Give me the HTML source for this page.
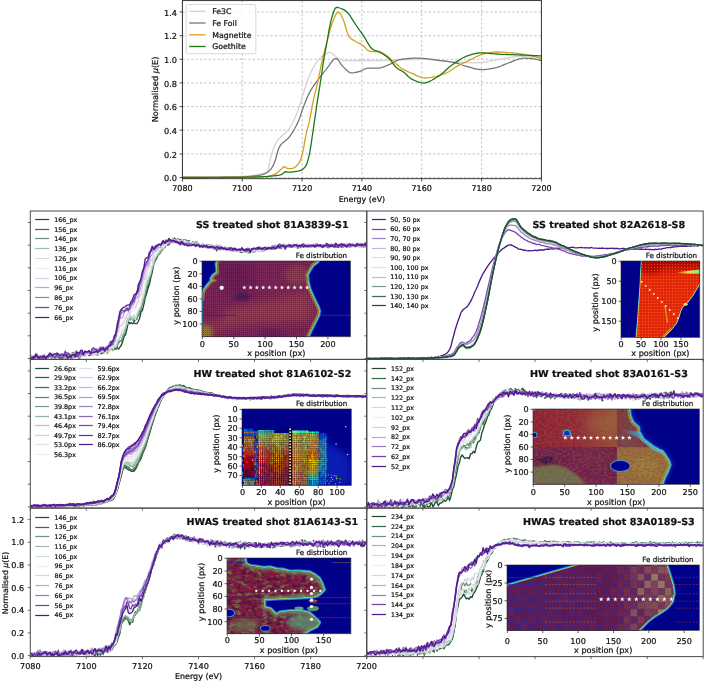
<!DOCTYPE html>
<html><head><meta charset="utf-8"><title>XANES</title>
<style>html,body{margin:0;padding:0;background:#fff;}svg{display:block;}</style></head>
<body><svg width="704" height="681" viewBox="0 0 704 681" font-family="'DejaVu Sans','Liberation Sans',sans-serif" fill="#111" text-rendering="geometricPrecision">
<style>text{stroke:#111;stroke-width:0.22px;}</style>
<rect width="704" height="681" fill="#fff"/>
<g stroke="#b0b0b0" stroke-width="0.8" stroke-dasharray="2.2,2.2" fill="none">
<line x1="182.4" y1="0.6" x2="182.4" y2="178.7"/>
<line x1="242.2" y1="0.6" x2="242.2" y2="178.7"/>
<line x1="302.1" y1="0.6" x2="302.1" y2="178.7"/>
<line x1="361.9" y1="0.6" x2="361.9" y2="178.7"/>
<line x1="421.7" y1="0.6" x2="421.7" y2="178.7"/>
<line x1="481.6" y1="0.6" x2="481.6" y2="178.7"/>
<line x1="541.4" y1="0.6" x2="541.4" y2="178.7"/>
<line x1="182.4" y1="177.5" x2="541.4" y2="177.5"/>
<line x1="182.4" y1="153.9" x2="541.4" y2="153.9"/>
<line x1="182.4" y1="130.2" x2="541.4" y2="130.2"/>
<line x1="182.4" y1="106.6" x2="541.4" y2="106.6"/>
<line x1="182.4" y1="82.9" x2="541.4" y2="82.9"/>
<line x1="182.4" y1="59.3" x2="541.4" y2="59.3"/>
<line x1="182.4" y1="35.7" x2="541.4" y2="35.7"/>
<line x1="182.4" y1="12.0" x2="541.4" y2="12.0"/>
</g>
<defs><clipPath id="ctop"><rect x="182.4" y="0.6" width="359.0" height="178.1"/></clipPath></defs>
<g fill="none" stroke-width="1.3" stroke-linejoin="round" clip-path="url(#ctop)">
<path d="M182.4 177.5l1.5 0l1.5 0l1.5 0l1.5 0l1.5 0l1.5 0l1.5 0l1.5-.1l1.5 0l1.5 0l1.5 0l1.5 0l1.4 0l1.5-.1l1.5 0l1.5 0l1.5 0l1.5 0l1.5-.1l1.5 0l1.5 0l1.5 0l1.5-.1l1.5 0l1.5 0l1.5-.1l1.5 0l1.5 0l1.5-.1l1.5 0l1.5 0l1.5-.1l1.5 0l1.5-.1l1.5 0l1.4-.1l1.5 0l1.5-.1l1.5-.1l1.5 0l1.5-.1l1.5-.1l1.5-.1l1.5-.1l1.5-.1l1.5-.2l1.5-.1l1.5-.3l1.5-.3l1.5-.3l1.5-.4l1.5-.3l1.5-.4l1.5-.3l1.5-.5l1.5-.7l1.5-1.5l1.5-6l1.5-7.3l1.5-4.8l1.4-4.1l1.5-3.7l1.5-2.9l1.5-2.2l1.5-1.7l1.5-1.4l1.5-1.2l1.5-1.2l1.5-1.3l1.5-1.6l1.5-1.9l1.5-2.3l1.5-2.5l1.5-2.7l1.5-3l1.5-3.3l1.5-4l1.5-4.5l1.5-4.7l1.5-4.7l1.5-4.7l1.5-5l1.5-4.7l1.4-4l1.5-3.6l1.5-3.4l1.5-3.1l1.5-2.8l1.5-2.4l1.5-2.1l1.5-1.9l1.5-1.7l1.5-1.5l1.5-1.3l1.5-.9l1.5-.9l1.5-.7l1.5-.5l1.5 0l1.5 .8l1.5 1.3l1.5 1.4l1.5 1.3l1.5 .8l1.5 .8l1.5 .7l1.5 .6l1.5 .4l1.4 .1l1.5 0l1.5 0l1.5 0l1.5 0l1.5 0l1.5 0l1.5 0l1.5 0l1.5 0l1.5 0l1.5 0l1.5 0l1.5-.1l1.5 0l1.5 0l1.5 0l1.5 0l1.5 0l1.5 0l1.5 0l1.5 0l1.5 0l1.4 0l1.5-.1l1.5 0l1.5 0l1.5-.1l1.5 0l1.5-.1l1.5 0l1.5-.1l1.5 0l1.5-.1l1.5 0l1.5-.1l1.5 0l1.5-.1l1.5-.1l1.5 0l1.5-.1l1.5 0l1.5-.1l1.5 0l1.5 0l1.5-.1l1.5 0l1.5 0l1.4-.1l1.5 0l1.5 0l1.5 0l1.5 0l1.5 0l1.5 .1l1.5 .1l1.5 .1l1.5 .1l1.5 .1l1.5 .2l1.5 .1l1.5 .2l1.5 .1l1.5 .2l1.5 .1l1.5 .2l1.5 .1l1.5 .2l1.5 .1l1.5 .2l1.5 .1l1.4 .1l1.5 .1l1.5 .1l1.5 .1l1.5 .1l1.5 .1l1.5 0l1.5 .1l1.5 .1l1.5 .1l1.5 .1l1.5 .1l1.5 0l1.5 .1l1.5 0l1.5 0l1.5 0l1.5 0l1.5-.1l1.5-.1l1.5-.1l1.5-.2l1.5-.3l1.5-.2l1.5-.3l1.4-.3l1.5-.3l1.5-.3l1.5-.3l1.5-.2l1.5-.3l1.5-.3l1.5-.2l1.5-.2l1.5-.3l1.5-.2l1.5-.3l1.5-.3l1.5-.3l1.5-.3l1.5-.2l1.5-.2l1.5-.2l1.5-.2l1.5-.1l1.5-.1l1.5-.1l1.5 .1l1.4 0l1.5 0l1.5 .1l1.5 0l1.5 .1l1.5 .2l1.5 .1l1.5 .1l1.5 .2l1.5 .2l1.5 .3l1.5 .2l1.5 .3" stroke="#d3d3d3"/>
<path d="M182.4 177.5l1.5 0l1.5 0l1.5 0l1.5 0l1.5 0l1.5 0l1.5 0l1.5 0l1.5 0l1.5 0l1.5 0l1.5 0l1.4-.1l1.5 0l1.5 0l1.5 0l1.5 0l1.5 0l1.5 0l1.5 0l1.5-.1l1.5 0l1.5 0l1.5 0l1.5 0l1.5 0l1.5-.1l1.5 0l1.5 0l1.5 0l1.5 0l1.5-.1l1.5 0l1.5 0l1.5 0l1.4-.1l1.5 0l1.5 0l1.5-.1l1.5 0l1.5 0l1.5-.1l1.5-.1l1.5-.1l1.5-.1l1.5-.1l1.5-.2l1.5-.2l1.5-.2l1.5-.2l1.5-.2l1.5-.3l1.5-.3l1.5-.4l1.5-.6l1.5-.8l1.5-.8l1.5-1.2l1.5-1.7l1.5-2.2l1.4-2.5l1.5-3.5l1.5-5.5l1.5-5.6l1.5-3.5l1.5-2l1.5-1.6l1.5-1.2l1.5-1.2l1.5-1.2l1.5-1.5l1.5-1.9l1.5-2.1l1.5-2.4l1.5-2.6l1.5-2.8l1.5-3.1l1.5-3.5l1.5-4.2l1.5-4.5l1.5-4.2l1.5-3.7l1.5-3.7l1.4-3.4l1.5-3.1l1.5-2.7l1.5-2.4l1.5-2.2l1.5-2.1l1.5-2l1.5-2l1.5-2.1l1.5-1.9l1.5-1.9l1.5-1.9l1.5-1.8l1.5-1.9l1.5-2.1l1.5-2.2l1.5-2.1l1.5-1.7l1.5-.9l1.5-.1l1.5 1.2l1.5 2l1.5 2.3l1.5 2l1.5 1.5l1.4 1.5l1.5 1.4l1.5 1.2l1.5 .9l1.5 .3l1.5-.1l1.5-.2l1.5-.3l1.5-.3l1.5-.4l1.5-.4l1.5-.7l1.5-.8l1.5-.7l1.5-.6l1.5-.2l1.5 0l1.5 0l1.5 0l1.5 0l1.5 0l1.5 0l1.5 0l1.4-.2l1.5-.3l1.5-.5l1.5-.5l1.5-.7l1.5-.6l1.5-.7l1.5-.6l1.5-.8l1.5-.9l1.5-.8l1.5-.8l1.5-.7l1.5-.4l1.5-.2l1.5-.3l1.5-.2l1.5-.2l1.5-.2l1.5-.1l1.5-.1l1.5-.1l1.5-.1l1.5-.1l1.5 0l1.4 0l1.5 .1l1.5 0l1.5 .1l1.5 .1l1.5 .2l1.5 .1l1.5 .2l1.5 .2l1.5 .1l1.5 .2l1.5 .2l1.5 .2l1.5 .2l1.5 .3l1.5 .2l1.5 .1l1.5 .2l1.5 .2l1.5 .2l1.5 .2l1.5 .2l1.5 .2l1.4 .3l1.5 .2l1.5 .3l1.5 .4l1.5 .4l1.5 .5l1.5 .5l1.5 .6l1.5 .5l1.5 .5l1.5 .4l1.5 .4l1.5 .4l1.5 .4l1.5 .5l1.5 .4l1.5 .3l1.5 .3l1.5 .3l1.5 .1l1.5 .1l1.5 0l1.5-.1l1.5-.2l1.5-.1l1.4-.2l1.5-.3l1.5-.2l1.5-.3l1.5-.3l1.5-.3l1.5-.5l1.5-.5l1.5-.6l1.5-.6l1.5-.7l1.5-.6l1.5-.6l1.5-.5l1.5-.6l1.5-.6l1.5-.6l1.5-.6l1.5-.6l1.5-.6l1.5-.5l1.5-.3l1.5-.3l1.4-.1l1.5 0l1.5 .1l1.5 0l1.5 .1l1.5 .1l1.5 .1l1.5 .2l1.5 .3l1.5 .3l1.5 .4l1.5 .5l1.5 .5" stroke="#777777"/>
<path d="M182.4 177.5l1.5 0l1.5 0l1.5 0l1.5 0l1.5 0l1.5 0l1.5 0l1.5 0l1.5 0l1.5 0l1.5 0l1.5 0l1.4 0l1.5 0l1.5-.1l1.5 0l1.5 0l1.5 0l1.5 0l1.5 0l1.5 0l1.5 0l1.5 0l1.5 0l1.5-.1l1.5 0l1.5 0l1.5 0l1.5 0l1.5 0l1.5 0l1.5 0l1.5-.1l1.5 0l1.5 0l1.4 0l1.5 0l1.5 0l1.5 0l1.5-.1l1.5 0l1.5 0l1.5 0l1.5 0l1.5 0l1.5-.1l1.5 0l1.5 0l1.5-.1l1.5 0l1.5 0l1.5-.1l1.5 0l1.5-.1l1.5-.1l1.5 0l1.5-.2l1.5-.3l1.5-.4l1.5-.5l1.4-.6l1.5-.6l1.5-.9l1.5-1.2l1.5-1.4l1.5-1.3l1.5-1.5l1.5-1.1l1.5 .5l1.5 1.3l1.5 .2l1.5 0l1.5 0l1.5-.3l1.5-.9l1.5-1.1l1.5-1.4l1.5-2l1.5-3l1.5-5.1l1.5-6.6l1.5-8.9l1.5-7.2l1.4-5.2l1.5-6l1.5-7.8l1.5-8.4l1.5-7.1l1.5-6.3l1.5-6.2l1.5-6.8l1.5-7.5l1.5-7.5l1.5-6.5l1.5-5.9l1.5-5.6l1.5-5.6l1.5-5.9l1.5-5.5l1.5-4.5l1.5-3.8l1.5-3.7l1.5-2.8l1.5-1.4l1.5 .6l1.5 2.3l1.5 3l1.5 3.4l1.4 4.9l1.5 5l1.5 4.1l1.5 2.2l1.5 1.3l1.5 1l1.5 .9l1.5 .9l1.5 .8l1.5 .7l1.5 .7l1.5 .8l1.5 1.1l1.5 1.5l1.5 1.6l1.5 1.5l1.5 .9l1.5 .2l1.5 0l1.5 0l1.5 0l1.5 0l1.5 0l1.4 .2l1.5 .6l1.5 .8l1.5 1l1.5 1l1.5 1l1.5 1.2l1.5 1.3l1.5 1.3l1.5 1.3l1.5 1.3l1.5 1.4l1.5 1.3l1.5 1.3l1.5 1.2l1.5 1.1l1.5 .8l1.5 .8l1.5 .7l1.5 .7l1.5 .7l1.5 .6l1.5 .6l1.5 .6l1.5 .8l1.4 .7l1.5 .7l1.5 .7l1.5 .4l1.5 .3l1.5 .1l1.5-.1l1.5-.1l1.5-.2l1.5-.2l1.5-.2l1.5-.3l1.5-.2l1.5-.3l1.5-.4l1.5-.5l1.5-.5l1.5-.6l1.5-.6l1.5-.6l1.5-.7l1.5-.8l1.5-.9l1.4-1l1.5-1l1.5-1l1.5-.9l1.5-.8l1.5-.8l1.5-.8l1.5-.8l1.5-.7l1.5-.7l1.5-.8l1.5-.7l1.5-.7l1.5-.8l1.5-.8l1.5-.7l1.5-.8l1.5-.7l1.5-.7l1.5-.6l1.5-.6l1.5-.4l1.5-.3l1.5-.3l1.5-.3l1.4-.3l1.5-.3l1.5-.2l1.5-.2l1.5-.1l1.5 0l1.5 0l1.5 0l1.5 .1l1.5 0l1.5 .1l1.5 .1l1.5 .2l1.5 .1l1.5 .1l1.5 .2l1.5 .1l1.5 .2l1.5 .1l1.5 .2l1.5 .2l1.5 .2l1.5 .2l1.4 .2l1.5 .3l1.5 .2l1.5 .3l1.5 .3l1.5 .3l1.5 .3l1.5 .3l1.5 .4l1.5 .5l1.5 .4l1.5 .5l1.5 .5" stroke="#d4a020"/>
<path d="M182.4 177.5l1.5 0l1.5 0l1.5 0l1.5 0l1.5 0l1.5 0l1.5 0l1.5 0l1.5 0l1.5 0l1.5 0l1.5 0l1.4 0l1.5 0l1.5 0l1.5 0l1.5 0l1.5 0l1.5-.1l1.5 0l1.5 0l1.5 0l1.5 0l1.5 0l1.5 0l1.5 0l1.5 0l1.5 0l1.5 0l1.5 0l1.5 0l1.5-.1l1.5 0l1.5 0l1.5 0l1.4 0l1.5 0l1.5 0l1.5 0l1.5 0l1.5-.1l1.5 0l1.5 0l1.5 0l1.5-.1l1.5 0l1.5 0l1.5-.1l1.5 0l1.5-.1l1.5 0l1.5-.1l1.5 0l1.5-.1l1.5-.1l1.5 0l1.5-.1l1.5-.1l1.5-.2l1.5-.1l1.4-.2l1.5-.2l1.5-.2l1.5-.2l1.5-.2l1.5-.4l1.5-.8l1.5-1.5l1.5-.8l1.5 .2l1.5 .3l1.5 .1l1.5-.1l1.5-.3l1.5-.2l1.5-.2l1.5-.2l1.5-.3l1.5-.5l1.5-.7l1.5-1.2l1.5-1.6l1.5-2.3l1.4-4.6l1.5-6.2l1.5-9l1.5-10.1l1.5-10.3l1.5-10.4l1.5-10.3l1.5-9.5l1.5-9.2l1.5-10l1.5-10.5l1.5-9.1l1.5-8.1l1.5-8.3l1.5-8.8l1.5-7.6l1.5-5.5l1.5-5.1l1.5-3.6l1.5-1.1l1.5 .2l1.5 .5l1.5 .5l1.5 .6l1.5 .8l1.4 1l1.5 1.1l1.5 1.5l1.5 2l1.5 2.3l1.5 2.5l1.5 2.4l1.5 2.3l1.5 2.2l1.5 2.1l1.5 2.1l1.5 2.1l1.5 2.1l1.5 2.3l1.5 2.6l1.5 2.7l1.5 2.5l1.5 2.1l1.5 1.3l1.5 .9l1.5 .6l1.5 .6l1.5 .5l1.4 .6l1.5 .8l1.5 .9l1.5 1l1.5 1.1l1.5 1.1l1.5 1.3l1.5 1.4l1.5 1.9l1.5 2.2l1.5 2l1.5 1.6l1.5 1.1l1.5 .9l1.5 .8l1.5 .8l1.5 1.1l1.5 1.3l1.5 1.4l1.5 1.5l1.5 1.3l1.5 1.1l1.5 .8l1.5 .7l1.5 .6l1.4 .7l1.5 .5l1.5 .4l1.5 .2l1.5 .1l1.5-.1l1.5-.3l1.5-.4l1.5-.6l1.5-.7l1.5-.8l1.5-.9l1.5-.9l1.5-.9l1.5-.9l1.5-1l1.5-1.1l1.5-1.2l1.5-1.4l1.5-1.4l1.5-1.4l1.5-1.3l1.5-1.3l1.4-1.1l1.5-1l1.5-1.1l1.5-1l1.5-1l1.5-1l1.5-.9l1.5-.9l1.5-.8l1.5-.7l1.5-.6l1.5-.5l1.5-.5l1.5-.5l1.5-.5l1.5-.4l1.5-.3l1.5-.3l1.5-.2l1.5-.1l1.5 0l1.5 .1l1.5 0l1.5 .1l1.5 .1l1.4 .1l1.5 .2l1.5 .1l1.5 .1l1.5 .2l1.5 .1l1.5 .1l1.5 .1l1.5 .1l1.5 0l1.5 .1l1.5 0l1.5 .1l1.5 .1l1.5 0l1.5 .1l1.5 0l1.5 .1l1.5 0l1.5 .1l1.5 0l1.5 .1l1.5 0l1.4 .1l1.5 .1l1.5 0l1.5 .1l1.5 .1l1.5 0l1.5 .1l1.5 .1l1.5 .1l1.5 0l1.5 .1l1.5 .1l1.5 .1" stroke="#1a7a1a"/>
</g>
<rect x="182.4" y="0.6" width="359.0" height="178.1" fill="none" stroke="#222" stroke-width="0.9"/>
<g stroke="#222" stroke-width="0.8">
<line x1="182.4" y1="178.7" x2="182.4" y2="181.5"/>
<line x1="242.2" y1="178.7" x2="242.2" y2="181.5"/>
<line x1="302.1" y1="178.7" x2="302.1" y2="181.5"/>
<line x1="361.9" y1="178.7" x2="361.9" y2="181.5"/>
<line x1="421.7" y1="178.7" x2="421.7" y2="181.5"/>
<line x1="481.6" y1="178.7" x2="481.6" y2="181.5"/>
<line x1="541.4" y1="178.7" x2="541.4" y2="181.5"/>
<line x1="179.6" y1="177.5" x2="182.4" y2="177.5"/>
<line x1="179.6" y1="153.9" x2="182.4" y2="153.9"/>
<line x1="179.6" y1="130.2" x2="182.4" y2="130.2"/>
<line x1="179.6" y1="106.6" x2="182.4" y2="106.6"/>
<line x1="179.6" y1="82.9" x2="182.4" y2="82.9"/>
<line x1="179.6" y1="59.3" x2="182.4" y2="59.3"/>
<line x1="179.6" y1="35.7" x2="182.4" y2="35.7"/>
<line x1="179.6" y1="12.0" x2="182.4" y2="12.0"/>
</g>
<g font-family="'DejaVu Sans','Liberation Sans',sans-serif" font-size="8.0" fill="#111">
<text x="182.4" y="190.6" text-anchor="middle">7080</text>
<text x="242.2" y="190.6" text-anchor="middle">7100</text>
<text x="302.1" y="190.6" text-anchor="middle">7120</text>
<text x="361.9" y="190.6" text-anchor="middle">7140</text>
<text x="421.7" y="190.6" text-anchor="middle">7160</text>
<text x="481.6" y="190.6" text-anchor="middle">7180</text>
<text x="541.4" y="190.6" text-anchor="middle">7200</text>
<text x="177.0" y="181.2" text-anchor="end" font-size="8.2">0.0</text>
<text x="177.0" y="157.6" text-anchor="end" font-size="8.2">0.2</text>
<text x="177.0" y="133.9" text-anchor="end" font-size="8.2">0.4</text>
<text x="177.0" y="110.3" text-anchor="end" font-size="8.2">0.6</text>
<text x="177.0" y="86.6" text-anchor="end" font-size="8.2">0.8</text>
<text x="177.0" y="63.0" text-anchor="end" font-size="8.2">1.0</text>
<text x="177.0" y="39.4" text-anchor="end" font-size="8.2">1.2</text>
<text x="177.0" y="15.7" text-anchor="end" font-size="8.2">1.4</text>
</g>
<text x="361.9" y="201.8" text-anchor="middle" font-family="'DejaVu Sans','Liberation Sans',sans-serif" font-size="7.9" fill="#111">Energy (eV)</text>
<text transform="translate(158.0 89.4) rotate(-90)" text-anchor="middle" font-family="'DejaVu Sans','Liberation Sans',sans-serif" font-size="8.2" fill="#111">Normalised <tspan font-style="italic">μ</tspan>(E)</text>
<rect x="186.2" y="4.5" width="69.6" height="49.2" rx="1.5" fill="#fff" fill-opacity="0.8" stroke="#d0d0d0" stroke-width="0.8"/>
<line x1="189.2" y1="11.3" x2="205.6" y2="11.3" stroke="#d3d3d3" stroke-width="1.3"/>
<text x="212.2" y="14.1" font-family="'DejaVu Sans','Liberation Sans',sans-serif" font-size="7.8" fill="#111">Fe3C</text>
<line x1="189.2" y1="23.0" x2="205.6" y2="23.0" stroke="#777777" stroke-width="1.3"/>
<text x="212.2" y="25.8" font-family="'DejaVu Sans','Liberation Sans',sans-serif" font-size="7.8" fill="#111">Fe Foil</text>
<line x1="189.2" y1="34.8" x2="205.6" y2="34.8" stroke="#d4a020" stroke-width="1.3"/>
<text x="212.2" y="37.6" font-family="'DejaVu Sans','Liberation Sans',sans-serif" font-size="7.8" fill="#111">Magnetite</text>
<line x1="189.2" y1="46.5" x2="205.6" y2="46.5" stroke="#1a7a1a" stroke-width="1.3"/>
<text x="212.2" y="49.3" font-family="'DejaVu Sans','Liberation Sans',sans-serif" font-size="7.8" fill="#111">Goethite</text>
<defs>
<clipPath id="cp0"><rect x="30.3" y="211.0" width="336.3" height="148.4"/></clipPath>
<clipPath id="cp1"><rect x="366.9" y="211.0" width="336.3" height="148.4"/></clipPath>
<clipPath id="cp2"><rect x="30.3" y="359.4" width="336.3" height="148.7"/></clipPath>
<clipPath id="cp3"><rect x="366.9" y="359.4" width="336.3" height="148.7"/></clipPath>
<clipPath id="cp4"><rect x="30.3" y="508.1" width="336.3" height="148.5"/></clipPath>
<clipPath id="cp5"><rect x="366.9" y="508.1" width="336.3" height="148.5"/></clipPath>
</defs>
<g fill="none" stroke-width="1.35" stroke-linejoin="round" clip-path="url(#cp0)">
<path d="M30.3 357.9l1.4-.5l1.4 .9l1.4 1l1.4-.8l1.4 .9l1.4-1.8l1.4-2l1.4 2.8l1.4 .2l1.4-1.9l1.4 .2l1.4 .3l1.4 1.6l1.4-1.5l1.4-1.2l1.4 3.1l1.4-1.4l1.4 2.2l1.4-1.1l1.4 .8l1.4-2.6l1.4 1.5l1.4-2.5l1.4 .1l1.4 .4l1.4 3.6l1.4-3.3l1.4-.9l1.4-.4l1.4 2.5l1.4-1.8l1.4 .6l1.4-.4l1.4-3.1l1.4 2.8l1.4-1.4l1.4-1.6l1.4 2.2l1.4-.9l1.5-.5l1.4-.1l1.4 1.8l1.4-2.2l1.4-2.3l1.4 4.4l1.4-4l1.4 1l1.4 .9l1.4-4.4l1.4 1.7l1.4 2.9l1.4-2.3l1.4-1l1.4 .9l1.4-1.6l1.4 .9l1.4-1.5l1.4-1.5l1.4 2.9l1.4-1.8l1.4 .6l1.4-1.5l1.4 1.3l1.4-2.1l1.4-2l1.4-3.9l1.4-5.1l1.4-1.2l1.4-6.2l1.4-7.4l1.4 2.6l1.4-1.2l1.4 1.2l1.4-.9l1.4 .7l1.4 .1l1.4-2.2l1.4-3l1.4-6.3l1.4-1.9l1.4-5.8l1.4-6.6l1.4-4.4l1.4-5.1l1.4-3.8l1.4-7l1.4-5.1l1.4-8.1l1.4-3.3l1.4-2.4l1.4-3.2l1.4-1.2l1.4-3.3l1.4-.9l1.4-2.5l1.4-.1l1.4-3.1l1.4 .8l1.4-.6l1.4-2.5l1.4-.2l1.4-1.6l1.4-2.3l1.4 2.9l1.4-.2l1.4-.8l1.4-.2l1.4 .7l1.4 .2l1.4-.8l1.4 .3l1.4 1.6l1.4-.7l1.4 .2l1.4 1.5l1.4-.8l1.4 1.5l1.4-1.2l1.4 1.2l1.5 .6l1.4 1l1.4-.1l1.4 2l1.4-.5l1.4-1.2l1.4 2.6l1.4-2.6l1.4 2.7l1.4-2.2l1.4 1.7l1.4-1.3l1.4 .8l1.4 1.8l1.4-2.5l1.4 0l1.4 1.6l1.4 .4l1.4 .1l1.4 1l1.4-1.8l1.4 1.8l1.4-.2l1.4 .9l1.4 .1l1.4 .9l1.4-2.1l1.4 1.6l1.4-.8l1.4 1.1l1.4 .9l1.4-.2l1.4 .3l1.4-.4l1.4 .4l1.4-.1l1.4 .9l1.4-.6l1.4-2.5l1.4 2.1l1.4 .1l1.4-1.5l1.4-1.2l1.4 2.5l1.4-1.4l1.4 .1l1.4 .9l1.4-2.6l1.4 .5l1.4-.3l1.4 .6l1.4-1.3l1.4 .7l1.4-.6l1.4 .8l1.4-.1l1.4-2.7l1.4 1.6l1.4-.9l1.4 .1l1.4 .2l1.4-.1l1.4-1.2l1.4 .8l1.4-.2l1.4-.2l1.4-1.1l1.4 .4l1.4 .3l1.4 .9l1.4 .7l1.4-2.2l1.4-.1l1.4 1.1l1.4-.7l1.4-.3l1.4 0l1.4-.1l1.4 1.3l1.4-1.9l1.5 2.6l1.4-2l1.4 .3l1.4-.4l1.4-.9l1.4 .3l1.4 2.5l1.4 .5l1.4-2.4l1.4 1.7l1.4-1l1.4-.8l1.4 2.4l1.4 .4l1.4-2.3l1.4 .2l1.4 .3l1.4-.3l1.4 .8l1.4 .6l1.4-1.3l1.4 .7l1.4 .7l1.4-2.1l1.4 .5l1.4-.4l1.4 1.3l1.4-.4l1.4 .3l1.4-.1l1.4-1l1.4 .9l1.4-1.1l1.4 0l1.4-1.7l1.4 3.3l1.4-2.2l1.4 .9l1.4-.1l1.4 1.4l1.4-1" stroke="#1e4d32"/>
<path d="M30.3 358.0l1.4-.3l1.4 .6l1.4-2.4l1.4 1.9l1.4 3.4l1.4-2.5l1.4 2l1.4 2l1.4-4.4l1.4-3l1.4 2l1.4 1.9l1.4-.5l1.4-3.3l1.4 1.4l1.4 .1l1.4 .1l1.4-.2l1.4-1.3l1.4 .3l1.4 .5l1.4 1.9l1.4-2.6l1.4 1.8l1.4-2.9l1.4 3.6l1.4-1.9l1.4-.3l1.4 1.9l1.4-5l1.4 .3l1.4 2.9l1.4-2.1l1.4 .5l1.4 4.6l1.4-4.7l1.4 .3l1.4-.4l1.4 1.7l1.5-1.5l1.4-.3l1.4-2.4l1.4 1.2l1.4 .3l1.4-2.6l1.4 3.1l1.4-.5l1.4 2l1.4-5.6l1.4 .7l1.4-.2l1.4 .1l1.4 .7l1.4-.5l1.4 .4l1.4-.4l1.4-.8l1.4-2.9l1.4 .9l1.4 .2l1.4-.1l1.4-1.2l1.4-5.2l1.4 .1l1.4-1.2l1.4-1.8l1.4-3.5l1.4-6.8l1.4-6.7l1.4-3l1.4-2l1.4 .8l1.4 1l1.4 3.8l1.4-2.4l1.4-.3l1.4-4.9l1.4 .1l1.4-5.4l1.4-6.2l1.4-2.4l1.4-4.7l1.4-6.1l1.4-4.6l1.4-3.3l1.4-7.2l1.4-7.9l1.4-1.6l1.4-4.4l1.4-2.1l1.4-3.7l1.4-.6l1.4-2l1.4-4.1l1.4 .3l1.4-3.6l1.4-1.9l1.4 .1l1.4-1.1l1.4-2.2l1.4 1.4l1.4-.1l1.4 .4l1.4-1.3l1.4-1.3l1.4 .5l1.4 1.9l1.4 0l1.4-.2l1.4-.6l1.4 .6l1.4-.3l1.4 .1l1.4 .9l1.4 .2l1.4 .2l1.4 .7l1.4-.1l1.4-.8l1.5 1.6l1.4 .9l1.4 2l1.4-1.7l1.4 2.4l1.4-.2l1.4-2l1.4 .4l1.4 1l1.4 1.7l1.4-1.1l1.4 .5l1.4-1l1.4-1.4l1.4 2.1l1.4 1.2l1.4 .5l1.4-.8l1.4 .3l1.4 1.1l1.4-1l1.4 1.4l1.4-1.9l1.4 .3l1.4 .2l1.4 1.8l1.4-.7l1.4 .8l1.4 .5l1.4 .2l1.4 1.1l1.4 .3l1.4-2.1l1.4 1l1.4-.3l1.4-.8l1.4 2.5l1.4-1l1.4-1l1.4-.4l1.4 .6l1.4-1.5l1.4 .5l1.4 1.2l1.4-.5l1.4-1.9l1.4 .1l1.4 2l1.4-3.3l1.4 .5l1.4-.9l1.4 1.5l1.4-.3l1.4 .6l1.4-3.6l1.4 2.3l1.4-1.8l1.4 1.9l1.4-1l1.4 1.6l1.4-1.4l1.4-1.4l1.4 2l1.4-2.3l1.4 .6l1.4 1.3l1.4-.5l1.4-.1l1.4-.4l1.4 .4l1.4 .3l1.4-.6l1.4 .7l1.4 .2l1.4-1.2l1.4-.9l1.4 2.3l1.4-1.5l1.4 .6l1.4 .3l1.5-1.7l1.4 1.3l1.4-2l1.4 2.2l1.4-1.1l1.4 .5l1.4 .5l1.4-1.3l1.4 .7l1.4-.7l1.4 .6l1.4 1l1.4-1l1.4-.2l1.4-.9l1.4 1.8l1.4-.8l1.4 1.5l1.4-2.2l1.4 1.6l1.4 .7l1.4-1.7l1.4-1.1l1.4 2.4l1.4-.4l1.4-.3l1.4 .3l1.4-1.5l1.4 1.2l1.4-.1l1.4-1.3l1.4 1.3l1.4-1.2l1.4 1.3l1.4 .2l1.4 .6l1.4-3.5l1.4 2l1.4-.5l1.4 .2l1.4-.2" stroke="#3a6a4c"/>
<path d="M30.3 354.7l1.4 4.7l1.4 .8l1.4-.9l1.4 .5l1.4-3.4l1.4-.1l1.4 2.7l1.4 .7l1.4-1.7l1.4-2.9l1.4 6.7l1.4-5.4l1.4 2.5l1.4-3.5l1.4 3.3l1.4-1.3l1.4 1.9l1.4-1l1.4-3.8l1.4 .8l1.4 1.9l1.4 .6l1.4 1.6l1.4-2.5l1.4-.7l1.4 0l1.4-.2l1.4 1.5l1.4-1.8l1.4-.2l1.4-2.2l1.4-1.1l1.4 3.1l1.4 .8l1.4-1.3l1.4 .7l1.4 .1l1.4-1.3l1.4 1.4l1.5-2.8l1.4 1l1.4-.8l1.4 .5l1.4 .7l1.4 .1l1.4-1.4l1.4 .3l1.4-1.5l1.4 .1l1.4 1.9l1.4-2.5l1.4 1.9l1.4-1.4l1.4-.8l1.4 2.5l1.4-3.8l1.4-.6l1.4-.1l1.4-.3l1.4-.9l1.4-.1l1.4-2.8l1.4-1.5l1.4-2.7l1.4 .3l1.4-4.5l1.4-4.1l1.4-4l1.4-4.2l1.4-6l1.4 1.9l1.4-2.8l1.4 1.5l1.4 .6l1.4-.7l1.4 0l1.4-3.1l1.4-4.4l1.4-3.4l1.4-4.6l1.4-2.7l1.4-8.5l1.4-5.9l1.4-4.6l1.4-3.6l1.4-1.9l1.4-9.1l1.4-3.2l1.4-1.8l1.4-5.6l1.4-.5l1.4-2.1l1.4-2.4l1.4-3.6l1.4-.1l1.4-2.3l1.4-2.8l1.4-.9l1.4 .9l1.4-.6l1.4 .3l1.4-1l1.4-1.3l1.4 .1l1.4 .3l1.4-.7l1.4 1.8l1.4-.6l1.4-.6l1.4 .2l1.4-.3l1.4 .8l1.4 .9l1.4-.4l1.4 1.7l1.4 1.1l1.4-1.7l1.4 1l1.4 .1l1.5 2.4l1.4-1l1.4 .5l1.4 .5l1.4 1.6l1.4-1.6l1.4-1l1.4 .7l1.4 1.2l1.4-.4l1.4-.5l1.4 3.5l1.4-2.3l1.4-.5l1.4 .1l1.4-.8l1.4 .7l1.4 1l1.4 .2l1.4-.2l1.4 1.4l1.4-.2l1.4-.7l1.4-.8l1.4 2.3l1.4 .1l1.4 0l1.4-.8l1.4 1.5l1.4-1.2l1.4 2.5l1.4-.6l1.4 .1l1.4-.9l1.4-.2l1.4 2.4l1.4-.6l1.4-1.3l1.4 .8l1.4 .7l1.4-2.6l1.4 .3l1.4-.2l1.4 .7l1.4-1.7l1.4 1l1.4-1.5l1.4 1.7l1.4-.2l1.4-1.2l1.4 .7l1.4-1.5l1.4 .2l1.4 .9l1.4-1.1l1.4 .2l1.4-1.4l1.4 1.2l1.4-.3l1.4-1.8l1.4-1.1l1.4 .1l1.4 1.7l1.4-.2l1.4-1.3l1.4 1.5l1.4 .8l1.4-1.1l1.4-.3l1.4 1.2l1.4 .7l1.4-.2l1.4-2l1.4 1.3l1.4-.6l1.4-.3l1.4-.4l1.4 .8l1.4-.8l1.4 1.3l1.5-.5l1.4 .6l1.4-2l1.4 1.1l1.4 .6l1.4-.3l1.4-.2l1.4-.9l1.4 2.2l1.4-.6l1.4-.6l1.4-2.8l1.4 1.5l1.4 1l1.4-.8l1.4-1.3l1.4 2.1l1.4 .2l1.4-1.6l1.4 .7l1.4-.2l1.4 1.1l1.4-2.3l1.4 .2l1.4 1l1.4-.1l1.4 2.6l1.4-2.6l1.4 .8l1.4-.6l1.4-.3l1.4 1l1.4 1.2l1.4-1.9l1.4 1l1.4-.4l1.4 .2l1.4-.2l1.4 1.8l1.4-3.4l1.4 .9" stroke="#6a977a"/>
<path d="M30.3 354.5l1.4 3.1l1.4 2.9l1.4-1.5l1.4 .5l1.4-1.2l1.4-.9l1.4 3.2l1.4-3.8l1.4 2.9l1.4-2.9l1.4 .6l1.4 .2l1.4-.4l1.4 .7l1.4 0l1.4 1.6l1.4-2.7l1.4-3l1.4-.3l1.4 1l1.4 .8l1.4 2.1l1.4-3.4l1.4 2.3l1.4-.1l1.4 .2l1.4-.7l1.4 .7l1.4-.7l1.4 1.4l1.4-1.3l1.4-4.3l1.4 3.6l1.4 .1l1.4-1.4l1.4-.4l1.4 2.7l1.4-1.6l1.4-2l1.5 .8l1.4 .1l1.4-2.5l1.4 3.4l1.4-1.5l1.4 .8l1.4-3.5l1.4 5.3l1.4-2.3l1.4-.5l1.4-2.2l1.4-.2l1.4-1.5l1.4 4.4l1.4-4l1.4 1.3l1.4 .1l1.4-2.4l1.4 1.7l1.4 .9l1.4-3.7l1.4 .4l1.4-3.5l1.4-4.1l1.4-1.8l1.4-3.9l1.4 .7l1.4-1.8l1.4-5.4l1.4-4.1l1.4-3.6l1.4-4.2l1.4 2.1l1.4 2.8l1.4-3.8l1.4 .6l1.4-2.6l1.4-2.1l1.4-4l1.4-2.9l1.4-6.9l1.4-4l1.4-5.2l1.4-4.8l1.4-1.8l1.4-6.6l1.4-4.4l1.4-5.6l1.4-2.2l1.4-7.5l1.4-1.1l1.4-.9l1.4-1.4l1.4-3.1l1.4-1.8l1.4-1l1.4-2.3l1.4-.6l1.4-2.2l1.4 .5l1.4-1.3l1.4-1.5l1.4-1.9l1.4 3.2l1.4-.5l1.4 .5l1.4-1.4l1.4 1.9l1.4-.5l1.4-.3l1.4 1.1l1.4 .1l1.4-.3l1.4 1.7l1.4-.3l1.4-.6l1.4-.1l1.4 .7l1.4 2l1.4-.9l1.5-.8l1.4 .6l1.4 .8l1.4 1.1l1.4-1.3l1.4 1.4l1.4 .8l1.4-.2l1.4-1.9l1.4 1.3l1.4-.7l1.4 1.8l1.4-1.2l1.4 1.7l1.4-.3l1.4-2.3l1.4 1.8l1.4 1.4l1.4-.2l1.4-.2l1.4-.6l1.4 1.8l1.4 1.4l1.4-1.1l1.4-.1l1.4 .2l1.4-.9l1.4 1.1l1.4-.2l1.4 2l1.4-1.7l1.4-1.1l1.4 1.4l1.4 .5l1.4 .1l1.4-1.5l1.4 2.5l1.4-.9l1.4-.7l1.4-.4l1.4 1l1.4-.9l1.4 .3l1.4-.6l1.4 .1l1.4 .7l1.4-1.3l1.4-1l1.4 1.5l1.4-.9l1.4-1l1.4 1.5l1.4-1.4l1.4 1l1.4-2.3l1.4-1.3l1.4 .1l1.4 1.9l1.4-1.1l1.4 .4l1.4-.1l1.4-1.5l1.4 2.6l1.4-2.3l1.4 1l1.4-1.5l1.4 1.2l1.4 .8l1.4-1l1.4-.4l1.4 .6l1.4-.4l1.4 .9l1.4 1.5l1.4-2.9l1.4 .2l1.4 .5l1.4 0l1.4-.9l1.4 1.4l1.5 .2l1.4-.5l1.4-1.3l1.4 2.5l1.4-2.5l1.4 1.7l1.4 .4l1.4-2.2l1.4 1.3l1.4 1.1l1.4-.9l1.4-1.3l1.4-.2l1.4 1.5l1.4-.8l1.4-.3l1.4 1.2l1.4-.9l1.4 .3l1.4 .5l1.4-.1l1.4-.5l1.4 0l1.4 .5l1.4-.1l1.4-1.5l1.4 .8l1.4-.6l1.4-.3l1.4 .5l1.4-1.6l1.4 2.9l1.4-1.5l1.4 1l1.4-2.1l1.4 .1l1.4 3.5l1.4-.9l1.4-1.6l1.4-.2l1.4 .1" stroke="#9cbfa8"/>
<path d="M30.3 356.9l1.4-.4l1.4 1.2l1.4-1.8l1.4 5.2l1.4-4.7l1.4 2.6l1.4-3.2l1.4 1.9l1.4 1l1.4-2.1l1.4 2l1.4-.1l1.4 1l1.4-2.5l1.4-.9l1.4-1l1.4 1.8l1.4-1.9l1.4 1.5l1.4 .1l1.4-1.1l1.4-.9l1.4 2.1l1.4-.2l1.4-.3l1.4-.5l1.4 1.4l1.4-3.1l1.4 2.1l1.4-1.5l1.4 1.9l1.4-2.1l1.4-.2l1.4 1.2l1.4-4.1l1.4 2.5l1.4-2.4l1.4 1.1l1.4 2.4l1.5-.6l1.4-1.5l1.4 .4l1.4-.2l1.4 .3l1.4 2.2l1.4-2.8l1.4 2.9l1.4-4.4l1.4 1.5l1.4-.3l1.4-1.1l1.4-1.1l1.4 2.4l1.4 .2l1.4-1.5l1.4 1.1l1.4-2.3l1.4-4.8l1.4 3.2l1.4-3.9l1.4 1.7l1.4-5.3l1.4-1.9l1.4-2.4l1.4-2.9l1.4-3.9l1.4-.9l1.4-3.4l1.4-2l1.4-6.1l1.4-.1l1.4-1.7l1.4 1.8l1.4-2.9l1.4 4.9l1.4-4.8l1.4-4.8l1.4-1.5l1.4-3.5l1.4-6l1.4-3.7l1.4-7.5l1.4-8.5l1.4-2.6l1.4-.9l1.4-4.7l1.4-5.3l1.4-6.6l1.4-1.1l1.4-2.6l1.4-3.6l1.4-1.7l1.4-.4l1.4-.8l1.4-1.1l1.4-2.2l1.4 .2l1.4-3.8l1.4 .7l1.4-1.7l1.4-1.8l1.4 .4l1.4 2l1.4-1.8l1.4-.1l1.4 1.9l1.4 .4l1.4-.7l1.4 1.6l1.4-2.8l1.4 3.8l1.4-1l1.4-.6l1.4 .2l1.4 0l1.4 .3l1.4 .9l1.4-.9l1.4 3.5l1.5-1.7l1.4 1l1.4-.5l1.4 .1l1.4 1.3l1.4-.1l1.4-1.1l1.4 .6l1.4 1.1l1.4-2.4l1.4 0l1.4 3.7l1.4-1.5l1.4-1.9l1.4 1.8l1.4 .8l1.4 .6l1.4 .5l1.4-.1l1.4 .5l1.4-1.1l1.4 1.3l1.4 .3l1.4 .9l1.4-.8l1.4 1l1.4-.4l1.4-1l1.4 .8l1.4 .1l1.4 .3l1.4 .4l1.4 .2l1.4 .3l1.4-1.1l1.4 1.8l1.4-2.4l1.4 1.1l1.4 .7l1.4-.4l1.4 0l1.4-1l1.4 .6l1.4-1.9l1.4 1.6l1.4 1.2l1.4-1.7l1.4 1.1l1.4-2.1l1.4-1.2l1.4 .2l1.4 1.7l1.4-.7l1.4-2.6l1.4 1.2l1.4 .1l1.4-1.2l1.4-1.6l1.4 .9l1.4 1l1.4-.4l1.4-.4l1.4 1.1l1.4 .3l1.4-1.1l1.4 .9l1.4-.8l1.4-.2l1.4-2.2l1.4 3l1.4-.7l1.4 0l1.4-.5l1.4-.6l1.4 1.4l1.4 .3l1.4 .8l1.4-.7l1.4-1.4l1.4 .4l1.5 1l1.4-.6l1.4-.4l1.4-.4l1.4 1l1.4-.4l1.4 1.5l1.4-.6l1.4-2.7l1.4 3.6l1.4-1.7l1.4-.6l1.4 .6l1.4 .4l1.4-.8l1.4 0l1.4 0l1.4 1.7l1.4-1.7l1.4 .7l1.4-.3l1.4-.8l1.4-.4l1.4-.2l1.4 1.3l1.4-1.4l1.4-.3l1.4 0l1.4-.2l1.4 1.4l1.4 0l1.4-.9l1.4 2l1.4-1.5l1.4 .7l1.4-.2l1.4 1.3l1.4-.8l1.4-.9l1.4-.9l1.4-.1" stroke="#cde0d3"/>
<path d="M30.3 357.7l1.4 1l1.4-2l1.4 1l1.4-1.3l1.4-1.9l1.4 2.8l1.4 2.3l1.4-1.1l1.4 .9l1.4-.5l1.4-4l1.4 1.6l1.4 2.7l1.4-3.5l1.4-1l1.4 2.5l1.4 .4l1.4-.6l1.4-1.1l1.4-.6l1.4-1l1.4-.1l1.4-.1l1.4-.4l1.4 1l1.4 3.4l1.4-2.4l1.4-.8l1.4 1l1.4-2.2l1.4 1.8l1.4 .8l1.4-3.9l1.4 1l1.4 .6l1.4-1.3l1.4-.4l1.4 1l1.4 4.2l1.5-3l1.4-.6l1.4 .6l1.4-2.1l1.4-1.8l1.4 2.5l1.4 .7l1.4-5.3l1.4 3.7l1.4 .9l1.4-2.6l1.4-.6l1.4 1.4l1.4-2.7l1.4 1.6l1.4 .3l1.4-2.3l1.4-1.7l1.4 1.2l1.4-2.9l1.4-1l1.4-6.8l1.4 1.8l1.4-7.4l1.4-.4l1.4-2.1l1.4-3.6l1.4-3.3l1.4-3.6l1.4-1.7l1.4-1.5l1.4-1.6l1.4-2.2l1.4-.4l1.4-1.8l1.4 .2l1.4-3.3l1.4-3.6l1.4-1.4l1.4-1.7l1.4-5.5l1.4-4.7l1.4-9.7l1.4-.6l1.4-7.6l1.4-2.9l1.4-5.6l1.4-2.8l1.4-1.9l1.4-3l1.4-2.4l1.4-1.9l1.4-.9l1.4-1.8l1.4-2.9l1.4 1.8l1.4-3.1l1.4 .1l1.4-1.9l1.4-1.1l1.4 .4l1.4-1.2l1.4 2.1l1.4-2.6l1.4 1.8l1.4-1l1.4 .6l1.4 2.9l1.4-1.6l1.4-.8l1.4-1.1l1.4 1.4l1.4 .2l1.4 1.8l1.4-2.4l1.4 0l1.4 2l1.4 .6l1.4 1.7l1.4-2.1l1.5-1.4l1.4 2.2l1.4-.3l1.4 .9l1.4 1.6l1.4-2l1.4 2.6l1.4-.8l1.4-.3l1.4-.4l1.4 .6l1.4 .2l1.4 1.3l1.4 .7l1.4-1.1l1.4 .9l1.4 .8l1.4 .1l1.4-.5l1.4 1.5l1.4-.3l1.4 .4l1.4-1.5l1.4 0l1.4-1.3l1.4 3.6l1.4-.6l1.4-1.3l1.4 1.2l1.4 .3l1.4-1.9l1.4 2.1l1.4 .8l1.4 .2l1.4-1.6l1.4 0l1.4 1.5l1.4-.4l1.4-1.6l1.4-.2l1.4 1l1.4-1.3l1.4-.2l1.4 2.1l1.4-1.6l1.4-.9l1.4 .8l1.4 1.3l1.4-2l1.4-1.1l1.4-1l1.4 3.4l1.4-4.7l1.4 3.4l1.4-2.2l1.4-.5l1.4 .1l1.4 .5l1.4 1.1l1.4-1.9l1.4 1.2l1.4 1.5l1.4-5.2l1.4 2l1.4-1.1l1.4 2.5l1.4-2.2l1.4-.2l1.4 0l1.4 1.5l1.4 1.1l1.4-1l1.4 1.9l1.4-.5l1.4-1.7l1.4 1l1.4-.8l1.4 0l1.4-2l1.4 .6l1.5 1.3l1.4-1.2l1.4 1.9l1.4-.5l1.4-1.2l1.4 2.1l1.4-.9l1.4 .9l1.4-1.3l1.4-1.5l1.4 2.3l1.4-1l1.4 1.1l1.4 .2l1.4 .1l1.4-2.6l1.4-.9l1.4 1.8l1.4 1.1l1.4-1.4l1.4 1l1.4-1.1l1.4 .5l1.4 0l1.4-.4l1.4 1.1l1.4-.2l1.4 1.3l1.4-1.3l1.4 1l1.4-1.3l1.4 .8l1.4-1.1l1.4-.3l1.4 1.7l1.4-.5l1.4 .1l1.4-1.7l1.4-.9l1.4 .8l1.4 1.1" stroke="#f0f0f0"/>
<path d="M30.3 359.7l1.4-4.8l1.4 3.4l1.4 3.3l1.4-8.7l1.4 1.7l1.4 4.1l1.4-1.9l1.4 .5l1.4-.5l1.4 2.4l1.4-1.3l1.4-1.9l1.4 .3l1.4-1.6l1.4 1.7l1.4-3.7l1.4 4.8l1.4-1.6l1.4 3.3l1.4-1.1l1.4-4.2l1.4 3.5l1.4-2.4l1.4 .8l1.4 1.5l1.4-1.3l1.4 .2l1.4-.2l1.4-2.1l1.4 0l1.4 1.8l1.4 .4l1.4-2.1l1.4 .4l1.4-1.9l1.4-2.8l1.4 2.7l1.4 1.2l1.4 0l1.5 .9l1.4-.1l1.4-.1l1.4-1.2l1.4-.2l1.4-2.1l1.4 1.5l1.4-.6l1.4 1.4l1.4-4.9l1.4 1.5l1.4-2.4l1.4 1.2l1.4-1.5l1.4 2.3l1.4-2l1.4-3.8l1.4 5.4l1.4-5l1.4-2.5l1.4 0l1.4-3.2l1.4-5.6l1.4-1.9l1.4-4.9l1.4-.2l1.4-2.4l1.4-2.4l1.4-2.9l1.4-2.7l1.4-2.7l1.4 1.7l1.4-6.6l1.4 .2l1.4-.4l1.4-.2l1.4-3l1.4-4.3l1.4-3.8l1.4-1.4l1.4-9.2l1.4-8.5l1.4 2.9l1.4-9l1.4-3l1.4-2.7l1.4-5.8l1.4 .8l1.4-5.3l1.4-3.7l1.4-.2l1.4-1.3l1.4-1.9l1.4-.6l1.4-3.1l1.4 1.3l1.4-2.8l1.4 1.2l1.4-2.6l1.4 .3l1.4 2.2l1.4-2.7l1.4 .9l1.4-.5l1.4-1.7l1.4 2.8l1.4 .2l1.4-2.2l1.4 1.5l1.4-1.2l1.4 1.4l1.4 1.4l1.4-.6l1.4-1l1.4 .5l1.4 1.2l1.4 .3l1.4 .4l1.4 .8l1.4-2.2l1.5 2.2l1.4 1.3l1.4-.5l1.4-1l1.4 .3l1.4 .9l1.4 .7l1.4-.5l1.4 1.8l1.4-.2l1.4-1.9l1.4 1.4l1.4-.7l1.4-.6l1.4 .7l1.4 .8l1.4-1.8l1.4 1.6l1.4 1.2l1.4-.9l1.4 .5l1.4 1.5l1.4-.8l1.4 .5l1.4 1.9l1.4-1.5l1.4 .3l1.4 .3l1.4 1.3l1.4-1.1l1.4-.2l1.4-.1l1.4 1.2l1.4-1.7l1.4 1.8l1.4-1l1.4-1.6l1.4 1.9l1.4-.3l1.4-1.7l1.4 1.3l1.4-.2l1.4-.7l1.4-1l1.4 3l1.4-1.5l1.4 0l1.4-.1l1.4-.4l1.4-.2l1.4-1.3l1.4 1l1.4-1.1l1.4-.5l1.4 .9l1.4-1l1.4-1.7l1.4 1.1l1.4 .8l1.4-.8l1.4 .7l1.4-1.3l1.4-.7l1.4 1.6l1.4-.7l1.4-1.3l1.4 1.6l1.4-.7l1.4 1.2l1.4-.3l1.4-.3l1.4-2.6l1.4 2.5l1.4 .1l1.4 0l1.4-.4l1.4-.8l1.4 .5l1.4-1.8l1.4 1.7l1.5-1.2l1.4 1.2l1.4-.4l1.4 2l1.4-1.3l1.4 0l1.4 .1l1.4 1.8l1.4-2.9l1.4 1.2l1.4 .1l1.4-.2l1.4-.1l1.4-.6l1.4 1.6l1.4-.3l1.4-1.2l1.4 .1l1.4 .5l1.4 .1l1.4 .3l1.4-.8l1.4-1.2l1.4 2.1l1.4-2.4l1.4 .6l1.4 1.2l1.4-1.2l1.4 2.1l1.4 .3l1.4-.5l1.4-.8l1.4-.1l1.4 .1l1.4-.6l1.4 2.1l1.4-2.5l1.4 1.8l1.4-.8l1.4-.2l1.4 .7" stroke="#dccdea"/>
<path d="M30.3 358.7l1.4-1.6l1.4-1l1.4 0l1.4 2.5l1.4-.4l1.4 .2l1.4-2.3l1.4 3.9l1.4-5.2l1.4 2.7l1.4 .4l1.4-1.9l1.4-1.1l1.4 1l1.4-1.2l1.4 1.4l1.4-1.9l1.4-.1l1.4 2.1l1.4-2.5l1.4 1.9l1.4 0l1.4 1.5l1.4-1.1l1.4-1.8l1.4 3.2l1.4-3.3l1.4 .4l1.4 0l1.4 3.7l1.4-3.5l1.4-1.3l1.4 2.1l1.4-1.6l1.4 3.8l1.4-5l1.4 1.9l1.4-2.6l1.4 4.1l1.5-4.3l1.4 1.3l1.4-1.9l1.4 2.5l1.4-.8l1.4-4.8l1.4 4.6l1.4-.5l1.4-1l1.4 .9l1.4-3.9l1.4-1.2l1.4 3.5l1.4 1.1l1.4-5l1.4-.5l1.4-.3l1.4-1.5l1.4 1.8l1.4-3.2l1.4-.6l1.4-3.2l1.4-9.7l1.4-3.6l1.4-8.4l1.4 .8l1.4-1.1l1.4-4.1l1.4-3.2l1.4 .5l1.4 1.1l1.4-3.9l1.4-3.3l1.4 1.2l1.4-1.3l1.4-5l1.4-1.3l1.4-1.3l1.4-5.4l1.4-4.4l1.4-6.8l1.4-4.4l1.4-6.1l1.4-3.4l1.4 0l1.4-6.2l1.4-3.6l1.4-2.1l1.4-3.4l1.4 .2l1.4-1.2l1.4-3.1l1.4 .8l1.4 .1l1.4-4l1.4 .8l1.4-1.2l1.4 .3l1.4-.7l1.4-.5l1.4-.9l1.4-.7l1.4 2.6l1.4-2.8l1.4 2.2l1.4 .2l1.4-1.4l1.4 1l1.4 1.7l1.4-3l1.4 2.8l1.4-.9l1.4 .3l1.4-.9l1.4 2l1.4-1.1l1.4 1.9l1.4-1.5l1.4 2l1.4-.1l1.5-2l1.4 1.7l1.4 .4l1.4-1.9l1.4 1.9l1.4 1.3l1.4-1.4l1.4 2l1.4-2.1l1.4 .1l1.4 1.9l1.4 .2l1.4-.6l1.4 .3l1.4 1.1l1.4-1.2l1.4 2.6l1.4-1.3l1.4 .2l1.4 0l1.4-.3l1.4 1.6l1.4-1.5l1.4 .9l1.4 .6l1.4 .9l1.4 0l1.4-1.4l1.4 1.4l1.4-.9l1.4-.8l1.4 0l1.4-.4l1.4 1.7l1.4 .8l1.4-2.1l1.4 .6l1.4-.9l1.4 1l1.4-1.3l1.4 .2l1.4 0l1.4 0l1.4 0l1.4 0l1.4-.2l1.4-.9l1.4 1.3l1.4-2.3l1.4 1.6l1.4-1.2l1.4 .9l1.4 0l1.4-2.4l1.4 2l1.4 .8l1.4-.8l1.4-.6l1.4-2.5l1.4 1.7l1.4-.9l1.4 1.7l1.4-1.4l1.4-.3l1.4-1.2l1.4 2.4l1.4-1.2l1.4 .2l1.4 1.3l1.4-1l1.4 .2l1.4 2l1.4-2.8l1.4 0l1.4 1l1.4 .8l1.4-2.7l1.4 1.2l1.4-.7l1.4-.4l1.5 1.8l1.4-1.3l1.4 1l1.4-.1l1.4 0l1.4-.1l1.4-1.1l1.4 .9l1.4 .3l1.4 .1l1.4-.6l1.4 1.2l1.4-.4l1.4-.4l1.4 .4l1.4-.4l1.4 .4l1.4-2.5l1.4 .7l1.4 .8l1.4 .4l1.4-2.1l1.4 1.8l1.4 .3l1.4-.4l1.4 0l1.4-1.1l1.4 1.4l1.4-2.1l1.4 2.9l1.4-1.6l1.4 1.6l1.4-2.7l1.4 2.1l1.4-.3l1.4-1l1.4-.3l1.4 2.2l1.4-.8l1.4 1l1.4-1.5" stroke="#bda5d8"/>
<path d="M30.3 357.5l1.4 .5l1.4-.5l1.4 .5l1.4-2l1.4-1.6l1.4 5.4l1.4-2.9l1.4 .4l1.4-1.5l1.4 2.2l1.4-1.3l1.4 1.3l1.4-2.8l1.4 .9l1.4 .3l1.4-.9l1.4 .9l1.4 2l1.4-3.5l1.4 .4l1.4 .6l1.4-1.9l1.4-.4l1.4 3.5l1.4-.6l1.4-3.8l1.4 0l1.4 3.3l1.4 .6l1.4-1l1.4-.4l1.4 1.5l1.4-2.7l1.4 1.9l1.4-.3l1.4-3.5l1.4 2.3l1.4-1.2l1.4-1.3l1.5-.5l1.4 1.6l1.4-.9l1.4 1.1l1.4-4.3l1.4 1.5l1.4 2.4l1.4-2l1.4-1.5l1.4 0l1.4-2.5l1.4 .3l1.4 2.7l1.4-1.2l1.4 1.3l1.4-3.1l1.4-.6l1.4-5.1l1.4 2.5l1.4 1.2l1.4-5.2l1.4-5l1.4-4.7l1.4-7.8l1.4-5l1.4-3.9l1.4-1.2l1.4 0l1.4-3.4l1.4 1.4l1.4-.9l1.4 .2l1.4-3.1l1.4-4.9l1.4 1.3l1.4-5.2l1.4-4.3l1.4-1.9l1.4-5.7l1.4-3.3l1.4-9.1l1.4-4.3l1.4-3.1l1.4-.8l1.4-4.5l1.4-5.9l1.4-3.6l1.4 .1l1.4-3.4l1.4 1l1.4-1.6l1.4-1.2l1.4-1.3l1.4 1.1l1.4-3.1l1.4-1l1.4 1.7l1.4-.4l1.4-2.1l1.4 .8l1.4 1.6l1.4-3l1.4 .8l1.4 .9l1.4-2.1l1.4 2.2l1.4 1.3l1.4-.5l1.4 1.4l1.4 0l1.4-.9l1.4 1.1l1.4 .2l1.4-1.8l1.4 1l1.4 .3l1.4 .4l1.4 .3l1.4-.7l1.4 1.6l1.5-1.7l1.4 2.9l1.4-.6l1.4 1.2l1.4-.9l1.4-.7l1.4-.7l1.4 2.1l1.4-.5l1.4 .5l1.4 .5l1.4 .6l1.4-1.1l1.4 1.9l1.4-1.6l1.4 .3l1.4 .9l1.4 .5l1.4 .5l1.4-2.9l1.4 3.3l1.4-2.6l1.4 1.1l1.4 1.1l1.4 .9l1.4-2l1.4-.5l1.4 2.7l1.4-.5l1.4-1.2l1.4 .7l1.4-1.5l1.4 2.4l1.4-1.1l1.4 1.7l1.4-3.3l1.4 2.7l1.4 1.3l1.4-2.1l1.4-.1l1.4-2.1l1.4 2l1.4-.4l1.4-.8l1.4-1.1l1.4 1.5l1.4-1.3l1.4 .4l1.4 .6l1.4-.5l1.4-.1l1.4 .8l1.4-2.2l1.4 2.3l1.4-2.6l1.4 0l1.4 .8l1.4 .4l1.4-.7l1.4-.8l1.4-.5l1.4 .3l1.4-.7l1.4 1.4l1.4-.8l1.4 1.7l1.4-2.3l1.4 .6l1.4 .5l1.4-1.5l1.4 .5l1.4 3.3l1.4-2.7l1.4 1.4l1.4-2.4l1.4-1.4l1.4 2.9l1.4-.6l1.4 .3l1.4-.5l1.5-.3l1.4-.6l1.4 2.1l1.4-2.4l1.4 2.4l1.4-1.2l1.4-.8l1.4 .4l1.4 1.5l1.4-.2l1.4-.2l1.4-.4l1.4-1.2l1.4 2.3l1.4-1.6l1.4-.2l1.4 0l1.4 .1l1.4-1l1.4 1l1.4-.4l1.4 .3l1.4-1.2l1.4 3.5l1.4-3.1l1.4 1.5l1.4 0l1.4 .6l1.4 .8l1.4-1.4l1.4 .3l1.4-1.2l1.4 1.9l1.4-2.8l1.4 1.1l1.4 .4l1.4 .4l1.4 .1l1.4 .3l1.4-.6l1.4-.5" stroke="#9a7ac6"/>
<path d="M30.3 359.1l1.4-1.8l1.4 .9l1.4-1.7l1.4-2.7l1.4 1.9l1.4 1.5l1.4 2l1.4-.4l1.4 .4l1.4-3.9l1.4 2.3l1.4-1.4l1.4 1.1l1.4-1.2l1.4-2.2l1.4 3.2l1.4-.6l1.4 .7l1.4-2.8l1.4 3l1.4 0l1.4 .3l1.4 0l1.4-3.1l1.4-3.5l1.4 5.6l1.4-3.3l1.4 1l1.4 2l1.4-1.5l1.4-.2l1.4 .6l1.4-4.4l1.4 5.9l1.4-3.8l1.4-.1l1.4 1.3l1.4-1.4l1.4-1.4l1.5 1l1.4-.7l1.4-.7l1.4 4.1l1.4-5.9l1.4-1.5l1.4 1.7l1.4-.4l1.4 3.5l1.4-2.4l1.4 .8l1.4-.8l1.4-2.9l1.4 2.4l1.4-1.7l1.4 2.2l1.4-3.6l1.4-1.5l1.4-.4l1.4-2.4l1.4-7.1l1.4 1.1l1.4-7.4l1.4-7.8l1.4-7.3l1.4-4.2l1.4 1l1.4 .9l1.4-.8l1.4-2.7l1.4 2.7l1.4-4.9l1.4-2.3l1.4-.6l1.4-3.6l1.4-3.1l1.4-4.6l1.4 .2l1.4-8.5l1.4-3.2l1.4-4.9l1.4-6.1l1.4-4l1.4-2.8l1.4-2.4l1.4-3.6l1.4-6.1l1.4-2.8l1.4 .4l1.4-1.5l1.4 .5l1.4-1.4l1.4-1.2l1.4 .6l1.4-.7l1.4-1.7l1.4-.2l1.4 .2l1.4-1.8l1.4 .5l1.4-1.2l1.4 1.1l1.4 .5l1.4-.1l1.4 .7l1.4 .8l1.4 .2l1.4-.8l1.4 .4l1.4-.3l1.4 3.1l1.4-1l1.4 .2l1.4-.3l1.4 .8l1.4 .3l1.4-1l1.4 .7l1.4 1.5l1.4-2.2l1.5 .5l1.4 1.6l1.4-1.2l1.4 1.6l1.4-1.7l1.4 1.4l1.4 .6l1.4-.3l1.4 .5l1.4-.7l1.4 .1l1.4 .3l1.4 .7l1.4 3.2l1.4-3.4l1.4 2.1l1.4-1.9l1.4-.6l1.4 1l1.4 .8l1.4 0l1.4 .1l1.4 .6l1.4 .2l1.4 .5l1.4-1.9l1.4 1.3l1.4-.8l1.4 1.2l1.4-.2l1.4 .2l1.4-.5l1.4-.4l1.4 .5l1.4 .9l1.4 0l1.4-2.4l1.4 1.8l1.4-.1l1.4-1.8l1.4 .2l1.4 .4l1.4 .8l1.4-2.8l1.4 1.7l1.4-.3l1.4 .6l1.4 1l1.4-.2l1.4-1.8l1.4-.1l1.4 .4l1.4 .7l1.4 .1l1.4-1.2l1.4 .8l1.4-2.4l1.4-.5l1.4-1.7l1.4 1.6l1.4 1.3l1.4 .1l1.4 2.4l1.4-2.8l1.4-.5l1.4-1.1l1.4 .4l1.4 0l1.4 .3l1.4-.4l1.4-.8l1.4 2.4l1.4-.6l1.4 .9l1.4-2.8l1.4 .3l1.4 .5l1.4 1.8l1.4-1.3l1.4 .4l1.5-.3l1.4 .3l1.4-.7l1.4 .9l1.4-1.2l1.4 .5l1.4 .5l1.4-.1l1.4 .3l1.4-1.2l1.4 1l1.4-.6l1.4 .7l1.4 1l1.4-2.3l1.4 1.9l1.4-1.7l1.4 .3l1.4 1.9l1.4-.7l1.4-.4l1.4 .3l1.4 .3l1.4-1.8l1.4 .9l1.4-.6l1.4 .7l1.4-.7l1.4 1l1.4-.7l1.4-.6l1.4 .5l1.4 .4l1.4 .6l1.4-1.2l1.4-.2l1.4 .5l1.4 .5l1.4-1.3l1.4-1.9l1.4 2.7" stroke="#7442ae"/>
<path d="M30.3 356.2l1.4 4.7l1.4-4.3l1.4 1.3l1.4-3.4l1.4 2.6l1.4 .8l1.4-1l1.4-.6l1.4 1.1l1.4-.9l1.4 2l1.4-1.9l1.4-1.6l1.4-2l1.4 1.9l1.4 .7l1.4-1.6l1.4 .2l1.4-1.1l1.4 .8l1.4 1.9l1.4-.7l1.4 0l1.4-.3l1.4 0l1.4 1.5l1.4 1.9l1.4-2.4l1.4 2l1.4-3.5l1.4 0l1.4 2.5l1.4-4l1.4-.4l1.4 1l1.4-2.7l1.4-.5l1.4 4.7l1.4-3.8l1.5 .7l1.4-.2l1.4-1.1l1.4 2.4l1.4-.5l1.4 .1l1.4-.4l1.4-1.4l1.4 1.8l1.4-1l1.4-3l1.4 .6l1.4-1.1l1.4 3.1l1.4-2.3l1.4-1.1l1.4-1.8l1.4-.1l1.4-4.2l1.4-1l1.4-3.3l1.4-4.2l1.4-8.6l1.4-6.1l1.4-7l1.4-2l1.4-1.5l1.4-.7l1.4-1l1.4-1l1.4-.2l1.4-.3l1.4-3.4l1.4-1.8l1.4-4.6l1.4-.9l1.4 0l1.4-9.2l1.4-2.9l1.4-3.5l1.4-6.9l1.4-3.4l1.4-9l1.4-1.3l1.4 .1l1.4-5.7l1.4-.6l1.4-5.4l1.4 3.2l1.4-.7l1.4-3.2l1.4-.5l1.4-.7l1.4 1l1.4-3.1l1.4-1.7l1.4 2.9l1.4-3.4l1.4 1.3l1.4-2.9l1.4 1.9l1.4 .8l1.4-1l1.4 .9l1.4 1.5l1.4-.9l1.4 1.6l1.4 1.6l1.4-3.3l1.4 2.5l1.4 .5l1.4-.6l1.4 2l1.4 0l1.4-.6l1.4 .3l1.4-.4l1.4-.8l1.4 1.7l1.4-.8l1.5 0l1.4 1.7l1.4-1.1l1.4 1.2l1.4-1.8l1.4 .7l1.4 .5l1.4 1.4l1.4-1.3l1.4 1l1.4-1.3l1.4 1l1.4 .8l1.4-1.5l1.4 .4l1.4 1.4l1.4-1.4l1.4 1.5l1.4 .2l1.4-.2l1.4 1l1.4-.1l1.4-.1l1.4-1.4l1.4 .2l1.4 1.8l1.4-1.7l1.4 1.7l1.4-.3l1.4-.4l1.4 .6l1.4-2.1l1.4 2.1l1.4 1.3l1.4-2.4l1.4 1.6l1.4-.2l1.4 2.5l1.4-3.9l1.4 0l1.4-.1l1.4-.3l1.4-.8l1.4 1.5l1.4-1l1.4 1.4l1.4-.5l1.4-1.5l1.4 .5l1.4 1.5l1.4-1.7l1.4 .3l1.4 .5l1.4-1.4l1.4 .6l1.4 .9l1.4-.6l1.4-3l1.4 3l1.4-1.9l1.4-.5l1.4-.2l1.4 1.7l1.4-.9l1.4-.5l1.4-.6l1.4 1.3l1.4 .5l1.4-2l1.4-.1l1.4 .7l1.4 .9l1.4-1l1.4 .3l1.4-.7l1.4 2l1.4-1.3l1.4 .2l1.4 .9l1.4-1.2l1.5 .1l1.4 .5l1.4-.8l1.4 1.7l1.4-1.3l1.4-.4l1.4 .1l1.4-.8l1.4 2.2l1.4 .3l1.4-1.7l1.4-.2l1.4-1.6l1.4 1.4l1.4 1.4l1.4-1.6l1.4 1.6l1.4 .6l1.4-3.9l1.4 2.1l1.4-.4l1.4 .2l1.4-1.2l1.4 1.4l1.4-.9l1.4 2.1l1.4 .3l1.4-2.7l1.4 0l1.4 .9l1.4 .2l1.4 0l1.4 .8l1.4-2.1l1.4 .8l1.4 .1l1.4 .1l1.4-.6l1.4 .4l1.4-.2l1.4 1.8" stroke="#4e1a8c"/>
</g>
<line x1="35.2" y1="219.5" x2="49.2" y2="219.5" stroke="#1e4d32" stroke-width="1.25"/>
<text x="54.3" y="221.7" font-size="6.3">166_px</text>
<line x1="35.2" y1="229.5" x2="49.2" y2="229.5" stroke="#3a6a4c" stroke-width="1.25"/>
<text x="54.3" y="231.5" font-size="6.3">156_px</text>
<line x1="35.2" y1="238.5" x2="49.2" y2="238.5" stroke="#6a977a" stroke-width="1.25"/>
<text x="54.3" y="241.3" font-size="6.3">146_px</text>
<line x1="35.2" y1="248.5" x2="49.2" y2="248.5" stroke="#9cbfa8" stroke-width="1.25"/>
<text x="54.3" y="251.0" font-size="6.3">136_px</text>
<line x1="35.2" y1="258.5" x2="49.2" y2="258.5" stroke="#cde0d3" stroke-width="1.25"/>
<text x="54.3" y="260.8" font-size="6.3">126_px</text>
<line x1="35.2" y1="268.5" x2="49.2" y2="268.5" stroke="#f0f0f0" stroke-width="1.25"/>
<text x="54.3" y="270.6" font-size="6.3">116_px</text>
<line x1="35.2" y1="278.5" x2="49.2" y2="278.5" stroke="#dccdea" stroke-width="1.25"/>
<text x="54.3" y="280.4" font-size="6.3">106_px</text>
<line x1="35.2" y1="287.5" x2="49.2" y2="287.5" stroke="#bda5d8" stroke-width="1.25"/>
<text x="54.3" y="290.2" font-size="6.3">96_px</text>
<line x1="35.2" y1="297.5" x2="49.2" y2="297.5" stroke="#9a7ac6" stroke-width="1.25"/>
<text x="54.3" y="299.9" font-size="6.3">86_px</text>
<line x1="35.2" y1="307.5" x2="49.2" y2="307.5" stroke="#7442ae" stroke-width="1.25"/>
<text x="54.3" y="309.7" font-size="6.3">76_px</text>
<line x1="35.2" y1="317.5" x2="49.2" y2="317.5" stroke="#4e1a8c" stroke-width="1.25"/>
<text x="54.3" y="319.5" font-size="6.3">66_px</text>
<g fill="none" stroke-width="1.35" stroke-linejoin="round" clip-path="url(#cp1)">
<path d="M366.9 358.4l1.4-.4l1.4 .6l1.4-.1l1.4-.2l1.4 0l1.4 0l1.4 .5l1.4-.4l1.4 .3l1.4 0l1.4-.4l1.4 .2l1.4-.2l1.4-.6l1.4 .5l1.4 0l1.4 .4l1.4-.1l1.4 .1l1.4-.1l1.4 .1l1.4-.1l1.4-.1l1.4 .1l1.4 .1l1.4 0l1.4-.5l1.4 .1l1.4-.2l1.4-.1l1.4 .3l1.4-.2l1.4 .4l1.4-.8l1.4 .2l1.4 .3l1.4 .2l1.4-.4l1.4 .5l1.5-.3l1.4-.4l1.4 .1l1.4 .1l1.4-.4l1.4 .4l1.4-.4l1.4 .1l1.4 0l1.4-.5l1.4 .2l1.4-.9l1.4 .3l1.4-1l1.4 .2l1.4-1.1l1.4-.5l1.4-1.1l1.4-1.6l1.4-2.1l1.4-3.5l1.4-5.8l1.4-5.2l1.4-5.3l1.4-4.4l1.4-4.4l1.4-3.7l1.4-4.2l1.4-2.3l1.4-1.4l1.4-1l1.4-1l1.4-1.4l1.4-2.3l1.4-2.2l1.4-2.8l1.4-3.2l1.4-3.6l1.4-2.6l1.4-3.2l1.4-3.8l1.4-3.1l1.4-3.1l1.4-2.7l1.4-2.2l1.4-2.3l1.4-2.2l1.4-2l1.4-2l1.4-1.7l1.4-1.7l1.4-1.8l1.4-1.5l1.4-1.5l1.4-1.9l1.4-1.3l1.4-1.3l1.4-1.1l1.4-.9l1.4-1l1.4-1l1.4-.7l1.4-.2l1.4-.2l1.4 .7l1.4 .9l1.4 .7l1.4 .6l1.4 1.3l1.4 .1l1.4 .3l1.4 .3l1.4 .7l1.4-.2l1.4 .4l1.4 .2l1.4 0l1.4-.2l1.4 0l1.4 0l1.4-.4l1.5 .3l1.4 0l1.4-.5l1.4 0l1.4-.2l1.4 .2l1.4-.5l1.4-.1l1.4-.4l1.4 .4l1.4-.5l1.4 0l1.4 .1l1.4-.3l1.4-.5l1.4 .2l1.4-.1l1.4-.4l1.4-.2l1.4-.1l1.4 .3l1.4-.3l1.4-.2l1.4 .2l1.4 0l1.4-.3l1.4-.1l1.4 .5l1.4 .2l1.4-.1l1.4-.1l1.4-.1l1.4-.1l1.4 .2l1.4 .1l1.4-.1l1.4 .2l1.4-.1l1.4 .2l1.4-.6l1.4 .4l1.4 .3l1.4 .1l1.4-.1l1.4 .3l1.4-.2l1.4 .1l1.4-.3l1.4 .3l1.4 .1l1.4 .1l1.4 0l1.4-.2l1.4 .1l1.4-.2l1.4 .3l1.4-.2l1.4 .2l1.4 0l1.4 .4l1.4-.1l1.4-.3l1.4-.1l1.4 .3l1.4-.1l1.4 .3l1.4 .1l1.4 .1l1.4-.3l1.4 .2l1.4 .1l1.4 .1l1.4-.1l1.4 .1l1.4 .2l1.4-.4l1.4 .3l1.4 .1l1.4-.3l1.5 .2l1.4 .2l1.4-.1l1.4 .3l1.4-.1l1.4 .2l1.4-.7l1.4 .5l1.4-.6l1.4 .1l1.4-.1l1.4-.3l1.4-.3l1.4-.3l1.4-.4l1.4 0l1.4-.3l1.4 .1l1.4-.5l1.4 0l1.4-.1l1.4-.2l1.4-.2l1.4-.1l1.4-.2l1.4 .1l1.4 0l1.4-.3l1.4 .3l1.4-.2l1.4-.5l1.4 .7l1.4-.4l1.4-.3l1.4 .4l1.4-.8l1.4 .9l1.4-.8l1.4 0l1.4 .1l1.4 .2" stroke="#4e1a8c"/>
<path d="M366.9 358.7l1.4-.4l1.4 .5l1.4-.2l1.4-.3l1.4 .4l1.4-.1l1.4-.2l1.4 .4l1.4-.6l1.4 .2l1.4 .4l1.4-.3l1.4 .1l1.4 0l1.4-.2l1.4 .2l1.4-.4l1.4 .4l1.4-.4l1.4 .2l1.4-.2l1.4 .3l1.4 0l1.4 .1l1.4-.4l1.4-.1l1.4-.3l1.4 .2l1.4 .2l1.4 .1l1.4-.2l1.4 .1l1.4-.3l1.4 .1l1.4 .3l1.4 0l1.4-.5l1.4 .2l1.4 .1l1.5-.3l1.4 .3l1.4-.1l1.4 0l1.4 .3l1.4-.7l1.4 .4l1.4-.2l1.4 0l1.4-.5l1.4 .1l1.4-.1l1.4 .2l1.4-.5l1.4 .1l1.4-.6l1.4-.3l1.4-.2l1.4-.9l1.4-.1l1.4-.6l1.4-.5l1.4-1.1l1.4-2.4l1.4-2.4l1.4-1.8l1.4-2.2l1.4-1.4l1.4-.6l1.4 .7l1.4 .8l1.4-.3l1.4-1.4l1.4-.5l1.4-.9l1.4-2.2l1.4-1.9l1.4-2l1.4-2.8l1.4-3.8l1.4-4.7l1.4-4.6l1.4-4.8l1.4-5.5l1.4-6l1.4-5.7l1.4-6.7l1.4-5.9l1.4-5.8l1.4-6.2l1.4-5.9l1.4-5.3l1.4-4.7l1.4-5l1.4-4.9l1.4-3.5l1.4-3.1l1.4-2.9l1.4-2.6l1.4-2.1l1.4-1.3l1.4-.9l1.4 .5l1.4 .5l1.4 .5l1.4 .6l1.4 .6l1.4 1.1l1.4 1.3l1.4 1.1l1.4 1.3l1.4 .7l1.4 1.3l1.4 .8l1.4 .4l1.4 1.1l1.4 .5l1.4 .5l1.4 .6l1.4 .5l1.4 0l1.5 1.1l1.4-.2l1.4 0l1.4 .8l1.4 .3l1.4 .2l1.4 .1l1.4 .8l1.4 .1l1.4 .4l1.4 .1l1.4 .4l1.4 .2l1.4 .5l1.4 .2l1.4 .5l1.4 .4l1.4 .3l1.4 .5l1.4 .7l1.4 .1l1.4 .9l1.4 .8l1.4 .1l1.4 .8l1.4 .1l1.4 .4l1.4 .3l1.4 .2l1.4 .4l1.4 .2l1.4-.1l1.4 1l1.4-.2l1.4 .1l1.4 .4l1.4 .2l1.4-.6l1.4 .5l1.4-.4l1.4 .3l1.4 0l1.4-.2l1.4-.2l1.4-.2l1.4-.1l1.4-.2l1.4-.2l1.4-.5l1.4-.2l1.4 .1l1.4-.4l1.4-.4l1.4-.1l1.4-.4l1.4-.1l1.4-.4l1.4-.5l1.4-.4l1.4-.1l1.4-.8l1.4 0l1.4-.9l1.4 0l1.4-.2l1.4-.2l1.4 .1l1.4-.8l1.4-.3l1.4-.6l1.4 .4l1.4-.8l1.4 .2l1.4-.4l1.4 .4l1.4-.6l1.4-.1l1.4-.4l1.4 0l1.5 .1l1.4-.5l1.4-.1l1.4-.1l1.4-.2l1.4-.1l1.4 .1l1.4 .1l1.4 0l1.4-.6l1.4 0l1.4 0l1.4 0l1.4-.1l1.4-.1l1.4 0l1.4 0l1.4-.6l1.4 .4l1.4 .1l1.4 .1l1.4-.1l1.4-.3l1.4 0l1.4 .2l1.4 0l1.4 0l1.4 .2l1.4-.4l1.4 .1l1.4-.3l1.4 .6l1.4-.1l1.4-.2l1.4 .2l1.4 .3l1.4-.1l1.4-.1l1.4 0l1.4 .1l1.4-.2" stroke="#7848b1"/>
<path d="M366.9 358.3l1.4 .1l1.4 .1l1.4 .1l1.4-.2l1.4-.1l1.4 .2l1.4-.1l1.4 .2l1.4 .2l1.4-.1l1.4-.4l1.4 .1l1.4-.3l1.4 .3l1.4-.2l1.4-.1l1.4 .1l1.4 .4l1.4-.1l1.4-.1l1.4 .2l1.4-.3l1.4-.2l1.4 .4l1.4-.6l1.4 .5l1.4 0l1.4 0l1.4 .1l1.4-.3l1.4 .1l1.4-.4l1.4 .2l1.4 0l1.4 .1l1.4 .3l1.4-.3l1.4 .1l1.4-.4l1.5 .2l1.4-.4l1.4 .2l1.4-.1l1.4 .1l1.4 0l1.4-.2l1.4-.1l1.4 .3l1.4-.4l1.4-.5l1.4 .5l1.4-.1l1.4 0l1.4 0l1.4-.8l1.4 .1l1.4-.4l1.4-.6l1.4-.6l1.4 .3l1.4-.9l1.4-.9l1.4-1.9l1.4-2.5l1.4-2.3l1.4-2.2l1.4-1.2l1.4-.7l1.4 .1l1.4 1l1.4 .5l1.4-.4l1.4-.9l1.4-.6l1.4-1l1.4-1.2l1.4-2l1.4-2.4l1.4-3.5l1.4-3.9l1.4-3.6l1.4-5.2l1.4-5.6l1.4-5.9l1.4-6l1.4-6.9l1.4-6.1l1.4-6.7l1.4-6.7l1.4-6.5l1.4-6.1l1.4-5.7l1.4-5.2l1.4-4.8l1.4-4.6l1.4-4l1.4-3.7l1.4-3l1.4-3l1.4-2.2l1.4-1.2l1.4-.8l1.4 .1l1.4 .2l1.4 .1l1.4 .1l1.4 1.1l1.4 2l1.4 1.5l1.4 2l1.4 .8l1.4 1.3l1.4 1.2l1.4 .7l1.4 1.1l1.4 .8l1.4 .9l1.4 .3l1.4 .7l1.4 .5l1.5 .6l1.4 .1l1.4 .7l1.4 .5l1.4-.1l1.4 .3l1.4 .5l1.4 .6l1.4 .1l1.4 0l1.4 .4l1.4 0l1.4 .9l1.4 0l1.4 .7l1.4 .1l1.4 .8l1.4 .4l1.4 .8l1.4 .8l1.4 .5l1.4 .6l1.4 .7l1.4 .2l1.4 .5l1.4 .7l1.4 .7l1.4 .3l1.4 .6l1.4 0l1.4 .6l1.4 .3l1.4 .5l1.4 .7l1.4 .1l1.4 .3l1.4 .1l1.4 .3l1.4 .4l1.4 .1l1.4-.2l1.4 .6l1.4 0l1.4-.2l1.4 0l1.4-.2l1.4-.4l1.4-.5l1.4 .4l1.4-.7l1.4-.3l1.4-.3l1.4-.4l1.4-.3l1.4-.7l1.4-.1l1.4-.4l1.4-.4l1.4-.4l1.4-.3l1.4-.7l1.4-.2l1.4-.5l1.4-.5l1.4-.2l1.4-.5l1.4-.4l1.4-.6l1.4-.1l1.4-.3l1.4-.5l1.4-.4l1.4 .2l1.4-1l1.4 .1l1.4-.3l1.4-.4l1.4-.1l1.4-.1l1.5-.7l1.4 .5l1.4-.3l1.4-.3l1.4 .3l1.4-.2l1.4-.1l1.4-.5l1.4 .6l1.4-.2l1.4-.2l1.4 .1l1.4 .2l1.4-.4l1.4 .1l1.4-.1l1.4-.2l1.4 0l1.4 .1l1.4 0l1.4 .3l1.4-.2l1.4-.1l1.4 .2l1.4-.1l1.4 .2l1.4-.4l1.4 0l1.4 .5l1.4-.1l1.4 .2l1.4-.2l1.4 .2l1.4 .1l1.4 .2l1.4 0l1.4 .3l1.4-.2l1.4 .3l1.4-.1l1.4 .2" stroke="#a284ca"/>
<path d="M366.9 358.5l1.4-.2l1.4 .4l1.4-.3l1.4 .1l1.4 0l1.4 0l1.4-.2l1.4 .6l1.4-.5l1.4 .4l1.4-.6l1.4 .7l1.4-.2l1.4 .1l1.4-.7l1.4 .6l1.4-.3l1.4 .1l1.4 .3l1.4-.3l1.4-.3l1.4 .2l1.4-.2l1.4 .2l1.4 0l1.4 0l1.4-.1l1.4-.4l1.4 .3l1.4 0l1.4 .2l1.4 0l1.4-.5l1.4 .6l1.4-.1l1.4-.2l1.4 .1l1.4-.6l1.4 1l1.5-.6l1.4-.1l1.4 .3l1.4-.1l1.4-.3l1.4-.3l1.4 .5l1.4 .1l1.4-.6l1.4-.2l1.4 .3l1.4 .4l1.4-.9l1.4 .3l1.4-.5l1.4 .1l1.4-.1l1.4-.2l1.4-.6l1.4-.3l1.4 .4l1.4-.6l1.4-1.3l1.4-1.2l1.4-2.1l1.4-2.7l1.4-1.7l1.4-1.1l1.4-.5l1.4 .1l1.4 1.5l1.4 .7l1.4 0l1.4-.6l1.4-.7l1.4-1.3l1.4-.9l1.4-1.7l1.4-2.7l1.4-3.2l1.4-3.9l1.4-3.9l1.4-5.1l1.4-5.5l1.4-5.8l1.4-6.2l1.4-6.8l1.4-7l1.4-7.1l1.4-6.8l1.4-6.6l1.4-6.6l1.4-6.2l1.4-5.8l1.4-4.9l1.4-5.2l1.4-4.3l1.4-4.3l1.4-3.7l1.4-2.9l1.4-2.3l1.4-1.7l1.4-1.4l1.4-.3l1.4-.6l1.4 0l1.4 0l1.4 1.4l1.4 2.1l1.4 2l1.4 2.1l1.4 1.2l1.4 1.3l1.4 1.4l1.4 .8l1.4 1l1.4 .9l1.4 .5l1.4 .7l1.4 1l1.4 .7l1.5 .9l1.4 .1l1.4 .5l1.4 .7l1.4-.1l1.4 .2l1.4 .5l1.4 .2l1.4 .3l1.4 0l1.4 .7l1.4 0l1.4 0l1.4 .7l1.4 .4l1.4 .8l1.4 .8l1.4 .4l1.4 .6l1.4 .9l1.4 .4l1.4 .5l1.4 .6l1.4 1.2l1.4 .5l1.4 .7l1.4 .1l1.4 .6l1.4 .5l1.4 .8l1.4 .6l1.4 .2l1.4 .4l1.4 .6l1.4 .2l1.4 .4l1.4 .4l1.4 .7l1.4 .5l1.4 0l1.4 .1l1.4 .3l1.4 .1l1.4 .1l1.4-.4l1.4 0l1.4-.2l1.4 0l1.4-.4l1.4-.5l1.4-.2l1.4-.3l1.4-.6l1.4-.7l1.4-.2l1.4-.7l1.4-.1l1.4-.4l1.4-.2l1.4-.6l1.4-.9l1.4-.2l1.4-.6l1.4-.5l1.4-.4l1.4-.5l1.4-.5l1.4-.5l1.4-.3l1.4-.4l1.4-.3l1.4-.2l1.4-.4l1.4-.2l1.4-.7l1.4 .2l1.4-.6l1.4-.8l1.4 .3l1.5-.1l1.4-.3l1.4-.4l1.4 .2l1.4-.2l1.4 .1l1.4 .1l1.4-.7l1.4 .6l1.4 0l1.4 0l1.4-.2l1.4 0l1.4-.1l1.4 .1l1.4 .3l1.4-.4l1.4 .2l1.4 0l1.4 .2l1.4-.2l1.4 .1l1.4-.1l1.4 .2l1.4-.2l1.4 0l1.4 .3l1.4 0l1.4 .1l1.4-.2l1.4 .7l1.4-.3l1.4 .4l1.4-.1l1.4-.2l1.4 .4l1.4 0l1.4 .3l1.4-.3l1.4 .3l1.4 .1" stroke="#c7b2de"/>
<path d="M366.9 358.7l1.4-.4l1.4 .2l1.4 .1l1.4-.2l1.4 .4l1.4-.5l1.4 .2l1.4-.1l1.4 .2l1.4-.2l1.4 .2l1.4-.3l1.4-.1l1.4 0l1.4 .1l1.4 0l1.4 .7l1.4-.8l1.4 .3l1.4-.1l1.4 .1l1.4 .2l1.4-.2l1.4-.3l1.4-.2l1.4 .5l1.4 0l1.4-.5l1.4 .5l1.4-.7l1.4 .5l1.4 .2l1.4-.5l1.4-.1l1.4 .7l1.4-.7l1.4 .4l1.4-.5l1.4 .5l1.5 .2l1.4-.5l1.4-.1l1.4-.3l1.4 0l1.4 .2l1.4 .2l1.4 0l1.4-.1l1.4 .1l1.4-.2l1.4 .4l1.4-.7l1.4 0l1.4-.7l1.4 .2l1.4 .1l1.4-.4l1.4 .2l1.4-.5l1.4 0l1.4-1.1l1.4-.4l1.4-1.3l1.4-2.6l1.4-2.6l1.4-1.6l1.4-1.1l1.4-.4l1.4 .1l1.4 1.3l1.4 .8l1.4 .3l1.4-.4l1.4-1.1l1.4-.3l1.4-1.5l1.4-1.5l1.4-2.7l1.4-3.3l1.4-3.4l1.4-3.9l1.4-4.5l1.4-5.6l1.4-6.4l1.4-6.5l1.4-6.6l1.4-7.3l1.4-6.9l1.4-7.3l1.4-6.8l1.4-6.2l1.4-6.2l1.4-5.7l1.4-5.8l1.4-4.6l1.4-4.9l1.4-4l1.4-4.3l1.4-2.9l1.4-2.7l1.4-1.6l1.4-1.6l1.4-.9l1.4 0l1.4-.3l1.4 .2l1.4 1.6l1.4 1.6l1.4 2.3l1.4 2.4l1.4 1.1l1.4 1.5l1.4 1.2l1.4 .9l1.4 1.1l1.4 .3l1.4 1.5l1.4 .4l1.4 .7l1.4 1.2l1.5 .5l1.4 .2l1.4 .6l1.4 .2l1.4 .2l1.4 .6l1.4 .3l1.4 .6l1.4-.3l1.4 .5l1.4 0l1.4 .3l1.4 .6l1.4-.1l1.4 .6l1.4 .7l1.4 1.1l1.4 .5l1.4 .6l1.4 .7l1.4 .8l1.4 .3l1.4 .7l1.4 .7l1.4 .8l1.4 .3l1.4 .8l1.4 1.1l1.4 .2l1.4 .4l1.4 .3l1.4 .7l1.4 .5l1.4 .5l1.4 .2l1.4 .7l1.4 .4l1.4 .5l1.4 .1l1.4 .6l1.4 .4l1.4-.2l1.4 .4l1.4-.2l1.4 0l1.4-.3l1.4-.2l1.4 .1l1.4-.4l1.4-.2l1.4-.9l1.4-.2l1.4-.6l1.4-.1l1.4-.1l1.4-1.1l1.4-.2l1.4-.5l1.4-.4l1.4-.5l1.4-.5l1.4-.1l1.4-1l1.4-.3l1.4-.5l1.4-.9l1.4-.3l1.4-.3l1.4-.1l1.4-.7l1.4-.4l1.4-.3l1.4-.2l1.4-.4l1.4-.3l1.4-.6l1.4-.4l1.4-.3l1.4 .1l1.5-.4l1.4-.3l1.4 .1l1.4-.1l1.4-.4l1.4 .3l1.4-.1l1.4 .2l1.4-.1l1.4 .3l1.4-.3l1.4-.2l1.4-.2l1.4 .2l1.4 0l1.4 .1l1.4 .2l1.4-.1l1.4-.2l1.4 .3l1.4-.3l1.4 .3l1.4 .2l1.4-.1l1.4 .1l1.4 0l1.4-.3l1.4 .3l1.4 0l1.4-.1l1.4 .1l1.4 .4l1.4-.2l1.4 .3l1.4 .2l1.4 .1l1.4 .5l1.4 0l1.4 0l1.4 0l1.4 .4" stroke="#e5dded"/>
<path d="M366.9 358.3l1.4-.1l1.4 .1l1.4-.1l1.4 .4l1.4 0l1.4-.2l1.4 .2l1.4 0l1.4-.5l1.4 .4l1.4 .2l1.4-.3l1.4-.4l1.4 .4l1.4-.2l1.4 .3l1.4 0l1.4 .1l1.4-.1l1.4-.5l1.4 .7l1.4-.7l1.4 .6l1.4-.2l1.4-.2l1.4 0l1.4 .1l1.4 .4l1.4-.5l1.4 .3l1.4-.8l1.4 .6l1.4-.1l1.4 .3l1.4-.2l1.4 .2l1.4-.5l1.4 .3l1.4-.3l1.5 .3l1.4 0l1.4-.5l1.4 .5l1.4 .2l1.4-.6l1.4 .3l1.4-.2l1.4-.3l1.4 .3l1.4-.5l1.4 .3l1.4-.5l1.4-.1l1.4 .3l1.4-.2l1.4 0l1.4-.4l1.4-.5l1.4 .3l1.4-.8l1.4 .1l1.4-.7l1.4-1.4l1.4-3.3l1.4-1.9l1.4-1.9l1.4-.9l1.4-1.2l1.4 .8l1.4 1.1l1.4 .6l1.4 .5l1.4-.4l1.4-.7l1.4-.3l1.4-1l1.4-1.8l1.4-2.3l1.4-3.1l1.4-3.3l1.4-3.9l1.4-4.7l1.4-6l1.4-5.9l1.4-6.1l1.4-6l1.4-8l1.4-7.5l1.4-7.1l1.4-6.6l1.4-6.6l1.4-6.8l1.4-5.6l1.4-5.7l1.4-5.1l1.4-5l1.4-4.3l1.4-4l1.4-3.3l1.4-2.9l1.4-2.1l1.4-1.4l1.4-.4l1.4-.6l1.4-.5l1.4 .3l1.4 1l1.4 2.3l1.4 2.4l1.4 2.1l1.4 1.6l1.4 1.5l1.4 1.1l1.4 .6l1.4 1.7l1.4 .7l1.4 .6l1.4 1l1.4 .9l1.4 .8l1.5 .3l1.4 .4l1.4 .4l1.4 .7l1.4 .1l1.4 .7l1.4 0l1.4 .4l1.4 .1l1.4 .1l1.4 .2l1.4 .7l1.4-.1l1.4 .8l1.4 .6l1.4 .5l1.4 1l1.4 .4l1.4 .6l1.4 .7l1.4 .6l1.4 .8l1.4 .6l1.4 1l1.4 .4l1.4 .8l1.4 .6l1.4 .5l1.4 .6l1.4 .8l1.4 .6l1.4 .2l1.4 .3l1.4 .5l1.4 .4l1.4 .5l1.4 .6l1.4 .5l1.4 .6l1.4 .4l1.4 .2l1.4 .1l1.4 .2l1.4 0l1.4 0l1.4-.2l1.4-.1l1.4-.3l1.4-.3l1.4-.2l1.4-.3l1.4-.7l1.4-.5l1.4-.3l1.4-.4l1.4-1l1.4 .1l1.4-.6l1.4-.5l1.4-.2l1.4-.7l1.4-.8l1.4-.4l1.4-.5l1.4-.6l1.4-.4l1.4-.7l1.4-.2l1.4-.3l1.4-.5l1.4-.6l1.4-.2l1.4-.5l1.4 .1l1.4-1l1.4-.5l1.4-.2l1.4 0l1.4-.1l1.5-.4l1.4 0l1.4-.4l1.4 .2l1.4-.3l1.4-.1l1.4 .6l1.4-.4l1.4 .2l1.4 .1l1.4-.1l1.4-.1l1.4-.2l1.4 .4l1.4-.4l1.4-.2l1.4 .2l1.4 .1l1.4 .1l1.4 .2l1.4-.3l1.4 0l1.4 0l1.4-.3l1.4 .3l1.4 .2l1.4-.2l1.4 .6l1.4 .1l1.4 0l1.4 .1l1.4-.1l1.4 .3l1.4-.2l1.4 .2l1.4 .3l1.4 .3l1.4 0l1.4 .1l1.4 .5l1.4-.1" stroke="#dde7e0"/>
<path d="M366.9 358.3l1.4 .2l1.4-.4l1.4 .1l1.4 .5l1.4-.2l1.4 .2l1.4-.3l1.4 .3l1.4-.4l1.4 .1l1.4-.1l1.4 .2l1.4 .3l1.4-.7l1.4 .4l1.4-.4l1.4 .2l1.4 0l1.4-.3l1.4 .3l1.4-.2l1.4 .6l1.4-.5l1.4 .2l1.4 0l1.4-.1l1.4 0l1.4-.3l1.4 .7l1.4-.4l1.4 .2l1.4-.5l1.4 .4l1.4-.3l1.4 .2l1.4-.2l1.4-.1l1.4 .3l1.4-.1l1.5 .3l1.4-.4l1.4-.2l1.4 .3l1.4-.4l1.4 .7l1.4-.1l1.4-.2l1.4-.2l1.4-.2l1.4-.1l1.4 0l1.4-.3l1.4 .2l1.4 .1l1.4-.2l1.4-.9l1.4 .8l1.4-.7l1.4-.7l1.4-.1l1.4 0l1.4-.8l1.4-1.8l1.4-2.4l1.4-1.9l1.4-2.2l1.4-.9l1.4-.9l1.4 .1l1.4 1.9l1.4 1.4l1.4-.6l1.4-.7l1.4-.3l1.4-.7l1.4-1.4l1.4-.9l1.4-2.9l1.4-2.9l1.4-3.6l1.4-3.9l1.4-5.2l1.4-5.1l1.4-6.2l1.4-6l1.4-7l1.4-7l1.4-7.7l1.4-7l1.4-6.9l1.4-6.7l1.4-6.1l1.4-6.1l1.4-5.5l1.4-4.8l1.4-4.5l1.4-4.9l1.4-3.8l1.4-3.4l1.4-1.9l1.4-2.2l1.4-1.4l1.4-.8l1.4-.8l1.4-.1l1.4 .2l1.4 1.2l1.4 2l1.4 2.6l1.4 2l1.4 1.5l1.4 1.7l1.4 .9l1.4 .7l1.4 1.3l1.4 .9l1.4 .9l1.4 .8l1.4 .4l1.4 .9l1.5 .8l1.4 .9l1.4 0l1.4 .6l1.4 .3l1.4-.2l1.4 .3l1.4 .7l1.4-.2l1.4 .3l1.4 .5l1.4 0l1.4 .8l1.4 .3l1.4 .6l1.4 .6l1.4 .3l1.4 1.1l1.4 .6l1.4 .6l1.4 .5l1.4 .7l1.4 .5l1.4 1l1.4 .7l1.4 .5l1.4 .5l1.4 .8l1.4 .4l1.4 .3l1.4 .9l1.4 .4l1.4 .2l1.4 .8l1.4 .5l1.4 .5l1.4 .2l1.4 .4l1.4 .6l1.4 .3l1.4 0l1.4 .3l1.4 .6l1.4-.2l1.4-.1l1.4-.2l1.4-.1l1.4-.1l1.4-.4l1.4-.1l1.4-.7l1.4-.3l1.4-.6l1.4-.2l1.4-.6l1.4-.3l1.4-.5l1.4-.7l1.4-.2l1.4-.7l1.4-.2l1.4-.7l1.4-.2l1.4-.8l1.4-.5l1.4-.7l1.4-.5l1.4-.3l1.4-.6l1.4-.3l1.4-.4l1.4-.4l1.4-.3l1.4-.3l1.4-.5l1.4-.2l1.4-.4l1.4-.5l1.4-.2l1.5 0l1.4 0l1.4-.3l1.4-.1l1.4-.2l1.4 .3l1.4-.1l1.4-.1l1.4 .2l1.4-.1l1.4-.3l1.4 0l1.4 .2l1.4 0l1.4 .2l1.4-.2l1.4 .1l1.4-.1l1.4 .2l1.4-.1l1.4 0l1.4-.1l1.4-.2l1.4 .3l1.4 .4l1.4-.1l1.4 .2l1.4-.1l1.4-.1l1.4 .1l1.4 .3l1.4 0l1.4 .3l1.4 .2l1.4 .2l1.4 0l1.4-.3l1.4 .7l1.4-.3l1.4 .1l1.4 .5" stroke="#accab6"/>
<path d="M366.9 358.6l1.4-.1l1.4-.1l1.4 .1l1.4-.2l1.4-.1l1.4 .2l1.4 0l1.4 .1l1.4-.1l1.4 .3l1.4-.3l1.4 0l1.4 .3l1.4-.7l1.4 .7l1.4-.1l1.4-.2l1.4 .5l1.4-.3l1.4 .2l1.4-.2l1.4-.2l1.4-.1l1.4-.2l1.4 .1l1.4-.1l1.4 .1l1.4 .2l1.4-.3l1.4 .3l1.4 0l1.4-.5l1.4 .2l1.4 .1l1.4-.1l1.4-.1l1.4 .5l1.4-.3l1.4 .2l1.5-.3l1.4 .2l1.4-.5l1.4 .2l1.4 .2l1.4-.2l1.4 .2l1.4-.3l1.4-.2l1.4 0l1.4 .4l1.4-.4l1.4-.3l1.4 0l1.4-.3l1.4 .4l1.4-.6l1.4 .1l1.4-.4l1.4-.3l1.4-.4l1.4 0l1.4-.8l1.4-1.2l1.4-2.2l1.4-2.7l1.4-1.5l1.4-.6l1.4-.7l1.4 .1l1.4 1.2l1.4 1.1l1.4-.1l1.4 .1l1.4-1.1l1.4-1.1l1.4-1.1l1.4-1.9l1.4-2.6l1.4-3.8l1.4-3.6l1.4-3.8l1.4-4.7l1.4-6.4l1.4-5.5l1.4-6.8l1.4-6.7l1.4-6.4l1.4-7.7l1.4-7l1.4-6.8l1.4-6.3l1.4-6.5l1.4-5.6l1.4-5.3l1.4-5l1.4-4.3l1.4-4.3l1.4-4.2l1.4-2.6l1.4-2.5l1.4-2l1.4-1.1l1.4-.3l1.4-.9l1.4 .2l1.4 .1l1.4 1.2l1.4 2.2l1.4 2.3l1.4 1.7l1.4 1.1l1.4 1.5l1.4 1.2l1.4 1.4l1.4 .7l1.4 1l1.4 .5l1.4 1l1.4 .6l1.4 .7l1.5 .7l1.4 .7l1.4 0l1.4 .7l1.4 .3l1.4 .2l1.4 .3l1.4 .1l1.4 .1l1.4 .4l1.4 .2l1.4 .4l1.4 .2l1.4 .9l1.4 .1l1.4 .8l1.4 .8l1.4 .4l1.4 .7l1.4 .4l1.4 .6l1.4 1.3l1.4 .2l1.4 .3l1.4 .9l1.4 .5l1.4 .8l1.4 .8l1.4 .5l1.4 .2l1.4 .5l1.4 .7l1.4 .4l1.4 .3l1.4 .8l1.4 .2l1.4 .1l1.4 .3l1.4 .7l1.4 0l1.4 .7l1.4 .2l1.4 .4l1.4-.6l1.4 .2l1.4-.6l1.4 .2l1.4-.3l1.4 .1l1.4-.9l1.4-.1l1.4-.4l1.4-.1l1.4-1l1.4-.4l1.4-.2l1.4-.5l1.4-.5l1.4-.5l1.4-.3l1.4-.8l1.4-.1l1.4-.5l1.4-.6l1.4-.1l1.4-.8l1.4-.8l1.4-.3l1.4-.2l1.4-.5l1.4 0l1.4-.7l1.4-.5l1.4-.3l1.4-.1l1.4-.7l1.4-.4l1.4 .1l1.4-.4l1.5 .2l1.4-.1l1.4-.6l1.4 0l1.4 0l1.4 .1l1.4-.1l1.4-.2l1.4-.2l1.4 .4l1.4 .2l1.4-.5l1.4 .1l1.4 0l1.4 0l1.4-.4l1.4 .4l1.4 0l1.4 .4l1.4-.3l1.4 .1l1.4-.2l1.4 0l1.4 .2l1.4-.4l1.4 .6l1.4-.1l1.4 0l1.4 .3l1.4-.2l1.4 .1l1.4 .3l1.4-.3l1.4 .4l1.4 .1l1.4 .4l1.4 .2l1.4 0l1.4 .1l1.4 .2l1.4-.1" stroke="#75a084"/>
<path d="M366.9 358.8l1.4 .1l1.4-.7l1.4 .4l1.4 0l1.4 .2l1.4-.5l1.4 .3l1.4-.2l1.4 .6l1.4-.8l1.4 .2l1.4 0l1.4-.2l1.4 .3l1.4 0l1.4-.2l1.4 .1l1.4 .1l1.4-.1l1.4 .1l1.4-.2l1.4-.1l1.4 .2l1.4-.4l1.4 .7l1.4-.3l1.4-.4l1.4 .4l1.4 .3l1.4-.7l1.4 .2l1.4 .4l1.4-.5l1.4 .4l1.4 .1l1.4-.3l1.4 0l1.4 .2l1.4-.2l1.5 .1l1.4-.3l1.4 0l1.4-.2l1.4 .3l1.4 .1l1.4 0l1.4-.3l1.4-.5l1.4 .1l1.4 .3l1.4-.4l1.4 .4l1.4-.6l1.4 .2l1.4-.4l1.4-.1l1.4 0l1.4-.4l1.4 .1l1.4-.6l1.4-.6l1.4-1.3l1.4-.9l1.4-2.2l1.4-2.2l1.4-2.3l1.4-.5l1.4-1l1.4-.2l1.4 2l1.4 .5l1.4 0l1.4 0l1.4-.5l1.4-.5l1.4-.8l1.4-2l1.4-2.5l1.4-3l1.4-3.4l1.4-3.6l1.4-5l1.4-5.2l1.4-6.4l1.4-6.6l1.4-6.6l1.4-6.8l1.4-7.6l1.4-7.7l1.4-6.9l1.4-5.9l1.4-6.5l1.4-6.2l1.4-5.7l1.4-4.6l1.4-5.1l1.4-4.4l1.4-4.5l1.4-2.9l1.4-2.5l1.4-2.2l1.4-1.8l1.4-.6l1.4-.1l1.4-.5l1.4 .3l1.4 1.2l1.4 2.3l1.4 2.4l1.4 2.1l1.4 1.5l1.4 1.1l1.4 1.1l1.4 1.3l1.4 1.2l1.4 .5l1.4 1.4l1.4 .8l1.4 .2l1.4 .7l1.5 .6l1.4 .8l1.4 .6l1.4 .3l1.4 .1l1.4 .5l1.4 .3l1.4 .3l1.4 .2l1.4-.1l1.4 .3l1.4 .6l1.4 .4l1.4 .3l1.4 .3l1.4 1l1.4 .6l1.4 1l1.4 .5l1.4 .3l1.4 .6l1.4 1.1l1.4 .6l1.4 .4l1.4 .9l1.4 .6l1.4 .5l1.4 .7l1.4 .4l1.4 .6l1.4 .8l1.4 .4l1.4 .5l1.4 .7l1.4 .4l1.4 .1l1.4 1l1.4-.1l1.4 .6l1.4 .4l1.4 .2l1.4 .3l1.4 0l1.4 .3l1.4 0l1.4-.2l1.4-.5l1.4-.1l1.4 0l1.4-.5l1.4-.3l1.4-.5l1.4-.5l1.4-.9l1.4 .3l1.4-1l1.4-.3l1.4-.3l1.4-.5l1.4-.4l1.4-.6l1.4-.7l1.4-.1l1.4-1.1l1.4-.2l1.4-.9l1.4-.3l1.4-.6l1.4-.2l1.4-.5l1.4-.2l1.4-.2l1.4-.7l1.4-.4l1.4-.6l1.4 .4l1.4-.7l1.4-.5l1.4 .2l1.5-.4l1.4-.6l1.4 0l1.4 .3l1.4-.4l1.4 0l1.4 .1l1.4 .1l1.4 0l1.4 .2l1.4 0l1.4-.3l1.4 .1l1.4-.3l1.4 .4l1.4 .4l1.4-.4l1.4-.1l1.4 0l1.4 0l1.4 .2l1.4-.4l1.4 .4l1.4-.2l1.4 .2l1.4 .3l1.4-.4l1.4 .8l1.4-.2l1.4-.2l1.4 .3l1.4-.1l1.4 .3l1.4 .2l1.4-.3l1.4 .5l1.4 .2l1.4 .3l1.4 .1l1.4-.1l1.4 .2" stroke="#3f6f51"/>
<path d="M366.9 358.5l1.4 .2l1.4-.4l1.4 .6l1.4-.3l1.4 0l1.4 .1l1.4-.2l1.4 .1l1.4 .1l1.4-.6l1.4 .2l1.4-.1l1.4 .3l1.4-.3l1.4 .1l1.4-.1l1.4-.3l1.4 .6l1.4-.1l1.4 0l1.4 .8l1.4-.5l1.4-.3l1.4-.2l1.4 .3l1.4-.4l1.4 0l1.4 .3l1.4-.4l1.4-.1l1.4 .3l1.4 .3l1.4-.6l1.4 .4l1.4 0l1.4-.1l1.4 .1l1.4-.4l1.4 .1l1.5-.1l1.4 .1l1.4 .3l1.4-.2l1.4-.2l1.4 .2l1.4-.8l1.4 .7l1.4 0l1.4-.5l1.4 .1l1.4 .1l1.4-.1l1.4-.2l1.4-.2l1.4-.1l1.4 .1l1.4-.4l1.4-.3l1.4-.3l1.4 .6l1.4-.9l1.4-.6l1.4-1.8l1.4-2.4l1.4-2.6l1.4-1.8l1.4-.9l1.4-.9l1.4-.3l1.4 2.2l1.4 .9l1.4-.4l1.4-.1l1.4 0l1.4-1.2l1.4-.6l1.4-1.7l1.4-2.7l1.4-2.9l1.4-3.3l1.4-4l1.4-4.7l1.4-5.6l1.4-6.1l1.4-6.3l1.4-6.4l1.4-7.2l1.4-7.7l1.4-7.2l1.4-6.7l1.4-7l1.4-6.1l1.4-6l1.4-5.6l1.4-5l1.4-4.8l1.4-4.5l1.4-3.9l1.4-3.6l1.4-2.3l1.4-2.5l1.4-1l1.4-.9l1.4-.8l1.4-.1l1.4 .2l1.4 1.1l1.4 2.4l1.4 2.3l1.4 2.5l1.4 1.2l1.4 1.4l1.4 1l1.4 1l1.4 1.3l1.4 .4l1.4 1.3l1.4 1.1l1.4 .8l1.4 0l1.5 .9l1.4 .6l1.4 .5l1.4 .5l1.4-.2l1.4 .6l1.4-.1l1.4 .6l1.4 .6l1.4-.3l1.4 .5l1.4 .3l1.4 0l1.4 .7l1.4 .3l1.4 .9l1.4 .9l1.4 .4l1.4 .9l1.4 .3l1.4 .7l1.4 .8l1.4 .6l1.4 .7l1.4 .8l1.4 .5l1.4 .8l1.4 .5l1.4 .9l1.4 .3l1.4 .5l1.4 .7l1.4 .4l1.4 .5l1.4 .3l1.4 .7l1.4 .3l1.4 .2l1.4 .7l1.4 .7l1.4 0l1.4 .1l1.4 .3l1.4-.2l1.4 .1l1.4-.1l1.4-.1l1.4-.2l1.4-.3l1.4-.4l1.4-.5l1.4-.4l1.4-.3l1.4-.6l1.4-.5l1.4-.1l1.4-.6l1.4-.5l1.4-.5l1.4-.4l1.4-.5l1.4-.5l1.4-.8l1.4-.5l1.4-.2l1.4-.8l1.4-.3l1.4-.9l1.4 0l1.4-.4l1.4-.5l1.4-.4l1.4-.4l1.4-.6l1.4-.2l1.4-.4l1.4-.4l1.4 .1l1.4-.8l1.5 0l1.4-.2l1.4 .2l1.4-.4l1.4 .1l1.4 .2l1.4-.6l1.4 .4l1.4 .1l1.4-.1l1.4-.1l1.4-.1l1.4 .1l1.4-.1l1.4 0l1.4 .5l1.4-.2l1.4 .1l1.4-.2l1.4-.2l1.4 .1l1.4 .4l1.4-.2l1.4-.2l1.4 .4l1.4 0l1.4 0l1.4 .4l1.4-.3l1.4 .1l1.4 .1l1.4 .4l1.4 .1l1.4 .1l1.4 0l1.4 .2l1.4 .1l1.4-.1l1.4 .2l1.4 .6l1.4 .1" stroke="#1e4d32"/>
</g>
<line x1="372.0" y1="219.5" x2="385.9" y2="219.5" stroke="#4e1a8c" stroke-width="1.25"/>
<text x="390.2" y="221.8" font-size="6.4">50, 50 px</text>
<line x1="372.0" y1="229.5" x2="385.9" y2="229.5" stroke="#7848b1" stroke-width="1.25"/>
<text x="390.2" y="231.4" font-size="6.4">60, 60 px</text>
<line x1="372.0" y1="238.5" x2="385.9" y2="238.5" stroke="#a284ca" stroke-width="1.25"/>
<text x="390.2" y="241.0" font-size="6.4">70, 70 px</text>
<line x1="372.0" y1="248.5" x2="385.9" y2="248.5" stroke="#c7b2de" stroke-width="1.25"/>
<text x="390.2" y="250.6" font-size="6.4">80, 80 px</text>
<line x1="372.0" y1="257.5" x2="385.9" y2="257.5" stroke="#e5dded" stroke-width="1.25"/>
<text x="390.2" y="260.2" font-size="6.4">90, 90 px</text>
<line x1="372.0" y1="267.5" x2="385.9" y2="267.5" stroke="#dde7e0" stroke-width="1.25"/>
<text x="390.2" y="269.8" font-size="6.4">100, 100 px</text>
<line x1="372.0" y1="277.5" x2="385.9" y2="277.5" stroke="#accab6" stroke-width="1.25"/>
<text x="390.2" y="279.4" font-size="6.4">110, 110 px</text>
<line x1="372.0" y1="286.5" x2="385.9" y2="286.5" stroke="#75a084" stroke-width="1.25"/>
<text x="390.2" y="289.0" font-size="6.4">120, 120 px</text>
<line x1="372.0" y1="296.5" x2="385.9" y2="296.5" stroke="#3f6f51" stroke-width="1.25"/>
<text x="390.2" y="298.6" font-size="6.4">130, 130 px</text>
<line x1="372.0" y1="305.5" x2="385.9" y2="305.5" stroke="#1e4d32" stroke-width="1.25"/>
<text x="390.2" y="308.2" font-size="6.4">140, 140 px</text>
<g fill="none" stroke-width="1.35" stroke-linejoin="round" clip-path="url(#cp2)">
<path d="M30.3 505.9l1.4 1.2l1.4-1l1.4-.1l1.4 1.2l1.4-.2l1.4-.2l1.4 .5l1.4 0l1.4-.3l1.4-.8l1.4 .7l1.4-.1l1.4 .1l1.4 .4l1.4-1.6l1.4 2.1l1.4-1l1.4-.7l1.4 1l1.4-1.1l1.4-.5l1.4 1.2l1.4-.7l1.4 .7l1.4-1l1.4 .2l1.4-.1l1.4-.7l1.4 .4l1.4-.5l1.4 .3l1.4 1l1.4-.9l1.4-.2l1.4 1l1.4-1.6l1.4 .6l1.4-.3l1.4 .7l1.5-.7l1.4-.2l1.4 .2l1.4-.4l1.4 1.1l1.4-2.1l1.4 1.1l1.4 .4l1.4-.9l1.4-.4l1.4-1l1.4 .5l1.4-1.1l1.4 .4l1.4-2.2l1.4 .5l1.4-1.2l1.4 1.1l1.4-1.6l1.4 .1l1.4-2.4l1.4-3.4l1.4-3.2l1.4-5.2l1.4-4.6l1.4-5.1l1.4-5.8l1.4-2.4l1.4 .5l1.4-.1l1.4 .6l1.4 2.2l1.4 .9l1.4 .3l1.4-.6l1.4-1.7l1.4-3.3l1.4-2.5l1.4-2.5l1.4-2.5l1.4-4.6l1.4-3.4l1.4-2.6l1.4-4.6l1.4-5.4l1.4-3.7l1.4-5.3l1.4-4.4l1.4-4.2l1.4-4.8l1.4-3.4l1.4-4.1l1.4-2.8l1.4-5l1.4-2.5l1.4-2.2l1.4-1.6l1.4-2.3l1.4-1.8l1.4-1.3l1.4-1l1.4 0l1.4-1.2l1.4-.1l1.4-.1l1.4-.2l1.4-.6l1.4-.1l1.4 1.4l1.4-1.1l1.4 .6l1.4 1.3l1.4 .5l1.4 .2l1.4 0l1.4 .9l1.4 .7l1.4-.3l1.4 1.5l1.4-.7l1.5-.1l1.4 .8l1.4 .1l1.4 .5l1.4 .3l1.4 .6l1.4 .7l1.4 .1l1.4 .2l1.4-.3l1.4 .2l1.4 .9l1.4 .8l1.4 .4l1.4 .1l1.4-.4l1.4 .8l1.4 .5l1.4 .7l1.4-.5l1.4 .6l1.4 .4l1.4 .2l1.4-.5l1.4 1l1.4-.6l1.4 .3l1.4 .7l1.4-.4l1.4 .5l1.4 .3l1.4-.2l1.4 .2l1.4-.6l1.4 .2l1.4-.3l1.4-.2l1.4 1.8l1.4-1.6l1.4 .9l1.4-1l1.4 .4l1.4-.5l1.4-.6l1.4 1.3l1.4-1l1.4 .1l1.4 .7l1.4-1.2l1.4 .2l1.4 .2l1.4 0l1.4-1.9l1.4 1.5l1.4 .5l1.4-.6l1.4-.4l1.4-.2l1.4-.4l1.4 .3l1.4-.9l1.4 .3l1.4 .2l1.4-.5l1.4-.3l1.4-.7l1.4 0l1.4 .3l1.4-.2l1.4-.2l1.4-.8l1.4 1.2l1.4-.5l1.4-.1l1.4 .8l1.4-.4l1.4 0l1.4 .4l1.4-.4l1.4-.1l1.5 0l1.4 .7l1.4-.1l1.4-.9l1.4 1.6l1.4-.5l1.4-.3l1.4 .4l1.4-.1l1.4 .2l1.4-.2l1.4-.2l1.4 .7l1.4-.2l1.4 .2l1.4 .2l1.4-.2l1.4 .5l1.4-.8l1.4-.4l1.4 0l1.4 .3l1.4 1l1.4-1.1l1.4 1l1.4-.2l1.4-.9l1.4 1.4l1.4-.9l1.4 .3l1.4 .2l1.4 .3l1.4-.5l1.4 .4l1.4-.7l1.4-.1l1.4 1.2l1.4-.4l1.4-.1l1.4 .4l1.4 0" stroke="#1e4d32"/>
<path d="M30.3 507.0l1.4 .8l1.4-.7l1.4-.6l1.4 1l1.4-.2l1.4-1.4l1.4 .1l1.4 1.6l1.4-.1l1.4-1l1.4 .8l1.4-.6l1.4 .1l1.4-.6l1.4 1.7l1.4-.2l1.4-.6l1.4-1.3l1.4 .6l1.4 .8l1.4-1.3l1.4-.2l1.4 .5l1.4 0l1.4-.5l1.4-.5l1.4 .6l1.4-.3l1.4 .3l1.4 .1l1.4 .3l1.4-.8l1.4 .3l1.4-.1l1.4-.8l1.4 .2l1.4-.3l1.4 1.3l1.4-1.3l1.5 .5l1.4 0l1.4-.1l1.4-1.3l1.4 .1l1.4 .7l1.4 0l1.4-.9l1.4 0l1.4-1.5l1.4 1.5l1.4-.1l1.4-1.2l1.4-.6l1.4-.4l1.4-.8l1.4-1.2l1.4 .9l1.4-.6l1.4-.2l1.4-2.6l1.4-3.6l1.4-3.8l1.4-5.7l1.4-4l1.4-6.1l1.4-4.5l1.4-1.6l1.4 .1l1.4 1.3l1.4 1l1.4-.1l1.4 .9l1.4-.1l1.4 .3l1.4-1.9l1.4-2.1l1.4-3.8l1.4-2.4l1.4-2.6l1.4-4.2l1.4-3.6l1.4-2.5l1.4-6l1.4-4.4l1.4-4.5l1.4-4.5l1.4-5.8l1.4-4.4l1.4-4.3l1.4-2.7l1.4-3.7l1.4-4.1l1.4-2.1l1.4-3l1.4-1.7l1.4-3.7l1.4-1.4l1.4-1.4l1.4-1.3l1.4-.8l1.4-.7l1.4-1.1l1.4 .1l1.4-1.3l1.4 .7l1.4 .2l1.4-.8l1.4 1l1.4 0l1.4 .9l1.4 1.3l1.4-.8l1.4 1.3l1.4-.8l1.4 1.6l1.4 .5l1.4-.7l1.4 .3l1.4 .5l1.5 1l1.4-.6l1.4 1.4l1.4-.1l1.4 .5l1.4 .1l1.4-.2l1.4 1l1.4-.3l1.4 .3l1.4 1.4l1.4 .1l1.4-.1l1.4 .5l1.4-.1l1.4 1.3l1.4-.8l1.4 .3l1.4 .7l1.4 .9l1.4-.4l1.4 .5l1.4-.2l1.4 .5l1.4-.2l1.4 .7l1.4-.7l1.4 1.8l1.4-.5l1.4-.7l1.4 .9l1.4-1l1.4 .9l1.4-.7l1.4 .5l1.4-.3l1.4-.3l1.4 .1l1.4 0l1.4-1.2l1.4 1l1.4 .3l1.4-.9l1.4 0l1.4-.3l1.4-.3l1.4 1.2l1.4-1l1.4-.1l1.4 .4l1.4-.2l1.4 1.4l1.4-1.2l1.4-1.2l1.4 1.5l1.4-.8l1.4-.5l1.4-.3l1.4-.7l1.4 1.3l1.4-1l1.4-.5l1.4 .8l1.4-.8l1.4-1l1.4 .1l1.4 .2l1.4 1.4l1.4-1.2l1.4-.3l1.4 .3l1.4-.1l1.4-1.4l1.4 1.5l1.4 .4l1.4-.5l1.4 .3l1.4 0l1.4 0l1.4-.3l1.5 .3l1.4 .7l1.4-.4l1.4-.2l1.4 .5l1.4-.6l1.4 .2l1.4 .9l1.4-.6l1.4-.7l1.4 .2l1.4 .8l1.4-.4l1.4 .7l1.4 .4l1.4-.9l1.4 .2l1.4-.1l1.4 .3l1.4-.2l1.4 .4l1.4-.4l1.4-.1l1.4 .4l1.4-.4l1.4 1.2l1.4-.4l1.4-1l1.4-.1l1.4 .7l1.4 .2l1.4 .5l1.4-.7l1.4-.2l1.4 1l1.4-.9l1.4 .1l1.4 0l1.4 .7l1.4-.7l1.4 .9" stroke="#2e5d40"/>
<path d="M30.3 506.7l1.4 .7l1.4-1.4l1.4 .1l1.4 1l1.4-1.6l1.4 1.8l1.4-.8l1.4-.5l1.4 1.9l1.4-1.9l1.4 .6l1.4-.1l1.4 .6l1.4-.8l1.4 .7l1.4-.1l1.4-.3l1.4 .4l1.4-1.7l1.4 1.6l1.4-.3l1.4-.3l1.4-.3l1.4-.5l1.4 0l1.4 .5l1.4 0l1.4-.3l1.4-.5l1.4 0l1.4 .7l1.4 .8l1.4-2.5l1.4 .6l1.4 .3l1.4-.1l1.4 .4l1.4 .2l1.4-.5l1.5-.2l1.4 .1l1.4 .4l1.4-.8l1.4-.7l1.4 .4l1.4-.5l1.4 1l1.4-1.3l1.4-.3l1.4 .3l1.4 0l1.4-1.6l1.4 .3l1.4-1.1l1.4 .1l1.4-1.1l1.4 0l1.4 0l1.4-1.8l1.4-1.4l1.4-3.8l1.4-3.9l1.4-5l1.4-5.5l1.4-5.7l1.4-4.9l1.4-2.6l1.4 .5l1.4 .5l1.4 .7l1.4 1.2l1.4 1.3l1.4 .4l1.4-2.2l1.4-.6l1.4-2.3l1.4-2.5l1.4-2.9l1.4-3.3l1.4-2.6l1.4-3.1l1.4-5.2l1.4-3.3l1.4-5.7l1.4-4.6l1.4-5.1l1.4-4.7l1.4-3.7l1.4-3.8l1.4-3.6l1.4-3.7l1.4-3.6l1.4-2.1l1.4-3.6l1.4-2.1l1.4-2.2l1.4-1.4l1.4-1.8l1.4-.9l1.4-1.1l1.4-.1l1.4-1.5l1.4-1.2l1.4 .3l1.4-.2l1.4 .7l1.4-.9l1.4 1.2l1.4-.3l1.4 .7l1.4 1l1.4-.5l1.4 .9l1.4 .3l1.4 .2l1.4 .6l1.4 .5l1.4-.1l1.4 .8l1.5 .1l1.4 .7l1.4 .7l1.4-.1l1.4 .3l1.4 .1l1.4-.2l1.4 1.6l1.4-.6l1.4 1.4l1.4-.3l1.4 .1l1.4 1.1l1.4 .2l1.4-.6l1.4 .4l1.4 .4l1.4 .6l1.4-1l1.4 1.3l1.4 .6l1.4-.9l1.4 .7l1.4 .7l1.4-.5l1.4 .6l1.4-.1l1.4 .3l1.4 .7l1.4-.9l1.4 .3l1.4 .6l1.4-.2l1.4-.8l1.4 .6l1.4-.2l1.4-.4l1.4 .2l1.4 .7l1.4-1l1.4-.2l1.4 0l1.4-.4l1.4 .5l1.4-.3l1.4-.4l1.4 .8l1.4-1l1.4-.1l1.4 .4l1.4-.6l1.4 .4l1.4 .6l1.4-1l1.4 .2l1.4-.2l1.4-.1l1.4-.7l1.4 .2l1.4 .4l1.4-.8l1.4-.3l1.4 .5l1.4-.3l1.4-.2l1.4 0l1.4-.6l1.4-.4l1.4-.4l1.4 .2l1.4 .1l1.4 0l1.4-.1l1.4 .8l1.4-.5l1.4 .3l1.4 .2l1.4 .2l1.4 .1l1.4 0l1.5 .5l1.4-.7l1.4 .3l1.4 0l1.4 0l1.4-.1l1.4 .6l1.4-.1l1.4 .7l1.4 .3l1.4-.1l1.4-1.5l1.4 1.5l1.4-1l1.4-.4l1.4 .9l1.4-.9l1.4-.1l1.4 .4l1.4-.6l1.4 .8l1.4 .7l1.4-.6l1.4 .5l1.4 .4l1.4 0l1.4-1.6l1.4 1.3l1.4-.2l1.4 .3l1.4-.4l1.4 .2l1.4 .1l1.4 .4l1.4 .1l1.4-.3l1.4-.5l1.4-.8l1.4 .5l1.4-.3l1.4 .6" stroke="#3f6f51"/>
<path d="M30.3 507.5l1.4-.8l1.4 1.2l1.4-1l1.4-1.2l1.4 .8l1.4-.5l1.4 .8l1.4 .6l1.4-.6l1.4 0l1.4-1l1.4-.5l1.4 1.5l1.4-.2l1.4-.2l1.4 .1l1.4 .5l1.4-.8l1.4-.2l1.4-.1l1.4 .8l1.4-.6l1.4 .8l1.4-1.5l1.4 1l1.4-.5l1.4 .1l1.4 0l1.4 .2l1.4 .4l1.4-2.1l1.4 .8l1.4-.1l1.4-1.1l1.4 1.2l1.4-.5l1.4 .2l1.4-.7l1.4 .2l1.5 0l1.4 .2l1.4-.4l1.4-.6l1.4 1.6l1.4-1.3l1.4 0l1.4-.3l1.4 .7l1.4-1.8l1.4 .6l1.4-.7l1.4-.2l1.4 .3l1.4-1.1l1.4 .4l1.4-1l1.4-.9l1.4-.9l1.4-1l1.4-1.4l1.4-4.6l1.4-3.5l1.4-3.9l1.4-5.2l1.4-5.5l1.4-5.2l1.4-2.1l1.4 .3l1.4-.8l1.4 1.7l1.4 1.1l1.4 .9l1.4 .3l1.4-1.8l1.4-1.5l1.4-3l1.4-.2l1.4-4.8l1.4-3.7l1.4-4l1.4-2.6l1.4-2.9l1.4-5.7l1.4-4l1.4-4l1.4-5.1l1.4-5.3l1.4-4.4l1.4-3.8l1.4-3.1l1.4-5l1.4-1.5l1.4-3.4l1.4-2l1.4-3.4l1.4-1.4l1.4-1.9l1.4-1.2l1.4-1.2l1.4-1.1l1.4 .3l1.4-1.9l1.4-.5l1.4 .3l1.4-.3l1.4-.1l1.4-.4l1.4 .9l1.4 .5l1.4 .7l1.4 .9l1.4 0l1.4 .1l1.4 .5l1.4 .2l1.4 0l1.4 .5l1.4 .4l1.4 .2l1.5 .5l1.4 .4l1.4 .1l1.4 1.3l1.4-1l1.4 1.5l1.4-.7l1.4 .7l1.4-.3l1.4 .8l1.4 .8l1.4-.6l1.4 .7l1.4 .3l1.4 .4l1.4-.1l1.4 .4l1.4 .5l1.4 1.1l1.4-.2l1.4 0l1.4-.5l1.4 .9l1.4 .4l1.4-.4l1.4 .8l1.4 .1l1.4 0l1.4 .8l1.4-1.1l1.4 .3l1.4 .3l1.4 .3l1.4-.6l1.4-.6l1.4 .9l1.4 .2l1.4-.7l1.4 .8l1.4 .3l1.4-.9l1.4 0l1.4-.2l1.4 .1l1.4-.5l1.4 .2l1.4 .1l1.4-.2l1.4-.5l1.4-.3l1.4 0l1.4 0l1.4 1.7l1.4-1.2l1.4-.4l1.4-.4l1.4 .6l1.4-1.5l1.4 .3l1.4 .2l1.4-.5l1.4 0l1.4 0l1.4-.7l1.4 .3l1.4 .3l1.4-.5l1.4-.3l1.4 .3l1.4-1.1l1.4 1.1l1.4-1.3l1.4 .4l1.4 .8l1.4-.4l1.4-.4l1.4 .6l1.4 .6l1.4-.6l1.4-.8l1.5 1.7l1.4-.9l1.4 .4l1.4 .1l1.4 .2l1.4 0l1.4-.5l1.4 .2l1.4 .8l1.4-1.1l1.4 1.3l1.4-.9l1.4 .3l1.4-.5l1.4 .5l1.4-.3l1.4 .5l1.4-.4l1.4 .3l1.4-.8l1.4 1.3l1.4-.8l1.4 .3l1.4 .2l1.4 .3l1.4-.4l1.4 .9l1.4-.1l1.4-.9l1.4 1.1l1.4-1.4l1.4 .8l1.4-.2l1.4 .1l1.4-.2l1.4 .4l1.4 0l1.4-.1l1.4-.5l1.4 0l1.4-.1" stroke="#5a886b"/>
<path d="M30.3 506.7l1.4 .9l1.4-1.4l1.4-.1l1.4 .7l1.4-.7l1.4-.3l1.4 .7l1.4-.6l1.4 .4l1.4 1.1l1.4-.7l1.4-.1l1.4-.6l1.4 .8l1.4-.3l1.4 .3l1.4-.6l1.4-.1l1.4-.6l1.4 .1l1.4 .3l1.4-.1l1.4 0l1.4-.1l1.4-.8l1.4 2.2l1.4-1.4l1.4-.3l1.4-.5l1.4 1.2l1.4-.9l1.4-.3l1.4 .6l1.4 .8l1.4-1l1.4 .4l1.4-1.1l1.4 .7l1.4-1.6l1.5 .8l1.4 .4l1.4-.3l1.4 .2l1.4-1l1.4-.8l1.4 .8l1.4-.9l1.4 .8l1.4-1l1.4-1.4l1.4 1.7l1.4-1.8l1.4-.4l1.4 1.4l1.4-.7l1.4-.8l1.4-1.7l1.4 0l1.4-1.2l1.4-2.2l1.4-3.1l1.4-4.7l1.4-4.9l1.4-6l1.4-4.9l1.4-6.6l1.4-1.5l1.4 0l1.4-.5l1.4 .5l1.4 2.1l1.4-.5l1.4 1.2l1.4-1.2l1.4-2.7l1.4-1.3l1.4-3l1.4-2.1l1.4-4.2l1.4-2.1l1.4-2.8l1.4-3.7l1.4-4.3l1.4-5l1.4-4.4l1.4-4.9l1.4-3.7l1.4-4.2l1.4-4.2l1.4-3.5l1.4-3.5l1.4-3.3l1.4-2.9l1.4-1.9l1.4-1.5l1.4-2.2l1.4-2.1l1.4-.2l1.4-2.2l1.4-1.3l1.4-.2l1.4-.3l1.4-1.8l1.4-.2l1.4 .7l1.4-.7l1.4 .2l1.4 1.4l1.4-1.3l1.4 2l1.4 .1l1.4 .9l1.4-.2l1.4 1l1.4-.2l1.4-.2l1.4 .7l1.4 .5l1.4-.5l1.5 1.5l1.4-.6l1.4 .9l1.4 .1l1.4 .4l1.4 .2l1.4 .4l1.4 .6l1.4 .2l1.4-.2l1.4 .6l1.4 .7l1.4 .1l1.4 .3l1.4 .1l1.4 .2l1.4 .3l1.4 .7l1.4-.1l1.4 1l1.4 .9l1.4-1l1.4 .9l1.4-.1l1.4 .3l1.4-.7l1.4 1l1.4-.6l1.4 .4l1.4 .4l1.4 .1l1.4-.9l1.4 0l1.4-.2l1.4-.5l1.4 .7l1.4 0l1.4 .1l1.4-.2l1.4 .2l1.4 .2l1.4-1.4l1.4 1.7l1.4-1l1.4-.2l1.4 .1l1.4 .4l1.4-.4l1.4 .1l1.4 .2l1.4-.5l1.4 0l1.4 0l1.4-.7l1.4 .7l1.4-.9l1.4 .3l1.4-.6l1.4-.1l1.4-.2l1.4 .3l1.4-.2l1.4-.2l1.4-.6l1.4-.4l1.4-.3l1.4 .6l1.4-.4l1.4 .7l1.4 .3l1.4-.7l1.4-.1l1.4 .5l1.4 .1l1.4-1l1.4 .6l1.4 .5l1.4-1.8l1.4 1.1l1.4 .2l1.5-.3l1.4 .7l1.4-1l1.4 1.5l1.4-.1l1.4-.4l1.4 .3l1.4-.9l1.4 1.4l1.4-.4l1.4-.4l1.4-.1l1.4-.1l1.4 .3l1.4-.8l1.4 1.2l1.4-.3l1.4-.2l1.4 .5l1.4 0l1.4 .1l1.4 .1l1.4 .3l1.4-.3l1.4 .5l1.4-.8l1.4 .9l1.4-1.7l1.4 .2l1.4 .3l1.4 .6l1.4 .2l1.4-.8l1.4 .5l1.4-.2l1.4 .6l1.4-.8l1.4 .9l1.4-.4l1.4 .8l1.4-.5" stroke="#75a084"/>
<path d="M30.3 506.9l1.4 0l1.4-.7l1.4 .4l1.4-.7l1.4 2l1.4-1.7l1.4 0l1.4 1.2l1.4-.2l1.4-1.3l1.4 1.1l1.4-.3l1.4-.7l1.4 .5l1.4-.5l1.4 .7l1.4-.7l1.4-.5l1.4 .4l1.4 1.4l1.4-1.7l1.4 .3l1.4 .5l1.4-1.4l1.4 1.7l1.4-2l1.4 1.3l1.4-1.3l1.4 .9l1.4 .6l1.4-.8l1.4-.2l1.4-.2l1.4-.4l1.4 1l1.4-.8l1.4-.3l1.4 .5l1.4 .3l1.5-.2l1.4-1l1.4-.2l1.4 .8l1.4 .1l1.4-1.7l1.4 1.4l1.4-1.2l1.4 .3l1.4 .3l1.4-1.4l1.4-.2l1.4-1.2l1.4-.9l1.4 1l1.4-1.2l1.4-.5l1.4 .2l1.4-.6l1.4-2.5l1.4-.6l1.4-3.8l1.4-4.6l1.4-5.4l1.4-5.2l1.4-7l1.4-5.6l1.4-1.9l1.4 .1l1.4-.7l1.4 1.2l1.4 0l1.4-.4l1.4-.4l1.4 .2l1.4-.8l1.4-3.2l1.4-.5l1.4-3.2l1.4-4.1l1.4-2.6l1.4-2.1l1.4-3.4l1.4-5.5l1.4-3.8l1.4-4l1.4-4.8l1.4-3.5l1.4-3.4l1.4-5.4l1.4-2.9l1.4-3.1l1.4-2.9l1.4-3.6l1.4-1.9l1.4-2.6l1.4-1.3l1.4-2.2l1.4-.7l1.4-1.1l1.4-.3l1.4-1l1.4-1.4l1.4-1.5l1.4 1.7l1.4-.3l1.4-.5l1.4 .1l1.4 .8l1.4 .1l1.4 1.1l1.4-.1l1.4-.1l1.4 0l1.4 1.2l1.4 .4l1.4-.1l1.4 .1l1.4 .6l1.4 .8l1.5-.2l1.4 .1l1.4 1l1.4 .6l1.4-.5l1.4 .3l1.4 0l1.4 .7l1.4 .6l1.4 .1l1.4 .6l1.4 .2l1.4 .2l1.4 .2l1.4-.4l1.4 1.4l1.4-.3l1.4 .6l1.4-.7l1.4 .9l1.4 .5l1.4-.3l1.4 .6l1.4 .4l1.4-.7l1.4 .5l1.4-.3l1.4 .3l1.4 .3l1.4 .3l1.4 .5l1.4-.8l1.4 .3l1.4-.3l1.4 .3l1.4 .2l1.4 .1l1.4-.8l1.4-.3l1.4 .7l1.4-.4l1.4-.5l1.4 1l1.4-.3l1.4 .3l1.4-1.1l1.4 .3l1.4 .3l1.4 .4l1.4-.7l1.4-.6l1.4 .5l1.4 0l1.4-.6l1.4 .7l1.4-.8l1.4-.4l1.4 .4l1.4-.1l1.4-.7l1.4 0l1.4-.1l1.4-.4l1.4-.2l1.4 .4l1.4-.3l1.4-.6l1.4-.4l1.4-.2l1.4 1l1.4-.9l1.4 .1l1.4 .4l1.4-.2l1.4-.1l1.4-.4l1.4 1.3l1.4-.7l1.4 .4l1.4 .1l1.5-.5l1.4 .2l1.4 .9l1.4-.3l1.4-.1l1.4 .8l1.4-1l1.4 .5l1.4-.1l1.4 0l1.4-.7l1.4 .9l1.4 .2l1.4-.9l1.4 1l1.4 0l1.4 .4l1.4-1l1.4 .3l1.4 0l1.4 .1l1.4 .2l1.4 .3l1.4 0l1.4-.5l1.4 .2l1.4-.7l1.4 1.1l1.4-.1l1.4 .3l1.4-1.1l1.4 1.2l1.4-.9l1.4-.3l1.4 .7l1.4-.3l1.4 1.2l1.4-.7l1.4 .5l1.4-.8l1.4 .1" stroke="#91b69e"/>
<path d="M30.3 506.0l1.4 .3l1.4 .5l1.4 0l1.4 .5l1.4-.7l1.4-1.3l1.4 1.5l1.4-.6l1.4 .5l1.4-.8l1.4 .2l1.4 .3l1.4 .9l1.4-.8l1.4-1l1.4 .8l1.4-.6l1.4 .6l1.4 .7l1.4-1.3l1.4 0l1.4 .5l1.4-.2l1.4-.4l1.4 .4l1.4-.6l1.4 .3l1.4 1.1l1.4-1.3l1.4 .2l1.4 .1l1.4-.7l1.4 .4l1.4-.7l1.4-.4l1.4 .5l1.4 .8l1.4-.5l1.4-1.1l1.5 .6l1.4 .1l1.4-.5l1.4-.5l1.4 0l1.4-.4l1.4 .6l1.4-.5l1.4-.3l1.4-.4l1.4 .8l1.4-1.3l1.4 .2l1.4-1.9l1.4-.5l1.4-.5l1.4 0l1.4 0l1.4-1.6l1.4-.4l1.4-2.1l1.4-2.7l1.4-4.8l1.4-5.7l1.4-6.1l1.4-5.1l1.4-6.2l1.4-2.8l1.4 1.9l1.4-.4l1.4 .9l1.4 .1l1.4 .8l1.4-.3l1.4-1.5l1.4-1.8l1.4-2l1.4-2.3l1.4-2.8l1.4-3.1l1.4-3.5l1.4-3.2l1.4-4l1.4-3.2l1.4-5.6l1.4-4.9l1.4-3.3l1.4-3.1l1.4-5.6l1.4-3l1.4-2.3l1.4-4.5l1.4-3.3l1.4-2.7l1.4-2.7l1.4-1.6l1.4-1.4l1.4-.6l1.4-1.7l1.4-1.7l1.4-1.1l1.4 .2l1.4-.7l1.4-1l1.4 .8l1.4-.1l1.4-.7l1.4 0l1.4 .6l1.4 1.2l1.4-.7l1.4 1.1l1.4-.5l1.4 .7l1.4 .2l1.4 .2l1.4 .8l1.4-.3l1.4 .1l1.4 .7l1.5-.1l1.4 1.1l1.4-.4l1.4 .6l1.4 .8l1.4-.1l1.4 .5l1.4 .2l1.4 0l1.4-.2l1.4 .9l1.4 .1l1.4 1l1.4-.4l1.4-.2l1.4 .5l1.4 .4l1.4 .8l1.4 .4l1.4-.1l1.4 .8l1.4 .2l1.4-.7l1.4 1l1.4-1.1l1.4 1.6l1.4-.7l1.4 .8l1.4-.5l1.4 .6l1.4-.5l1.4 0l1.4 .2l1.4-.5l1.4-.5l1.4 .9l1.4-.7l1.4 .4l1.4 0l1.4-1.1l1.4 1.9l1.4-.7l1.4 .5l1.4-.8l1.4-.1l1.4-1.8l1.4 1.5l1.4-.8l1.4 .2l1.4 .7l1.4-.5l1.4-.6l1.4 .6l1.4-.2l1.4-.2l1.4 .7l1.4-.5l1.4-.7l1.4-.2l1.4 .4l1.4-.4l1.4-.3l1.4-.1l1.4-.6l1.4 .1l1.4-.1l1.4 .6l1.4-.3l1.4-.7l1.4 .8l1.4-.8l1.4 .4l1.4 .1l1.4-.6l1.4 .6l1.4 .1l1.4 0l1.4-.3l1.4-1.2l1.4 2.3l1.5-.9l1.4 .2l1.4-.5l1.4 .7l1.4 1l1.4-1.7l1.4 1.2l1.4-.4l1.4 .6l1.4-.1l1.4-.2l1.4-.6l1.4 0l1.4 .7l1.4-.5l1.4 .4l1.4-.1l1.4 0l1.4-.2l1.4 .6l1.4-.2l1.4-.2l1.4 .1l1.4 .4l1.4-1.1l1.4 1l1.4-.5l1.4 .3l1.4-.5l1.4 1.6l1.4-1.9l1.4 1l1.4 .5l1.4-.6l1.4-1l1.4 .8l1.4 .8l1.4-.3l1.4-.8l1.4 1.2l1.4-.5" stroke="#accab6"/>
<path d="M30.3 505.3l1.4 1.3l1.4-.9l1.4 1.1l1.4 .1l1.4-1l1.4 .2l1.4 1.3l1.4-1.4l1.4 0l1.4 .7l1.4-.5l1.4-.1l1.4 .4l1.4 0l1.4 0l1.4-.3l1.4 .6l1.4-.8l1.4 .8l1.4-.9l1.4 0l1.4 .5l1.4-1.1l1.4-.7l1.4 .3l1.4 1.4l1.4-1.5l1.4 .5l1.4 .1l1.4 .3l1.4-.4l1.4-.9l1.4 .4l1.4 .5l1.4 .1l1.4-.3l1.4-.6l1.4-.9l1.4 1.6l1.5-.8l1.4 .1l1.4 .1l1.4-.8l1.4-.3l1.4 1l1.4-.5l1.4-1.5l1.4 .3l1.4-.4l1.4 .3l1.4-.4l1.4-.9l1.4 .2l1.4-.1l1.4-1.1l1.4-1l1.4 .4l1.4-2.1l1.4-.9l1.4-.9l1.4-4l1.4-4.7l1.4-5.6l1.4-5.6l1.4-5.3l1.4-5l1.4-4l1.4 0l1.4-.1l1.4 .3l1.4-.3l1.4 1.9l1.4-1.3l1.4 .1l1.4-2.6l1.4-2.5l1.4-.8l1.4-3.6l1.4-2.6l1.4-3.2l1.4-3.5l1.4-3.1l1.4-4.1l1.4-5.2l1.4-4.4l1.4-3.2l1.4-3.5l1.4-6l1.4-3l1.4-3.1l1.4-2.5l1.4-3.1l1.4-3.1l1.4-1.7l1.4-2.9l1.4-.9l1.4-1.6l1.4-.6l1.4-1.2l1.4-.8l1.4-1.1l1.4-.2l1.4-.5l1.4-.5l1.4-.1l1.4-.5l1.4 1l1.4 .6l1.4-.1l1.4-.2l1.4 1.3l1.4 .1l1.4 .6l1.4 0l1.4 .4l1.4 .7l1.4 .1l1.4-.3l1.4 .3l1.5 .3l1.4 .3l1.4 .8l1.4 .3l1.4-.3l1.4 1.2l1.4-.2l1.4 1l1.4-.4l1.4 .4l1.4 .5l1.4-.5l1.4 .9l1.4 .1l1.4 .2l1.4 .5l1.4-.7l1.4 1.2l1.4-.1l1.4 1l1.4-.2l1.4 .2l1.4 .2l1.4 .3l1.4-.1l1.4-.5l1.4 .9l1.4 .1l1.4 .1l1.4-1.3l1.4 .4l1.4 .5l1.4-.1l1.4 .6l1.4-.2l1.4-.2l1.4 0l1.4 .4l1.4-.1l1.4-.6l1.4 0l1.4 1l1.4-1l1.4-.6l1.4 .8l1.4-.4l1.4 .7l1.4-1.1l1.4 .8l1.4 0l1.4-.5l1.4-1.3l1.4 1.2l1.4 .2l1.4-.9l1.4 0l1.4-.8l1.4 1.1l1.4 0l1.4-.8l1.4-.5l1.4-.2l1.4-.4l1.4 .9l1.4-.4l1.4-.5l1.4-.5l1.4 .1l1.4 .3l1.4 .2l1.4-.9l1.4 0l1.4-.7l1.4 1.3l1.4-.8l1.4 1.3l1.4-.3l1.4 .2l1.4-.1l1.4 .3l1.5-.1l1.4-.2l1.4 .3l1.4-.5l1.4 .4l1.4 0l1.4-.6l1.4 .6l1.4 .1l1.4 .1l1.4 0l1.4-.2l1.4 .7l1.4-.9l1.4-.1l1.4 .2l1.4 .7l1.4 .5l1.4-.4l1.4-.3l1.4-.3l1.4 .5l1.4 .1l1.4-.8l1.4 1l1.4-.8l1.4 .1l1.4 1l1.4-.7l1.4 .4l1.4 .2l1.4 .4l1.4-.1l1.4-.8l1.4 .3l1.4-.2l1.4 .6l1.4-.4l1.4 0l1.4 .6l1.4 .1" stroke="#c8dcce"/>
<path d="M30.3 506.3l1.4 .6l1.4-.4l1.4-.5l1.4-.6l1.4 1.5l1.4-.9l1.4-.8l1.4 1.1l1.4-.8l1.4 2.2l1.4-2.3l1.4 .8l1.4 1l1.4-1.5l1.4-.2l1.4-.2l1.4 0l1.4 .6l1.4 .4l1.4-.2l1.4-.3l1.4-.3l1.4 .4l1.4-.3l1.4-.5l1.4 .2l1.4-1.1l1.4 0l1.4 1.8l1.4-.4l1.4 .3l1.4-.1l1.4-1l1.4 .7l1.4 0l1.4-.5l1.4-.7l1.4 .5l1.4-.1l1.5-.9l1.4 .2l1.4-.2l1.4-.4l1.4 .9l1.4-.8l1.4 .2l1.4-1.1l1.4-.2l1.4 .8l1.4-1.7l1.4 1.1l1.4-1.7l1.4 .2l1.4 .1l1.4-.3l1.4-1l1.4-.9l1.4-.5l1.4-1.9l1.4-.8l1.4-4.4l1.4-4.9l1.4-4.4l1.4-7.1l1.4-5.9l1.4-4.4l1.4-3.9l1.4-1.1l1.4-.8l1.4 .7l1.4-.8l1.4 .2l1.4 .1l1.4-1l1.4-1.1l1.4-1.4l1.4-2.8l1.4-2.6l1.4-2.3l1.4-2.8l1.4-2.4l1.4-4.8l1.4-3.7l1.4-3.2l1.4-4.9l1.4-4.2l1.4-3.4l1.4-4.4l1.4-3.5l1.4-2.4l1.4-3.5l1.4-3.2l1.4-2.8l1.4-2.4l1.4-.3l1.4-2.3l1.4-1.7l1.4-1.5l1.4-1.2l1.4 .4l1.4-.8l1.4-.2l1.4-1.2l1.4 .7l1.4-1.3l1.4 .2l1.4 .4l1.4 1.5l1.4-.3l1.4-.3l1.4 1.4l1.4-.1l1.4 .4l1.4-.2l1.4 .6l1.4 .3l1.4 .6l1.4 .1l1.4 .3l1.5-.1l1.4 .7l1.4-.3l1.4 1.5l1.4-1.1l1.4 .9l1.4-.3l1.4 .7l1.4-.1l1.4-.1l1.4 1.2l1.4 0l1.4 .4l1.4 .1l1.4 1.1l1.4-.4l1.4 .3l1.4 .5l1.4 0l1.4 .9l1.4-1.1l1.4 .7l1.4-.5l1.4 1.4l1.4 .3l1.4-.5l1.4 1l1.4-.7l1.4 .4l1.4-.1l1.4-.3l1.4 .1l1.4-.8l1.4 .5l1.4 .8l1.4-1l1.4 1l1.4-.7l1.4 .6l1.4-.2l1.4-1.1l1.4 .8l1.4 0l1.4-.1l1.4-.1l1.4-.9l1.4 1.1l1.4 0l1.4-.9l1.4 .9l1.4-.6l1.4-.7l1.4 .4l1.4 .1l1.4-.1l1.4 0l1.4-.3l1.4-.5l1.4-.7l1.4 0l1.4 .5l1.4-.1l1.4-.8l1.4 .9l1.4-.8l1.4-.1l1.4 .2l1.4-.1l1.4-.7l1.4 .8l1.4-.3l1.4-.1l1.4-.3l1.4 .6l1.4-1l1.4 .6l1.4 .1l1.4 0l1.4 .2l1.4 .2l1.5-.9l1.4 .5l1.4 .2l1.4-.4l1.4 .8l1.4-.5l1.4 .3l1.4 .5l1.4-.7l1.4 1l1.4-.9l1.4 .7l1.4-.6l1.4-.4l1.4 .4l1.4 .6l1.4-.3l1.4 .2l1.4 .4l1.4 0l1.4-.5l1.4-.2l1.4 1.1l1.4-.8l1.4-.2l1.4 .2l1.4 .5l1.4-.9l1.4 1l1.4-.8l1.4-.4l1.4 1.7l1.4-1.1l1.4 0l1.4 .1l1.4 .4l1.4-.2l1.4 .5l1.4-.6l1.4-.2l1.4 .5" stroke="#dde7e0"/>
<path d="M30.3 506.6l1.4-.2l1.4-.1l1.4 .1l1.4-.1l1.4 .8l1.4 .7l1.4-1.8l1.4-.5l1.4 1.5l1.4-.4l1.4-.6l1.4-.4l1.4 .2l1.4-.4l1.4 .7l1.4-.3l1.4-.1l1.4 .4l1.4-.9l1.4 .3l1.4-.3l1.4 .7l1.4-.8l1.4 1.1l1.4-.9l1.4 1.6l1.4-.9l1.4-1l1.4 .6l1.4-.4l1.4 .9l1.4-1.8l1.4 .4l1.4 .3l1.4-.4l1.4 0l1.4-.7l1.4 .6l1.4 .8l1.5-.8l1.4-1l1.4 .2l1.4 .4l1.4-.7l1.4 .1l1.4-.5l1.4 1l1.4-.7l1.4-1.1l1.4 .2l1.4-.7l1.4-1.3l1.4 .9l1.4-.7l1.4 0l1.4-.6l1.4-1l1.4-.2l1.4-.8l1.4-3.7l1.4-2.8l1.4-5.5l1.4-4.8l1.4-5.9l1.4-6.9l1.4-4.9l1.4-1.6l1.4-2.1l1.4 1.1l1.4-.6l1.4-1.2l1.4 1.6l1.4-1.2l1.4 .2l1.4-2.3l1.4-1.8l1.4-2.5l1.4-1.9l1.4-2.9l1.4-3.9l1.4-2.3l1.4-4l1.4-4.8l1.4-3.4l1.4-4l1.4-3.7l1.4-4.5l1.4-3.5l1.4-3.9l1.4-3l1.4-3.9l1.4-1.8l1.4-1.9l1.4-3l1.4-1.6l1.4-1.5l1.4-.5l1.4-2.4l1.4-.4l1.4-.8l1.4 .2l1.4-1.4l1.4-.1l1.4-.9l1.4 .7l1.4 .4l1.4-.4l1.4 .7l1.4-.2l1.4 1l1.4 0l1.4 .5l1.4 .3l1.4 .5l1.4 .4l1.4 0l1.4 .5l1.4-.1l1.4 .5l1.5 1.1l1.4-.7l1.4-.4l1.4 .8l1.4 .1l1.4 .3l1.4 .6l1.4 .6l1.4-.7l1.4 .1l1.4 .5l1.4 .3l1.4 .3l1.4 .5l1.4 .1l1.4 .4l1.4 .1l1.4 .8l1.4 .2l1.4-.3l1.4 .6l1.4 1.1l1.4-.9l1.4 1.3l1.4-1.7l1.4 .7l1.4 .1l1.4 .7l1.4 .2l1.4-.4l1.4-.1l1.4 .4l1.4-.5l1.4-.2l1.4 0l1.4 .7l1.4 .4l1.4-.9l1.4 .2l1.4-.5l1.4-.6l1.4 0l1.4 .5l1.4-.4l1.4-.3l1.4 .7l1.4-.2l1.4-.3l1.4 .3l1.4 .2l1.4 0l1.4-.4l1.4 .2l1.4-.8l1.4 .4l1.4-.9l1.4-.1l1.4 .9l1.4-1.2l1.4 .5l1.4-.9l1.4 .1l1.4 .1l1.4-.4l1.4 .3l1.4-.5l1.4-.1l1.4 .1l1.4-.3l1.4 .6l1.4-.7l1.4 .7l1.4-.7l1.4 .1l1.4-.1l1.4 .6l1.4-1.5l1.4 1.4l1.4-.1l1.4 .4l1.5-.8l1.4 .8l1.4-.5l1.4 .9l1.4-.5l1.4 .3l1.4-.5l1.4 .6l1.4 .3l1.4-.6l1.4 .8l1.4-.1l1.4-.7l1.4 1.1l1.4-1.1l1.4 .6l1.4 .2l1.4-.5l1.4-.1l1.4 .5l1.4-.1l1.4-.4l1.4 0l1.4 .4l1.4 .3l1.4 .1l1.4-.1l1.4-.5l1.4 0l1.4 .2l1.4-.5l1.4 .7l1.4 .1l1.4 0l1.4-1l1.4 1.8l1.4-1l1.4-.1l1.4 .2l1.4-1l1.4 .5" stroke="#f0f0f0"/>
<path d="M30.3 506.8l1.4-.8l1.4 .5l1.4-.3l1.4-.1l1.4 .4l1.4-.6l1.4-.6l1.4 .3l1.4 .4l1.4 1.2l1.4-1.7l1.4 0l1.4 .6l1.4 .1l1.4-.6l1.4 .7l1.4-.9l1.4 1l1.4-.2l1.4-.5l1.4 .7l1.4-.8l1.4-.3l1.4 .9l1.4-1.3l1.4 .8l1.4-.7l1.4 .1l1.4 .3l1.4 0l1.4 .6l1.4-.6l1.4-.1l1.4-1.3l1.4 .2l1.4 1.2l1.4-1.3l1.4 .2l1.4 .2l1.5-.6l1.4-.3l1.4 .6l1.4-.3l1.4-.4l1.4 .4l1.4-.8l1.4-.1l1.4 .1l1.4-.2l1.4-1l1.4-.6l1.4-.1l1.4 .2l1.4-1.3l1.4-.1l1.4-.8l1.4-1.1l1.4 .1l1.4-1.7l1.4-1.7l1.4-3.6l1.4-6.5l1.4-5l1.4-4.8l1.4-8.2l1.4-4.6l1.4-3.9l1.4-.5l1.4-.3l1.4-.4l1.4-.2l1.4 .2l1.4-.2l1.4-1l1.4-1.8l1.4-1l1.4-2.6l1.4-2.3l1.4-2.5l1.4-3.5l1.4-2l1.4-3.9l1.4-3.6l1.4-4.7l1.4-3.4l1.4-4l1.4-3.8l1.4-2.6l1.4-4.5l1.4-2.6l1.4-3.1l1.4-2.8l1.4-2.9l1.4-2l1.4-2l1.4-.7l1.4-.9l1.4-1.1l1.4-1.4l1.4-1.1l1.4 0l1.4 0l1.4-.8l1.4-.2l1.4 0l1.4 .4l1.4 .9l1.4-.5l1.4-.4l1.4 .8l1.4 1.4l1.4-.5l1.4 1.2l1.4-1.3l1.4 1l1.4 .9l1.4-.6l1.4 .9l1.4-.3l1.5 .5l1.4 .7l1.4-.5l1.4 1.1l1.4-.9l1.4 .7l1.4 .7l1.4 .6l1.4-1.3l1.4 .3l1.4 1.4l1.4-1l1.4 .9l1.4 .4l1.4 .3l1.4 .3l1.4-.5l1.4 .8l1.4 1.1l1.4-1.4l1.4 .7l1.4 1.1l1.4-.1l1.4 .4l1.4-.3l1.4 0l1.4 .2l1.4 .4l1.4 .2l1.4-.7l1.4 .4l1.4-1l1.4 1.3l1.4-.7l1.4 .3l1.4 .3l1.4-.9l1.4 .4l1.4 .4l1.4-.2l1.4-.7l1.4 1l1.4-1.2l1.4 .2l1.4 .4l1.4-.7l1.4-.3l1.4 .5l1.4 .1l1.4-.8l1.4 .1l1.4 1l1.4-.4l1.4-.2l1.4 0l1.4 .3l1.4-1.2l1.4 .2l1.4-.2l1.4-.7l1.4 .7l1.4-.4l1.4-.3l1.4 .1l1.4-.3l1.4-.5l1.4 .2l1.4-.6l1.4 .8l1.4-.5l1.4 .7l1.4-.5l1.4 .2l1.4-.8l1.4 .3l1.4 .1l1.4-.5l1.4 .2l1.4 .4l1.4 .6l1.5 .4l1.4-.6l1.4 .2l1.4 .2l1.4-.1l1.4 .6l1.4-1.3l1.4 1.2l1.4-.1l1.4-.5l1.4 .9l1.4-1l1.4 0l1.4 .5l1.4 .4l1.4-.2l1.4 .6l1.4-1.4l1.4 .6l1.4 .4l1.4 .1l1.4-.6l1.4-.4l1.4 1.2l1.4-.3l1.4 .5l1.4-1l1.4 .3l1.4-.9l1.4 1l1.4 .2l1.4 .1l1.4-.7l1.4 1.1l1.4-1l1.4 .2l1.4 .4l1.4 .2l1.4-.9l1.4-.3l1.4 1" stroke="#e5dded"/>
<path d="M30.3 505.3l1.4 1.2l1.4-.2l1.4 .5l1.4-.5l1.4-.1l1.4 .2l1.4 .1l1.4 .5l1.4-.2l1.4-.2l1.4-.9l1.4 .6l1.4 .1l1.4-.9l1.4 .1l1.4 .6l1.4-.1l1.4-.7l1.4 .1l1.4 .6l1.4-.6l1.4 0l1.4-.6l1.4 1l1.4-1l1.4 .2l1.4 .7l1.4-1.2l1.4 0l1.4 1.2l1.4-1.9l1.4 1.7l1.4-.2l1.4-.4l1.4-.7l1.4 0l1.4 .2l1.4-.9l1.4 .4l1.5-.6l1.4-1l1.4 1.3l1.4 1.4l1.4-1.4l1.4 .2l1.4-.9l1.4-.2l1.4 .5l1.4-.4l1.4-.8l1.4-.3l1.4 .9l1.4-2.4l1.4 .1l1.4-.5l1.4-.7l1.4-.1l1.4-1.6l1.4-2l1.4-2l1.4-3.5l1.4-4.7l1.4-5.4l1.4-7.7l1.4-6.9l1.4-4.7l1.4-2.1l1.4-2.1l1.4-.1l1.4-2.2l1.4 .4l1.4 .3l1.4-.6l1.4-2.5l1.4-.6l1.4-.2l1.4-2.6l1.4-1.6l1.4-2.2l1.4-3.8l1.4-4.2l1.4-2.8l1.4-2.8l1.4-3.6l1.4-4.2l1.4-4l1.4-2.2l1.4-3.3l1.4-5.2l1.4-2.3l1.4-3.4l1.4-2.1l1.4-2.9l1.4-1.1l1.4-1.9l1.4-1.8l1.4-.9l1.4-.4l1.4-1.5l1.4 .1l1.4-.2l1.4-1.3l1.4-.7l1.4 0l1.4 .8l1.4-.8l1.4 .2l1.4 .8l1.4 1.3l1.4-1.2l1.4 .5l1.4 .5l1.4 1.4l1.4 .2l1.4-.8l1.4 .3l1.4 .4l1.4 .6l1.4-.1l1.5 .7l1.4 .1l1.4 .5l1.4-.3l1.4 .5l1.4-.4l1.4 .4l1.4 .9l1.4-1l1.4 1.5l1.4-.4l1.4-.1l1.4 .2l1.4 1.8l1.4-1.2l1.4 .2l1.4 .1l1.4 1.9l1.4-.4l1.4-.1l1.4 .4l1.4-.6l1.4 1.1l1.4-.7l1.4 .5l1.4 1l1.4-.1l1.4-.1l1.4-.2l1.4-.4l1.4 .5l1.4-.5l1.4 1.1l1.4 .7l1.4-1.3l1.4-.4l1.4 .4l1.4 .2l1.4-.7l1.4-.7l1.4 .9l1.4 .2l1.4 .1l1.4-1.4l1.4 .9l1.4-.4l1.4-.3l1.4 0l1.4 .9l1.4-.9l1.4 0l1.4 0l1.4-.3l1.4 .6l1.4-.3l1.4 0l1.4-.7l1.4 .5l1.4-.7l1.4 .5l1.4-.6l1.4-.1l1.4-.2l1.4-.3l1.4 0l1.4-.1l1.4 .7l1.4-1.5l1.4 .7l1.4-.2l1.4 .2l1.4-.8l1.4 .9l1.4-.6l1.4-.3l1.4-.2l1.4 .2l1.4 .3l1.4 .9l1.4-1.1l1.5 .1l1.4 .3l1.4 0l1.4 .4l1.4 .3l1.4-.6l1.4-.1l1.4 1.1l1.4-.8l1.4 .3l1.4-.3l1.4 .3l1.4-.3l1.4 0l1.4 .1l1.4 1.1l1.4-1l1.4 .4l1.4 .5l1.4-.8l1.4 1l1.4-1l1.4-.3l1.4 1l1.4-.7l1.4 .3l1.4-.1l1.4 .9l1.4-.8l1.4 .2l1.4-.3l1.4 .4l1.4-.5l1.4 .4l1.4-.2l1.4-.3l1.4 .6l1.4-.4l1.4 .4l1.4-.2l1.4 .5" stroke="#d9c9e8"/>
<path d="M30.3 505.4l1.4 .8l1.4-.5l1.4 .2l1.4 .8l1.4-.8l1.4-.6l1.4 1l1.4 .7l1.4-1.1l1.4 .4l1.4-1.4l1.4 1l1.4 0l1.4 .3l1.4-.6l1.4 .5l1.4 .1l1.4-.5l1.4 .4l1.4-1.3l1.4 1.3l1.4-.6l1.4 .3l1.4 .3l1.4-1.7l1.4 2l1.4-2l1.4 1.5l1.4-.9l1.4-1.3l1.4 2.4l1.4-.5l1.4-1.5l1.4 .5l1.4 .3l1.4-.4l1.4 .4l1.4-.7l1.4-.9l1.5 .9l1.4-.4l1.4-.7l1.4-.6l1.4 1.2l1.4-.7l1.4 .3l1.4-.2l1.4-.4l1.4-.1l1.4 .3l1.4-.2l1.4-1.1l1.4-.9l1.4-1.1l1.4 .5l1.4-.8l1.4-1.3l1.4-1.1l1.4-.9l1.4-2.1l1.4-5l1.4-3.9l1.4-5.6l1.4-6l1.4-8.6l1.4-4.8l1.4-4.3l1.4-.2l1.4-1.4l1.4-.6l1.4-.7l1.4 1.3l1.4-2l1.4-.1l1.4-1.3l1.4-1.5l1.4-1.9l1.4-2.2l1.4-1.4l1.4-4.3l1.4-2.7l1.4-2.7l1.4-4.1l1.4-5.1l1.4-2.7l1.4-3.1l1.4-4.6l1.4-2.1l1.4-3.6l1.4-2.7l1.4-2.9l1.4-3.1l1.4-2.2l1.4-1.3l1.4-1.7l1.4-1.3l1.4-.9l1.4-1.1l1.4-.5l1.4-.6l1.4-.8l1.4 0l1.4-.9l1.4 0l1.4 .2l1.4 0l1.4 .1l1.4 .1l1.4 .3l1.4 .5l1.4 .7l1.4-.6l1.4 .6l1.4 .6l1.4-.1l1.4 .5l1.4 .5l1.4 .1l1.4-.9l1.5 1l1.4 .2l1.4 .8l1.4-.2l1.4-.5l1.4 1l1.4-.1l1.4 .1l1.4 .5l1.4-.2l1.4 .8l1.4 .1l1.4 .8l1.4-1.2l1.4 1.3l1.4 .3l1.4-.3l1.4 1l1.4 .1l1.4 .5l1.4-.1l1.4 .4l1.4-.2l1.4 .4l1.4 .4l1.4 0l1.4 0l1.4 .2l1.4-.5l1.4 .1l1.4 .2l1.4 .6l1.4-.8l1.4 .8l1.4-.7l1.4 .1l1.4 .2l1.4 .1l1.4-.1l1.4-1.2l1.4 .9l1.4 0l1.4-.6l1.4 .2l1.4-.3l1.4 .9l1.4-.1l1.4-2l1.4 1.5l1.4 0l1.4-.2l1.4-.5l1.4 .9l1.4-.8l1.4 0l1.4-.4l1.4 .1l1.4 .1l1.4 0l1.4 .5l1.4-1.7l1.4 .9l1.4-.6l1.4-1.1l1.4 .8l1.4-.6l1.4 .3l1.4-.5l1.4 .2l1.4 .2l1.4-.8l1.4 .7l1.4 .5l1.4-.5l1.4-.3l1.4 .7l1.4-.7l1.4 0l1.4-.5l1.4 1.2l1.5-.5l1.4 1.1l1.4-.5l1.4-.2l1.4-.1l1.4 .3l1.4 0l1.4 .3l1.4 0l1.4-.3l1.4-.1l1.4 0l1.4-.2l1.4 0l1.4 1.3l1.4-.5l1.4-.2l1.4 .3l1.4-.7l1.4 .1l1.4 .4l1.4-.1l1.4-.4l1.4 .7l1.4 0l1.4-.5l1.4 .2l1.4-.4l1.4 .5l1.4-.2l1.4 .6l1.4 .2l1.4-.4l1.4 1.2l1.4-1.4l1.4-.2l1.4 .4l1.4 .2l1.4-.6l1.4 .5l1.4-.4" stroke="#c7b2de"/>
<path d="M30.3 505.7l1.4-.1l1.4 .2l1.4 .1l1.4 0l1.4 .1l1.4-.6l1.4 1.5l1.4-.8l1.4-.5l1.4 .8l1.4-.5l1.4 .3l1.4-.6l1.4-.3l1.4-.4l1.4 .5l1.4 .6l1.4-.5l1.4-.3l1.4-.5l1.4 1.9l1.4-1.4l1.4 1.1l1.4-1.4l1.4 .1l1.4-.1l1.4-.3l1.4 .2l1.4 .5l1.4-.6l1.4-.5l1.4 .7l1.4-.2l1.4 .6l1.4-1.4l1.4 .8l1.4 0l1.4-.3l1.4 .1l1.5-.4l1.4-1l1.4 .1l1.4-.5l1.4-.2l1.4 1.1l1.4-1l1.4-.7l1.4-.7l1.4 1.7l1.4-.3l1.4-1.4l1.4 .1l1.4-.1l1.4-1.2l1.4 .1l1.4 .2l1.4-2.1l1.4-1.2l1.4-1.7l1.4-2.3l1.4-3.5l1.4-5l1.4-5.6l1.4-6.3l1.4-8.4l1.4-6l1.4-3l1.4-2.4l1.4 .2l1.4 .3l1.4-1.9l1.4-.6l1.4 .7l1.4-.7l1.4-2.2l1.4-1.8l1.4-.8l1.4-2.6l1.4-2.2l1.4-2.4l1.4-2.7l1.4-4l1.4-3.3l1.4-3.5l1.4-2.5l1.4-5.8l1.4-1.9l1.4-3.8l1.4-2.7l1.4-3.5l1.4-1.9l1.4-3.2l1.4-2.1l1.4-2.3l1.4-.5l1.4-1.3l1.4-1.2l1.4-1.9l1.4 .8l1.4-1.4l1.4 0l1.4-.8l1.4-.5l1.4 0l1.4-.1l1.4 .1l1.4 .5l1.4 .1l1.4 1l1.4-.2l1.4 .6l1.4 .2l1.4-.1l1.4 .5l1.4 .2l1.4-.1l1.4 1.8l1.4-1l1.4 .4l1.5 .2l1.4 .8l1.4-.6l1.4-.1l1.4 .3l1.4 .6l1.4-.1l1.4 .1l1.4-.2l1.4 .5l1.4 .7l1.4 .2l1.4 .2l1.4 .2l1.4 .6l1.4-.3l1.4 .8l1.4 .3l1.4-.3l1.4 .7l1.4 0l1.4 1l1.4-1.1l1.4 .6l1.4 .2l1.4-.2l1.4 .2l1.4 .5l1.4-1.1l1.4 1.1l1.4-.7l1.4-.3l1.4 1l1.4-.3l1.4 .4l1.4-.9l1.4 .6l1.4 .3l1.4-1.1l1.4 .2l1.4 .7l1.4-.9l1.4 .3l1.4-1.1l1.4 .4l1.4 .9l1.4-.1l1.4 .2l1.4-.5l1.4 0l1.4-.4l1.4 .2l1.4 .6l1.4-.4l1.4-1.1l1.4 0l1.4 .4l1.4-.1l1.4-.2l1.4-.2l1.4 .5l1.4-1.3l1.4 .5l1.4-.5l1.4 1.1l1.4-1.4l1.4-.5l1.4 1.4l1.4-1.7l1.4 .4l1.4 .5l1.4 .4l1.4-1.2l1.4 .4l1.4-.1l1.4 .4l1.4 .3l1.4-.7l1.4 .8l1.4-.7l1.5 1.1l1.4-.2l1.4 .2l1.4-1.1l1.4 1.4l1.4-.3l1.4-.7l1.4 .2l1.4-.8l1.4 .2l1.4 .6l1.4 0l1.4 1.1l1.4-.4l1.4-.2l1.4-.1l1.4 .6l1.4-.2l1.4 0l1.4-.8l1.4 .3l1.4 .3l1.4 0l1.4-.2l1.4 .5l1.4-.2l1.4 .6l1.4-1l1.4-.1l1.4 .3l1.4 0l1.4 0l1.4-.7l1.4 .8l1.4 .7l1.4-.1l1.4-.7l1.4-.2l1.4 .1l1.4 0l1.4 .3" stroke="#b59bd4"/>
<path d="M30.3 506.4l1.4 .6l1.4-.8l1.4 .5l1.4-.8l1.4 .2l1.4 .9l1.4-1.5l1.4 0l1.4 1.1l1.4-.8l1.4-.4l1.4 .6l1.4-.7l1.4 .3l1.4-.5l1.4 .4l1.4 .2l1.4-.4l1.4-.2l1.4 .2l1.4 .3l1.4 .2l1.4-.3l1.4 .1l1.4-.5l1.4-.1l1.4 .1l1.4-.1l1.4-.1l1.4-.9l1.4 .2l1.4 .9l1.4-.7l1.4 .4l1.4-.3l1.4 0l1.4 .1l1.4 .3l1.4 .5l1.5-1.6l1.4-.7l1.4 1l1.4-.9l1.4 .3l1.4-.6l1.4 .4l1.4-.6l1.4-.3l1.4 1l1.4-1.8l1.4-.1l1.4 .9l1.4-2.2l1.4 0l1.4-.7l1.4-.7l1.4-.5l1.4-.7l1.4-1.8l1.4-2.1l1.4-5.4l1.4-5l1.4-4.5l1.4-6.9l1.4-8.2l1.4-5.1l1.4-2.4l1.4-1.5l1.4-2.5l1.4-.2l1.4 .9l1.4-.4l1.4-1.2l1.4-1.6l1.4-1.5l1.4-1.1l1.4-1.2l1.4-3.2l1.4-2.8l1.4-2.4l1.4-2.6l1.4-3.9l1.4-3.2l1.4-3.1l1.4-4.2l1.4-2.6l1.4-4.5l1.4-3l1.4-2.4l1.4-3.3l1.4-3l1.4-1l1.4-3.1l1.4-2.5l1.4 .2l1.4-1.7l1.4-.4l1.4-1.5l1.4 .4l1.4-.9l1.4-.9l1.4-.7l1.4-.4l1.4-.2l1.4-.4l1.4 .3l1.4 .1l1.4 1.1l1.4-.1l1.4-1.1l1.4 .8l1.4 1.1l1.4 .4l1.4 .1l1.4 .9l1.4-.8l1.4 1.2l1.4 .1l1.4-.8l1.5 2.1l1.4-.9l1.4 1.1l1.4-.2l1.4-.1l1.4 .3l1.4 0l1.4 .6l1.4-.2l1.4 .7l1.4-.1l1.4 .6l1.4-.6l1.4 1.1l1.4-.7l1.4 .7l1.4 .2l1.4-.4l1.4 .7l1.4 1.1l1.4-.9l1.4 1.7l1.4-1.2l1.4 .4l1.4 .6l1.4-.5l1.4 .2l1.4-.9l1.4 1.1l1.4-1l1.4 .2l1.4 .9l1.4 .1l1.4-1l1.4 .7l1.4-.2l1.4 .2l1.4 .4l1.4-.4l1.4 .2l1.4 .2l1.4-.6l1.4-1l1.4 .1l1.4 .7l1.4-.2l1.4-.2l1.4-.4l1.4 .4l1.4 .3l1.4-.1l1.4-.7l1.4-.8l1.4 1.4l1.4 .5l1.4-1.4l1.4 .2l1.4-.2l1.4-.7l1.4 .4l1.4 .4l1.4 .1l1.4-1l1.4 .4l1.4-.8l1.4 .6l1.4-.6l1.4 .4l1.4-.5l1.4 0l1.4-.5l1.4-.3l1.4 .7l1.4 .3l1.4-1.3l1.4 .8l1.4-.1l1.4 0l1.4-.3l1.4 .2l1.5 .2l1.4 0l1.4 .8l1.4 0l1.4-.2l1.4-.1l1.4 .1l1.4-.1l1.4 .2l1.4 .2l1.4 .6l1.4-1.1l1.4 .1l1.4 .7l1.4-.6l1.4 .1l1.4 .2l1.4 .8l1.4-.2l1.4-.3l1.4-.9l1.4 1.1l1.4-.2l1.4 .3l1.4-.2l1.4-.4l1.4 1.1l1.4 .4l1.4-1.6l1.4 .3l1.4 .4l1.4-.7l1.4 0l1.4 1.4l1.4-.9l1.4-.5l1.4 .8l1.4-.2l1.4-.5l1.4 .5l1.4 .5" stroke="#a284ca"/>
<path d="M30.3 506.7l1.4-1l1.4 1.2l1.4-1.5l1.4 1.5l1.4-1l1.4 .8l1.4-.6l1.4-.8l1.4-.1l1.4-.1l1.4 .7l1.4-.1l1.4-.1l1.4-.3l1.4 .6l1.4-.9l1.4 .4l1.4-.6l1.4 .4l1.4-.2l1.4 .8l1.4-.3l1.4 .5l1.4-.6l1.4-.2l1.4-.6l1.4 1.1l1.4-2.6l1.4 1.9l1.4-.9l1.4 .1l1.4 1.9l1.4-1.3l1.4-1.1l1.4 2.1l1.4-1.9l1.4 .8l1.4-.3l1.4-.6l1.5 1.1l1.4-1.3l1.4 .3l1.4-.1l1.4-1l1.4-1.8l1.4 1.6l1.4-.4l1.4 .1l1.4 .1l1.4-.9l1.4-1l1.4 .3l1.4-.8l1.4 .2l1.4-2.1l1.4 1.7l1.4-2.2l1.4-1.1l1.4-1.4l1.4-1.4l1.4-4l1.4-5.8l1.4-6.1l1.4-6.4l1.4-8.1l1.4-6l1.4-3.5l1.4-1l1.4-1.1l1.4-.8l1.4-2.4l1.4 .4l1.4-.5l1.4-1.5l1.4-2l1.4-.8l1.4-.3l1.4-2.9l1.4-2.2l1.4-2.6l1.4-2.3l1.4-3.6l1.4-3l1.4-4.4l1.4-3.3l1.4-2.4l1.4-3l1.4-3.9l1.4-3.5l1.4-2.6l1.4-2.2l1.4-1l1.4-3.3l1.4-1.6l1.4-1.3l1.4-.7l1.4-1.2l1.4-.7l1.4-2.2l1.4 .4l1.4 .1l1.4-.4l1.4-.3l1.4-.3l1.4 .2l1.4-.1l1.4-.3l1.4 .3l1.4 .6l1.4-.1l1.4 .9l1.4 .9l1.4 .7l1.4-.2l1.4 0l1.4 0l1.4-.1l1.4 .9l1.4 .4l1.5-.6l1.4 0l1.4 1l1.4-.2l1.4-.3l1.4 .6l1.4 .4l1.4 1.1l1.4-1.4l1.4 .5l1.4 .4l1.4 .5l1.4 .6l1.4-.3l1.4 .2l1.4-.3l1.4 1.2l1.4-.9l1.4 .8l1.4-.3l1.4 1.2l1.4-.4l1.4-.3l1.4 .7l1.4 .8l1.4-.4l1.4-.3l1.4 1l1.4 .1l1.4-.8l1.4 .5l1.4-.7l1.4 .8l1.4 .3l1.4-.5l1.4-1l1.4 1l1.4-.4l1.4-.1l1.4 .5l1.4-1l1.4 .4l1.4-.2l1.4 .9l1.4 0l1.4 .4l1.4-1.2l1.4 0l1.4-.5l1.4-.4l1.4 .8l1.4-.1l1.4-.4l1.4-.6l1.4 1l1.4-.8l1.4 .2l1.4-.1l1.4-.7l1.4 .6l1.4-.1l1.4-.9l1.4 .1l1.4 0l1.4-.2l1.4-.4l1.4 .3l1.4-.6l1.4 .1l1.4-.6l1.4 .1l1.4 .2l1.4 .5l1.4-.1l1.4 .3l1.4-1.5l1.4 1.4l1.4-.3l1.4-.3l1.4 1.2l1.5-.2l1.4-.1l1.4 .3l1.4 .2l1.4-.3l1.4-.8l1.4 .3l1.4 .3l1.4 .1l1.4 .8l1.4-1.1l1.4 .2l1.4 .7l1.4-.6l1.4 .2l1.4 .2l1.4 .2l1.4-.1l1.4 .2l1.4-.7l1.4 .1l1.4 .1l1.4 .2l1.4 .1l1.4-1.1l1.4 1.8l1.4-1.3l1.4 .4l1.4 .1l1.4 .3l1.4-.1l1.4 .4l1.4 .1l1.4-.5l1.4 .7l1.4-1.1l1.4-.1l1.4 2l1.4-.8l1.4-.8l1.4 0" stroke="#8d67be"/>
<path d="M30.3 505.7l1.4-.2l1.4-.1l1.4-.5l1.4 1l1.4-.5l1.4 1.4l1.4-.9l1.4 .6l1.4-1.5l1.4-.6l1.4 1l1.4 1l1.4-.7l1.4-.1l1.4-.1l1.4-.6l1.4 0l1.4 2l1.4-2.3l1.4 1l1.4 0l1.4-1.2l1.4 .9l1.4 .6l1.4-.1l1.4-.8l1.4-.6l1.4-.4l1.4 .9l1.4 .1l1.4-1.2l1.4 1.1l1.4-1.2l1.4 .6l1.4-.1l1.4 .2l1.4-.4l1.4 .3l1.4 0l1.5-.5l1.4 .2l1.4-.7l1.4-.1l1.4 0l1.4-.2l1.4-.2l1.4-1.3l1.4 .7l1.4 0l1.4-.5l1.4-.8l1.4 .1l1.4-.5l1.4-.4l1.4-.8l1.4-.7l1.4-1l1.4 .1l1.4-1.8l1.4-1.3l1.4-5.8l1.4-5.3l1.4-5.9l1.4-6.3l1.4-8.5l1.4-4l1.4-2.9l1.4-.8l1.4-1.4l1.4-.8l1.4-1.5l1.4-1.2l1.4 .3l1.4-1.6l1.4-1.4l1.4-1.1l1.4-1.5l1.4-3l1.4-2.3l1.4-3.6l1.4-3.1l1.4-3.3l1.4-3.6l1.4-4l1.4-2.6l1.4-4.3l1.4-1.7l1.4-4.1l1.4-3l1.4-2l1.4-2.1l1.4-3.4l1.4-1.4l1.4-2.3l1.4-1l1.4-.7l1.4-.8l1.4-1.2l1.4-.3l1.4 .2l1.4-.9l1.4-.5l1.4-.1l1.4-.2l1.4 .1l1.4 .1l1.4 .5l1.4 .5l1.4-.8l1.4 1.2l1.4 0l1.4 1.1l1.4-.4l1.4 .7l1.4-1.5l1.4 2.1l1.4 .1l1.4-.6l1.4 .1l1.5 1.6l1.4-.9l1.4-.1l1.4 1.1l1.4-.7l1.4 .7l1.4 .4l1.4-.1l1.4 .2l1.4 .6l1.4-1.5l1.4 1.5l1.4 .3l1.4-.5l1.4 .6l1.4-.4l1.4 .9l1.4 0l1.4 .3l1.4 .2l1.4 .3l1.4 .2l1.4-.7l1.4 1.2l1.4 .1l1.4 0l1.4-.3l1.4 .1l1.4-.2l1.4 1.1l1.4-.7l1.4 .2l1.4 0l1.4-.2l1.4 .9l1.4-1l1.4 0l1.4 .7l1.4-.6l1.4-.8l1.4 .8l1.4-.4l1.4 .3l1.4 .2l1.4 0l1.4-.2l1.4-.8l1.4 .1l1.4 .7l1.4-.9l1.4 .5l1.4 .2l1.4-.6l1.4 .5l1.4 .2l1.4-1.4l1.4 1.2l1.4-1.2l1.4 .8l1.4-.9l1.4 0l1.4-.1l1.4 .6l1.4-1.1l1.4-.1l1.4 .2l1.4-.4l1.4-.6l1.4 .7l1.4-.5l1.4 .6l1.4-.6l1.4-.2l1.4-.8l1.4 .8l1.4 .2l1.4-.4l1.4 1.1l1.4-.9l1.4 .8l1.5 .1l1.4-.8l1.4 .5l1.4-.5l1.4 1.3l1.4-.7l1.4 .4l1.4-.1l1.4 .7l1.4-1.2l1.4 .4l1.4 .5l1.4 .2l1.4-.2l1.4-1l1.4 .7l1.4 .1l1.4-.3l1.4 .2l1.4-.1l1.4-.2l1.4 .2l1.4-.2l1.4 1l1.4-.6l1.4 .2l1.4-.2l1.4 .1l1.4 .3l1.4-.1l1.4-.6l1.4 .7l1.4 .3l1.4-.8l1.4-.1l1.4 .6l1.4-.2l1.4 .4l1.4-.2l1.4-.6l1.4 .1" stroke="#7848b1"/>
<path d="M30.3 506.0l1.4 .7l1.4-1l1.4-.1l1.4-.4l1.4-.5l1.4 .9l1.4-.4l1.4 1.1l1.4-1.3l1.4 .2l1.4-.3l1.4 .3l1.4 .1l1.4-.6l1.4 1.2l1.4-.8l1.4-.3l1.4 1l1.4 .1l1.4-.9l1.4 .1l1.4-.3l1.4-.1l1.4 .8l1.4-.7l1.4-.5l1.4 .8l1.4-.1l1.4 .4l1.4-1.2l1.4-.7l1.4 1.8l1.4-1.3l1.4-.1l1.4 .7l1.4-.2l1.4 .2l1.4-.2l1.4-.7l1.5-.4l1.4 .1l1.4-.5l1.4 .2l1.4 .5l1.4-1.6l1.4-.1l1.4 .8l1.4-1.6l1.4 .4l1.4-.1l1.4-1.3l1.4 2l1.4-.9l1.4-1.8l1.4 0l1.4-.3l1.4-2.3l1.4-.7l1.4-.6l1.4-2.7l1.4-4.9l1.4-5.9l1.4-4l1.4-8.7l1.4-8.1l1.4-4.3l1.4-4.3l1.4-1.4l1.4-2l1.4-2.2l1.4-.3l1.4-1.2l1.4-.8l1.4-.9l1.4-1.4l1.4-.1l1.4-2.1l1.4-2.7l1.4-1.4l1.4-2.7l1.4-3.5l1.4-3.2l1.4-2.1l1.4-3.3l1.4-4l1.4-2.9l1.4-2.5l1.4-3.6l1.4-2.7l1.4-2.2l1.4-3.7l1.4-1.5l1.4-1.8l1.4-1.6l1.4-1.8l1.4-.1l1.4 0l1.4-1.1l1.4-.4l1.4-.2l1.4-.6l1.4-.3l1.4-.2l1.4 .1l1.4-.7l1.4 1.2l1.4-.9l1.4 .6l1.4 .2l1.4 1.6l1.4-1.5l1.4 1.9l1.4 0l1.4-.4l1.4 .8l1.4 .1l1.4 1l1.4-.7l1.4-.1l1.5 0l1.4 .6l1.4-.1l1.4 .1l1.4 .6l1.4 .2l1.4-1l1.4 1.4l1.4-.8l1.4 .7l1.4-.5l1.4 1.2l1.4-.3l1.4 .2l1.4 .5l1.4 0l1.4 .7l1.4-.1l1.4 .3l1.4-.3l1.4 .5l1.4 .8l1.4-.3l1.4 0l1.4 .5l1.4-.9l1.4 .5l1.4-.1l1.4 .7l1.4-.1l1.4-.6l1.4 1l1.4-.8l1.4 .1l1.4 .3l1.4-.3l1.4 .5l1.4-.6l1.4 .6l1.4 0l1.4-1.2l1.4 .9l1.4 .6l1.4-1.4l1.4 .7l1.4 1.2l1.4-1.6l1.4-.5l1.4 .2l1.4-.6l1.4 .8l1.4-.4l1.4 .6l1.4-.6l1.4-.7l1.4 .3l1.4 0l1.4 .8l1.4-.9l1.4 .3l1.4-1.1l1.4 .5l1.4-.6l1.4 .4l1.4-1.4l1.4 1.3l1.4-.7l1.4-1.2l1.4 1l1.4 .4l1.4-.7l1.4-.1l1.4 0l1.4 1.3l1.4-.9l1.4 1l1.4-1.7l1.4 .8l1.4 .3l1.4-.5l1.5 .1l1.4 .8l1.4-1.2l1.4 .9l1.4 .7l1.4-1.4l1.4 0l1.4 .2l1.4 .3l1.4 .7l1.4-.8l1.4-.4l1.4 .5l1.4-.3l1.4 1.1l1.4-.8l1.4 0l1.4 1.1l1.4 .1l1.4-.4l1.4-.3l1.4-.1l1.4 .3l1.4-.1l1.4 .1l1.4-.1l1.4-.2l1.4 .1l1.4 .2l1.4-.1l1.4 .3l1.4-.5l1.4 .6l1.4-1l1.4 .8l1.4-.1l1.4 .5l1.4-.2l1.4-.2l1.4 .1l1.4 .3" stroke="#63309f"/>
<path d="M30.3 505.7l1.4-.1l1.4-.2l1.4-.4l1.4 .9l1.4 .9l1.4-1l1.4 .9l1.4-.3l1.4-1.4l1.4 .3l1.4 .6l1.4 0l1.4-.4l1.4 .9l1.4-1.3l1.4 .5l1.4-1.3l1.4 1.6l1.4-1.2l1.4 .9l1.4-1.1l1.4 1.1l1.4-1l1.4 .6l1.4 .2l1.4-.5l1.4-.4l1.4 0l1.4-.7l1.4 .3l1.4 1.9l1.4-1.3l1.4 .8l1.4-1l1.4-.7l1.4 1l1.4-.2l1.4-.9l1.4 .2l1.5-1.2l1.4 .5l1.4-.3l1.4-.8l1.4 1.1l1.4-.5l1.4 .3l1.4-.9l1.4-.7l1.4-.5l1.4 .5l1.4 0l1.4-.4l1.4 0l1.4-1.4l1.4-1.2l1.4 1.4l1.4-1.1l1.4-3.2l1.4 .1l1.4-3.4l1.4-3.1l1.4-6.6l1.4-5.9l1.4-7.1l1.4-8.8l1.4-4.4l1.4-3.5l1.4-2.8l1.4-1l1.4 0l1.4-.9l1.4-1.4l1.4-1.1l1.4-1.2l1.4-.8l1.4-2.2l1.4-1.4l1.4-2.4l1.4-2.3l1.4-3l1.4-1.7l1.4-4.7l1.4-2.7l1.4-3.4l1.4-3.3l1.4-3.3l1.4-2.8l1.4-2.6l1.4-2.4l1.4-1.7l1.4-3.2l1.4-1.9l1.4-1.9l1.4-2.7l1.4 1l1.4-1.7l1.4-1.2l1.4-.5l1.4-.6l1.4 .7l1.4-.4l1.4-1l1.4 .2l1.4-1.1l1.4 .6l1.4 .1l1.4 .1l1.4 .6l1.4 .1l1.4 .8l1.4 0l1.4 .6l1.4 0l1.4 1l1.4 .3l1.4-.7l1.4 .3l1.4 .7l1.4-.2l1.5 .5l1.4-1.2l1.4 1.8l1.4-1.4l1.4 1.3l1.4-.4l1.4 .4l1.4 .2l1.4-.4l1.4 .2l1.4 .7l1.4 .5l1.4-1.2l1.4 .5l1.4 .8l1.4 .4l1.4-.1l1.4 .3l1.4-.3l1.4 1.1l1.4-.2l1.4 .5l1.4-.8l1.4-.1l1.4 1l1.4-.2l1.4-.3l1.4 .8l1.4 .4l1.4-.9l1.4 .2l1.4 .3l1.4-.7l1.4 .5l1.4 .9l1.4-1l1.4 .2l1.4-.9l1.4 .8l1.4 .1l1.4-.3l1.4 0l1.4 .8l1.4-.8l1.4 .2l1.4-.8l1.4-.5l1.4 1.5l1.4-.1l1.4-.1l1.4-.1l1.4 0l1.4-.5l1.4-.5l1.4 .9l1.4 0l1.4 0l1.4-1.5l1.4-.2l1.4 1.1l1.4-.1l1.4-1l1.4-.6l1.4-.1l1.4 .3l1.4-.4l1.4 .1l1.4 .3l1.4-1.2l1.4 .8l1.4 .5l1.4-.3l1.4 .5l1.4-.7l1.4-.4l1.4 1.1l1.4-1.1l1.4-.4l1.4 .8l1.4 .7l1.5-.1l1.4-.2l1.4 .5l1.4 0l1.4-.4l1.4 0l1.4-.3l1.4 .9l1.4-1.4l1.4 .4l1.4 .1l1.4 .7l1.4-1l1.4 .9l1.4-.9l1.4 .3l1.4 .9l1.4-.1l1.4-1.1l1.4 .4l1.4 .6l1.4-.2l1.4 .1l1.4 .4l1.4-.2l1.4 .2l1.4-.1l1.4-.4l1.4 .7l1.4-.7l1.4 .3l1.4-.3l1.4-.1l1.4-.1l1.4 .3l1.4 0l1.4 .4l1.4-.3l1.4 .6l1.4-.2l1.4-.5" stroke="#4e1a8c"/>
</g>
<line x1="35.1" y1="368.5" x2="49.1" y2="368.5" stroke="#1e4d32" stroke-width="1.25"/>
<text x="53.9" y="370.7" font-size="6.4">26.6px</text>
<line x1="35.1" y1="377.5" x2="49.1" y2="377.5" stroke="#2e5d40" stroke-width="1.25"/>
<text x="53.9" y="380.3" font-size="6.4">29.9px</text>
<line x1="35.1" y1="387.5" x2="49.1" y2="387.5" stroke="#3f6f51" stroke-width="1.25"/>
<text x="53.9" y="389.8" font-size="6.4">33.2px</text>
<line x1="35.1" y1="397.5" x2="49.1" y2="397.5" stroke="#5a886b" stroke-width="1.25"/>
<text x="53.9" y="399.4" font-size="6.4">36.5px</text>
<line x1="35.1" y1="406.5" x2="49.1" y2="406.5" stroke="#75a084" stroke-width="1.25"/>
<text x="53.9" y="408.9" font-size="6.4">39.8px</text>
<line x1="35.1" y1="416.5" x2="49.1" y2="416.5" stroke="#91b69e" stroke-width="1.25"/>
<text x="53.9" y="418.5" font-size="6.4">43.1px</text>
<line x1="35.1" y1="425.5" x2="49.1" y2="425.5" stroke="#accab6" stroke-width="1.25"/>
<text x="53.9" y="428.1" font-size="6.4">46.4px</text>
<line x1="35.1" y1="435.5" x2="49.1" y2="435.5" stroke="#c8dcce" stroke-width="1.25"/>
<text x="53.9" y="437.6" font-size="6.4">49.7px</text>
<line x1="35.1" y1="444.5" x2="49.1" y2="444.5" stroke="#dde7e0" stroke-width="1.25"/>
<text x="53.9" y="447.2" font-size="6.4">53.0px</text>
<line x1="35.1" y1="454.5" x2="49.1" y2="454.5" stroke="#f0f0f0" stroke-width="1.25"/>
<text x="53.9" y="456.7" font-size="6.4">56.3px</text>
<line x1="78.9" y1="368.5" x2="92.8" y2="368.5" stroke="#e5dded" stroke-width="1.25"/>
<text x="97.5" y="370.7" font-size="6.4">59.6px</text>
<line x1="78.9" y1="377.5" x2="92.8" y2="377.5" stroke="#d9c9e8" stroke-width="1.25"/>
<text x="97.5" y="380.3" font-size="6.4">62.9px</text>
<line x1="78.9" y1="387.5" x2="92.8" y2="387.5" stroke="#c7b2de" stroke-width="1.25"/>
<text x="97.5" y="389.8" font-size="6.4">66.2px</text>
<line x1="78.9" y1="397.5" x2="92.8" y2="397.5" stroke="#b59bd4" stroke-width="1.25"/>
<text x="97.5" y="399.4" font-size="6.4">69.5px</text>
<line x1="78.9" y1="406.5" x2="92.8" y2="406.5" stroke="#a284ca" stroke-width="1.25"/>
<text x="97.5" y="408.9" font-size="6.4">72.8px</text>
<line x1="78.9" y1="416.5" x2="92.8" y2="416.5" stroke="#8d67be" stroke-width="1.25"/>
<text x="97.5" y="418.5" font-size="6.4">76.1px</text>
<line x1="78.9" y1="425.5" x2="92.8" y2="425.5" stroke="#7848b1" stroke-width="1.25"/>
<text x="97.5" y="428.1" font-size="6.4">79.4px</text>
<line x1="78.9" y1="435.5" x2="92.8" y2="435.5" stroke="#63309f" stroke-width="1.25"/>
<text x="97.5" y="437.6" font-size="6.4">82.7px</text>
<line x1="78.9" y1="444.5" x2="92.8" y2="444.5" stroke="#4e1a8c" stroke-width="1.25"/>
<text x="97.5" y="447.2" font-size="6.4">86.0px</text>
<g fill="none" stroke-width="1.35" stroke-linejoin="round" clip-path="url(#cp3)">
<path d="M366.9 506.8l1.4-.8l1.4 2.4l1.4-3.9l1.4 3.1l1.4-1.6l1.4 .7l1.4-1.6l1.4 2.1l1.4 .9l1.4 1.4l1.4-2.5l1.4 1.3l1.4-2.7l1.4-1.5l1.4 5.8l1.4-1.6l1.4-2.5l1.4-1.6l1.4 1.5l1.4-.1l1.4-.3l1.4-.2l1.4-1.7l1.4 1.5l1.4 2.9l1.4-1.2l1.4-1.2l1.4 1.6l1.4-.9l1.4 .4l1.4 .2l1.4-2.3l1.4 1.7l1.4 1l1.4-.6l1.4-1.3l1.4-3.3l1.4 2.9l1.4-2.1l1.5 1.5l1.4 4.2l1.4-4.2l1.4 1.9l1.4 .7l1.4-.6l1.4-4.7l1.4 5.2l1.4-1.7l1.4-3.1l1.4 .5l1.4 3.4l1.4-2.9l1.4 .2l1.4-1.1l1.4-2.1l1.4 1.4l1.4-1.2l1.4-3.8l1.4 4.2l1.4-4.6l1.4-6.1l1.4-3l1.4-7l1.4-5.7l1.4-7.7l1.4-3.6l1.4-6.1l1.4-1.7l1.4 2l1.4 1.4l1.4-.6l1.4-.2l1.4 1.1l1.4-5l1.4 0l1.4-2.4l1.4 1.6l1.4-5.8l1.4-4.6l1.4-1.2l1.4-1.1l1.4-7l1.4-4l1.4-4.4l1.4-3.2l1.4-4.8l1.4-1.9l1.4-4.3l1.4-2l1.4-4l1.4-3.8l1.4-.2l1.4-3.2l1.4 .4l1.4-2.1l1.4-1.5l1.4-2.9l1.4 1.8l1.4-3.1l1.4 2.9l1.4-2.1l1.4-1.8l1.4 0l1.4 1.9l1.4 .3l1.4-2.6l1.4 2.9l1.4-2.1l1.4 1.7l1.4-.2l1.4-2.6l1.4 1.4l1.4 1.3l1.4 3.2l1.4-1.8l1.4 .6l1.4 .4l1.4-1.6l1.4 4.2l1.4-2.4l1.5 .5l1.4 1.3l1.4-2.9l1.4 4l1.4-1.5l1.4 .2l1.4 3l1.4-.8l1.4-.5l1.4-2.2l1.4-.1l1.4 .5l1.4 .5l1.4 3.2l1.4-3l1.4 1l1.4-2.1l1.4-.2l1.4-1.1l1.4 2l1.4-.1l1.4 2.5l1.4-1.4l1.4 1.7l1.4-2.7l1.4 2.7l1.4-1.2l1.4 .8l1.4-.4l1.4-1.2l1.4 1.4l1.4-1l1.4 1.6l1.4-3.1l1.4 2.7l1.4-2.2l1.4-1.4l1.4 5.9l1.4-1.9l1.4-1l1.4-1.7l1.4 2.1l1.4-1.1l1.4 1.4l1.4-1.7l1.4 2.3l1.4-2.6l1.4 4.9l1.4-1.5l1.4-4.8l1.4 2.1l1.4 1.4l1.4-4l1.4 1.5l1.4-.2l1.4 2l1.4-1.4l1.4 .2l1.4 2.7l1.4-2.9l1.4 1l1.4-1.9l1.4-.1l1.4 2.5l1.4-.1l1.4-1l1.4-.7l1.4 1.4l1.4-.4l1.4-1l1.4 .2l1.4-.9l1.4 1.1l1.4 1.4l1.4 1.1l1.4-3.3l1.4 1.4l1.4 0l1.4-.1l1.5 1.6l1.4-1.6l1.4 2.9l1.4-2.9l1.4 .6l1.4-3.6l1.4 1.8l1.4 .8l1.4-.6l1.4-.7l1.4 1.8l1.4-.7l1.4 .1l1.4-3.7l1.4 3.1l1.4 2.6l1.4-3.6l1.4-2.4l1.4 4.6l1.4-5.8l1.4 4.6l1.4-1.4l1.4 2l1.4-.5l1.4 1.3l1.4-.3l1.4 1.4l1.4-4.3l1.4 2.9l1.4-2l1.4 .1l1.4 1.2l1.4-.9l1.4 .1l1.4 .5l1.4-.7l1.4 0l1.4 1.3l1.4 .4l1.4-.6l1.4-1.3" stroke="#1e4d32"/>
<path d="M366.9 503.4l1.4 1.9l1.4-1.1l1.4 1.3l1.4-1.6l1.4 1.6l1.4-.5l1.4 1.1l1.4-.5l1.4-3.1l1.4 5l1.4-2l1.4 .9l1.4-2.6l1.4-1.5l1.4 3.5l1.4 3.9l1.4-5.6l1.4 0l1.4 3.7l1.4-2.5l1.4-.3l1.4 3.6l1.4-5l1.4 .3l1.4 .3l1.4 2l1.4-.6l1.4-.2l1.4-2l1.4 2.4l1.4-4.1l1.4 1.6l1.4 4.2l1.4-6.5l1.4 2.4l1.4 1l1.4-1.2l1.4 3.1l1.4-3.5l1.5 4.2l1.4-2.6l1.4-4.1l1.4 0l1.4 2.4l1.4 .8l1.4-3.3l1.4 1.3l1.4-.7l1.4-1.1l1.4 2.4l1.4-3.6l1.4 4.3l1.4-6.5l1.4 4.4l1.4-2.3l1.4-.7l1.4-3.3l1.4-1.1l1.4-.8l1.4-2.5l1.4-5.3l1.4-7l1.4-4.7l1.4-7.4l1.4-6.6l1.4-7.7l1.4-2.6l1.4-1.4l1.4-1l1.4 .7l1.4 .9l1.4 .1l1.4-.4l1.4-6.4l1.4-.8l1.4 2.4l1.4-3.4l1.4-3.1l1.4-4.2l1.4 .7l1.4-4.8l1.4-5.2l1.4 1.6l1.4-4.7l1.4-4.1l1.4-1.7l1.4-7.3l1.4-.5l1.4-1.2l1.4-.7l1.4-4.5l1.4-1.4l1.4 .1l1.4-1.4l1.4 .3l1.4-2.8l1.4-2l1.4-.8l1.4 0l1.4-.7l1.4 1.5l1.4-.4l1.4-2.4l1.4 1l1.4 1.6l1.4-1.6l1.4-.4l1.4 .4l1.4 1l1.4 1.1l1.4-1l1.4-1.5l1.4 2.3l1.4 1.4l1.4-1.1l1.4 2.2l1.4-1.7l1.4 .9l1.4-1.5l1.4 1.3l1.5-1.1l1.4-1.5l1.4 3.5l1.4 1l1.4-1.6l1.4 .9l1.4-.2l1.4 1.1l1.4-1.5l1.4 .8l1.4 3l1.4-2.5l1.4-.7l1.4-1l1.4 2.3l1.4 .4l1.4-2.5l1.4 2.3l1.4-.8l1.4-.5l1.4-.3l1.4 1l1.4 1.5l1.4-2.7l1.4 1.9l1.4 .2l1.4-3.3l1.4 1.5l1.4 2.6l1.4-.7l1.4-.3l1.4 .7l1.4 1.5l1.4-3.5l1.4 0l1.4 .7l1.4 .9l1.4-.8l1.4-.6l1.4 2.3l1.4-1l1.4 .3l1.4-1.6l1.4 .5l1.4 2.1l1.4-.9l1.4-3.2l1.4 3.6l1.4-1.4l1.4 1l1.4-2.5l1.4 1.7l1.4 .5l1.4 .9l1.4-1.2l1.4-1.4l1.4 .2l1.4 2.6l1.4-3.8l1.4 2.3l1.4 1.1l1.4-1.6l1.4 1l1.4-.1l1.4 .1l1.4-.7l1.4 .5l1.4 1.6l1.4-3l1.4 1.4l1.4-2.3l1.4 .8l1.4-.1l1.4 .6l1.4-1.5l1.4 2.1l1.4 .8l1.4-1.8l1.4 4l1.5-3.1l1.4-.8l1.4 .8l1.4-2.3l1.4 .7l1.4 .7l1.4 .7l1.4-2l1.4 2.2l1.4-.3l1.4-1.6l1.4 .1l1.4-1.9l1.4 2.9l1.4 2.2l1.4-3.4l1.4-.8l1.4 1.8l1.4-2.3l1.4-.3l1.4 3.1l1.4-.2l1.4 .9l1.4-2.3l1.4-.3l1.4 .1l1.4 2.4l1.4-.7l1.4 .9l1.4 .2l1.4-.4l1.4 .3l1.4-1.9l1.4-.8l1.4-.3l1.4 .9l1.4 .8l1.4-.9l1.4-.8l1.4 1.1l1.4-.5" stroke="#3a6a4c"/>
<path d="M366.9 506.6l1.4-.9l1.4 1.9l1.4-3.6l1.4 4.3l1.4-3.4l1.4 3l1.4-4.8l1.4 1.1l1.4 2.7l1.4-.7l1.4 1.1l1.4-1.8l1.4-.8l1.4-3.6l1.4 6.4l1.4-4.4l1.4 2.9l1.4-1.4l1.4-1.1l1.4 .5l1.4 .1l1.4 .9l1.4-.3l1.4-.4l1.4-1.8l1.4 4.3l1.4-1.7l1.4 1.2l1.4-.6l1.4-.3l1.4-3.2l1.4-1.8l1.4 1.2l1.4 4l1.4-2.2l1.4 1.9l1.4-2.8l1.4-1.5l1.4 1l1.5-.6l1.4 1.4l1.4 2.8l1.4-.2l1.4-3.3l1.4-1.3l1.4-1.4l1.4 2.4l1.4-1.1l1.4-.6l1.4-1.8l1.4 1.4l1.4 1.1l1.4-4.2l1.4 .5l1.4-.7l1.4 1.9l1.4-3l1.4 1.6l1.4-.9l1.4-5.2l1.4-5.1l1.4-9.7l1.4-9.5l1.4-5.7l1.4-9.7l1.4-.1l1.4-4.9l1.4 2l1.4-2.8l1.4 .5l1.4-.5l1.4-2.1l1.4 2.9l1.4-4.5l1.4 .3l1.4-2.9l1.4-2l1.4-.6l1.4-2.2l1.4-1.6l1.4-6.2l1.4-1.5l1.4-4.9l1.4 .1l1.4-7.4l1.4 1.1l1.4-6l1.4 .1l1.4-3.7l1.4-1.3l1.4-3l1.4-.8l1.4-3l1.4-.5l1.4-1.1l1.4-2.2l1.4 2.3l1.4-3.2l1.4 1.1l1.4 1.6l1.4-2.8l1.4 .7l1.4-2.7l1.4 2.8l1.4-.7l1.4-.2l1.4 2.9l1.4-3l1.4 2.2l1.4-2.9l1.4-.1l1.4 2.4l1.4 2.3l1.4-2l1.4 .2l1.4-.5l1.4 1.5l1.4 1.3l1.4-1.2l1.4 1.2l1.5-3.3l1.4 3.4l1.4 0l1.4-.6l1.4 1.7l1.4-.9l1.4-.3l1.4 .5l1.4-.2l1.4-1.9l1.4 1.2l1.4 2.3l1.4-1.1l1.4-1.5l1.4 1.9l1.4-.9l1.4 .2l1.4-.6l1.4 .9l1.4 0l1.4 1l1.4-1.5l1.4 1.7l1.4-3.4l1.4 2.3l1.4 .3l1.4-1.3l1.4 1.2l1.4-.2l1.4 .2l1.4 .9l1.4 .3l1.4-.3l1.4-2.3l1.4 2.3l1.4-.3l1.4 .1l1.4-1.5l1.4-1.7l1.4 3.8l1.4-1.9l1.4 .5l1.4 .6l1.4-1.1l1.4 2.3l1.4-2.7l1.4 .8l1.4 1.6l1.4-3.4l1.4 .9l1.4-.4l1.4 3.4l1.4-1.5l1.4 .3l1.4-1.5l1.4-1l1.4 4.2l1.4-2.5l1.4 .2l1.4-1.5l1.4 1.4l1.4 1.6l1.4-1.5l1.4 1.1l1.4-.3l1.4-1.1l1.4 .7l1.4-1l1.4 2.3l1.4-5l1.4 1.4l1.4 .6l1.4 2.6l1.4 1.1l1.4-1.7l1.4-.8l1.4-3.3l1.4 1.2l1.4 2.3l1.5-2.2l1.4-.1l1.4 1.5l1.4-1.6l1.4 1.1l1.4 1.3l1.4 .6l1.4-1.4l1.4-1.5l1.4 3l1.4 .3l1.4-2.9l1.4 4.2l1.4-5.9l1.4 2.9l1.4-1.6l1.4-1.5l1.4 4.3l1.4-.6l1.4-4.3l1.4 3.2l1.4-.2l1.4-.5l1.4-1.1l1.4-.4l1.4 1.6l1.4 .5l1.4-.4l1.4-.5l1.4-1.3l1.4 1.5l1.4-2.2l1.4 3.4l1.4-1.8l1.4-1.6l1.4 .6l1.4 1.2l1.4 1.5l1.4-.2l1.4-.8l1.4-.6" stroke="#6a977a"/>
<path d="M366.9 508.0l1.4-1.2l1.4-2l1.4-.5l1.4 3.6l1.4-1.7l1.4 2.1l1.4-1.9l1.4-6.7l1.4 5.6l1.4 .6l1.4 .4l1.4 .9l1.4 1l1.4-3l1.4 .3l1.4-2.9l1.4 5l1.4-3.4l1.4-1.6l1.4 5.3l1.4-4.3l1.4 3.6l1.4-3.5l1.4-1.7l1.4 2.3l1.4-.5l1.4 1.5l1.4-1.7l1.4-1.5l1.4 2.1l1.4-.2l1.4-.9l1.4-.8l1.4 3.8l1.4-2.9l1.4 1.1l1.4-2.1l1.4-1l1.4 1l1.5-1.8l1.4 3.6l1.4-1.2l1.4 .7l1.4-1.9l1.4-.3l1.4 .2l1.4 1.3l1.4-2.1l1.4 .1l1.4-2.1l1.4 .9l1.4-2.8l1.4 .9l1.4 2.7l1.4-3.5l1.4 1.3l1.4-4.8l1.4-1.8l1.4 1.1l1.4-2.9l1.4-2.2l1.4-6.7l1.4-10.5l1.4-8.3l1.4-4.2l1.4-5.9l1.4-2.4l1.4-1.2l1.4-1.5l1.4 1.3l1.4 1.7l1.4-1.5l1.4-2l1.4 1.2l1.4-5.5l1.4-1.2l1.4-.3l1.4-1.8l1.4-10l1.4 1.5l1.4-4l1.4-5.1l1.4-2l1.4-1.9l1.4-3.7l1.4-.2l1.4-5.2l1.4 1.2l1.4-5.3l1.4-2.3l1.4 .9l1.4-6.2l1.4 2.7l1.4-4.1l1.4 1l1.4-2l1.4 .6l1.4-4.7l1.4 1.4l1.4-1.4l1.4 1l1.4-.1l1.4 .6l1.4 .4l1.4-1.1l1.4 .7l1.4 .5l1.4 1.7l1.4-1.2l1.4-1l1.4 1.7l1.4-.9l1.4 .9l1.4 1.4l1.4 0l1.4 0l1.4-.4l1.4 .1l1.4-1.6l1.4 3l1.5 1.4l1.4-3.4l1.4 1.6l1.4-.3l1.4-3.3l1.4 1.5l1.4 1.3l1.4-.4l1.4 1.2l1.4-1l1.4 2.1l1.4 .2l1.4-.3l1.4-2.6l1.4 .1l1.4 2.9l1.4-2.3l1.4 1.8l1.4-1.6l1.4 1.9l1.4-1.6l1.4 1.4l1.4 .3l1.4-.3l1.4-.2l1.4 1l1.4 1l1.4-3.9l1.4 2.7l1.4 1.9l1.4 .6l1.4 .8l1.4-2.9l1.4-2.5l1.4 3.9l1.4-1.7l1.4 2l1.4-3.8l1.4 .9l1.4 .1l1.4-1.3l1.4-.4l1.4 .8l1.4 2.1l1.4 .9l1.4-.3l1.4 .9l1.4-4.7l1.4 2.6l1.4-.4l1.4-.1l1.4-2.4l1.4 3.4l1.4-2.3l1.4 1.1l1.4 .6l1.4 2.3l1.4-3.7l1.4 2.2l1.4-.4l1.4-.9l1.4 .1l1.4-1.3l1.4 2.3l1.4-1.1l1.4-.2l1.4 .4l1.4-.9l1.4 1.2l1.4-1.9l1.4 2.5l1.4 .9l1.4-1.8l1.4-1.7l1.4 2.2l1.4 .1l1.4-.4l1.4-.7l1.4 .4l1.5-.6l1.4 2.6l1.4-4.3l1.4 1.2l1.4 1.8l1.4-2.9l1.4 1.1l1.4-1.4l1.4 3.5l1.4-3.8l1.4 2.1l1.4 2.7l1.4-3.7l1.4 1.3l1.4 .9l1.4-1.1l1.4 2.2l1.4-3.3l1.4 1l1.4 0l1.4-2.2l1.4 1.7l1.4 .9l1.4 .4l1.4-1.2l1.4-1.5l1.4 2.1l1.4 .6l1.4-2.6l1.4 1.1l1.4 0l1.4-2.7l1.4 4.2l1.4-1.8l1.4 2.5l1.4-1.9l1.4-1.2l1.4-.7l1.4 3.1l1.4-2.8l1.4 0" stroke="#9cbfa8"/>
<path d="M366.9 501.5l1.4 4l1.4 1.4l1.4-2.2l1.4 3.8l1.4-5.7l1.4 .9l1.4 2.3l1.4-1.7l1.4 .1l1.4-2.4l1.4 4.1l1.4 1.1l1.4 1.1l1.4-2.9l1.4 2.1l1.4-2.4l1.4-1l1.4 1.3l1.4 .8l1.4-3.6l1.4 2.2l1.4-.8l1.4-1.3l1.4 3.6l1.4-.7l1.4-5.7l1.4 4.3l1.4 1.3l1.4-1.3l1.4 .4l1.4 1l1.4-1.5l1.4-.7l1.4-.2l1.4-1l1.4 3.6l1.4-.6l1.4-3.9l1.4 1.9l1.5-2.9l1.4 1.2l1.4 2.6l1.4-3.4l1.4 2.3l1.4-2.3l1.4-1.9l1.4-1.7l1.4 3.2l1.4-1.7l1.4 .2l1.4-1.3l1.4 4.8l1.4-4.1l1.4-1.8l1.4-1.1l1.4 1.2l1.4-3.5l1.4-1.7l1.4 .3l1.4-1.8l1.4-5.4l1.4-9.3l1.4-10.1l1.4-8.9l1.4-3.8l1.4-3l1.4-2.7l1.4-4.1l1.4 .6l1.4-.6l1.4-.8l1.4-.7l1.4-.2l1.4 .2l1.4-1.9l1.4-2.6l1.4-2l1.4-.5l1.4-2.1l1.4-5.7l1.4-.3l1.4-4.3l1.4-2l1.4-1.9l1.4-1.6l1.4-4.2l1.4-1.9l1.4-5l1.4 .7l1.4-2.9l1.4-3.2l1.4-.6l1.4-2.1l1.4-1.6l1.4 2.2l1.4-2.4l1.4 0l1.4-3.6l1.4 1.4l1.4-1.2l1.4-1.8l1.4 2.5l1.4-.7l1.4-.5l1.4 .9l1.4-1.9l1.4 .7l1.4-.1l1.4 1.4l1.4 .7l1.4 .2l1.4 .2l1.4 1.9l1.4-2.4l1.4-.4l1.4 1.2l1.4 .8l1.4-.5l1.4-.1l1.4 .1l1.5-1.8l1.4 3.6l1.4-1.4l1.4-.3l1.4 .9l1.4 .5l1.4 1.1l1.4-.4l1.4-1.6l1.4-.9l1.4 2.8l1.4-1.4l1.4 0l1.4-.6l1.4 1.1l1.4-.2l1.4-.6l1.4 2.7l1.4-1.5l1.4 2.4l1.4 .3l1.4-1.4l1.4 .9l1.4-2.6l1.4-.5l1.4 1.7l1.4-.2l1.4 .1l1.4 .1l1.4-.5l1.4-.2l1.4 1.1l1.4 .4l1.4-.3l1.4-1.7l1.4 1.6l1.4-2.4l1.4 2.2l1.4-2.1l1.4 3.3l1.4-.6l1.4-1.5l1.4 0l1.4 .8l1.4-2.8l1.4 2.5l1.4-.3l1.4 1.1l1.4-2.9l1.4 1.1l1.4 .5l1.4 2.6l1.4-2.5l1.4 1l1.4-1.1l1.4-.7l1.4 2.1l1.4-1.2l1.4-.8l1.4 .9l1.4 .6l1.4 .9l1.4-.5l1.4 .7l1.4-2.8l1.4 1.1l1.4 1.6l1.4-1.5l1.4 1.6l1.4 2.6l1.4-5.8l1.4 0l1.4 3.4l1.4-1l1.4-1.2l1.4 .7l1.4 .6l1.4-.5l1.4-.4l1.5 .4l1.4-1l1.4 .5l1.4 .6l1.4-1l1.4 2.1l1.4-4l1.4 4l1.4-2.2l1.4-.5l1.4-.2l1.4 .2l1.4-1.4l1.4 3l1.4-1.3l1.4-.4l1.4 .8l1.4 .1l1.4-2.4l1.4 2.5l1.4-.4l1.4-.2l1.4-.2l1.4-.5l1.4 .5l1.4-.8l1.4 .3l1.4-.5l1.4-1.1l1.4 2.7l1.4-3.2l1.4 2.7l1.4-1.5l1.4 .6l1.4 .6l1.4 2.1l1.4-4.6l1.4 3l1.4 0l1.4-2.3l1.4 1.2" stroke="#cde0d3"/>
<path d="M366.9 502.5l1.4 1.5l1.4 .7l1.4-.8l1.4 3.3l1.4-2.4l1.4 0l1.4 1l1.4-1.2l1.4 2.6l1.4-3.8l1.4-.6l1.4 4l1.4-2.3l1.4-2.3l1.4 1.7l1.4 2.2l1.4-.1l1.4-3l1.4-1.7l1.4 4.6l1.4-1.9l1.4 1.2l1.4-.9l1.4-1l1.4 .5l1.4 .9l1.4-4.5l1.4 3.4l1.4 0l1.4-2.2l1.4 1.7l1.4 .2l1.4-2l1.4 3l1.4-3l1.4-.6l1.4 .4l1.4 1.2l1.4-.5l1.5 2.5l1.4-2.8l1.4-.9l1.4-1.1l1.4 .8l1.4 .6l1.4 .4l1.4-1.6l1.4-.7l1.4-2.2l1.4 1.4l1.4 .3l1.4-1.3l1.4 0l1.4-1.2l1.4 2.3l1.4-1.8l1.4-1.6l1.4-3.8l1.4-.7l1.4-2.6l1.4-7.3l1.4-5.7l1.4-12.3l1.4-7.5l1.4-5.5l1.4-6.8l1.4 2.6l1.4-1.6l1.4-2.2l1.4-1.6l1.4 .3l1.4 2.1l1.4-4l1.4-1.6l1.4-5.5l1.4 .4l1.4 .4l1.4 0l1.4-4.4l1.4-.4l1.4-5.1l1.4-3.3l1.4-1.4l1.4-3.6l1.4-1.5l1.4-1.9l1.4-5.5l1.4-.5l1.4-.6l1.4-1.2l1.4-2.8l1.4-1.9l1.4-1.6l1.4-1.8l1.4 .4l1.4 1.2l1.4-4.6l1.4 .6l1.4 0l1.4-1l1.4 3.3l1.4-1.5l1.4 .1l1.4-2.2l1.4 3l1.4-1l1.4-2.2l1.4 1.2l1.4 1.4l1.4-2.7l1.4 4.2l1.4-2.1l1.4 1l1.4-.8l1.4 1.2l1.4 .8l1.4-1.1l1.4 2l1.4-2.1l1.4 1.2l1.5-1.4l1.4 1.8l1.4 .4l1.4-1.2l1.4-1l1.4 4.3l1.4-2.7l1.4-.5l1.4 2.6l1.4-.6l1.4-1.8l1.4 1.9l1.4-.2l1.4-2.9l1.4 3.4l1.4 0l1.4 1.8l1.4-1.4l1.4 .2l1.4-3.7l1.4 .7l1.4 3.1l1.4-4l1.4 1.6l1.4 1.2l1.4-1.2l1.4 .6l1.4 1.4l1.4 1.3l1.4-1l1.4-1.1l1.4 .5l1.4 .5l1.4-2.2l1.4 2.6l1.4-2.4l1.4 1.7l1.4-.7l1.4 1.5l1.4-1.4l1.4 1l1.4 1.2l1.4-2.1l1.4 0l1.4-1.1l1.4 .7l1.4 1.6l1.4-.5l1.4 2.3l1.4-1.7l1.4-3l1.4-.3l1.4 .9l1.4 .6l1.4-.3l1.4 .1l1.4 2.7l1.4-1l1.4-2.6l1.4 0l1.4 1.2l1.4 .6l1.4 .1l1.4 .2l1.4 .5l1.4 1.2l1.4-2.6l1.4 .8l1.4-.3l1.4-2.5l1.4 1.4l1.4 1.7l1.4-1.7l1.4 2.6l1.4-3.2l1.4 1l1.4 .5l1.4-1l1.4-1.1l1.5 2.3l1.4 .6l1.4-3.9l1.4 2.6l1.4-1.9l1.4 2.7l1.4-1.4l1.4 1.2l1.4-1.6l1.4 1.1l1.4 .4l1.4-2.8l1.4 1.5l1.4 2.9l1.4-2.3l1.4 .8l1.4 .3l1.4-.8l1.4-.2l1.4-.6l1.4 1l1.4 1.3l1.4-1.7l1.4-1.8l1.4 2.8l1.4-2.6l1.4 .2l1.4 1.1l1.4-1l1.4 1.3l1.4-.4l1.4 .7l1.4-1.9l1.4-1.1l1.4 2.5l1.4-2.4l1.4 4.2l1.4-1.6l1.4 .1l1.4-3.4l1.4 2.8" stroke="#f0f0f0"/>
<path d="M366.9 508.2l1.4-3.4l1.4-.7l1.4 .9l1.4 4.2l1.4-4.6l1.4-1l1.4-.9l1.4 1.4l1.4 3.3l1.4-2.4l1.4-1.8l1.4 2.6l1.4-2.2l1.4 1.6l1.4-1l1.4-1.1l1.4 2.2l1.4-5.7l1.4 4.2l1.4-.4l1.4 1.6l1.4-1.4l1.4 .4l1.4 1.8l1.4 0l1.4-2.9l1.4 .4l1.4 4l1.4-.9l1.4-3l1.4-.5l1.4-1.2l1.4 2.8l1.4-3.1l1.4 1.2l1.4 .2l1.4-.8l1.4-2l1.4 .5l1.5-.8l1.4 2.3l1.4-.9l1.4 1.1l1.4-1.3l1.4-.6l1.4-.2l1.4-2.2l1.4 0l1.4-1l1.4 .5l1.4-2.1l1.4 .9l1.4-2.1l1.4 0l1.4-1.2l1.4 .4l1.4 .9l1.4-1l1.4-7l1.4 .2l1.4-6l1.4-8.6l1.4-8.9l1.4-14.3l1.4-1.3l1.4-4.8l1.4-1.9l1.4 .6l1.4-.7l1.4-1.8l1.4-1.5l1.4-.7l1.4-3.2l1.4 1.9l1.4-3.8l1.4-3l1.4-.6l1.4 1.5l1.4 .8l1.4-8.5l1.4-2.2l1.4-1l1.4-5.4l1.4 .4l1.4-3.1l1.4-.3l1.4-4.1l1.4-.7l1.4-1.7l1.4-3.6l1.4-.4l1.4 .9l1.4-4l1.4-1.2l1.4 1.3l1.4-1.2l1.4-1.1l1.4-.2l1.4-.8l1.4-1l1.4 1.2l1.4-3.4l1.4 3.6l1.4-.3l1.4-3.1l1.4-.5l1.4 3.1l1.4 .3l1.4 1.3l1.4-2.7l1.4 1.3l1.4 1.4l1.4-1.4l1.4-1.1l1.4 1l1.4-1.8l1.4 1.4l1.4 1.1l1.4 .7l1.4-.6l1.5-.7l1.4 .6l1.4-.2l1.4 1.2l1.4-.6l1.4-.5l1.4 1.9l1.4 1.5l1.4-3.8l1.4 1.5l1.4 1.4l1.4-.8l1.4 .7l1.4 1.9l1.4-1.9l1.4 1.6l1.4-2l1.4 .5l1.4-1.6l1.4 1.7l1.4-.6l1.4 .9l1.4 .1l1.4 1.4l1.4-3l1.4 1.1l1.4 .9l1.4-.9l1.4 .8l1.4 .4l1.4-1.2l1.4-1.2l1.4 1.9l1.4 1.5l1.4-1l1.4-3l1.4 3.3l1.4-2.5l1.4 1.8l1.4-1.3l1.4 1.1l1.4 1.9l1.4-1.5l1.4-3.2l1.4 2.9l1.4-.9l1.4 1.1l1.4-.3l1.4-.5l1.4-.2l1.4-2.2l1.4 2.8l1.4 .2l1.4 .6l1.4 .8l1.4 .4l1.4-2.9l1.4 3.2l1.4-4.1l1.4 .7l1.4 1.4l1.4 1.1l1.4-1.5l1.4 0l1.4-1.4l1.4 2.4l1.4-.5l1.4-.4l1.4 .3l1.4 .4l1.4 1.4l1.4-.1l1.4-1.3l1.4-.6l1.4-1.5l1.4-1.7l1.4 .7l1.4 1.6l1.4-1.9l1.5 2.5l1.4 .5l1.4-3.7l1.4 4.3l1.4-.9l1.4-.2l1.4-2.3l1.4 2.6l1.4-1.8l1.4 1.5l1.4 .9l1.4-1.9l1.4 .1l1.4 1.6l1.4-.4l1.4-.1l1.4-2.3l1.4 .6l1.4 .2l1.4-.3l1.4 1.2l1.4-1.3l1.4 1.4l1.4 .9l1.4-.9l1.4-1.2l1.4 .2l1.4-1.3l1.4 3.5l1.4-1.9l1.4-.8l1.4 1.7l1.4-1.6l1.4 .8l1.4 .9l1.4-2.9l1.4 3.2l1.4-3.1l1.4 1.8l1.4 .6l1.4-.1" stroke="#dccdea"/>
<path d="M366.9 506.2l1.4-1.8l1.4 3.4l1.4-5l1.4 .7l1.4-.9l1.4 3.7l1.4 2.1l1.4-2.8l1.4-.7l1.4-.8l1.4 1.2l1.4-.8l1.4-.4l1.4 2.6l1.4-5.4l1.4 4.6l1.4-2.3l1.4-1.4l1.4 2.9l1.4-1.4l1.4-2.6l1.4 2.9l1.4-2.2l1.4 1.1l1.4 0l1.4-.9l1.4 1.4l1.4-.2l1.4-1.9l1.4 1l1.4-.5l1.4 2.5l1.4-2l1.4-2.1l1.4 .3l1.4 .7l1.4 1.2l1.4-.1l1.4-1.9l1.5-1.8l1.4 1.9l1.4-2.2l1.4 2.2l1.4-2.7l1.4 3.2l1.4-2.2l1.4 1.6l1.4-3.2l1.4-.4l1.4 1.9l1.4-.9l1.4-1.2l1.4 1l1.4-1.7l1.4-.9l1.4-3.5l1.4-2l1.4 1.6l1.4-1.9l1.4-3.1l1.4-4.8l1.4-10.3l1.4-11.3l1.4-8.2l1.4-7.3l1.4-2.4l1.4-5l1.4 2.2l1.4-2.3l1.4 .9l1.4-1.7l1.4-2.1l1.4-.4l1.4-2.7l1.4-.5l1.4 1l1.4 0l1.4-6.8l1.4 .5l1.4-5.7l1.4-.3l1.4-1.3l1.4-4.4l1.4-.9l1.4-2.5l1.4-.6l1.4-4.3l1.4-2.5l1.4 .8l1.4-4.4l1.4 1.6l1.4-2.4l1.4 1.3l1.4-.6l1.4-5.9l1.4 .2l1.4-.2l1.4 3.2l1.4-2.9l1.4-.6l1.4 .3l1.4-.4l1.4 1.6l1.4-1l1.4 1.3l1.4-1l1.4-.8l1.4 1.5l1.4-.5l1.4 .3l1.4-.5l1.4-1l1.4 .9l1.4 0l1.4 2.4l1.4-1.2l1.4-1.4l1.4 2.3l1.4-.5l1.4 .8l1.5-2.8l1.4 2.4l1.4 .5l1.4-1.6l1.4-.6l1.4 .9l1.4-.5l1.4 1l1.4 .5l1.4 .5l1.4 .1l1.4 .2l1.4-1.1l1.4 .6l1.4-.2l1.4-.6l1.4 .9l1.4 1.7l1.4-.7l1.4 .5l1.4 1l1.4-2.5l1.4 1.7l1.4 .2l1.4-.2l1.4-2.5l1.4 1.6l1.4-1.7l1.4 1.5l1.4 .4l1.4-1.2l1.4 0l1.4 .6l1.4 1.5l1.4-.7l1.4 .9l1.4-1.1l1.4-.5l1.4-1.7l1.4 .1l1.4 .9l1.4-.4l1.4 1l1.4-3.3l1.4 1.6l1.4-1.4l1.4 2.9l1.4-.1l1.4-.8l1.4 1.1l1.4-.1l1.4 1.6l1.4-2.5l1.4 1.1l1.4-.9l1.4 1.3l1.4 2l1.4-2.9l1.4-.8l1.4 3.1l1.4-.4l1.4-.9l1.4-.1l1.4 1.9l1.4-4.4l1.4 .9l1.4 2.1l1.4 1.5l1.4-2.8l1.4-2l1.4 1.4l1.4-.4l1.4 2.7l1.4-1.5l1.4 2.1l1.4-4.4l1.4 1.8l1.4 3.3l1.4-.3l1.5-3l1.4 .4l1.4 .5l1.4-1.2l1.4-1.9l1.4 2.1l1.4 2.7l1.4-2.1l1.4 1.4l1.4-.7l1.4-1.5l1.4 .6l1.4 1.1l1.4-1.4l1.4 .9l1.4-1.7l1.4 .9l1.4-.8l1.4 .8l1.4-1.3l1.4 1.1l1.4-.2l1.4 .6l1.4-.9l1.4 2.4l1.4-5.7l1.4 4.3l1.4-1.1l1.4 .7l1.4 0l1.4-1.1l1.4 1.1l1.4-.1l1.4 1.1l1.4-.6l1.4 .3l1.4-3.8l1.4 4l1.4-.4l1.4-1.6l1.4-1.6" stroke="#bda5d8"/>
<path d="M366.9 507.3l1.4-2.7l1.4-.3l1.4 2.7l1.4 .6l1.4-1.3l1.4-2.8l1.4 1.2l1.4-1.3l1.4 1.3l1.4-.1l1.4-1.1l1.4 1.1l1.4-.7l1.4 1.8l1.4-.6l1.4-1.8l1.4 1.1l1.4 .7l1.4-2.3l1.4 .1l1.4 .7l1.4 1.1l1.4-2.7l1.4-2.7l1.4 5.2l1.4 1l1.4-1.3l1.4 .1l1.4 .5l1.4-.3l1.4-3.3l1.4-.2l1.4-1.1l1.4 1l1.4 1.7l1.4-2.6l1.4 2.5l1.4-.7l1.4 1.1l1.5-4.1l1.4 .1l1.4 2.1l1.4-.6l1.4-.8l1.4-.6l1.4-1.4l1.4 .8l1.4-.9l1.4 2.5l1.4-2.5l1.4 1.8l1.4-6.4l1.4-.1l1.4 .3l1.4-1.5l1.4-2.3l1.4 .7l1.4 2.7l1.4-4l1.4 1.1l1.4-8.6l1.4-9.5l1.4-11.8l1.4-10l1.4-6l1.4-4.3l1.4-2.8l1.4-.7l1.4-1.3l1.4 2.4l1.4-4.3l1.4-3l1.4-.2l1.4 1.6l1.4-3l1.4-2l1.4 .7l1.4-4l1.4 .6l1.4-2.9l1.4-2.7l1.4-6.1l1.4 1.9l1.4-1.6l1.4-4l1.4 0l1.4-2.9l1.4 2.2l1.4-5.5l1.4-1l1.4 .3l1.4-4.7l1.4 1l1.4-1.1l1.4 .7l1.4-.2l1.4-1.9l1.4 .8l1.4-3l1.4-.8l1.4 1.7l1.4 1.2l1.4-1.5l1.4 .8l1.4-1.5l1.4 0l1.4 .9l1.4-.6l1.4-1.1l1.4-.8l1.4 2.9l1.4-1.5l1.4 1.4l1.4 1.1l1.4-2.8l1.4 1.2l1.4 .4l1.4-.1l1.4 .8l1.4 1.2l1.5-3.4l1.4 1.2l1.4 .9l1.4-.8l1.4-.3l1.4 1.9l1.4-.9l1.4 1.2l1.4-1.1l1.4 1.2l1.4-3.3l1.4 3.6l1.4-1.1l1.4 .1l1.4 1.1l1.4-1.5l1.4 1.3l1.4 .5l1.4-.5l1.4 1l1.4-2.4l1.4 .7l1.4-.4l1.4 3l1.4-2l1.4 1.3l1.4-1l1.4-1.5l1.4 1.4l1.4 .5l1.4-1.6l1.4 .2l1.4-1l1.4 4.7l1.4-2.8l1.4 1l1.4 .6l1.4-1.3l1.4 1.7l1.4 1.3l1.4-1.7l1.4-.8l1.4-2.7l1.4 3.3l1.4 .6l1.4 1l1.4-2.1l1.4-.1l1.4-.5l1.4 2l1.4-.8l1.4 1.9l1.4-3.1l1.4 2.2l1.4 1.5l1.4-5l1.4 .8l1.4 .2l1.4 0l1.4 1.8l1.4-2.7l1.4 2.7l1.4-3.8l1.4 2.2l1.4 2.6l1.4-3.4l1.4-1.4l1.4 2.8l1.4-1.7l1.4 1.6l1.4 .5l1.4 2.5l1.4-4.8l1.4 2.1l1.4-1.1l1.4 1.9l1.4-.3l1.4-2.6l1.4 1.9l1.5-.1l1.4 1.1l1.4-1.9l1.4-.8l1.4 1.5l1.4-.4l1.4 1.3l1.4-3.4l1.4 2.5l1.4-.6l1.4-2.4l1.4 2.4l1.4 1.6l1.4-.8l1.4-.8l1.4-2.8l1.4 2l1.4 .5l1.4-1.4l1.4-.6l1.4 2.6l1.4-2.8l1.4 .7l1.4 .4l1.4 3.6l1.4-3.3l1.4-1.6l1.4 2.1l1.4-3.3l1.4 2.8l1.4 1.4l1.4-2.1l1.4 .4l1.4-.7l1.4 1.3l1.4-2l1.4 2.4l1.4-1l1.4 1.8l1.4-.6l1.4-1.3" stroke="#9a7ac6"/>
<path d="M366.9 505.5l1.4-.4l1.4-.8l1.4-.8l1.4 0l1.4-.5l1.4 1.3l1.4 1.2l1.4 1.6l1.4-2.1l1.4 .7l1.4 1.6l1.4-5.6l1.4 5.5l1.4-3.6l1.4-.4l1.4 1.2l1.4-4.7l1.4 4.1l1.4 1.1l1.4-4.1l1.4 4l1.4 .9l1.4-.8l1.4-.7l1.4-1.2l1.4-.6l1.4 2.9l1.4-3.1l1.4-3.2l1.4 4.7l1.4-1.1l1.4-1.5l1.4-1l1.4 2.9l1.4 .3l1.4-.2l1.4-3.6l1.4 .1l1.4 4.7l1.5-.3l1.4-1.7l1.4 .1l1.4-3.3l1.4-.1l1.4-3.1l1.4 1.5l1.4 .7l1.4-2.2l1.4 2.8l1.4 .3l1.4-2.9l1.4-2.2l1.4 3.4l1.4-4.8l1.4-.8l1.4 1.3l1.4-2.1l1.4-.6l1.4-2.3l1.4-3.4l1.4-3.5l1.4-13.1l1.4-9.6l1.4-9.4l1.4-3.3l1.4-3.1l1.4-5.7l1.4 1l1.4-1l1.4-1l1.4-.2l1.4-2.7l1.4-.5l1.4-1.3l1.4-3.1l1.4 1.3l1.4-5.1l1.4 3.7l1.4-9.6l1.4 3.9l1.4-5.6l1.4-3l1.4-.7l1.4-3.2l1.4-.6l1.4 .7l1.4-5.2l1.4-2.9l1.4 1.1l1.4 .1l1.4-2.7l1.4-2.4l1.4-1.1l1.4-2l1.4 0l1.4-.5l1.4 2.7l1.4-5.9l1.4 2.4l1.4-1.3l1.4 1.3l1.4-.2l1.4-.3l1.4-2l1.4 .2l1.4 1.2l1.4-1.7l1.4 3.1l1.4-1.1l1.4 1.3l1.4-2.2l1.4 1.7l1.4-1.1l1.4-.8l1.4 5l1.4-5.4l1.4 2.5l1.4 1l1.4 2.1l1.4-1.9l1.5 2.7l1.4-3l1.4 .4l1.4-2.5l1.4 2.9l1.4-1.8l1.4 0l1.4-1.1l1.4 3.1l1.4-1.3l1.4 3.1l1.4-.5l1.4-1l1.4-.3l1.4 1.6l1.4-1l1.4-1.4l1.4 1.6l1.4-.4l1.4 1l1.4-2.9l1.4-.5l1.4 2.1l1.4 .5l1.4-2.3l1.4 1.6l1.4 1.5l1.4 .9l1.4-.9l1.4-3.6l1.4 3.6l1.4-4.5l1.4 3.8l1.4 .3l1.4-1.9l1.4 2l1.4-.8l1.4 1.9l1.4 .2l1.4-.6l1.4-1.3l1.4 1.2l1.4 1.7l1.4-3.2l1.4 .8l1.4 .2l1.4 .4l1.4 2.2l1.4-5l1.4 2.6l1.4-1.3l1.4-1.1l1.4 .3l1.4 1.3l1.4 .2l1.4-.4l1.4-.8l1.4 .5l1.4 1.3l1.4-1.2l1.4 .1l1.4-.4l1.4 .6l1.4-1.5l1.4 1.5l1.4-.8l1.4 1.1l1.4 .8l1.4 .4l1.4-1l1.4-.9l1.4-1l1.4 1.8l1.4 .5l1.4 0l1.4-2.4l1.4 1.5l1.4 .8l1.4-1.6l1.5 2.6l1.4-1.9l1.4 .2l1.4 0l1.4 1.3l1.4-2.8l1.4-1l1.4 3.9l1.4-1.9l1.4-.8l1.4-2.1l1.4 3.4l1.4 .6l1.4-1.2l1.4-2.7l1.4 2.5l1.4-.3l1.4-2l1.4 5l1.4 0l1.4-4l1.4 .1l1.4 2.8l1.4-2.5l1.4 .6l1.4-.3l1.4 1.3l1.4-.5l1.4 .6l1.4-1.3l1.4 .4l1.4-2.5l1.4 1.3l1.4 2.8l1.4-2.6l1.4-1.3l1.4 1.4l1.4-1l1.4 1.4l1.4-1l1.4 2.1" stroke="#7442ae"/>
<path d="M366.9 506.9l1.4-4.4l1.4 4.6l1.4 .9l1.4-4.3l1.4 1.1l1.4-.5l1.4-.5l1.4 .7l1.4 1.3l1.4-1.8l1.4-.3l1.4-.3l1.4-2.5l1.4 4.3l1.4-1.4l1.4-.8l1.4 1.5l1.4 1.1l1.4-1.1l1.4-2.7l1.4 2l1.4-1.5l1.4 2.1l1.4-2.1l1.4 1.8l1.4 .1l1.4-1.7l1.4 0l1.4-2.4l1.4 4.9l1.4-3.6l1.4-1.9l1.4 .2l1.4 2.7l1.4 .3l1.4-.5l1.4-1.5l1.4-.1l1.4-.5l1.5-.7l1.4 2.5l1.4-.2l1.4-.2l1.4-.1l1.4-2.4l1.4-1l1.4-4.1l1.4 2.8l1.4 .3l1.4-2.8l1.4 2.9l1.4-2.5l1.4-1.7l1.4-.5l1.4-.3l1.4 .4l1.4 .4l1.4-3.1l1.4-1l1.4-4.3l1.4-4.8l1.4-11.4l1.4-6.4l1.4-13.5l1.4-5l1.4-1.7l1.4-1.8l1.4-2.2l1.4-4.1l1.4-.4l1.4 2l1.4-3.2l1.4-.8l1.4 1.1l1.4-2.2l1.4 .3l1.4-3.4l1.4 1.3l1.4-5.1l1.4-2.1l1.4-2.7l1.4-2.4l1.4-5.3l1.4 .4l1.4-2.9l1.4-2.7l1.4-2l1.4-1.2l1.4 .4l1.4-.6l1.4-1.7l1.4-1.6l1.4-1.7l1.4-.8l1.4-2.2l1.4 1l1.4-3l1.4 .6l1.4 1.5l1.4-2l1.4 4.7l1.4-5.6l1.4 1.3l1.4 0l1.4 2.8l1.4-5.4l1.4 3.6l1.4-.1l1.4-1.5l1.4 1.7l1.4 1l1.4-1.9l1.4 2.2l1.4-2.2l1.4 .9l1.4-1.2l1.4 3.2l1.4-3.1l1.4 1.4l1.4-2.1l1.5 3.5l1.4-3.1l1.4 1.6l1.4-.1l1.4 2.1l1.4-1.6l1.4-.1l1.4 2l1.4 .5l1.4-.4l1.4-2.8l1.4 1.7l1.4-.9l1.4 .9l1.4 .2l1.4 0l1.4 .8l1.4-2l1.4 1.4l1.4-.1l1.4 2.2l1.4-2.2l1.4 1.3l1.4-.2l1.4-1.9l1.4 2.8l1.4-1.1l1.4-1.1l1.4-.6l1.4 2.2l1.4-1.1l1.4 .1l1.4 1.9l1.4 1.3l1.4-.2l1.4-3.3l1.4 .7l1.4 1.8l1.4-.9l1.4-.3l1.4 0l1.4-.5l1.4-2.9l1.4 3.9l1.4-1.2l1.4 1.2l1.4-.2l1.4 .3l1.4-.8l1.4 .4l1.4-1.1l1.4 .1l1.4 1.5l1.4-3.7l1.4 4l1.4-2l1.4-2.3l1.4 3.7l1.4-2.6l1.4-.1l1.4 1.4l1.4 2.8l1.4-4.2l1.4 1.7l1.4 .8l1.4-2.4l1.4 2.6l1.4-2.3l1.4 2.1l1.4-1.4l1.4 2.1l1.4-.9l1.4 .7l1.4-.3l1.4-1.2l1.4 .4l1.4-.5l1.4-1.4l1.4 1.8l1.5 2.2l1.4-2.1l1.4-.5l1.4-1.3l1.4 0l1.4 0l1.4 1.5l1.4-1.2l1.4 2.7l1.4-3.6l1.4 1l1.4-.1l1.4 1.1l1.4-.6l1.4 .9l1.4-1.7l1.4 2.4l1.4-3l1.4 .5l1.4-1.9l1.4 2.6l1.4 .1l1.4-.4l1.4 .1l1.4 .2l1.4 1.2l1.4 0l1.4-.7l1.4-.4l1.4 1.1l1.4 0l1.4-1.2l1.4-1.3l1.4 1.1l1.4-1.1l1.4-.4l1.4 .2l1.4 1.5l1.4 0l1.4 1.8l1.4-1.5" stroke="#4e1a8c"/>
</g>
<line x1="371.7" y1="368.5" x2="386.0" y2="368.5" stroke="#1e4d32" stroke-width="1.25"/>
<text x="391.0" y="370.7" font-size="6.3">152_px</text>
<line x1="371.7" y1="378.5" x2="386.0" y2="378.5" stroke="#3a6a4c" stroke-width="1.25"/>
<text x="391.0" y="380.5" font-size="6.3">142_px</text>
<line x1="371.7" y1="388.5" x2="386.0" y2="388.5" stroke="#6a977a" stroke-width="1.25"/>
<text x="391.0" y="390.3" font-size="6.3">132_px</text>
<line x1="371.7" y1="397.5" x2="386.0" y2="397.5" stroke="#9cbfa8" stroke-width="1.25"/>
<text x="391.0" y="400.1" font-size="6.3">122_px</text>
<line x1="371.7" y1="407.5" x2="386.0" y2="407.5" stroke="#cde0d3" stroke-width="1.25"/>
<text x="391.0" y="409.9" font-size="6.3">112_px</text>
<line x1="371.7" y1="417.5" x2="386.0" y2="417.5" stroke="#f0f0f0" stroke-width="1.25"/>
<text x="391.0" y="419.7" font-size="6.3">102_px</text>
<line x1="371.7" y1="427.5" x2="386.0" y2="427.5" stroke="#dccdea" stroke-width="1.25"/>
<text x="391.0" y="429.5" font-size="6.3">92_px</text>
<line x1="371.7" y1="437.5" x2="386.0" y2="437.5" stroke="#bda5d8" stroke-width="1.25"/>
<text x="391.0" y="439.3" font-size="6.3">82_px</text>
<line x1="371.7" y1="446.5" x2="386.0" y2="446.5" stroke="#9a7ac6" stroke-width="1.25"/>
<text x="391.0" y="449.1" font-size="6.3">72_px</text>
<line x1="371.7" y1="456.5" x2="386.0" y2="456.5" stroke="#7442ae" stroke-width="1.25"/>
<text x="391.0" y="458.9" font-size="6.3">62_px</text>
<line x1="371.7" y1="466.5" x2="386.0" y2="466.5" stroke="#4e1a8c" stroke-width="1.25"/>
<text x="391.0" y="468.7" font-size="6.3">52_px</text>
<g fill="none" stroke-width="1.35" stroke-linejoin="round" clip-path="url(#cp4)">
<path d="M30.3 654.8l1.4 2.7l1.4-4.3l1.4-.1l1.4 3.1l1.4-2.2l1.4 4l1.4-.7l1.4-1.2l1.4-.7l1.4 .3l1.4 1.2l1.4-5l1.4 2.9l1.4 0l1.4-.7l1.4 .8l1.4 .7l1.4 .5l1.4 1.8l1.4-5.5l1.4 4.2l1.4 1.2l1.4-1.5l1.4 1.3l1.4-6.3l1.4 2.8l1.4-1.9l1.4-.1l1.4 1.4l1.4 0l1.4 2.2l1.4-1.2l1.4 .8l1.4-1.2l1.4 1.2l1.4-3.5l1.4 .8l1.4 1.4l1.4 2.7l1.5-4.2l1.4-.5l1.4 1.5l1.4 2l1.4-3.1l1.4-1.2l1.4 5l1.4-4.4l1.4 4l1.4-3.5l1.4-3l1.4 2.6l1.4-.9l1.4 1.1l1.4-.8l1.4-4.4l1.4 1.3l1.4 2.5l1.4-.6l1.4-2.1l1.4-5.8l1.4 1l1.4-4.4l1.4-2l1.4-3.9l1.4-9.7l1.4-1.6l1.4-1.7l1.4-2l1.4 .7l1.4 2.3l1.4 3.8l1.4-4.4l1.4-.5l1.4-4.1l1.4-.7l1.4-3.7l1.4-2.3l1.4-4.6l1.4-2.7l1.4-3.3l1.4-2.9l1.4-3.6l1.4-5.3l1.4-5.1l1.4-5.1l1.4-3.6l1.4-9.6l1.4-1.8l1.4-.7l1.4-5.3l1.4-3.2l1.4-5l1.4-3l1.4 1.3l1.4-3.6l1.4 .1l1.4-2.9l1.4-1.1l1.4 .7l1.4-1.3l1.4 .3l1.4-.1l1.4 .7l1.4-2.3l1.4 .6l1.4 .6l1.4-.3l1.4 .4l1.4 1.5l1.4-.4l1.4-2l1.4 2.2l1.4-1.9l1.4 3.9l1.4 .6l1.4-1.8l1.4-.7l1.4 2.3l1.4-1.6l1.5-.1l1.4 .1l1.4 1.9l1.4 .1l1.4 2.5l1.4-2.1l1.4-.1l1.4-1.3l1.4 3.9l1.4-.3l1.4 .4l1.4-2.4l1.4 4.9l1.4-1.9l1.4-4.2l1.4 2l1.4 2.9l1.4-1.7l1.4-1.2l1.4 .5l1.4 1.2l1.4 .8l1.4-2.1l1.4 1.2l1.4-1l1.4 .6l1.4 1.3l1.4-2.6l1.4 2.7l1.4-1.2l1.4 1.5l1.4-.5l1.4 .1l1.4 .6l1.4-1.2l1.4-1.5l1.4-.7l1.4 .6l1.4 2.2l1.4-2.2l1.4 1.4l1.4-1.9l1.4 4.2l1.4-3.8l1.4 2.9l1.4-2.5l1.4 2.2l1.4-1.9l1.4 1.6l1.4 2.2l1.4-1.3l1.4-1l1.4-.5l1.4 3.1l1.4-1.5l1.4-.7l1.4-.7l1.4-.7l1.4 1.4l1.4 .9l1.4-2.5l1.4 .8l1.4-1.7l1.4 1.9l1.4-1.7l1.4 2.1l1.4-1.7l1.4 .2l1.4-.5l1.4 1.9l1.4-1.2l1.4 1l1.4-1l1.4-1.1l1.4-3.2l1.4 4l1.4-1l1.4 .8l1.4-1.4l1.4 .9l1.5-.8l1.4 .9l1.4-2.8l1.4 1.4l1.4 4.1l1.4-2.7l1.4 .3l1.4 3.1l1.4-1.9l1.4-.6l1.4 .4l1.4-1.2l1.4 2.6l1.4-3.5l1.4 0l1.4 .5l1.4 1l1.4-.5l1.4 .6l1.4-2.2l1.4 .9l1.4-2l1.4 3.2l1.4-2.5l1.4 2.8l1.4-.6l1.4 1.2l1.4-2.1l1.4 .8l1.4-1l1.4-1.1l1.4 2.1l1.4-.6l1.4-.7l1.4 1.3l1.4 .6l1.4-1.2l1.4-.2l1.4-.4l1.4 0l1.4 2" stroke="#1e4d32"/>
<path d="M30.3 653.4l1.4 2.9l1.4-1.5l1.4 1.7l1.4-1.4l1.4-2.6l1.4 2.6l1.4 1.9l1.4-2.3l1.4 .2l1.4-1.5l1.4 4.2l1.4-.8l1.4-1.5l1.4 2.5l1.4-4.7l1.4 5.4l1.4-2.1l1.4 1.1l1.4-1.5l1.4-2.5l1.4 .3l1.4-.6l1.4 .5l1.4 4.4l1.4-4l1.4 3.6l1.4-2.4l1.4-.2l1.4 .2l1.4-1.9l1.4 2.2l1.4-4.4l1.4 1.9l1.4-1.1l1.4 .6l1.4-.3l1.4 1.5l1.4-3.5l1.4 5.1l1.5-2.7l1.4 .6l1.4 .3l1.4-1l1.4 1.7l1.4-2.9l1.4 0l1.4 1l1.4-1.2l1.4 2.8l1.4 1.2l1.4-2.3l1.4-.9l1.4-4.9l1.4 4.3l1.4-2.4l1.4-.1l1.4-2.6l1.4 2.7l1.4-2.4l1.4-.7l1.4-1.4l1.4-2.8l1.4-4.9l1.4-9.3l1.4-3.3l1.4-3.2l1.4-3.2l1.4-.9l1.4-.1l1.4 2.4l1.4 1l1.4-.2l1.4 2.5l1.4-6l1.4-4.8l1.4 1.6l1.4-3.9l1.4-3.5l1.4-5l1.4-3.1l1.4-3.1l1.4-5.8l1.4-5.4l1.4-3.7l1.4-7.4l1.4-2.4l1.4-2.1l1.4-4.7l1.4-5.1l1.4-3.9l1.4-4.7l1.4-2.5l1.4-3.7l1.4-.3l1.4-2.3l1.4 2l1.4-1.5l1.4-2.3l1.4 .1l1.4-1.5l1.4-.2l1.4 .6l1.4-3.6l1.4 .6l1.4 3.7l1.4-1.2l1.4-.6l1.4-.7l1.4 1.3l1.4 2.1l1.4-2.7l1.4 1.8l1.4-1.6l1.4 1.6l1.4-.7l1.4 .5l1.4 .2l1.4 2.1l1.4-1.8l1.5 1.4l1.4 2.2l1.4-.9l1.4 .2l1.4-.8l1.4-.1l1.4 2.7l1.4-2.2l1.4 1.3l1.4 1.5l1.4-2.3l1.4 2.3l1.4 .8l1.4-2.5l1.4-.1l1.4 2.2l1.4-2.2l1.4 .1l1.4 2.2l1.4-3.4l1.4 2.9l1.4-.3l1.4 3.6l1.4-4l1.4 1.8l1.4-1.4l1.4 3l1.4-3.8l1.4-.4l1.4-.5l1.4 6.6l1.4-4.7l1.4 .3l1.4 4.6l1.4-3l1.4-.9l1.4-2l1.4 3.1l1.4-1.4l1.4 .3l1.4-.5l1.4 1l1.4-1.8l1.4-.1l1.4 3.2l1.4-3.4l1.4 2.5l1.4-.7l1.4-1.9l1.4 1.3l1.4-.7l1.4-.3l1.4 .2l1.4 1.5l1.4 .5l1.4-2.3l1.4-.1l1.4 .5l1.4 .7l1.4-1.5l1.4 1.1l1.4 1.8l1.4-2.3l1.4-.3l1.4-.4l1.4 2.2l1.4-.2l1.4-1.6l1.4 1.1l1.4-.6l1.4-1.4l1.4 .7l1.4-1.9l1.4 2l1.4-1.9l1.4 .8l1.4-2l1.4 3.4l1.4 .1l1.4-1.9l1.5 2.4l1.4-.1l1.4-1l1.4-.2l1.4 2.4l1.4-2.3l1.4 .8l1.4-.4l1.4-.3l1.4 .5l1.4-1.8l1.4 .8l1.4 .9l1.4-.4l1.4-1.3l1.4 .3l1.4-.6l1.4 1.9l1.4-.4l1.4-2.5l1.4 2.7l1.4-2.3l1.4 1.1l1.4 1.8l1.4 1.3l1.4-2.8l1.4 1.8l1.4 0l1.4 1.4l1.4-3.9l1.4 1.4l1.4 .1l1.4-.5l1.4 .2l1.4 .2l1.4-.5l1.4 1l1.4 3.1l1.4-4.4l1.4 .4l1.4 .5" stroke="#3a6a4c"/>
<path d="M30.3 657.6l1.4 2.5l1.4-7.4l1.4 1.8l1.4 3.4l1.4-2.1l1.4-1.8l1.4 3.1l1.4-3l1.4-2.7l1.4 1.2l1.4 2.4l1.4-.6l1.4 2.1l1.4-1.9l1.4 .7l1.4 1.1l1.4 .5l1.4-5.5l1.4 3l1.4 1.8l1.4-1l1.4-3.3l1.4-.3l1.4 3.7l1.4-1.4l1.4-1.2l1.4 2l1.4 1.4l1.4-.4l1.4-1.8l1.4 1.3l1.4 .8l1.4-1.8l1.4-2.1l1.4 .4l1.4 1.4l1.4-3.7l1.4 4.5l1.4-1.3l1.5 2l1.4-3.7l1.4 1.4l1.4 2.5l1.4-1.6l1.4-4.5l1.4 1.7l1.4 .9l1.4-1.5l1.4 4l1.4-1.5l1.4 .7l1.4-1.1l1.4-1l1.4-1.9l1.4-1.1l1.4-.4l1.4-3.3l1.4 4.7l1.4-2.4l1.4-3.1l1.4-.4l1.4-3.9l1.4-5.7l1.4-3.3l1.4-7.5l1.4-5.1l1.4 1.1l1.4 .2l1.4-3.1l1.4 4.3l1.4 .1l1.4 1.2l1.4-2.9l1.4-4.1l1.4-2.2l1.4-.5l1.4-1.2l1.4-.8l1.4-3.9l1.4-6.4l1.4-5.9l1.4-3.2l1.4-4.7l1.4-3.1l1.4-4.8l1.4-4.7l1.4-8.7l1.4 .1l1.4-8.2l1.4-1.8l1.4-5.6l1.4-2.4l1.4-2.5l1.4-2.2l1.4 1.4l1.4-.9l1.4-1.7l1.4-.4l1.4-2.6l1.4 .3l1.4-.9l1.4-1.1l1.4 .8l1.4-2.3l1.4 4l1.4-2.7l1.4-.2l1.4 2l1.4 .1l1.4-1.8l1.4 2l1.4 2.5l1.4-.4l1.4-2.9l1.4 2.9l1.4-2.7l1.4 .1l1.4 2.4l1.4-.7l1.5 2.1l1.4-.3l1.4 .6l1.4-1.4l1.4 2.8l1.4-1.3l1.4 0l1.4-.4l1.4 3.8l1.4-.3l1.4-1l1.4-.7l1.4-.3l1.4 .1l1.4-2.4l1.4 2l1.4 .1l1.4 1.6l1.4-1.6l1.4 .2l1.4 .1l1.4 1.1l1.4-.9l1.4-1.1l1.4 3.2l1.4 1.9l1.4-4l1.4 .2l1.4 1.4l1.4 .3l1.4-4.3l1.4 4.4l1.4 1.1l1.4-1l1.4-1.3l1.4 1.6l1.4-.3l1.4-.9l1.4 1l1.4-.8l1.4 .3l1.4 1.4l1.4-1.6l1.4 1.7l1.4-2.9l1.4 2.5l1.4-.9l1.4 2.1l1.4-1.9l1.4 1l1.4-3.7l1.4 2.1l1.4-.9l1.4 3l1.4-.7l1.4-1.5l1.4 1.5l1.4-3.4l1.4 2l1.4-.7l1.4-.3l1.4 .6l1.4-1.3l1.4 1.9l1.4-1.5l1.4-1.1l1.4 1.2l1.4 .1l1.4 .6l1.4-.5l1.4-.9l1.4 1.2l1.4 1.9l1.4-2.5l1.4 .4l1.4-.9l1.4 .6l1.4-2.1l1.4 3.7l1.4-.3l1.5-2.2l1.4 2.2l1.4-1.8l1.4 .4l1.4 2.6l1.4-3.6l1.4-.9l1.4 1.5l1.4 2.1l1.4-2.9l1.4 2.4l1.4-1.2l1.4-.8l1.4 1.6l1.4 1.2l1.4-2l1.4-.2l1.4 1.1l1.4-.1l1.4-2l1.4 1.1l1.4 .5l1.4 .1l1.4-1l1.4 .1l1.4 .4l1.4 1.6l1.4-1.4l1.4 .4l1.4-.9l1.4-1.5l1.4 .3l1.4 .4l1.4 .7l1.4 .6l1.4-.9l1.4 1.1l1.4-.2l1.4 .7l1.4-1.1l1.4 .1" stroke="#6a977a"/>
<path d="M30.3 654.4l1.4 1.5l1.4-1.9l1.4 2.1l1.4-2.5l1.4 .3l1.4-3.5l1.4 6.6l1.4-1.7l1.4 0l1.4-.7l1.4-.7l1.4 2.7l1.4-.5l1.4-1.7l1.4-1.1l1.4 3.4l1.4 .6l1.4-4.5l1.4 .5l1.4-.5l1.4 3.3l1.4-1.3l1.4-.7l1.4-.5l1.4 .9l1.4-.2l1.4-1.8l1.4 2.4l1.4 .1l1.4-.3l1.4 .1l1.4-1.1l1.4 .5l1.4 .3l1.4-3.2l1.4 1.8l1.4 .9l1.4-2.7l1.4 2.9l1.5-1l1.4 0l1.4 .7l1.4-.4l1.4-.9l1.4 2.3l1.4-1.8l1.4-1.2l1.4-.2l1.4-.2l1.4-3.5l1.4 2.5l1.4 1.1l1.4-.4l1.4-.5l1.4-1l1.4 .7l1.4-3.4l1.4 3.6l1.4-4.5l1.4-2.2l1.4-.2l1.4-6l1.4-4.6l1.4-3.6l1.4-10.1l1.4-1.4l1.4-1.2l1.4-1.6l1.4 1.2l1.4 .7l1.4 2.3l1.4 2.6l1.4-2.2l1.4-3l1.4-3l1.4-2.3l1.4-2l1.4-5l1.4-3.8l1.4-2.4l1.4-.6l1.4-7.7l1.4-5.6l1.4-3.6l1.4-5.4l1.4-4.6l1.4-2.1l1.4-2.7l1.4-8.9l1.4-2.5l1.4-4.7l1.4-1.9l1.4-2.1l1.4-3.5l1.4 2l1.4-2.7l1.4 .4l1.4-2.3l1.4-1.3l1.4-.9l1.4-.1l1.4 1.4l1.4-2.5l1.4-1l1.4-.1l1.4-1.4l1.4 2.2l1.4 2.3l1.4-.4l1.4-.4l1.4-.9l1.4 3.1l1.4-2.3l1.4 .7l1.4 2.3l1.4-1.7l1.4 2l1.4-.7l1.4 .6l1.5-.4l1.4 2.1l1.4-1.9l1.4 3.7l1.4-2l1.4 .5l1.4-2.6l1.4 1.6l1.4 1.6l1.4 .7l1.4-1l1.4 1.1l1.4-3.6l1.4 6.6l1.4-3.5l1.4 3.4l1.4-4.5l1.4 2.5l1.4-3l1.4 2.8l1.4-2l1.4 1.2l1.4-1.1l1.4 1.5l1.4 4l1.4-2.9l1.4 1.2l1.4-3.2l1.4 .6l1.4 .7l1.4-.5l1.4 .4l1.4 1l1.4-3.2l1.4 2.2l1.4 .6l1.4 1.7l1.4-1.1l1.4-.8l1.4 .3l1.4 .4l1.4-.6l1.4 1.4l1.4-1.5l1.4 2l1.4-.9l1.4-.2l1.4-2.1l1.4 .5l1.4 .5l1.4 1.5l1.4-1l1.4-1.6l1.4-.6l1.4 3.4l1.4-1.4l1.4-.7l1.4-.4l1.4 .4l1.4-.9l1.4 2.7l1.4-3.9l1.4 3.4l1.4-1.6l1.4-.6l1.4-.9l1.4 .3l1.4 0l1.4-.6l1.4 1.8l1.4-1.2l1.4-1l1.4 2.9l1.4 .8l1.4-.5l1.4-3.1l1.4 .1l1.4 2.1l1.4-.8l1.4-.3l1.5-.8l1.4 3.8l1.4-1.8l1.4-.4l1.4-.8l1.4 .3l1.4 .5l1.4-.8l1.4 3.7l1.4-7.3l1.4 2.9l1.4-.1l1.4 1.9l1.4-1.4l1.4-2.1l1.4 .3l1.4 2.2l1.4 1.7l1.4-1.8l1.4 .6l1.4-1.5l1.4 2.8l1.4-1.4l1.4-.6l1.4 .9l1.4-1.9l1.4 2.8l1.4 .1l1.4-1.1l1.4-1.6l1.4 1.5l1.4 .4l1.4-1.8l1.4 .7l1.4 1l1.4-.8l1.4 .4l1.4-1.1l1.4 .6l1.4 1.3l1.4-.5" stroke="#9cbfa8"/>
<path d="M30.3 654.6l1.4-.1l1.4 2l1.4-1.1l1.4-.8l1.4-1.3l1.4 1.3l1.4-2.8l1.4 3.1l1.4-1.2l1.4 1.7l1.4 1.1l1.4-1.9l1.4-.6l1.4 .2l1.4 .2l1.4 .8l1.4 .7l1.4-.9l1.4-1.3l1.4-.8l1.4 6.8l1.4-6.4l1.4-.8l1.4-.4l1.4 1.4l1.4-.5l1.4 1.7l1.4-.6l1.4-1.1l1.4 2.6l1.4-.6l1.4-1.6l1.4 2.4l1.4-2.3l1.4 2.4l1.4-2.8l1.4 .2l1.4 .8l1.4 .5l1.5-.8l1.4 2.7l1.4-3.1l1.4-1l1.4-1.9l1.4 2.7l1.4-.7l1.4-2.7l1.4-.7l1.4 3.4l1.4-2.7l1.4-.4l1.4 .8l1.4 2.1l1.4-.4l1.4-2.9l1.4-3.3l1.4 3.6l1.4-3.7l1.4-2.5l1.4 2.4l1.4-4.4l1.4-7.2l1.4-4.5l1.4-5.8l1.4-5.2l1.4-5.8l1.4-1.6l1.4-7.5l1.4 6.3l1.4 2.6l1.4-1.8l1.4-2l1.4 1.8l1.4-2.9l1.4-.4l1.4-3.4l1.4-.4l1.4-2.2l1.4-1.8l1.4-4.7l1.4-7.5l1.4-.6l1.4-4.4l1.4-7.5l1.4 .4l1.4-3.9l1.4-6.8l1.4-1.2l1.4-6.2l1.4-4.8l1.4-.5l1.4-3.4l1.4-4.7l1.4 2l1.4-1.8l1.4-2.3l1.4-.3l1.4-.1l1.4-4l1.4 2.2l1.4-1.9l1.4 .4l1.4-.7l1.4 1.3l1.4-3l1.4 1.9l1.4-2l1.4 3.4l1.4-.6l1.4-1l1.4 .9l1.4 1.3l1.4-.3l1.4 1.8l1.4-1.5l1.4 3.8l1.4-3.4l1.4-1.3l1.4 .9l1.5 .3l1.4 1.9l1.4-.9l1.4 1.4l1.4-.1l1.4 .2l1.4 4.6l1.4-5.4l1.4 .8l1.4-.3l1.4 2.6l1.4-2l1.4 .5l1.4 3.7l1.4-.5l1.4-2.3l1.4 1l1.4-.7l1.4 .9l1.4-2.7l1.4 4.5l1.4-.6l1.4-.5l1.4 .6l1.4-.9l1.4-.7l1.4 1.8l1.4-2.2l1.4-1.2l1.4 .4l1.4-1.2l1.4 1.2l1.4 1.6l1.4-2.3l1.4 1.4l1.4-1.5l1.4 2.7l1.4 2.6l1.4-1.3l1.4-1.7l1.4-.5l1.4 1l1.4-1.6l1.4 2.8l1.4-.6l1.4-2.2l1.4 1.2l1.4-.1l1.4-1.8l1.4 .4l1.4 2.4l1.4-1.3l1.4 2.4l1.4-2.2l1.4-.6l1.4 2.7l1.4-4.4l1.4-.6l1.4 1.9l1.4-.6l1.4-.8l1.4 2.2l1.4-1.7l1.4 .8l1.4 2.5l1.4-.9l1.4-.5l1.4-2.1l1.4 1.2l1.4-1.2l1.4 1.9l1.4 1l1.4-4.4l1.4-.9l1.4 3.1l1.4 .7l1.4-1.8l1.4 2.9l1.4-1.2l1.4 1.6l1.5-2.5l1.4 .3l1.4 .8l1.4 .3l1.4 1.1l1.4-.9l1.4-2.7l1.4 2l1.4-2.1l1.4 2.7l1.4-1l1.4 .5l1.4-.3l1.4-1.4l1.4 3.7l1.4-3.6l1.4 0l1.4 .9l1.4-.1l1.4 .4l1.4-1.2l1.4 .8l1.4 1.2l1.4-1.3l1.4-1l1.4 .7l1.4 .5l1.4-.3l1.4 .9l1.4 0l1.4 1.9l1.4-2.3l1.4-1.5l1.4 1.8l1.4 .7l1.4-2.4l1.4 1l1.4 0l1.4-.4l1.4-.3l1.4 1" stroke="#cde0d3"/>
<path d="M30.3 652.1l1.4 2.7l1.4 1.3l1.4-1.6l1.4-1.6l1.4 4.2l1.4-4.5l1.4 2.3l1.4-3.5l1.4 2.1l1.4 1.3l1.4-2.3l1.4-.1l1.4 2.6l1.4-1l1.4 1.2l1.4-2.4l1.4 3.7l1.4-2l1.4 3.1l1.4-4.5l1.4 4.5l1.4-1.9l1.4-2.2l1.4 .9l1.4 .1l1.4 .8l1.4-.9l1.4 2l1.4-3.4l1.4-.9l1.4 0l1.4 1.3l1.4-2.1l1.4 1.1l1.4-.9l1.4 .9l1.4 .5l1.4 1.2l1.4 2.9l1.5-5.4l1.4 1.1l1.4-3.5l1.4 6.3l1.4-4.7l1.4 2.7l1.4-1.6l1.4 1.2l1.4-2.1l1.4 .4l1.4-1.7l1.4 .9l1.4-.8l1.4-1.6l1.4 .8l1.4 .7l1.4-2.8l1.4 1.7l1.4-1.8l1.4-1l1.4-2.6l1.4 .1l1.4-10l1.4-2.8l1.4-9.9l1.4-8.3l1.4 0l1.4-7.4l1.4-1l1.4-.7l1.4 3.8l1.4-.9l1.4-.2l1.4-3.2l1.4-2.8l1.4 1.3l1.4-.4l1.4-5.9l1.4 1.8l1.4-2.5l1.4-3l1.4-3.7l1.4-3.9l1.4-1.5l1.4-4.6l1.4-7.4l1.4-3.9l1.4-2.3l1.4-3.7l1.4-2.9l1.4-5.2l1.4-1.3l1.4-3.5l1.4-1.1l1.4-1.3l1.4-2.2l1.4-1.1l1.4-.2l1.4-1.5l1.4-.9l1.4 0l1.4-.5l1.4-1.2l1.4-1.5l1.4-.8l1.4 1.3l1.4 .7l1.4-.2l1.4-2.3l1.4 1.6l1.4 2.7l1.4-.8l1.4 1l1.4 .1l1.4 2l1.4-1.9l1.4 2.1l1.4-.8l1.4-2.4l1.4 .9l1.5 2.7l1.4 .4l1.4 .2l1.4 1.5l1.4-.9l1.4-.7l1.4 1.3l1.4-2.1l1.4 1.2l1.4 .9l1.4-2.8l1.4 1.6l1.4 1l1.4-2.2l1.4 .8l1.4 2.7l1.4-1.2l1.4 1.1l1.4 1.3l1.4-4.2l1.4 .6l1.4 3.7l1.4-2.2l1.4 2.8l1.4-3.4l1.4 1.5l1.4 .4l1.4-2l1.4 1.7l1.4 .4l1.4-1.5l1.4 1.7l1.4-1.5l1.4 1.1l1.4-1l1.4 .3l1.4-.2l1.4 2.4l1.4-3.8l1.4 2.7l1.4-2.5l1.4 3.1l1.4-.5l1.4 0l1.4-1.9l1.4 2.1l1.4-1.2l1.4 2.6l1.4-1.5l1.4-.9l1.4 .4l1.4 2.2l1.4-3.1l1.4 1.9l1.4-3.9l1.4 2.8l1.4-3.3l1.4 2l1.4 .2l1.4 1.2l1.4-.5l1.4-.8l1.4 3.1l1.4-3.9l1.4 2.8l1.4-1.2l1.4 3.2l1.4-4.3l1.4-.4l1.4 .6l1.4-.1l1.4 .9l1.4-.7l1.4-1.4l1.4 2.1l1.4-1.2l1.4-.4l1.4 1.3l1.4-.7l1.4 0l1.5 .9l1.4-3.8l1.4 3.7l1.4-2.8l1.4 .8l1.4 4l1.4-3l1.4-1l1.4 .2l1.4 2.3l1.4-1.6l1.4 1.9l1.4-.2l1.4-1.1l1.4-.5l1.4-1.9l1.4 1.6l1.4-.9l1.4 3l1.4-.1l1.4-.9l1.4-2.9l1.4 4l1.4 .4l1.4-2l1.4-1.7l1.4 3.7l1.4-1.8l1.4 1.5l1.4-3.7l1.4 1l1.4 .5l1.4 .4l1.4 .3l1.4-.5l1.4 1l1.4 .3l1.4 .4l1.4-1.5l1.4 1l1.4-2.2" stroke="#f0f0f0"/>
<path d="M30.3 653.7l1.4 .1l1.4-1.2l1.4 2.4l1.4 2l1.4-1l1.4-3.4l1.4 2.3l1.4 .2l1.4 .2l1.4-.9l1.4 .2l1.4 2.2l1.4-1.7l1.4-2.7l1.4-.8l1.4 2.6l1.4 .6l1.4-3.2l1.4 2.5l1.4 1.6l1.4-1.8l1.4-1.4l1.4-1.5l1.4 3.3l1.4-1.8l1.4 1.4l1.4-2.5l1.4 1.4l1.4-.1l1.4 2l1.4-1.2l1.4 0l1.4 5.3l1.4-7.4l1.4 1.4l1.4 .2l1.4 .2l1.4-.8l1.4-.4l1.5 2.4l1.4-2.4l1.4-.2l1.4 .1l1.4 2.3l1.4-2.3l1.4 1.7l1.4-2.9l1.4-1.7l1.4 .5l1.4 1.8l1.4 0l1.4-.2l1.4-1.9l1.4 1.3l1.4-.7l1.4 2.8l1.4-3.3l1.4-1.1l1.4-2.8l1.4-6.4l1.4 .2l1.4-4.4l1.4-9.4l1.4-4.6l1.4-8.2l1.4-5.8l1.4-3.8l1.4-1.3l1.4-2.7l1.4-.1l1.4 4.8l1.4-1.3l1.4-2.8l1.4 .6l1.4 0l1.4-2.2l1.4-3.7l1.4 1.2l1.4-4.2l1.4-2.6l1.4-1.1l1.4-5.2l1.4-3.5l1.4-4.2l1.4-3.8l1.4-.2l1.4-8l1.4-3.4l1.4-3.8l1.4-1.1l1.4-5.5l1.4-1.9l1.4 .2l1.4-4.7l1.4 1.3l1.4-.8l1.4-2.8l1.4 .4l1.4-2l1.4 .1l1.4-1.4l1.4-1.3l1.4 .7l1.4-1.4l1.4 .1l1.4 2.3l1.4-2l1.4 .5l1.4 .9l1.4-1l1.4-.3l1.4 1.5l1.4 3.3l1.4-2.2l1.4 1l1.4 .5l1.4-.6l1.4 1.2l1.4-2.4l1.5 2.1l1.4 .6l1.4-.8l1.4 .3l1.4-.3l1.4 1l1.4 1.2l1.4 0l1.4 3.2l1.4-.7l1.4-3.1l1.4 2l1.4-2.6l1.4 .1l1.4 4.2l1.4-2l1.4-3.3l1.4 4.9l1.4-1.4l1.4 .9l1.4 .1l1.4 .1l1.4-.3l1.4-.9l1.4 2.1l1.4-1.6l1.4 1.6l1.4-1.5l1.4 .3l1.4 1.5l1.4-1.2l1.4 1.2l1.4 .2l1.4-2.6l1.4 4l1.4-3.1l1.4-.2l1.4 1.7l1.4-2.2l1.4 .3l1.4 2.9l1.4-2.4l1.4 .1l1.4 1.5l1.4-1.7l1.4-.3l1.4 1.9l1.4 1.7l1.4-3.2l1.4 1.5l1.4 1.2l1.4-1.8l1.4 2.6l1.4-2.7l1.4-2.5l1.4 5.7l1.4-4.4l1.4 1.7l1.4-.7l1.4 .6l1.4-2.1l1.4 .8l1.4 1l1.4 .6l1.4-1.2l1.4-2.1l1.4 3.1l1.4-2.2l1.4 .1l1.4 3l1.4-4.1l1.4 1.5l1.4-3.1l1.4 .7l1.4 2.6l1.4-.2l1.4 1.1l1.4 .5l1.4-2.9l1.4 1.3l1.5 .2l1.4-.3l1.4-1.2l1.4-.3l1.4 1.2l1.4 .2l1.4-.4l1.4-2.6l1.4 5.5l1.4-1.3l1.4-2.2l1.4 .5l1.4-1.5l1.4-.1l1.4-.9l1.4 3.7l1.4-1.9l1.4 1.1l1.4-1.6l1.4 1l1.4-.9l1.4 2.2l1.4-1.2l1.4 .9l1.4-.4l1.4 .3l1.4 .7l1.4-2.8l1.4 1.1l1.4-1.1l1.4 2.8l1.4 1.3l1.4-1.8l1.4-.6l1.4-1.3l1.4-.3l1.4-.3l1.4-.4l1.4 1.1l1.4 .8l1.4 1.2" stroke="#dccdea"/>
<path d="M30.3 655.3l1.4 .4l1.4-2.3l1.4 .5l1.4-1.1l1.4 2.6l1.4-3.2l1.4 1.3l1.4 .9l1.4 .9l1.4 .5l1.4 .4l1.4-4.6l1.4 4.6l1.4-3.5l1.4 1.4l1.4 .5l1.4-.2l1.4-.7l1.4-1.7l1.4 .5l1.4 .8l1.4 2.3l1.4 .6l1.4-6.2l1.4 4.8l1.4 .8l1.4-4.5l1.4 4.3l1.4-3.8l1.4-.4l1.4 1l1.4-1.2l1.4 3.8l1.4-.3l1.4-1.8l1.4-.4l1.4 0l1.4-1l1.4 1.9l1.5 2.3l1.4-4.4l1.4 1l1.4-1.9l1.4-2.3l1.4 3.2l1.4-1l1.4 2.3l1.4-3.2l1.4 .8l1.4-.1l1.4-1.4l1.4 3.1l1.4-3.2l1.4-.2l1.4-2.4l1.4 5.1l1.4-3.4l1.4-4.8l1.4 1.7l1.4-3.7l1.4-8.1l1.4-5.9l1.4-2.4l1.4-6.1l1.4-7.3l1.4-5.7l1.4-3.4l1.4-2.6l1.4-1.5l1.4 .7l1.4-.3l1.4 .6l1.4 1.4l1.4-4.1l1.4-.3l1.4 .3l1.4-2l1.4-2.7l1.4-1.7l1.4-1.8l1.4-4l1.4-3.5l1.4-.9l1.4-3.8l1.4-1.9l1.4-5.7l1.4-5.1l1.4-4.4l1.4-2.2l1.4-3.1l1.4-2.3l1.4-3.7l1.4-.1l1.4-3.1l1.4-1.2l1.4 .1l1.4-2.7l1.4-.1l1.4-1.8l1.4 .7l1.4-2l1.4-2l1.4 1.4l1.4-1l1.4 1.9l1.4-.2l1.4 2.2l1.4-2.1l1.4 1.6l1.4-1.3l1.4 3.2l1.4-1.3l1.4-.9l1.4-.1l1.4 3.1l1.4-1.4l1.4-3.7l1.4 2.6l1.4 1.1l1.5 4.1l1.4-2.2l1.4-1.6l1.4 .6l1.4 0l1.4-.4l1.4 1.4l1.4-.8l1.4 3.8l1.4-5.5l1.4 3.9l1.4 .6l1.4-2.7l1.4 1.4l1.4-.4l1.4 2.2l1.4-1.1l1.4-.4l1.4 2.5l1.4-1.1l1.4 .1l1.4 .1l1.4 .6l1.4 .9l1.4-2.2l1.4 .3l1.4-1.1l1.4 1.6l1.4 .9l1.4 1.1l1.4-2l1.4 .6l1.4-3.1l1.4-.3l1.4 1l1.4 3.3l1.4 .7l1.4-1.5l1.4 .9l1.4-3.1l1.4 1.7l1.4 .7l1.4-.5l1.4-1.7l1.4 2.9l1.4-1.9l1.4 2.4l1.4-1.6l1.4 .6l1.4-1.3l1.4 .1l1.4-1.4l1.4 .7l1.4 1.6l1.4 .9l1.4-.7l1.4-.6l1.4-.3l1.4 .7l1.4-2.5l1.4 .1l1.4 1.6l1.4 .2l1.4-.4l1.4-.3l1.4 0l1.4 2l1.4-1.6l1.4 1.9l1.4-2.6l1.4-.8l1.4 2.2l1.4-1.6l1.4 1l1.4 .1l1.4-3.6l1.4 1.4l1.4 .5l1.4 1.2l1.4-1.1l1.5 .8l1.4-.9l1.4 1.8l1.4-1.2l1.4 .4l1.4 1.4l1.4-4.2l1.4 1.2l1.4 2.1l1.4 .9l1.4-1l1.4 .1l1.4-.3l1.4 1.2l1.4-1l1.4-1.2l1.4-.4l1.4 3.1l1.4-2.6l1.4 1.3l1.4 .1l1.4-1l1.4 .5l1.4-1.8l1.4 0l1.4 1.3l1.4 .5l1.4-3.3l1.4-.1l1.4 2l1.4 .7l1.4-1.5l1.4-.6l1.4 2.6l1.4-3.1l1.4 2.6l1.4-1.7l1.4 2.2l1.4-.8l1.4 .7l1.4-.6" stroke="#bda5d8"/>
<path d="M30.3 652.8l1.4 3.1l1.4-1l1.4-1.5l1.4 1.7l1.4-4.2l1.4 5.8l1.4-6.8l1.4 5.3l1.4-2.7l1.4-1.2l1.4 1.8l1.4 3.2l1.4-1.9l1.4-.7l1.4-.9l1.4-.8l1.4-.3l1.4-.6l1.4 4l1.4-3.3l1.4 4.5l1.4-3.2l1.4 1.9l1.4 1.2l1.4-4.6l1.4 1.5l1.4-1.8l1.4 4.3l1.4-.7l1.4-2l1.4 .9l1.4-1.3l1.4 1.1l1.4-.5l1.4 1.2l1.4-4.1l1.4 2.6l1.4 1.3l1.4-3.2l1.5 .2l1.4 .4l1.4-.2l1.4 .9l1.4-.5l1.4 3.3l1.4-1.2l1.4-.7l1.4-2.8l1.4-1.8l1.4 2.1l1.4 0l1.4-2.7l1.4 2.2l1.4-2.2l1.4 0l1.4 2.4l1.4-3.3l1.4-.8l1.4-.2l1.4-3.9l1.4-3.7l1.4-8.9l1.4-7.4l1.4-4.6l1.4-8.1l1.4 0l1.4-8.5l1.4-3.3l1.4 .9l1.4 5.3l1.4-2.7l1.4 1.9l1.4-2.7l1.4 1.9l1.4-2.2l1.4-.3l1.4-3.4l1.4-1.1l1.4-4.4l1.4-2l1.4-2.1l1.4-2.4l1.4-3l1.4-4.1l1.4-5.3l1.4-3.3l1.4-4.6l1.4-3.4l1.4-3.6l1.4-2.8l1.4-1.6l1.4-5.9l1.4-1.8l1.4 .6l1.4-5.3l1.4 3.1l1.4-4l1.4 .2l1.4-.8l1.4-1.9l1.4-.4l1.4 .7l1.4 1l1.4 0l1.4-1.8l1.4-1.8l1.4 1.1l1.4 1.5l1.4-.2l1.4-.2l1.4-1.1l1.4 3.7l1.4-1.6l1.4 .9l1.4 1.7l1.4 .6l1.4-2.8l1.4 1.5l1.4 1l1.5-.2l1.4-.9l1.4 1.5l1.4-1.8l1.4 2.8l1.4 .9l1.4-.6l1.4 1.3l1.4-.5l1.4-2l1.4-.4l1.4 1.6l1.4 .8l1.4 1.6l1.4 .3l1.4-1.8l1.4 .4l1.4 1.1l1.4-.1l1.4-2.6l1.4 .8l1.4 1.4l1.4-.2l1.4-1.3l1.4 1.3l1.4 .2l1.4 2.5l1.4 .3l1.4 .3l1.4 .5l1.4-2.9l1.4-.5l1.4 1.7l1.4-1.7l1.4 0l1.4 .7l1.4 2l1.4-4l1.4 .1l1.4 2.7l1.4-3.4l1.4 2.5l1.4 1.2l1.4-.6l1.4 2l1.4-2.1l1.4 1.7l1.4-3.8l1.4 1.1l1.4 2.3l1.4-2.7l1.4 3l1.4-2.5l1.4-.5l1.4 .5l1.4 1.6l1.4-1.5l1.4 .1l1.4-.4l1.4-2l1.4-.3l1.4 .1l1.4 2.9l1.4 .1l1.4-1.1l1.4-.6l1.4 3.4l1.4-2l1.4-3.3l1.4 4.1l1.4-.7l1.4-.1l1.4-1.6l1.4 .7l1.4 .3l1.4 1.6l1.4-2.9l1.4 .8l1.4 .9l1.4-1l1.5-1.1l1.4 3.1l1.4 .1l1.4-.8l1.4-.2l1.4 2.9l1.4-3.3l1.4-2.4l1.4 2l1.4-1.9l1.4 5.3l1.4-3.8l1.4-2l1.4-.3l1.4 2.8l1.4 .5l1.4-1.7l1.4 2.2l1.4-1.2l1.4 1.8l1.4-2.4l1.4 .1l1.4-2.2l1.4 1.7l1.4 1.4l1.4-.8l1.4 1.7l1.4-1.8l1.4 .3l1.4-.9l1.4-.7l1.4 4l1.4-3.1l1.4-.6l1.4 2.6l1.4-4.2l1.4 3.6l1.4-4.4l1.4 2.3l1.4-.2l1.4 .9" stroke="#9a7ac6"/>
<path d="M30.3 656.2l1.4-.4l1.4 1.9l1.4-4.3l1.4 2.1l1.4-2.5l1.4 .2l1.4 3.3l1.4-3.6l1.4 .7l1.4 .1l1.4-.5l1.4 .8l1.4-.1l1.4-1.9l1.4 3.5l1.4 .3l1.4-.9l1.4-3.1l1.4 2.3l1.4-3.9l1.4 8.4l1.4-4.1l1.4-.5l1.4-1.3l1.4-1.9l1.4 2.6l1.4 1.3l1.4-3.2l1.4-1.3l1.4 6.9l1.4-5.4l1.4 .4l1.4 1.9l1.4-.7l1.4-1.4l1.4 .4l1.4 .4l1.4 1.4l1.4-2.5l1.5 1.5l1.4-1.4l1.4 1l1.4-1.5l1.4-1l1.4 .7l1.4-.9l1.4 3.4l1.4-3.4l1.4 .1l1.4 1.4l1.4-1.1l1.4 4.2l1.4-5.2l1.4 .4l1.4 2.7l1.4-5.2l1.4 1.4l1.4-2.5l1.4-1.5l1.4-4.7l1.4-3.3l1.4-3.6l1.4-7.1l1.4-7.1l1.4-.9l1.4-8.5l1.4-2.4l1.4-1.2l1.4-3.7l1.4 2l1.4 4.4l1.4 0l1.4-4l1.4 1.5l1.4-1.8l1.4 1.5l1.4-5l1.4-4.5l1.4 .1l1.4-3.3l1.4-6.2l1.4-2l1.4-4.7l1.4-2.5l1.4-5.2l1.4 .2l1.4-6l1.4-2.7l1.4-9.7l1.4-1l1.4-2.9l1.4-1.9l1.4-1.4l1.4 .9l1.4-8.2l1.4 2l1.4-1.2l1.4 1.2l1.4-2.6l1.4-1.3l1.4-.1l1.4-1.5l1.4 1.5l1.4-1.7l1.4-.8l1.4 .6l1.4 .4l1.4 .9l1.4 1.5l1.4-1.8l1.4 1.6l1.4 1.1l1.4-2l1.4 3.6l1.4-1.1l1.4-1.6l1.4 0l1.4 2.1l1.4-.4l1.5-.4l1.4 1.1l1.4 1.3l1.4-1.4l1.4 .6l1.4 .3l1.4-1.1l1.4 1.4l1.4 1.2l1.4-.6l1.4-2.2l1.4 3.8l1.4-.5l1.4 .9l1.4-1.4l1.4 2.3l1.4-2.3l1.4-.3l1.4 2.2l1.4 .2l1.4 .9l1.4-2l1.4 1.7l1.4-.6l1.4-.2l1.4 .4l1.4-2l1.4-1l1.4 5.1l1.4-1.7l1.4-1.4l1.4 1.8l1.4-.6l1.4-1l1.4-1.6l1.4 .3l1.4 2.1l1.4-.6l1.4 .7l1.4-.3l1.4 1.4l1.4 .8l1.4-1.9l1.4-1.8l1.4 .2l1.4 3.6l1.4-2.3l1.4 .5l1.4-1.2l1.4 1.8l1.4-2.8l1.4 1.5l1.4-1.1l1.4-.5l1.4 3.8l1.4-2.4l1.4-2.4l1.4 2l1.4-1.4l1.4 .8l1.4 1.2l1.4-1.2l1.4-1l1.4-.4l1.4-.3l1.4 3.5l1.4-2.7l1.4 2.9l1.4-1.7l1.4 .1l1.4-1.2l1.4 .4l1.4-1.3l1.4 2.5l1.4-2l1.4 .6l1.4 .5l1.4 1.6l1.4-2.4l1.4 .3l1.5-.7l1.4 1.1l1.4 .3l1.4-.9l1.4-.1l1.4-.3l1.4-1.7l1.4 3.4l1.4-3.6l1.4 6.7l1.4-5.3l1.4 2.4l1.4-3.9l1.4 4l1.4-2.7l1.4 2.8l1.4 .2l1.4-2.7l1.4-.1l1.4 2.2l1.4-4.3l1.4 3.7l1.4-2.5l1.4 3.5l1.4-.1l1.4-1.4l1.4 1.5l1.4-2l1.4 3.5l1.4-3.1l1.4 1l1.4 .5l1.4-1.6l1.4 .6l1.4 .3l1.4-1.7l1.4 .7l1.4-.1l1.4-1.3l1.4 1.9l1.4-1.2" stroke="#7442ae"/>
<path d="M30.3 653.4l1.4 .1l1.4 1.8l1.4 1.6l1.4-.4l1.4-.6l1.4-2.6l1.4 1.1l1.4 .2l1.4-1.3l1.4-.5l1.4-1.2l1.4 3.3l1.4-2l1.4-.3l1.4 2.8l1.4-1.9l1.4 1.7l1.4-1.2l1.4-1.2l1.4 3.5l1.4-1.4l1.4-.2l1.4-1.6l1.4 1.3l1.4-1.9l1.4 2l1.4-.6l1.4-2l1.4 .4l1.4 .2l1.4 .3l1.4-1.9l1.4-.7l1.4 2.9l1.4 .5l1.4 .5l1.4-4.8l1.4 4.4l1.4 .6l1.5-2.8l1.4-1.4l1.4 3.7l1.4-2l1.4 2.1l1.4-1.4l1.4-4.1l1.4 2.3l1.4 .6l1.4-.8l1.4-.5l1.4 .4l1.4 1.5l1.4-.3l1.4-5.8l1.4 4.3l1.4-3.8l1.4 2.7l1.4-4.3l1.4-1.3l1.4-1.8l1.4-7.5l1.4 1l1.4-6.4l1.4-4.9l1.4-5.8l1.4-4.8l1.4-2.2l1.4-2.9l1.4-2.6l1.4 7.5l1.4 .6l1.4-.7l1.4-1.5l1.4-3.6l1.4-.8l1.4-1l1.4-1.6l1.4-6.3l1.4 3l1.4-3.1l1.4-5.2l1.4-4.1l1.4-3.3l1.4-3.1l1.4-3.9l1.4-6.7l1.4-4.1l1.4-4.9l1.4-3.4l1.4-7.2l1.4-2.4l1.4-4.7l1.4 1.3l1.4-2.3l1.4-.9l1.4-1.5l1.4-.6l1.4-.9l1.4 1.7l1.4-3.1l1.4-2l1.4 3l1.4-2.5l1.4-1.5l1.4-.9l1.4 1.9l1.4-.5l1.4-1.5l1.4 .9l1.4 2.6l1.4 .6l1.4-1.9l1.4 1.5l1.4 1.3l1.4-.1l1.4-.5l1.4 1l1.4 .3l1.4 .2l1.5 2l1.4-4.1l1.4 1l1.4-.2l1.4 2.5l1.4-.1l1.4-.3l1.4-.1l1.4 3.8l1.4-2.8l1.4 2.1l1.4-1.1l1.4 1l1.4-3.1l1.4 1.7l1.4 .9l1.4-1.8l1.4 2l1.4 1l1.4-.7l1.4 .4l1.4-.5l1.4-1l1.4 1.4l1.4 0l1.4-1.4l1.4 1l1.4-.8l1.4 1.2l1.4 1.9l1.4-.1l1.4 .7l1.4-3.7l1.4 1l1.4 1.2l1.4 .8l1.4-1.8l1.4 .7l1.4-.6l1.4 1.5l1.4 .4l1.4-3.6l1.4 3.4l1.4-1.3l1.4-1.8l1.4 4.2l1.4-3.4l1.4 .8l1.4 .2l1.4-.6l1.4 2l1.4 1.3l1.4-5.6l1.4 2.9l1.4-1.6l1.4-.4l1.4 1.1l1.4-.3l1.4-.4l1.4-1.2l1.4 1.4l1.4-1.1l1.4 2.1l1.4 .1l1.4-.7l1.4-.5l1.4-.2l1.4-2l1.4 1.5l1.4 1l1.4-2.6l1.4 2.2l1.4-.1l1.4-.2l1.4 1.1l1.4 1l1.4-1.7l1.4 .6l1.4 .7l1.4-1.3l1.5 .4l1.4 .5l1.4 1.6l1.4-2.2l1.4-2.7l1.4 1.2l1.4-.3l1.4 1.5l1.4-1.5l1.4 2.3l1.4-.3l1.4-1.3l1.4 2.6l1.4-2l1.4-.4l1.4-1.8l1.4 3.2l1.4-1.6l1.4 1.5l1.4-.2l1.4 2.9l1.4-2.3l1.4-2.8l1.4 .8l1.4 .5l1.4-3.1l1.4 2.6l1.4 2.4l1.4-1.4l1.4-.2l1.4-2.3l1.4 3.4l1.4-1.8l1.4-.7l1.4 2.4l1.4-1.2l1.4 2.8l1.4-2.8l1.4 3.1l1.4-2.5l1.4-2.8" stroke="#4e1a8c"/>
</g>
<line x1="35.3" y1="517.5" x2="49.2" y2="517.5" stroke="#1e4d32" stroke-width="1.25"/>
<text x="54.4" y="519.6" font-size="6.3">146_px</text>
<line x1="35.3" y1="527.5" x2="49.2" y2="527.5" stroke="#3a6a4c" stroke-width="1.25"/>
<text x="54.4" y="529.4" font-size="6.3">136_px</text>
<line x1="35.3" y1="536.5" x2="49.2" y2="536.5" stroke="#6a977a" stroke-width="1.25"/>
<text x="54.4" y="539.1" font-size="6.3">126_px</text>
<line x1="35.3" y1="546.5" x2="49.2" y2="546.5" stroke="#9cbfa8" stroke-width="1.25"/>
<text x="54.4" y="548.9" font-size="6.3">116_px</text>
<line x1="35.3" y1="556.5" x2="49.2" y2="556.5" stroke="#cde0d3" stroke-width="1.25"/>
<text x="54.4" y="558.7" font-size="6.3">106_px</text>
<line x1="35.3" y1="566.5" x2="49.2" y2="566.5" stroke="#f0f0f0" stroke-width="1.25"/>
<text x="54.4" y="568.4" font-size="6.3">96_px</text>
<line x1="35.3" y1="575.5" x2="49.2" y2="575.5" stroke="#dccdea" stroke-width="1.25"/>
<text x="54.4" y="578.2" font-size="6.3">86_px</text>
<line x1="35.3" y1="585.5" x2="49.2" y2="585.5" stroke="#bda5d8" stroke-width="1.25"/>
<text x="54.4" y="588.0" font-size="6.3">76_px</text>
<line x1="35.3" y1="595.5" x2="49.2" y2="595.5" stroke="#9a7ac6" stroke-width="1.25"/>
<text x="54.4" y="597.8" font-size="6.3">66_px</text>
<line x1="35.3" y1="605.5" x2="49.2" y2="605.5" stroke="#7442ae" stroke-width="1.25"/>
<text x="54.4" y="607.5" font-size="6.3">56_px</text>
<line x1="35.3" y1="615.5" x2="49.2" y2="615.5" stroke="#4e1a8c" stroke-width="1.25"/>
<text x="54.4" y="617.3" font-size="6.3">46_px</text>
<g fill="none" stroke-width="1.35" stroke-linejoin="round" clip-path="url(#cp5)">
<path d="M366.9 655.0l1.4 .4l1.4-.2l1.4-3.2l1.4 2.4l1.4-.8l1.4 2.2l1.4-.1l1.4 .9l1.4-1.5l1.4 .8l1.4-2.8l1.4 .5l1.4 1.1l1.4 .6l1.4 3.6l1.4-3.7l1.4-1.5l1.4-.7l1.4 5.8l1.4-1.1l1.4-4.1l1.4 1.7l1.4-1.3l1.4 .3l1.4-1.7l1.4 3.7l1.4-2.1l1.4-2.4l1.4 1l1.4 1.6l1.4-2.1l1.4 .2l1.4 1.7l1.4-2.6l1.4-.1l1.4 1.2l1.4-1.8l1.4 3.1l1.4-3.2l1.5 1.3l1.4 1l1.4-.8l1.4-3l1.4 2.4l1.4-.7l1.4 .2l1.4-.1l1.4-3.1l1.4-2.3l1.4 1l1.4 .9l1.4-.8l1.4 1.2l1.4-.3l1.4 .4l1.4-4.9l1.4 2l1.4-.3l1.4-1.2l1.4-2.5l1.4-2.5l1.4-6.6l1.4-7.1l1.4-12.7l1.4-6.2l1.4-6.9l1.4-.6l1.4-1.7l1.4-3l1.4 2.4l1.4 2.5l1.4-.7l1.4 1l1.4-2.5l1.4 .8l1.4-3.9l1.4-1.4l1.4-3.2l1.4-3.2l1.4-3.1l1.4-5.1l1.4-5.1l1.4-1.2l1.4-4.1l1.4-4.7l1.4-1.4l1.4-5.2l1.4-2.3l1.4 .2l1.4-3.1l1.4-1.7l1.4-2.7l1.4-1.5l1.4 0l1.4-1.6l1.4-1.4l1.4-.6l1.4-1l1.4-.4l1.4 0l1.4-.5l1.4 0l1.4 .5l1.4 .1l1.4 .2l1.4-.9l1.4 0l1.4 .1l1.4 1.1l1.4 .3l1.4-.1l1.4-.3l1.4 .8l1.4 .3l1.4 .8l1.4-.8l1.4 .1l1.4 1l1.4-1.7l1.4 1.8l1.5-1.1l1.4 .7l1.4-.2l1.4 .7l1.4-.1l1.4-.8l1.4 .6l1.4 .2l1.4-.8l1.4 .2l1.4 .3l1.4 0l1.4-.9l1.4 1.2l1.4-.3l1.4 0l1.4 1.2l1.4 .4l1.4-1.3l1.4-.4l1.4 .4l1.4 .5l1.4 .1l1.4-.9l1.4 .7l1.4 .9l1.4-1.4l1.4 .3l1.4-.1l1.4-.4l1.4-.1l1.4 .5l1.4 .5l1.4 1.2l1.4-1.5l1.4 .3l1.4-.9l1.4 .1l1.4 .5l1.4-.5l1.4 .9l1.4 0l1.4 .5l1.4-.3l1.4-.3l1.4-.5l1.4 1.1l1.4-.9l1.4-1l1.4 2.4l1.4-.7l1.4-.2l1.4-.6l1.4-.6l1.4 .5l1.4 .8l1.4 .5l1.4-.5l1.4 0l1.4-.2l1.4 .8l1.4-1.6l1.4 1.4l1.4-.8l1.4 .3l1.4 .8l1.4-.7l1.4 0l1.4 .1l1.4-.6l1.4 .8l1.4-1.9l1.4 .9l1.4 1.3l1.4 1l1.4-2.4l1.4 .6l1.4 .1l1.4 .7l1.5 .3l1.4 .3l1.4-2.8l1.4 .6l1.4 1.3l1.4-1.5l1.4 2.4l1.4-1.6l1.4 0l1.4 .9l1.4-.2l1.4 .4l1.4-.7l1.4-.8l1.4 .2l1.4 .3l1.4-.4l1.4 1.8l1.4-2.4l1.4 1.3l1.4 .8l1.4-.6l1.4 .2l1.4-.5l1.4-.1l1.4 1.7l1.4-2.3l1.4-.3l1.4 1.8l1.4-1.6l1.4 .1l1.4 .2l1.4-.4l1.4 1.9l1.4-1.4l1.4 1.1l1.4-2.1l1.4 2.1l1.4 .2l1.4-1.5l1.4 .3" stroke="#1e4d32"/>
<path d="M366.9 655.3l1.4-.8l1.4-1.9l1.4 3.8l1.4-.3l1.4-.1l1.4-.9l1.4-.2l1.4 2l1.4-2.6l1.4 2.4l1.4-1.6l1.4-.2l1.4-.1l1.4-2.8l1.4-.3l1.4 .8l1.4-.9l1.4 2.8l1.4-2.7l1.4 2.2l1.4-.5l1.4-.2l1.4 2.5l1.4-1.3l1.4-.7l1.4-1l1.4 .7l1.4 1.1l1.4 .4l1.4-1.9l1.4 1.8l1.4-.1l1.4-1.8l1.4-.6l1.4 1.5l1.4 1.4l1.4-3.4l1.4-1l1.4 1.8l1.5-.3l1.4 2.9l1.4-5.4l1.4 2.9l1.4-3.2l1.4 1.8l1.4-1.1l1.4-.2l1.4 2.2l1.4-7.6l1.4 6.5l1.4-3l1.4 1l1.4-1.5l1.4-3.2l1.4 4.5l1.4-3.6l1.4-1.9l1.4-.5l1.4-1.7l1.4 .2l1.4-2.6l1.4-6.8l1.4-8.9l1.4-13.2l1.4-9.8l1.4-7.5l1.4-.6l1.4-2.1l1.4-.5l1.4 3.4l1.4-3.2l1.4 3.3l1.4-.9l1.4-4.8l1.4 4.5l1.4-3.8l1.4-2.1l1.4-1.8l1.4-2.5l1.4-2.3l1.4-7.3l1.4 3.2l1.4-4.8l1.4-7.3l1.4-1.8l1.4-.8l1.4-2.3l1.4-3.4l1.4-4.3l1.4-.7l1.4-.9l1.4-2.3l1.4-.8l1.4-2.7l1.4-.5l1.4-1.6l1.4 0l1.4-1.6l1.4 .8l1.4-.1l1.4 .6l1.4-.5l1.4-.6l1.4 .5l1.4-1.9l1.4 1.6l1.4 .6l1.4-.9l1.4 1.2l1.4-.3l1.4 .6l1.4 .6l1.4-1l1.4 1l1.4-.5l1.4 1l1.4 .7l1.4 0l1.4-.4l1.4-.2l1.5-.1l1.4-.2l1.4 1.1l1.4-.8l1.4 .9l1.4-.3l1.4-2l1.4 .8l1.4 1.1l1.4-1.3l1.4 .2l1.4 .4l1.4-.3l1.4 1.1l1.4-.1l1.4 .5l1.4-.9l1.4 1.2l1.4-.4l1.4-.6l1.4 .6l1.4-.5l1.4-.9l1.4 1.8l1.4-1.5l1.4 1.4l1.4 .2l1.4-.7l1.4-.5l1.4 1.1l1.4 0l1.4-.1l1.4 .2l1.4-.6l1.4 .6l1.4-.2l1.4-.4l1.4 .5l1.4-1l1.4 1.2l1.4 .1l1.4-1.7l1.4 .3l1.4 .9l1.4-.4l1.4 .3l1.4 .6l1.4-.8l1.4 .3l1.4-.6l1.4 2l1.4-1.7l1.4 .4l1.4 .6l1.4-.2l1.4 0l1.4 .6l1.4-.5l1.4-.8l1.4 1.4l1.4-.7l1.4 1.3l1.4-1.2l1.4-.6l1.4 .3l1.4-.1l1.4 .8l1.4-1.1l1.4 .9l1.4-1.1l1.4 .4l1.4 .4l1.4-1.2l1.4 1.2l1.4-.9l1.4 .6l1.4 .1l1.4-.7l1.4 .4l1.5 .3l1.4 0l1.4-.2l1.4 .1l1.4 .3l1.4 .4l1.4 1l1.4-1.6l1.4 .1l1.4-.9l1.4 .5l1.4-.5l1.4-.3l1.4 1.1l1.4 .5l1.4-1.1l1.4 .9l1.4-.2l1.4-1.1l1.4 .6l1.4-.3l1.4 1.5l1.4-.9l1.4-.7l1.4 1.6l1.4-1l1.4-.1l1.4 1.7l1.4-2.5l1.4 1.5l1.4-.4l1.4-1.1l1.4 2.2l1.4-1.4l1.4 .5l1.4-.3l1.4 .6l1.4-1.4l1.4 1.6l1.4-1l1.4-.1" stroke="#3a6a4c"/>
<path d="M366.9 655.9l1.4-.1l1.4-2.1l1.4 .8l1.4 .8l1.4 1.5l1.4-2.1l1.4-.7l1.4 .8l1.4-2.4l1.4 5.2l1.4-7l1.4 4.1l1.4 1.5l1.4 .8l1.4-4.2l1.4 .4l1.4 1.1l1.4-.3l1.4-.5l1.4 .9l1.4-2.6l1.4 .8l1.4 1.1l1.4 2.3l1.4-4.9l1.4 2.9l1.4 .8l1.4-3.8l1.4 1.2l1.4 3.9l1.4-.6l1.4-2.2l1.4 1.3l1.4-1.8l1.4-4.6l1.4-.7l1.4 4.7l1.4-1.5l1.4-.3l1.5 1.4l1.4 1.9l1.4-4.3l1.4 1.7l1.4-1.4l1.4-.7l1.4 2.1l1.4-4.3l1.4 2.2l1.4-.6l1.4 .7l1.4-2.2l1.4-1l1.4 2l1.4-2.5l1.4 .9l1.4 .4l1.4-2.5l1.4-2.7l1.4-1.3l1.4-2.7l1.4-1.6l1.4-7.2l1.4-8.6l1.4-12.6l1.4-10l1.4-4.2l1.4-2.5l1.4-6.7l1.4-.8l1.4 2.6l1.4-3.1l1.4 2.9l1.4-.5l1.4-1.5l1.4 1.9l1.4-.8l1.4 .2l1.4-4.8l1.4-2.4l1.4-3.3l1.4-2.4l1.4-1.9l1.4-4.6l1.4 .4l1.4-5.3l1.4-2.9l1.4-1.3l1.4-5.3l1.4 .4l1.4-2.6l1.4-1.5l1.4-.8l1.4-2.7l1.4-.8l1.4-.4l1.4-1l1.4-.1l1.4-.9l1.4-.2l1.4-.5l1.4 .2l1.4-.7l1.4 .3l1.4 .9l1.4-.7l1.4 .3l1.4 .4l1.4-.5l1.4-.5l1.4 1.6l1.4 .8l1.4-.9l1.4-1.7l1.4 2.4l1.4-.4l1.4 .5l1.4-.7l1.4-.3l1.4 1l1.4-.8l1.5 1.5l1.4-.7l1.4 1l1.4-.9l1.4 .5l1.4-.5l1.4 .9l1.4-.8l1.4 .1l1.4 .5l1.4 .1l1.4 .3l1.4-.5l1.4-.5l1.4 .4l1.4-.2l1.4-.6l1.4 1l1.4-.4l1.4-.3l1.4 .2l1.4 .2l1.4 .2l1.4-1.2l1.4 1.3l1.4 .2l1.4-.5l1.4-.7l1.4 .2l1.4 .9l1.4-.5l1.4 .2l1.4 .3l1.4-.3l1.4 0l1.4 .4l1.4-1l1.4 1.3l1.4-1.1l1.4-.4l1.4 0l1.4 1.2l1.4 .3l1.4 .9l1.4-.9l1.4-1.6l1.4 2.6l1.4 0l1.4-1.5l1.4 .1l1.4 1.6l1.4-1.1l1.4-.3l1.4 1.2l1.4-1.5l1.4 1.4l1.4-1.5l1.4 .6l1.4 .5l1.4 .6l1.4-.8l1.4-.2l1.4 .1l1.4 .3l1.4-.3l1.4-.7l1.4 1.2l1.4-.5l1.4-.4l1.4 .3l1.4-.6l1.4-.4l1.4 1.2l1.4-.3l1.4 2l1.4-1.7l1.4-.6l1.4 1.1l1.4-1.6l1.5 2.1l1.4-2.1l1.4 1.2l1.4 .3l1.4-.3l1.4-.1l1.4 .4l1.4 .3l1.4-.6l1.4-.9l1.4 .3l1.4-.6l1.4 1.3l1.4-.2l1.4 0l1.4-.3l1.4-.2l1.4-.8l1.4 .6l1.4 .4l1.4-.8l1.4 1.4l1.4 .3l1.4-1.2l1.4 .3l1.4 0l1.4-.5l1.4 .8l1.4-.1l1.4-.3l1.4-.2l1.4-.2l1.4 .5l1.4-.1l1.4 1.7l1.4-2.3l1.4 1.8l1.4-1l1.4-1.6l1.4 1.8l1.4 .8" stroke="#6a977a"/>
<path d="M366.9 656.2l1.4-.7l1.4 0l1.4-1.6l1.4-.1l1.4 1.3l1.4-2l1.4 3.1l1.4-2.6l1.4 2l1.4-2.2l1.4 2.1l1.4-.5l1.4-3.1l1.4 4l1.4 0l1.4-2.8l1.4 1.2l1.4 .2l1.4-.6l1.4-3.7l1.4 5l1.4-1.3l1.4-.8l1.4 1.7l1.4-1.6l1.4-.9l1.4 2.2l1.4-3.3l1.4 3.5l1.4-1.7l1.4-.8l1.4-4.7l1.4 7.8l1.4-3.4l1.4-3.6l1.4 4.8l1.4-2.8l1.4 1.2l1.4 2.4l1.5-3.1l1.4 1.8l1.4-1.8l1.4 2.2l1.4-3.9l1.4 4.6l1.4-3.9l1.4-2.6l1.4 .8l1.4 1.1l1.4-.6l1.4-.1l1.4-5.5l1.4 3.9l1.4-.7l1.4 .4l1.4-1.2l1.4-2.8l1.4 .8l1.4-1l1.4-2.2l1.4-4.7l1.4-7.2l1.4-6.5l1.4-11.7l1.4-9.5l1.4-8l1.4-.9l1.4-1.2l1.4-1.3l1.4 .8l1.4 2.9l1.4-1.7l1.4-2.8l1.4 1.3l1.4-2.4l1.4 1.2l1.4-.7l1.4-3.4l1.4-6l1.4 .5l1.4-3.5l1.4-6.2l1.4-1l1.4-3.3l1.4-4.1l1.4-2.3l1.4-1.8l1.4-3.1l1.4-1.3l1.4-2.4l1.4-2.2l1.4-.3l1.4-1.9l1.4-.7l1.4-2.3l1.4-.9l1.4-.9l1.4-.5l1.4-.2l1.4 0l1.4 .8l1.4-1.2l1.4 1.1l1.4-2.1l1.4 1.3l1.4-.1l1.4 1.3l1.4-1.3l1.4 .2l1.4 2l1.4-.4l1.4 .2l1.4 .4l1.4-1.1l1.4-.4l1.4 2.1l1.4-1.3l1.4 .9l1.4-1l1.4 2.5l1.5-1.2l1.4-1l1.4 1.3l1.4-1.2l1.4 1.1l1.4-1l1.4 .4l1.4 .6l1.4 .3l1.4-.4l1.4-.8l1.4 .8l1.4 .4l1.4-2.5l1.4 3.1l1.4-.8l1.4-.5l1.4 1.1l1.4-.7l1.4 .3l1.4 .7l1.4-1.2l1.4 1.1l1.4-.3l1.4-1.2l1.4 1.5l1.4-1l1.4-.4l1.4 .2l1.4 .3l1.4 .5l1.4 .8l1.4-1l1.4-.2l1.4 .7l1.4 .3l1.4-1.2l1.4 1.3l1.4-1l1.4 .7l1.4 .7l1.4-2l1.4 .6l1.4 .1l1.4 1.2l1.4-.8l1.4-.2l1.4 .7l1.4-1.5l1.4 2.3l1.4-1.7l1.4 1.6l1.4-.2l1.4-.1l1.4-1.2l1.4 .8l1.4 0l1.4 .2l1.4 .3l1.4-.3l1.4 0l1.4-.4l1.4 0l1.4 1.3l1.4-1.1l1.4-1.2l1.4 1.1l1.4-.2l1.4 .4l1.4-.1l1.4-.3l1.4 .8l1.4-.8l1.4 1l1.4-1.3l1.4 1.2l1.4-1.4l1.4-.2l1.4 1.7l1.5-1.5l1.4 .7l1.4-1l1.4 1.1l1.4-.2l1.4 0l1.4-1l1.4 2.1l1.4-1.8l1.4 .5l1.4 .3l1.4-.1l1.4-.8l1.4 .1l1.4-.5l1.4 1.4l1.4 .8l1.4-.8l1.4-.2l1.4 .1l1.4-1l1.4-.7l1.4 1.2l1.4 1.4l1.4-1.8l1.4 1l1.4-.4l1.4-.5l1.4 .3l1.4 .3l1.4-.2l1.4-.3l1.4 0l1.4-.9l1.4 3.2l1.4-1.4l1.4-.1l1.4-.9l1.4 .4l1.4-.4l1.4 1.4" stroke="#9cbfa8"/>
<path d="M366.9 654.4l1.4 1l1.4 .5l1.4-1.2l1.4-2.2l1.4 5.8l1.4-5.9l1.4 2l1.4 1.7l1.4-2.5l1.4 .9l1.4-1.9l1.4 3.1l1.4-2.9l1.4 2.8l1.4-2l1.4-.7l1.4 1.2l1.4-1.3l1.4 1.9l1.4-2.7l1.4 2.4l1.4 .2l1.4-1l1.4-.2l1.4 1.2l1.4-2.7l1.4 1.4l1.4-1.3l1.4 3.3l1.4-.4l1.4-1.8l1.4 1.1l1.4-1.5l1.4-1.2l1.4-1l1.4-.7l1.4 1l1.4 2.2l1.4-2.2l1.5 1.5l1.4-2l1.4 2.2l1.4-4.2l1.4 1.2l1.4 .7l1.4 1.3l1.4-2.9l1.4 .9l1.4-1.5l1.4 1.1l1.4-.7l1.4-2.3l1.4-1.9l1.4 3.7l1.4-2.4l1.4-1.8l1.4-.2l1.4-.7l1.4-5.4l1.4 2.9l1.4-6.3l1.4-4.9l1.4-8l1.4-7.4l1.4-14.7l1.4-2.6l1.4-1.1l1.4-5.5l1.4 3l1.4 1l1.4 1l1.4-2.5l1.4 1.7l1.4-.3l1.4 0l1.4-2.8l1.4-4.4l1.4-2l1.4 0l1.4-5.3l1.4-5.2l1.4-7.2l1.4 2.1l1.4-1l1.4-7.9l1.4-.8l1.4-1.1l1.4-5.2l1.4-1.2l1.4-1.4l1.4-1.4l1.4-2.2l1.4-1.4l1.4-.1l1.4-2.8l1.4 .5l1.4-2.4l1.4 .3l1.4 .1l1.4-.5l1.4 .4l1.4-.4l1.4-1.2l1.4 1.4l1.4-.8l1.4 1.1l1.4-.4l1.4-.4l1.4 1.6l1.4-.7l1.4 1.8l1.4-.4l1.4-.2l1.4-.7l1.4 .3l1.4 1.1l1.4-.5l1.4-.1l1.4 1.2l1.4-1.3l1.5-.5l1.4 .1l1.4 1.2l1.4-.1l1.4 .4l1.4-.3l1.4-.1l1.4-.6l1.4 .5l1.4 .6l1.4-1.1l1.4 0l1.4 1l1.4-.2l1.4-.1l1.4 1l1.4-1.1l1.4-.3l1.4-.8l1.4 1.1l1.4 .4l1.4-.1l1.4-.5l1.4-.1l1.4 1.1l1.4-.6l1.4-.3l1.4 1.7l1.4-2.1l1.4 1l1.4-.6l1.4 .6l1.4 .1l1.4-.1l1.4-.2l1.4-.3l1.4 .7l1.4 .6l1.4-.3l1.4 .2l1.4-1.1l1.4 1.1l1.4-1.5l1.4 .9l1.4 .1l1.4-.8l1.4 1l1.4 0l1.4-.7l1.4 .1l1.4 1.1l1.4-2.2l1.4 1.2l1.4 1.2l1.4-.7l1.4-.7l1.4 .5l1.4-.4l1.4-1l1.4 .9l1.4-.7l1.4 .9l1.4 .8l1.4-1.3l1.4 1.4l1.4-1.1l1.4 .2l1.4 .9l1.4 0l1.4-.4l1.4-.4l1.4-.5l1.4 .8l1.4-1.2l1.4 .6l1.4 1l1.4 0l1.4-.5l1.4 .4l1.5-.3l1.4-.5l1.4 .3l1.4-.4l1.4 1l1.4 .1l1.4 .4l1.4 .2l1.4-.8l1.4-.4l1.4 .2l1.4-.1l1.4-1.3l1.4 2l1.4-.5l1.4 .1l1.4 .3l1.4-1.5l1.4 .9l1.4-.8l1.4 1.5l1.4-1.9l1.4-.3l1.4 2l1.4-.5l1.4 .1l1.4-.5l1.4 1.2l1.4-1.1l1.4-.2l1.4 .9l1.4 1l1.4-1l1.4-.2l1.4-.7l1.4 .9l1.4 .3l1.4-1.1l1.4 .1l1.4-.2l1.4 .4" stroke="#cde0d3"/>
<path d="M366.9 654.3l1.4 3.5l1.4-3.2l1.4-1l1.4 1.1l1.4-2.4l1.4 3l1.4-2l1.4 3l1.4-2l1.4 .7l1.4 .7l1.4 .4l1.4-2.6l1.4-.4l1.4 1.6l1.4 .9l1.4-.7l1.4-2.7l1.4 3l1.4-3.8l1.4 4.4l1.4-3.2l1.4-.7l1.4-1l1.4 2.6l1.4 .4l1.4 1l1.4-3.8l1.4 1.6l1.4 .4l1.4-.2l1.4-1.1l1.4 .2l1.4-1.9l1.4 5.1l1.4-4.9l1.4 2.1l1.4-.9l1.4 .2l1.5-.7l1.4-1.6l1.4 .4l1.4 2.3l1.4-2.6l1.4-.4l1.4-1.1l1.4 .2l1.4-.2l1.4-2.1l1.4 3l1.4-5.7l1.4 3.9l1.4 .2l1.4-3.6l1.4-1.2l1.4-1.3l1.4-1.5l1.4 .3l1.4-1l1.4-2.8l1.4-4.2l1.4-5.9l1.4-11.3l1.4-11.3l1.4-6.6l1.4-4l1.4-2.1l1.4 .4l1.4-2l1.4-.1l1.4-.4l1.4 1.9l1.4 1.4l1.4-4.7l1.4-3.2l1.4 4.2l1.4-5.3l1.4-3.9l1.4 .4l1.4-2.7l1.4-5.4l1.4-2.5l1.4-2.4l1.4-6.6l1.4-2.6l1.4-1.2l1.4-1l1.4-1.7l1.4-2.9l1.4-1.1l1.4-2.6l1.4-1.2l1.4 0l1.4-2l1.4-1.5l1.4-.3l1.4 .4l1.4-.8l1.4-.2l1.4-.5l1.4-.1l1.4 .2l1.4-.8l1.4-.3l1.4 1.3l1.4 .7l1.4-1l1.4 .4l1.4 0l1.4 1l1.4-.4l1.4 1l1.4-1.1l1.4-.2l1.4 1.7l1.4 1.1l1.4-1.2l1.4 0l1.4-.4l1.4 .2l1.5-.3l1.4-1.4l1.4 2.1l1.4-.1l1.4-.5l1.4 1.5l1.4-1.6l1.4 .9l1.4 .5l1.4-.3l1.4-.9l1.4-.2l1.4-.2l1.4 .5l1.4 .8l1.4-.8l1.4 .4l1.4-1.5l1.4 2.8l1.4-2.3l1.4 .5l1.4 .3l1.4 .3l1.4 .3l1.4 .3l1.4 .4l1.4-2.3l1.4 .7l1.4 .2l1.4 .3l1.4 1.4l1.4-1l1.4-.2l1.4-.7l1.4 1.4l1.4-.8l1.4 .4l1.4-.2l1.4 .5l1.4-.7l1.4 .2l1.4 1.3l1.4-2l1.4-.6l1.4 2l1.4-1.3l1.4 1.4l1.4-.3l1.4-1.4l1.4 1l1.4-.8l1.4 .7l1.4-.4l1.4 .7l1.4-1l1.4-.2l1.4 .7l1.4 .8l1.4-.1l1.4 .4l1.4-1l1.4 0l1.4 .8l1.4-1l1.4 .9l1.4-1.5l1.4 .6l1.4-.5l1.4 1.5l1.4 .2l1.4 .5l1.4-1.6l1.4 1.2l1.4-1.6l1.4 .8l1.4-.4l1.4 1.3l1.4-.5l1.4-.5l1.5-.3l1.4 1.3l1.4-1.1l1.4 .8l1.4-1.1l1.4 .7l1.4 0l1.4-.4l1.4-.5l1.4 .9l1.4-.9l1.4 1.4l1.4-.8l1.4 .8l1.4-.8l1.4 .7l1.4-.6l1.4-.4l1.4 1.1l1.4 .5l1.4-1l1.4-.5l1.4 .2l1.4 .7l1.4-1.1l1.4 .7l1.4-.6l1.4 1l1.4-.8l1.4-.5l1.4 1.2l1.4-.3l1.4-.5l1.4 0l1.4 .1l1.4 .3l1.4 .9l1.4-1l1.4 .9l1.4-.9l1.4 1.5" stroke="#f0f0f0"/>
<path d="M366.9 651.5l1.4 2.2l1.4 1.9l1.4-.9l1.4-2l1.4 .3l1.4 2l1.4-3l1.4 .6l1.4 .2l1.4 1.3l1.4-.6l1.4 1l1.4-1.5l1.4 1.2l1.4-3l1.4 1.7l1.4-.4l1.4-.2l1.4-.1l1.4 2.6l1.4-4.3l1.4 1.7l1.4 1l1.4 .5l1.4-.5l1.4-.2l1.4-1.1l1.4 1.3l1.4-1.6l1.4-.1l1.4 1.2l1.4-4.7l1.4 3.6l1.4-.9l1.4 .3l1.4 .2l1.4-1.4l1.4-1.3l1.4 2l1.5 1l1.4-2.6l1.4 3.8l1.4-4.1l1.4 0l1.4-1.2l1.4 2.4l1.4-2l1.4 .5l1.4-1.1l1.4-2.2l1.4 .8l1.4 .1l1.4-3.4l1.4 1.1l1.4 2.3l1.4-2.6l1.4-3.7l1.4-1.6l1.4-1.7l1.4-3.1l1.4-3.9l1.4-8.6l1.4-6.9l1.4-11.9l1.4-9.1l1.4-4.7l1.4-3.7l1.4-2.1l1.4-.1l1.4-3.2l1.4 2.3l1.4-3l1.4 .7l1.4 2.9l1.4-4.4l1.4 2l1.4-6.1l1.4 0l1.4-.1l1.4-.4l1.4-5.3l1.4-.8l1.4-6.2l1.4 1.2l1.4-3.9l1.4-3.2l1.4-1.1l1.4-2.1l1.4-1.1l1.4-2.1l1.4-.3l1.4-2.1l1.4 .1l1.4-1.9l1.4 0l1.4-1.4l1.4-1.1l1.4-.7l1.4 1.6l1.4-.8l1.4 0l1.4-1.4l1.4 1.3l1.4-.9l1.4 .9l1.4 .8l1.4-.8l1.4 1.1l1.4-.9l1.4 .1l1.4-.1l1.4 1.7l1.4-1.5l1.4 .5l1.4 1.8l1.4-2.4l1.4 .3l1.4 1.8l1.4-.9l1.4 1.1l1.5-.7l1.4-.2l1.4-.3l1.4 1l1.4-.5l1.4 .5l1.4-.8l1.4-.1l1.4 .4l1.4-.7l1.4 .2l1.4 .3l1.4-.5l1.4 1.5l1.4-.7l1.4 1.1l1.4-1.1l1.4 .3l1.4-.8l1.4 .8l1.4 .1l1.4-.3l1.4 0l1.4-.3l1.4 .8l1.4 .5l1.4 0l1.4-1.7l1.4 1.6l1.4-.5l1.4 .4l1.4-1.2l1.4 .9l1.4-1.1l1.4 1.2l1.4-.6l1.4-.3l1.4-.1l1.4 1.4l1.4-.5l1.4-.2l1.4 1.1l1.4-1.6l1.4 .2l1.4 0l1.4 1.2l1.4-1l1.4-.1l1.4-.4l1.4 1l1.4-.8l1.4-.8l1.4 1.5l1.4 0l1.4 0l1.4 .7l1.4-.7l1.4-1.2l1.4 1.6l1.4-.5l1.4-.9l1.4 .4l1.4 .2l1.4 .4l1.4-.1l1.4-.1l1.4-.4l1.4 .3l1.4-.5l1.4 1.8l1.4-1.7l1.4 .8l1.4-.3l1.4 .3l1.4-.7l1.4 .5l1.4-.5l1.4 .9l1.4-.6l1.5-.7l1.4 .1l1.4 .9l1.4-.3l1.4 .3l1.4-.1l1.4-.1l1.4-.8l1.4 .4l1.4-.5l1.4-.1l1.4 1.8l1.4-1l1.4 .5l1.4 .7l1.4-.3l1.4-.4l1.4-1.4l1.4 1l1.4 .2l1.4-.1l1.4 .5l1.4-.6l1.4 .1l1.4 1l1.4-.7l1.4-2.4l1.4 1.7l1.4 .4l1.4-.4l1.4 1l1.4-.7l1.4-.5l1.4 1.6l1.4-.6l1.4-.2l1.4 0l1.4 .1l1.4-.5l1.4-.5l1.4 .5" stroke="#dccdea"/>
<path d="M366.9 651.8l1.4 2.5l1.4-1.5l1.4 .9l1.4-1.7l1.4 1.4l1.4-.3l1.4-3.1l1.4 2.8l1.4 2.1l1.4-2.7l1.4-.4l1.4 1.1l1.4-1l1.4-1.6l1.4 2.3l1.4-.6l1.4 .6l1.4-1.7l1.4 .6l1.4 1.1l1.4-1.3l1.4-3.2l1.4 5.4l1.4-.6l1.4-2.7l1.4 2.6l1.4-5.3l1.4 5.2l1.4-.4l1.4-1.3l1.4-2.6l1.4 .3l1.4 .3l1.4 .2l1.4-1.7l1.4 4.7l1.4-3.5l1.4-2l1.4 3.6l1.5-2.7l1.4-2l1.4-.8l1.4 1.4l1.4-3.8l1.4 1.5l1.4-1.4l1.4 2.8l1.4-1l1.4-.4l1.4-4.4l1.4 5.8l1.4-1.4l1.4-4.8l1.4 .1l1.4 3.7l1.4-5.5l1.4-2.1l1.4-4.8l1.4 1.9l1.4-7.5l1.4-10.6l1.4-8.4l1.4-7.8l1.4-12.1l1.4-5l1.4-8l1.4-.1l1.4-4.7l1.4-.8l1.4 1.4l1.4-2l1.4-1.9l1.4-.4l1.4-2.4l1.4-.4l1.4-.2l1.4-2.1l1.4 .7l1.4-1.5l1.4-3l1.4-.9l1.4 1.1l1.4-2.8l1.4 .1l1.4-1.3l1.4-3.8l1.4 2.6l1.4-1.3l1.4-2.1l1.4-.4l1.4-.7l1.4 .5l1.4-1.4l1.4-.2l1.4-.2l1.4-.6l1.4-.5l1.4-1l1.4-.9l1.4 1l1.4-.9l1.4 .9l1.4 1.2l1.4-.7l1.4-.4l1.4 .3l1.4 1.8l1.4-1.6l1.4 2.1l1.4 .2l1.4 0l1.4-1.2l1.4 .7l1.4-.3l1.4 1.9l1.4-1.4l1.4 .1l1.4-.6l1.4 .7l1.4-1l1.5 1.1l1.4 .4l1.4 .2l1.4-1.8l1.4 .3l1.4 .9l1.4-1.2l1.4 .7l1.4 0l1.4 .8l1.4-.6l1.4-.4l1.4-.1l1.4 .4l1.4-.9l1.4-.3l1.4 1.4l1.4-.8l1.4 1.2l1.4-1.2l1.4 .8l1.4-.5l1.4-.2l1.4 .3l1.4-.8l1.4 1.1l1.4-.2l1.4-.4l1.4 .2l1.4-.2l1.4 .3l1.4 .4l1.4-.9l1.4 .3l1.4-.5l1.4-.2l1.4 1l1.4 .2l1.4-.2l1.4 .2l1.4 .8l1.4-2.2l1.4 .7l1.4-1.2l1.4 1.8l1.4-.7l1.4 .2l1.4 .2l1.4-.6l1.4 .6l1.4 0l1.4-.1l1.4 1.4l1.4-.9l1.4 0l1.4-1.4l1.4 .6l1.4-.1l1.4 .1l1.4 .5l1.4-1.1l1.4 1.1l1.4 .7l1.4-1.2l1.4-.3l1.4 .6l1.4-.1l1.4-.4l1.4-.4l1.4 .6l1.4-.6l1.4 .8l1.4-1.1l1.4 2.1l1.4-1.4l1.4 .4l1.4 .1l1.4 .9l1.4-1.5l1.5 .8l1.4 .5l1.4-.2l1.4-.3l1.4-.2l1.4 .6l1.4 0l1.4-.8l1.4 .3l1.4-1.2l1.4 1.4l1.4-.7l1.4-.6l1.4 1.2l1.4-.7l1.4 .4l1.4 .1l1.4-.9l1.4 1.6l1.4-.3l1.4 .8l1.4-1l1.4-.7l1.4 .7l1.4-.6l1.4 .9l1.4-1.1l1.4 .7l1.4 .3l1.4-1.3l1.4 1l1.4-.4l1.4 .3l1.4-.3l1.4 .3l1.4 .8l1.4-.9l1.4-.1l1.4 0l1.4 .4l1.4-1.2" stroke="#bda5d8"/>
<path d="M366.9 653.1l1.4-.2l1.4 1.8l1.4 .1l1.4-3l1.4-.1l1.4 .7l1.4 2.6l1.4-2.1l1.4-1l1.4-.7l1.4-.9l1.4 1l1.4-.9l1.4-1.2l1.4 6l1.4-5.2l1.4 2l1.4-1.5l1.4 .3l1.4 1.8l1.4-.3l1.4-2.2l1.4 .9l1.4-1.5l1.4 1.6l1.4-3.9l1.4 3.5l1.4-3.6l1.4 4.2l1.4-2.1l1.4-1l1.4 3.6l1.4-.6l1.4-2.3l1.4-1.3l1.4-.5l1.4 1.1l1.4-1l1.4 3l1.5-1.6l1.4-3.5l1.4 2.3l1.4-1.2l1.4 1.5l1.4-3l1.4 1.6l1.4-3.5l1.4-2.1l1.4 1.3l1.4-.3l1.4 .3l1.4-2l1.4 1.7l1.4-1.8l1.4-5.2l1.4 3.8l1.4-3.1l1.4-1.1l1.4-7l1.4-3.1l1.4-6.6l1.4-8.8l1.4-13.9l1.4-10.1l1.4-6.6l1.4-2l1.4-3.9l1.4-2.5l1.4-.3l1.4 2.4l1.4-.2l1.4-1.4l1.4-3.4l1.4 1.8l1.4-1.9l1.4-3.3l1.4-.5l1.4-1.1l1.4-5l1.4-.8l1.4-1.8l1.4-1.6l1.4-2l1.4 1.1l1.4-.8l1.4 1.5l1.4-3.2l1.4-.2l1.4-2.3l1.4-.4l1.4-1.1l1.4-.3l1.4-.5l1.4-.1l1.4-.2l1.4 0l1.4-.6l1.4 .3l1.4-1.1l1.4 .2l1.4 1.1l1.4 .5l1.4-1l1.4 .2l1.4 .2l1.4-.6l1.4 1.6l1.4 .7l1.4-.7l1.4-.1l1.4-.3l1.4 1.6l1.4-.5l1.4 .1l1.4-1.2l1.4 .5l1.4 .4l1.4-.4l1.4 .6l1.4-.1l1.5-.1l1.4 .2l1.4-.1l1.4-.4l1.4 0l1.4-.8l1.4 .4l1.4 .5l1.4 1.3l1.4-.5l1.4-.6l1.4-.1l1.4 .5l1.4-.6l1.4-.3l1.4 .5l1.4-.3l1.4-.1l1.4 .4l1.4 .1l1.4-.5l1.4-.2l1.4 .8l1.4 .6l1.4-.7l1.4-.8l1.4 1.3l1.4-1.6l1.4 .9l1.4-.4l1.4 .5l1.4-.8l1.4 .3l1.4-.1l1.4 1.4l1.4-1.7l1.4 1.5l1.4-.8l1.4-.5l1.4 .4l1.4-.4l1.4 .2l1.4 0l1.4 .6l1.4-1.1l1.4-.1l1.4 1l1.4 .2l1.4-.6l1.4 .5l1.4-.5l1.4-.4l1.4 .1l1.4-.5l1.4 .6l1.4 .9l1.4-.1l1.4-.8l1.4-.9l1.4 1.4l1.4 .3l1.4-1.3l1.4 .9l1.4-.5l1.4-.3l1.4 1.3l1.4-.4l1.4 .1l1.4-.6l1.4-.1l1.4 .7l1.4-.6l1.4 1.4l1.4-1.3l1.4 0l1.4 .2l1.4 .9l1.4-.8l1.4 .5l1.5-1.5l1.4 1.1l1.4-.1l1.4 0l1.4-.4l1.4 .2l1.4-.2l1.4 .8l1.4-1.2l1.4 1l1.4-.8l1.4 .4l1.4-.5l1.4 .6l1.4 .9l1.4-.2l1.4-.6l1.4-.9l1.4 1l1.4-.2l1.4-.8l1.4 1.1l1.4-.5l1.4 0l1.4 .6l1.4-.5l1.4-.5l1.4 0l1.4 .8l1.4-1.9l1.4 1.5l1.4 .4l1.4 .2l1.4 .2l1.4-1.1l1.4 2.2l1.4-1.6l1.4 .7l1.4-.7l1.4-.1l1.4 .8" stroke="#9a7ac6"/>
<path d="M366.9 651.5l1.4 2.6l1.4-.9l1.4 .3l1.4-1.8l1.4-.7l1.4 .4l1.4 .4l1.4-.1l1.4 2.5l1.4-3.9l1.4 2.7l1.4 .4l1.4-.9l1.4 .5l1.4-1.9l1.4-.6l1.4-.9l1.4 1.9l1.4 .6l1.4-.6l1.4 1.3l1.4-.8l1.4-4.2l1.4 4.1l1.4-.6l1.4-1.7l1.4 .5l1.4-.9l1.4 2.3l1.4 .2l1.4-3.6l1.4 2.8l1.4-1l1.4-.6l1.4 2.9l1.4-2.6l1.4 .5l1.4-2l1.4 .9l1.5 2.3l1.4-5.1l1.4 4.2l1.4-3.9l1.4-.4l1.4-.7l1.4-1.5l1.4-1.9l1.4 2.2l1.4-.8l1.4-2.5l1.4-.2l1.4-1l1.4-.2l1.4 0l1.4-.8l1.4-1.5l1.4-4.1l1.4-3.3l1.4-3.7l1.4-1l1.4-9.4l1.4-9.2l1.4-10.1l1.4-9.4l1.4-11.3l1.4-2.3l1.4 0l1.4-1.4l1.4-2.1l1.4 .8l1.4-2.1l1.4-2.4l1.4-2.1l1.4 .2l1.4-1.8l1.4 1.9l1.4 1.5l1.4-8.6l1.4 .2l1.4-1l1.4-3.9l1.4 2.6l1.4-1.2l1.4-1.4l1.4-4.4l1.4 .1l1.4 3.3l1.4-6l1.4 1.8l1.4-.9l1.4 .1l1.4-2l1.4 .4l1.4-1l1.4 1l1.4-1.4l1.4 0l1.4-.1l1.4 .1l1.4-.2l1.4 .3l1.4-.2l1.4-.2l1.4-.1l1.4 1.7l1.4 .1l1.4 .1l1.4 1l1.4-.5l1.4 .2l1.4 0l1.4-.4l1.4-.3l1.4 .1l1.4 .3l1.4-.2l1.4 .8l1.4 .1l1.4-1l1.4 0l1.5-1l1.4 1.5l1.4 .4l1.4-.8l1.4 .4l1.4 .2l1.4-1.4l1.4-.3l1.4 .9l1.4 .6l1.4-.6l1.4 .2l1.4 .7l1.4-1.3l1.4 .3l1.4-.6l1.4 1.1l1.4-.4l1.4 .1l1.4 1l1.4-2.6l1.4 2.8l1.4-.6l1.4-.5l1.4 .8l1.4-1.2l1.4 .5l1.4-.3l1.4-.1l1.4 .1l1.4 0l1.4 .1l1.4-.3l1.4-.3l1.4 .7l1.4 .1l1.4 0l1.4-.5l1.4 .4l1.4 0l1.4 .7l1.4-2.1l1.4 2l1.4-1.8l1.4 .5l1.4-.1l1.4 .5l1.4-.2l1.4 .1l1.4-.1l1.4-.2l1.4-.4l1.4 1.5l1.4-.9l1.4-.7l1.4 .2l1.4 1.4l1.4-.8l1.4 0l1.4 .1l1.4 1.5l1.4-1.9l1.4 1.5l1.4-2.3l1.4 .9l1.4 .5l1.4-.5l1.4 .3l1.4 .4l1.4-.2l1.4-.3l1.4 .7l1.4-.9l1.4-.3l1.4 0l1.4 0l1.4-.1l1.4 .4l1.4-.4l1.5 .8l1.4-.3l1.4-.6l1.4-.3l1.4 1.4l1.4 .7l1.4-2.2l1.4 .6l1.4-.4l1.4 .5l1.4 .4l1.4 .6l1.4 .2l1.4-1.5l1.4 .3l1.4 .4l1.4 .9l1.4-.4l1.4 .1l1.4-.2l1.4 1.6l1.4-1.9l1.4-.9l1.4 1.3l1.4-.3l1.4-.2l1.4 .8l1.4-.9l1.4 .8l1.4-.2l1.4-.5l1.4 .2l1.4-.1l1.4 .7l1.4-1.1l1.4 1.2l1.4-1.2l1.4 .8l1.4 .4l1.4-.7l1.4 .6" stroke="#7442ae"/>
<path d="M366.9 654.1l1.4-.7l1.4-1.5l1.4-.2l1.4 .4l1.4 1.1l1.4 1.8l1.4-2.1l1.4 0l1.4-.4l1.4 .5l1.4-.1l1.4-2.2l1.4 3.2l1.4-2.2l1.4-2l1.4 3l1.4 .2l1.4-1.3l1.4 .1l1.4-1.1l1.4-1.8l1.4 2.2l1.4-1.2l1.4 1.7l1.4-.2l1.4-1.3l1.4 1.4l1.4-3l1.4 2.4l1.4-.5l1.4 1.3l1.4-1.1l1.4 .7l1.4-.9l1.4 1.8l1.4-2.9l1.4-2.9l1.4 5.4l1.4-6l1.5 2.4l1.4-2.2l1.4 2.2l1.4-5.5l1.4 4.1l1.4-2.2l1.4-3.1l1.4 3.9l1.4 1.2l1.4-4l1.4 .6l1.4-.3l1.4-.7l1.4 .1l1.4-5.3l1.4-.9l1.4 2.5l1.4-3.9l1.4-1.9l1.4-5.5l1.4-2.4l1.4-12.1l1.4-6.3l1.4-9.1l1.4-11.9l1.4-5.6l1.4-7.8l1.4 .8l1.4-.8l1.4-2.3l1.4-3.2l1.4 3l1.4 .4l1.4-5.5l1.4 .2l1.4 .5l1.4-2.2l1.4-3.6l1.4 4.2l1.4-7.8l1.4 .9l1.4-2.7l1.4-.1l1.4-6.2l1.4 4.8l1.4-3.6l1.4 4.9l1.4-4.9l1.4-2l1.4 1.5l1.4-.3l1.4-1.9l1.4-1.1l1.4-.5l1.4 .7l1.4-1.1l1.4 .8l1.4-2.4l1.4 1.2l1.4-1.4l1.4 .9l1.4 0l1.4-1.2l1.4 1.8l1.4-1.1l1.4 1.4l1.4 .8l1.4 .3l1.4-.9l1.4 1.1l1.4 .4l1.4 .8l1.4-1.7l1.4 .1l1.4 .4l1.4-.3l1.4 2.6l1.4-1.8l1.4-.4l1.4 0l1.4 .4l1.5-.5l1.4 .6l1.4-.1l1.4 .3l1.4-.9l1.4 .5l1.4-.1l1.4-1.3l1.4 .9l1.4 0l1.4 .9l1.4-.7l1.4-.9l1.4 .2l1.4 .3l1.4 .1l1.4-.1l1.4-.2l1.4 .4l1.4 1.4l1.4-2.8l1.4 .5l1.4 .8l1.4-1l1.4 1.7l1.4-1.6l1.4 .7l1.4-.5l1.4 .8l1.4-.3l1.4-.3l1.4-.3l1.4 .4l1.4 0l1.4 .7l1.4-1.5l1.4 1l1.4 .2l1.4 .1l1.4 .6l1.4-.3l1.4 .5l1.4-1.1l1.4 .2l1.4-.2l1.4 .9l1.4-.5l1.4 .1l1.4-1l1.4 1.6l1.4 0l1.4-1.8l1.4 .6l1.4 1.2l1.4-1.9l1.4 0l1.4 .2l1.4 2l1.4-1.4l1.4 .7l1.4-.4l1.4 .8l1.4-2.1l1.4 1.5l1.4-.6l1.4-.3l1.4 .1l1.4 .1l1.4 .6l1.4-.4l1.4 .2l1.4 1.3l1.4-2l1.4 1l1.4-.1l1.4 0l1.4 .6l1.4-.1l1.4 .3l1.5-1.4l1.4-.4l1.4 .7l1.4 .7l1.4-1.5l1.4 1l1.4 .8l1.4 .2l1.4-1.3l1.4-.8l1.4 1.1l1.4 .2l1.4-.2l1.4 .3l1.4-.1l1.4-.6l1.4 .7l1.4-1.1l1.4 1.2l1.4-1l1.4 .2l1.4 .5l1.4-.1l1.4 0l1.4-1.3l1.4 1.6l1.4-1.2l1.4 .1l1.4 .8l1.4-1.2l1.4 2.5l1.4-1.6l1.4 0l1.4 .1l1.4-.5l1.4 .8l1.4-.2l1.4-.8l1.4 .8l1.4 .6l1.4-1.1" stroke="#4e1a8c"/>
</g>
<line x1="371.7" y1="516.5" x2="386.0" y2="516.5" stroke="#1e4d32" stroke-width="1.25"/>
<text x="391.0" y="518.8" font-size="6.3">234_px</text>
<line x1="371.7" y1="526.5" x2="386.0" y2="526.5" stroke="#3a6a4c" stroke-width="1.25"/>
<text x="391.0" y="528.6" font-size="6.3">224_px</text>
<line x1="371.7" y1="536.5" x2="386.0" y2="536.5" stroke="#6a977a" stroke-width="1.25"/>
<text x="391.0" y="538.4" font-size="6.3">214_px</text>
<line x1="371.7" y1="545.5" x2="386.0" y2="545.5" stroke="#9cbfa8" stroke-width="1.25"/>
<text x="391.0" y="548.3" font-size="6.3">204_px</text>
<line x1="371.7" y1="555.5" x2="386.0" y2="555.5" stroke="#cde0d3" stroke-width="1.25"/>
<text x="391.0" y="558.1" font-size="6.3">194_px</text>
<line x1="371.7" y1="565.5" x2="386.0" y2="565.5" stroke="#f0f0f0" stroke-width="1.25"/>
<text x="391.0" y="567.9" font-size="6.3">184_px</text>
<line x1="371.7" y1="575.5" x2="386.0" y2="575.5" stroke="#dccdea" stroke-width="1.25"/>
<text x="391.0" y="577.7" font-size="6.3">174_px</text>
<line x1="371.7" y1="585.5" x2="386.0" y2="585.5" stroke="#bda5d8" stroke-width="1.25"/>
<text x="391.0" y="587.5" font-size="6.3">164_px</text>
<line x1="371.7" y1="595.5" x2="386.0" y2="595.5" stroke="#9a7ac6" stroke-width="1.25"/>
<text x="391.0" y="597.4" font-size="6.3">154_px</text>
<line x1="371.7" y1="604.5" x2="386.0" y2="604.5" stroke="#7442ae" stroke-width="1.25"/>
<text x="391.0" y="607.2" font-size="6.3">144_px</text>
<line x1="371.7" y1="614.5" x2="386.0" y2="614.5" stroke="#4e1a8c" stroke-width="1.25"/>
<text x="391.0" y="617.0" font-size="6.3">134_px</text>
<g fill="none" stroke="#4a4a4a" stroke-width="1.0">
<rect x="30.3" y="211.0" width="336.3" height="148.4"/>
<rect x="366.9" y="211.0" width="336.3" height="148.4"/>
<rect x="30.3" y="359.4" width="336.3" height="148.7"/>
<rect x="366.9" y="359.4" width="336.3" height="148.7"/>
<rect x="30.3" y="508.1" width="336.3" height="148.5"/>
<rect x="366.9" y="508.1" width="336.3" height="148.5"/>
</g>
<g stroke="#4a4a4a" stroke-width="0.8">
<line x1="30.3" y1="359.4" x2="30.3" y2="362.0"/>
<line x1="86.3" y1="359.4" x2="86.3" y2="362.0"/>
<line x1="142.4" y1="359.4" x2="142.4" y2="362.0"/>
<line x1="198.5" y1="359.4" x2="198.5" y2="362.0"/>
<line x1="254.5" y1="359.4" x2="254.5" y2="362.0"/>
<line x1="310.6" y1="359.4" x2="310.6" y2="362.0"/>
<line x1="366.6" y1="359.4" x2="366.6" y2="362.0"/>
<line x1="27.7" y1="358.5" x2="30.3" y2="358.5"/>
<line x1="27.7" y1="335.8" x2="30.3" y2="335.8"/>
<line x1="27.7" y1="313.2" x2="30.3" y2="313.2"/>
<line x1="27.7" y1="290.5" x2="30.3" y2="290.5"/>
<line x1="27.7" y1="267.8" x2="30.3" y2="267.8"/>
<line x1="27.7" y1="245.2" x2="30.3" y2="245.2"/>
<line x1="27.7" y1="222.5" x2="30.3" y2="222.5"/>
<line x1="366.9" y1="359.4" x2="366.9" y2="362.0"/>
<line x1="422.9" y1="359.4" x2="422.9" y2="362.0"/>
<line x1="479.0" y1="359.4" x2="479.0" y2="362.0"/>
<line x1="535.0" y1="359.4" x2="535.0" y2="362.0"/>
<line x1="591.1" y1="359.4" x2="591.1" y2="362.0"/>
<line x1="647.2" y1="359.4" x2="647.2" y2="362.0"/>
<line x1="703.2" y1="359.4" x2="703.2" y2="362.0"/>
<line x1="364.3" y1="358.5" x2="366.9" y2="358.5"/>
<line x1="364.3" y1="335.8" x2="366.9" y2="335.8"/>
<line x1="364.3" y1="313.2" x2="366.9" y2="313.2"/>
<line x1="364.3" y1="290.5" x2="366.9" y2="290.5"/>
<line x1="364.3" y1="267.8" x2="366.9" y2="267.8"/>
<line x1="364.3" y1="245.2" x2="366.9" y2="245.2"/>
<line x1="364.3" y1="222.5" x2="366.9" y2="222.5"/>
<line x1="30.3" y1="508.1" x2="30.3" y2="510.7"/>
<line x1="86.3" y1="508.1" x2="86.3" y2="510.7"/>
<line x1="142.4" y1="508.1" x2="142.4" y2="510.7"/>
<line x1="198.5" y1="508.1" x2="198.5" y2="510.7"/>
<line x1="254.5" y1="508.1" x2="254.5" y2="510.7"/>
<line x1="310.6" y1="508.1" x2="310.6" y2="510.7"/>
<line x1="366.6" y1="508.1" x2="366.6" y2="510.7"/>
<line x1="27.7" y1="506.9" x2="30.3" y2="506.9"/>
<line x1="27.7" y1="484.2" x2="30.3" y2="484.2"/>
<line x1="27.7" y1="461.6" x2="30.3" y2="461.6"/>
<line x1="27.7" y1="438.9" x2="30.3" y2="438.9"/>
<line x1="27.7" y1="416.2" x2="30.3" y2="416.2"/>
<line x1="27.7" y1="393.6" x2="30.3" y2="393.6"/>
<line x1="27.7" y1="370.9" x2="30.3" y2="370.9"/>
<line x1="366.9" y1="508.1" x2="366.9" y2="510.7"/>
<line x1="422.9" y1="508.1" x2="422.9" y2="510.7"/>
<line x1="479.0" y1="508.1" x2="479.0" y2="510.7"/>
<line x1="535.0" y1="508.1" x2="535.0" y2="510.7"/>
<line x1="591.1" y1="508.1" x2="591.1" y2="510.7"/>
<line x1="647.2" y1="508.1" x2="647.2" y2="510.7"/>
<line x1="703.2" y1="508.1" x2="703.2" y2="510.7"/>
<line x1="364.3" y1="506.9" x2="366.9" y2="506.9"/>
<line x1="364.3" y1="484.2" x2="366.9" y2="484.2"/>
<line x1="364.3" y1="461.6" x2="366.9" y2="461.6"/>
<line x1="364.3" y1="438.9" x2="366.9" y2="438.9"/>
<line x1="364.3" y1="416.2" x2="366.9" y2="416.2"/>
<line x1="364.3" y1="393.6" x2="366.9" y2="393.6"/>
<line x1="364.3" y1="370.9" x2="366.9" y2="370.9"/>
<line x1="30.3" y1="656.6" x2="30.3" y2="659.2"/>
<line x1="86.3" y1="656.6" x2="86.3" y2="659.2"/>
<line x1="142.4" y1="656.6" x2="142.4" y2="659.2"/>
<line x1="198.5" y1="656.6" x2="198.5" y2="659.2"/>
<line x1="254.5" y1="656.6" x2="254.5" y2="659.2"/>
<line x1="310.6" y1="656.6" x2="310.6" y2="659.2"/>
<line x1="366.6" y1="656.6" x2="366.6" y2="659.2"/>
<line x1="27.7" y1="655.6" x2="30.3" y2="655.6"/>
<line x1="27.7" y1="632.9" x2="30.3" y2="632.9"/>
<line x1="27.7" y1="610.3" x2="30.3" y2="610.3"/>
<line x1="27.7" y1="587.6" x2="30.3" y2="587.6"/>
<line x1="27.7" y1="564.9" x2="30.3" y2="564.9"/>
<line x1="27.7" y1="542.3" x2="30.3" y2="542.3"/>
<line x1="27.7" y1="519.6" x2="30.3" y2="519.6"/>
<line x1="366.9" y1="656.6" x2="366.9" y2="659.2"/>
<line x1="422.9" y1="656.6" x2="422.9" y2="659.2"/>
<line x1="479.0" y1="656.6" x2="479.0" y2="659.2"/>
<line x1="535.0" y1="656.6" x2="535.0" y2="659.2"/>
<line x1="591.1" y1="656.6" x2="591.1" y2="659.2"/>
<line x1="647.2" y1="656.6" x2="647.2" y2="659.2"/>
<line x1="703.2" y1="656.6" x2="703.2" y2="659.2"/>
<line x1="364.3" y1="655.6" x2="366.9" y2="655.6"/>
<line x1="364.3" y1="632.9" x2="366.9" y2="632.9"/>
<line x1="364.3" y1="610.3" x2="366.9" y2="610.3"/>
<line x1="364.3" y1="587.6" x2="366.9" y2="587.6"/>
<line x1="364.3" y1="564.9" x2="366.9" y2="564.9"/>
<line x1="364.3" y1="542.3" x2="366.9" y2="542.3"/>
<line x1="364.3" y1="519.6" x2="366.9" y2="519.6"/>
</g>
<text x="30.3" y="668.6" text-anchor="middle" font-size="8.1">7080</text>
<text x="86.3" y="668.6" text-anchor="middle" font-size="8.1">7100</text>
<text x="142.4" y="668.6" text-anchor="middle" font-size="8.1">7120</text>
<text x="198.5" y="668.6" text-anchor="middle" font-size="8.1">7140</text>
<text x="254.5" y="668.6" text-anchor="middle" font-size="8.1">7160</text>
<text x="310.6" y="668.6" text-anchor="middle" font-size="8.1">7180</text>
<text x="366.6" y="668.6" text-anchor="middle" font-size="8.1">7200</text>
<text x="24.2" y="658.6" text-anchor="end" font-size="8.1">0.0</text>
<text x="24.2" y="635.9" text-anchor="end" font-size="8.1">0.2</text>
<text x="24.2" y="613.3" text-anchor="end" font-size="8.1">0.4</text>
<text x="24.2" y="590.6" text-anchor="end" font-size="8.1">0.6</text>
<text x="24.2" y="567.9" text-anchor="end" font-size="8.1">0.8</text>
<text x="24.2" y="545.3" text-anchor="end" font-size="8.1">1.0</text>
<text x="24.2" y="522.6" text-anchor="end" font-size="8.1">1.2</text>
<text x="198.5" y="678.9" text-anchor="middle" font-size="8.0">Energy (eV)</text>
<text transform="translate(8.3 583) rotate(-90)" text-anchor="middle" font-size="7.8">Normalised <tspan font-style="italic">μ</tspan>(E)</text>
<text x="272.4" y="228.3" text-anchor="middle" font-weight="bold" font-size="9.62">SS treated shot 81A3839-S1</text>
<text x="608.9" y="228.3" text-anchor="middle" font-weight="bold" font-size="9.62">SS treated shot 82A2618-S8</text>
<text x="272.4" y="376.7" text-anchor="middle" font-weight="bold" font-size="9.62">HW treated shot 81A6102-S2</text>
<text x="608.9" y="376.7" text-anchor="middle" font-weight="bold" font-size="9.62">HW treated shot 83A0161-S3</text>
<text x="272.4" y="525.4" text-anchor="middle" font-weight="bold" font-size="9.62">HWAS treated shot 81A6143-S1</text>
<text x="608.9" y="525.4" text-anchor="middle" font-weight="bold" font-size="9.62">HWAS treated shot 83A0189-S3</text>
<defs>
<pattern id="grid3" width="1.89" height="1.89" patternUnits="userSpaceOnUse"><rect y="1.1" width="1.89" height="0.79" fill="#000050" fill-opacity="0.5"/><rect x="1.2" width="0.69" height="1.1" fill="#000050" fill-opacity="0.35"/></pattern>
<filter id="camo" x="0" y="0" width="1" height="1" color-interpolation-filters="sRGB"><feTurbulence type="fractalNoise" baseFrequency="0.14 0.26" numOctaves="2" seed="4"/><feComponentTransfer><feFuncR type="discrete" tableValues="0.46"/><feFuncG type="discrete" tableValues="0.40"/><feFuncB type="discrete" tableValues="0.26"/><feFuncA type="linear" slope="5" intercept="-2.45"/></feComponentTransfer></filter>
<filter id="camoD" x="0" y="0" width="1" height="1" color-interpolation-filters="sRGB"><feTurbulence type="fractalNoise" baseFrequency="0.2 0.3" numOctaves="2" seed="9"/><feComponentTransfer><feFuncR type="discrete" tableValues="0.30"/><feFuncG type="discrete" tableValues="0.05"/><feFuncB type="discrete" tableValues="0.26"/><feFuncA type="linear" slope="5" intercept="-2.4"/></feComponentTransfer></filter>
<filter id="camo4" x="0" y="0" width="1" height="1" color-interpolation-filters="sRGB"><feTurbulence type="fractalNoise" baseFrequency="0.35 0.5" numOctaves="2" seed="2"/><feComponentTransfer><feFuncR type="discrete" tableValues="0.45"/><feFuncG type="discrete" tableValues="0.42"/><feFuncB type="discrete" tableValues="0.25"/><feFuncA type="linear" slope="4" intercept="-1.7"/></feComponentTransfer></filter>
<filter id="camoR" x="0" y="0" width="1" height="1" color-interpolation-filters="sRGB"><feTurbulence type="fractalNoise" baseFrequency="0.35 0.5" numOctaves="2" seed="6"/><feComponentTransfer><feFuncR type="discrete" tableValues="0.72"/><feFuncG type="discrete" tableValues="0.16"/><feFuncB type="discrete" tableValues="0.2"/><feFuncA type="linear" slope="4" intercept="-1.8"/></feComponentTransfer></filter>
<filter id="b04" x="-50%" y="-50%" width="200%" height="200%"><feGaussianBlur stdDeviation="0.4"/></filter>
<filter id="b06" x="-50%" y="-50%" width="200%" height="200%"><feGaussianBlur stdDeviation="0.6"/></filter>
<filter id="b1" x="-50%" y="-50%" width="200%" height="200%"><feGaussianBlur stdDeviation="1"/></filter>
<filter id="b2" x="-50%" y="-50%" width="200%" height="200%"><feGaussianBlur stdDeviation="2"/></filter>
<filter id="b4" x="-50%" y="-50%" width="200%" height="200%"><feGaussianBlur stdDeviation="4"/></filter>
<pattern id="chk2" width="2" height="2" patternUnits="userSpaceOnUse"><rect width="1" height="1" fill="#c4402e" fill-opacity="0.42"/><rect x="1" y="1" width="1" height="1" fill="#3a2890" fill-opacity="0.6"/></pattern>
<pattern id="spk" width="3" height="3" patternUnits="userSpaceOnUse"><rect width="1" height="1" fill="#ff8a20" fill-opacity="0.5"/><rect x="1.5" y="1.5" width="1" height="1" fill="#b00000" fill-opacity="0.4"/></pattern>
<pattern id="mot" width="9" height="7" patternUnits="userSpaceOnUse"><ellipse cx="2" cy="2" rx="2.2" ry="1" fill="#6e7a48" fill-opacity="0.55"/><ellipse cx="6.5" cy="5" rx="2" ry="0.9" fill="#7a7a48" fill-opacity="0.5"/><ellipse cx="6" cy="1.5" rx="1.4" ry="0.7" fill="#4a1040" fill-opacity="0.5"/></pattern>
<pattern id="cb6" width="13.8" height="14" patternUnits="userSpaceOnUse"><rect width="13.8" height="14" fill="#781438"/><rect width="6.9" height="7" fill="#5c1a58"/><rect x="6.9" y="7" width="6.9" height="7" fill="#601856"/></pattern><pattern id="cb6o" width="13.8" height="14" patternUnits="userSpaceOnUse"><rect width="13.8" height="14" fill="#a88440"/><rect width="6.9" height="7" fill="#8a3a40"/><rect x="6.9" y="7" width="6.9" height="7" fill="#9a5a3e"/></pattern>
<pattern id="cb4" width="2" height="2" patternUnits="userSpaceOnUse"><rect width="1" height="1" fill="#c05838" fill-opacity="0.45"/><rect x="1" y="1" width="1" height="1" fill="#5a6a3a" fill-opacity="0.45"/></pattern>
</defs>
<clipPath id="cin0"><rect x="0.00" y="0.00" width="148.6" height="75.8"/></clipPath>
<g transform="translate(202 261)"><g clip-path="url(#cin0)">
<rect width="148.6" height="75.8" fill="#000088"/>
<polygon points="16,0 14.8,3 15.4,7.1 15.4,11.8 11.3,14.7 9.5,17.7 11.9,19.4 9,20.6 6.6,23.5 4.3,26.5 2.2,29.4 1.3,32.3 0.7,37.1 0,39 -6,39 -6,75.8 0,75.8 0,81.8 105.6,81.8 105.6,75.8 108.7,69.2 112.3,62 115.9,54.8 117.1,50 115.3,45.1 111.1,36.7 107.5,28.3 105.6,21 105,13.8 107.5,9 110.5,4.2 115.9,0 115.9,-6 16,-6" fill="none" stroke="#1a6ae0" stroke-width="4.6" stroke-linejoin="round" filter="url(#b04)"/>
<polygon points="16,0 14.8,3 15.4,7.1 15.4,11.8 11.3,14.7 9.5,17.7 11.9,19.4 9,20.6 6.6,23.5 4.3,26.5 2.2,29.4 1.3,32.3 0.7,37.1 0,39 -6,39 -6,75.8 0,75.8 0,81.8 105.6,81.8 105.6,75.8 108.7,69.2 112.3,62 115.9,54.8 117.1,50 115.3,45.1 111.1,36.7 107.5,28.3 105.6,21 105,13.8 107.5,9 110.5,4.2 115.9,0 115.9,-6 16,-6" fill="none" stroke="#30c0d0" stroke-width="3.0" stroke-linejoin="round"/>
<polygon points="16,0 14.8,3 15.4,7.1 15.4,11.8 11.3,14.7 9.5,17.7 11.9,19.4 9,20.6 6.6,23.5 4.3,26.5 2.2,29.4 1.3,32.3 0.7,37.1 0,39 -6,39 -6,75.8 0,75.8 0,81.8 105.6,81.8 105.6,75.8 108.7,69.2 112.3,62 115.9,54.8 117.1,50 115.3,45.1 111.1,36.7 107.5,28.3 105.6,21 105,13.8 107.5,9 110.5,4.2 115.9,0 115.9,-6 16,-6" fill="none" stroke="#b0cc48" stroke-width="1.6" stroke-linejoin="round"/>
<polygon points="16,0 14.8,3 15.4,7.1 15.4,11.8 11.3,14.7 9.5,17.7 11.9,19.4 9,20.6 6.6,23.5 4.3,26.5 2.2,29.4 1.3,32.3 0.7,37.1 0,39 -6,39 -6,75.8 0,75.8 0,81.8 105.6,81.8 105.6,75.8 108.7,69.2 112.3,62 115.9,54.8 117.1,50 115.3,45.1 111.1,36.7 107.5,28.3 105.6,21 105,13.8 107.5,9 110.5,4.2 115.9,0 115.9,-6 16,-6" fill="#721e4e"/>
<clipPath id="ci1"><polygon points="16,0 14.8,3 15.4,7.1 15.4,11.8 11.3,14.7 9.5,17.7 11.9,19.4 9,20.6 6.6,23.5 4.3,26.5 2.2,29.4 1.3,32.3 0.7,37.1 0,39 -6,39 -6,75.8 0,75.8 0,81.8 105.6,81.8 105.6,75.8 108.7,69.2 112.3,62 115.9,54.8 117.1,50 115.3,45.1 111.1,36.7 107.5,28.3 105.6,21 105,13.8 107.5,9 110.5,4.2 115.9,0 115.9,-6 16,-6"/></clipPath>
<g clip-path="url(#ci1)">
<polygon points="14,0 45,0 52,14 50,30 44,38 32,36 22,26 14,14" fill="#5a1648" fill-opacity="0.7" filter="url(#b4)"/>
<ellipse cx="40" cy="36" rx="8" ry="3.5" fill="#3a0c48" fill-opacity="0.85" filter="url(#b1)"/>
<polygon points="0,58 20,50 50,42 90,34 108,32 112,45 110,60 80,62 40,64 10,70 0,72" fill="#a04a4e" fill-opacity="0.55" filter="url(#b4)"/>
<ellipse cx="95" cy="14" rx="12" ry="10" fill="#9a5a48" fill-opacity="0.45" filter="url(#b2)"/>
<ellipse cx="2" cy="72" rx="9" ry="8" fill="#a09038" fill-opacity="0.8" filter="url(#b2)"/>
<ellipse cx="70" cy="74" rx="14" ry="4" fill="#4a1250" fill-opacity="0.7" filter="url(#b2)"/>
<ellipse cx="12" cy="55" rx="10" ry="8" fill="#6a1a46" fill-opacity="0.5" filter="url(#b2)"/>
<rect width="148.6" height="75.8" fill="url(#chk2)"/>
<polygon points="16,0 14.8,3 15.4,7.1 15.4,11.8 11.3,14.7 9.5,17.7 11.9,19.4 9,20.6 6.6,23.5 4.3,26.5 2.2,29.4 1.3,32.3 0.7,37.1 0,39 -6,39 -6,75.8 0,75.8 0,81.8 105.6,81.8 105.6,75.8 108.7,69.2 112.3,62 115.9,54.8 117.1,50 115.3,45.1 111.1,36.7 107.5,28.3 105.6,21 105,13.8 107.5,9 110.5,4.2 115.9,0 115.9,-6 16,-6" fill="none" stroke="#9a8a40" stroke-width="3.2" stroke-opacity="0.8" filter="url(#b06)"/>
</g>
<line x1="0.4" y1="34" x2="0.4" y2="66" stroke="#3a8ac0" stroke-width="1.1"/>
<line x1="0" y1="54.3" x2="34" y2="54.3" stroke="#1828a8" stroke-width="0.9" stroke-dasharray="2,0.7"/>
<line x1="118" y1="54.3" x2="148.6" y2="54.3" stroke="#b83828" stroke-width="0.8" stroke-dasharray="1.6,1.2"/>
<ellipse cx="19.7" cy="26.8" rx="2.1" ry="2.1" fill="#fff" fill-opacity="1"/>
<polygon points="42.3,24.2 42.84,25.76 44.49,25.79 43.17,26.78 43.65,28.36 42.3,27.42 40.95,28.36 41.43,26.78 40.11,25.79 41.76,25.76" fill="#fff"/>
<polygon points="48.58,24.2 49.12,25.76 50.77,25.79 49.45,26.78 49.93,28.36 48.58,27.42 47.23,28.36 47.71,26.78 46.39,25.79 48.04,25.76" fill="#fff"/>
<polygon points="54.86,24.2 55.4,25.76 57.05,25.79 55.73,26.78 56.21,28.36 54.86,27.42 53.51,28.36 53.99,26.78 52.67,25.79 54.32,25.76" fill="#fff"/>
<polygon points="61.14,24.2 61.68,25.76 63.33,25.79 62.01,26.78 62.49,28.36 61.14,27.42 59.79,28.36 60.27,26.78 58.95,25.79 60.6,25.76" fill="#fff"/>
<polygon points="67.42,24.2 67.96,25.76 69.61,25.79 68.29,26.78 68.77,28.36 67.42,27.42 66.07,28.36 66.55,26.78 65.23,25.79 66.88,25.76" fill="#fff"/>
<polygon points="73.7,24.2 74.24,25.76 75.89,25.79 74.57,26.78 75.05,28.36 73.7,27.42 72.35,28.36 72.83,26.78 71.51,25.79 73.16,25.76" fill="#fff"/>
<polygon points="79.98,24.2 80.52,25.76 82.17,25.79 80.85,26.78 81.33,28.36 79.98,27.42 78.63,28.36 79.11,26.78 77.79,25.79 79.44,25.76" fill="#fff"/>
<polygon points="86.26,24.2 86.8,25.76 88.45,25.79 87.13,26.78 87.61,28.36 86.26,27.42 84.91,28.36 85.39,26.78 84.07,25.79 85.72,25.76" fill="#fff"/>
<polygon points="92.54,24.2 93.08,25.76 94.73,25.79 93.41,26.78 93.89,28.36 92.54,27.42 91.19,28.36 91.67,26.78 90.35,25.79 92,25.76" fill="#fff"/>
<polygon points="98.82,24.2 99.36,25.76 101.01,25.79 99.69,26.78 100.17,28.36 98.82,27.42 97.47,28.36 97.95,26.78 96.63,25.79 98.28,25.76" fill="#fff"/>
<polygon points="105.1,24.2 105.64,25.76 107.29,25.79 105.97,26.78 106.45,28.36 105.1,27.42 103.75,28.36 104.23,26.78 102.91,25.79 104.56,25.76" fill="#fff"/>
</g></g>
<rect x="202.0" y="261.0" width="148.6" height="75.8" fill="none" stroke="#222" stroke-width="0.6"/>
<g stroke="#222" stroke-width="0.7">
<line x1="202.3" y1="336.8" x2="202.3" y2="339.3"/>
<line x1="233.7" y1="336.8" x2="233.7" y2="339.3"/>
<line x1="265.1" y1="336.8" x2="265.1" y2="339.3"/>
<line x1="296.5" y1="336.8" x2="296.5" y2="339.3"/>
<line x1="327.9" y1="336.8" x2="327.9" y2="339.3"/>
<line x1="199.5" y1="261.3" x2="202.0" y2="261.3"/>
<line x1="199.5" y1="273.8" x2="202.0" y2="273.8"/>
<line x1="199.5" y1="286.4" x2="202.0" y2="286.4"/>
<line x1="199.5" y1="298.9" x2="202.0" y2="298.9"/>
<line x1="199.5" y1="311.4" x2="202.0" y2="311.4"/>
<line x1="199.5" y1="324.0" x2="202.0" y2="324.0"/>
</g>
<text x="202.3" y="347.2" text-anchor="middle" font-size="8.1">0</text>
<text x="233.7" y="347.2" text-anchor="middle" font-size="8.1">50</text>
<text x="265.1" y="347.2" text-anchor="middle" font-size="8.1">100</text>
<text x="296.5" y="347.2" text-anchor="middle" font-size="8.1">150</text>
<text x="327.9" y="347.2" text-anchor="middle" font-size="8.1">200</text>
<text x="197.7" y="264.2" text-anchor="end" font-size="8.1">0</text>
<text x="197.7" y="276.7" text-anchor="end" font-size="8.1">20</text>
<text x="197.7" y="289.3" text-anchor="end" font-size="8.1">40</text>
<text x="197.7" y="301.8" text-anchor="end" font-size="8.1">60</text>
<text x="197.7" y="314.3" text-anchor="end" font-size="8.1">80</text>
<text x="197.7" y="326.9" text-anchor="end" font-size="8.1">100</text>
<text x="276.3" y="356.3" text-anchor="middle" font-size="8.1">x position (px)</text>
<text transform="translate(179.4 295.6) rotate(-90)" text-anchor="middle" font-size="8.1">y position (px)</text>
<text x="347.1" y="258.0" text-anchor="end" font-size="7.2">Fe distribution</text>
<clipPath id="cin1"><rect x="0.00" y="0.00" width="78.8" height="76.4"/></clipPath>
<g transform="translate(621 261)"><g clip-path="url(#cin1)">
<rect width="78.8" height="76.4" fill="#000088"/>
<polygon points="20.7,0 20.7,-6 78.8,-6 78.8,0 84.8,0 84.8,21.7 78.8,21.7 75.6,27.5 71.8,33.9 68,39 64.8,42.8 61.6,45.4 59.6,49.2 57.7,55.6 55.2,62 50.1,68.4 45,73.5 42.4,76.4 42.4,82.4 15.6,82.4 15.6,76.4 15.9,71 16.8,62 18.1,43 19.4,25" fill="none" stroke="#30b0e0" stroke-width="2.0" stroke-linejoin="round"/>
<polygon points="20.7,0 20.7,-6 78.8,-6 78.8,0 84.8,0 84.8,21.7 78.8,21.7 75.6,27.5 71.8,33.9 68,39 64.8,42.8 61.6,45.4 59.6,49.2 57.7,55.6 55.2,62 50.1,68.4 45,73.5 42.4,76.4 42.4,82.4 15.6,82.4 15.6,76.4 15.9,71 16.8,62 18.1,43 19.4,25" fill="none" stroke="#e8e060" stroke-width="1.1" stroke-linejoin="round"/>
<polygon points="20.7,0 20.7,-6 78.8,-6 78.8,0 84.8,0 84.8,21.7 78.8,21.7 75.6,27.5 71.8,33.9 68,39 64.8,42.8 61.6,45.4 59.6,49.2 57.7,55.6 55.2,62 50.1,68.4 45,73.5 42.4,76.4 42.4,82.4 15.6,82.4 15.6,76.4 15.9,71 16.8,62 18.1,43 19.4,25" fill="#e42a0a"/>
<clipPath id="ci2"><polygon points="20.7,0 20.7,-6 78.8,-6 78.8,0 84.8,0 84.8,21.7 78.8,21.7 75.6,27.5 71.8,33.9 68,39 64.8,42.8 61.6,45.4 59.6,49.2 57.7,55.6 55.2,62 50.1,68.4 45,73.5 42.4,76.4 42.4,82.4 15.6,82.4 15.6,76.4 15.9,71 16.8,62 18.1,43 19.4,25"/></clipPath>
<g clip-path="url(#ci2)">
<linearGradient id="g2top" x1="0" y1="0" x2="0" y2="1"><stop offset="0" stop-color="#9a0000" stop-opacity="0.9"/><stop offset="1" stop-color="#c00000" stop-opacity="0"/></linearGradient>
<rect x="18" y="0" width="62" height="16" fill="url(#g2top)"/>
<ellipse cx="30" cy="8" rx="10" ry="6" fill="#9a0000" fill-opacity="0.5" filter="url(#b2)"/>
<rect width="78.8" height="76.4" fill="url(#spk)"/>
<line x1="44" y1="45" x2="46.5" y2="62" stroke="#f0b020" stroke-width="1.3" stroke-opacity="0.8" filter="url(#b04)"/>
<line x1="41.5" y1="76" x2="50" y2="67" stroke="#f0a020" stroke-width="1.2" stroke-opacity="0.7" filter="url(#b04)"/>
<line x1="17" y1="20" x2="17" y2="76" stroke="#f08020" stroke-width="1" stroke-opacity="0.5"/>
</g>
<linearGradient id="g2s" x1="0" y1="0" x2="1" y2="0"><stop offset="0" stop-color="#f0c020" stop-opacity="0.3"/><stop offset="0.5" stop-color="#f0e040"/><stop offset="1" stop-color="#70f080"/></linearGradient>
<polygon points="55,11.2 78.8,8.4 78.8,12.8 62,12.4" fill="url(#g2s)" filter="url(#b04)"/>
<ellipse cx="64.5" cy="43.2" rx="2.2" ry="1.5" fill="#e8e040" fill-opacity="1" filter="url(#b04)"/>
<rect x="19.85" y="19.95" width="1.7" height="1.7" fill="#ffe8e0"/>
<rect x="23.86" y="23.98" width="1.7" height="1.7" fill="#ffe8e0"/>
<rect x="27.87" y="28.01" width="1.7" height="1.7" fill="#ffe8e0"/>
<rect x="31.88" y="32.04" width="1.7" height="1.7" fill="#ffe8e0"/>
<rect x="35.89" y="36.07" width="1.7" height="1.7" fill="#ffe8e0"/>
<rect x="39.90" y="40.10" width="1.7" height="1.7" fill="#ffe8e0"/>
<rect x="43.91" y="44.13" width="1.7" height="1.7" fill="#ffe8e0"/>
<rect x="47.92" y="48.16" width="1.7" height="1.7" fill="#ffe8e0"/>
<rect x="51.93" y="52.19" width="1.7" height="1.7" fill="#ffe8e0"/>
<rect x="55.94" y="56.22" width="1.7" height="1.7" fill="#ffe8e0"/>
</g></g>
<rect x="621.0" y="261.0" width="78.8" height="76.4" fill="none" stroke="#222" stroke-width="0.6"/>
<g stroke="#222" stroke-width="0.7">
<line x1="621.2" y1="337.4" x2="621.2" y2="339.9"/>
<line x1="641.1" y1="337.4" x2="641.1" y2="339.9"/>
<line x1="661.0" y1="337.4" x2="661.0" y2="339.9"/>
<line x1="680.9" y1="337.4" x2="680.9" y2="339.9"/>
<line x1="618.5" y1="261.2" x2="621.0" y2="261.2"/>
<line x1="618.5" y1="281.2" x2="621.0" y2="281.2"/>
<line x1="618.5" y1="301.2" x2="621.0" y2="301.2"/>
<line x1="618.5" y1="321.2" x2="621.0" y2="321.2"/>
</g>
<text x="621.2" y="346.8" text-anchor="middle" font-size="8.1">0</text>
<text x="641.1" y="346.8" text-anchor="middle" font-size="8.1">50</text>
<text x="661.0" y="346.8" text-anchor="middle" font-size="8.1">100</text>
<text x="680.9" y="346.8" text-anchor="middle" font-size="8.1">150</text>
<text x="616.7" y="264.1" text-anchor="end" font-size="8.1">0</text>
<text x="616.7" y="284.1" text-anchor="end" font-size="8.1">50</text>
<text x="616.7" y="304.1" text-anchor="end" font-size="8.1">100</text>
<text x="616.7" y="324.1" text-anchor="end" font-size="8.1">150</text>
<text x="660.4" y="356.1" text-anchor="middle" font-size="8.1">x position (px)</text>
<text transform="translate(598.4 302.5) rotate(-90)" text-anchor="middle" font-size="8.1">y position (px)</text>
<text x="697.1" y="258.0" text-anchor="end" font-size="7.2">Fe distribution</text>
<clipPath id="cin2"><rect x="0.00" y="0.00" width="109.3" height="76.4"/></clipPath>
<g transform="translate(242 409)"><g clip-path="url(#cin2)">
<rect width="109.3" height="76.4" fill="#000088"/>
<polygon points="80,30 88,36 100,42 109,50 109,76.4 80,76.4" fill="#0a2ac8" fill-opacity="0.7" filter="url(#b4)"/>
<path fill="#caff2d" d="M0.00 35.70h0.98v2.48h-0.98zM0.95 40.60h0.98v2.48h-0.98zM5.68 73.75h0.98v2.48h-0.98zM6.62 71.30h0.98v2.48h-0.98zM6.62 76.20h0.98v0.23h-0.98zM7.57 73.75h0.98v2.48h-0.98zM16.09 28.36h0.98v2.48h-0.98zM17.03 50.43h0.98v2.48h-0.98zM18.93 28.36h0.98v2.48h-0.98zM19.87 25.90h0.98v2.48h-0.98zM22.71 25.90h0.98v4.93h-0.98zM22.71 35.71h0.98v2.48h-0.98zM23.66 25.90h0.98v2.48h-0.98zM24.60 28.36h0.98v2.48h-0.98zM26.50 28.36h0.98v2.48h-0.98zM27.44 25.90h0.98v2.48h-0.98zM28.39 23.45h0.98v2.48h-0.98zM29.34 25.90h0.98v2.48h-0.98zM32.17 28.90h0.98v4.93h-0.98zM32.17 50.98h0.98v2.48h-0.98zM35.96 33.81h0.98v4.93h-0.98zM36.91 26.45h0.98v2.48h-0.98zM37.85 31.36h0.98v2.48h-0.98zM37.85 41.17h0.98v2.48h-0.98zM38.80 26.45h0.98v2.48h-0.98zM39.75 24.00h0.98v2.48h-0.98zM39.75 43.62h0.98v2.48h-0.98zM40.69 26.45h0.98v2.48h-0.98zM41.64 24.00h0.98v2.48h-0.98zM42.58 24.00h0.98v2.48h-0.98zM43.53 24.00h0.98v2.48h-0.98zM44.48 26.45h0.98v2.48h-0.98zM45.42 28.90h0.98v2.48h-0.98zM46.37 26.45h0.98v2.48h-0.98zM51.10 33.76h0.98v2.48h-0.98zM51.10 41.12h0.98v4.93h-0.98zM51.10 53.38h0.98v2.48h-0.98zM52.99 33.76h0.98v2.48h-0.98zM52.99 41.12h0.98v2.48h-0.98zM54.89 28.86h0.98v7.39h-0.98zM54.89 55.83h0.98v2.48h-0.98zM56.78 50.93h0.98v2.48h-0.98zM57.73 26.40h0.98v2.48h-0.98zM58.67 28.86h0.98v2.48h-0.98zM58.67 55.83h0.98v2.48h-0.98zM58.67 73.00h0.98v2.48h-0.98zM60.56 50.93h0.98v2.48h-0.98zM61.51 28.86h0.98v2.48h-0.98zM62.46 28.86h0.98v2.48h-0.98zM62.46 58.29h0.98v2.48h-0.98zM64.35 28.86h0.98v2.48h-0.98zM64.35 33.76h0.98v2.48h-0.98zM68.14 64.19h0.98v2.48h-0.98zM69.08 29.86h0.98v2.48h-0.98zM70.97 56.83h0.98v2.48h-0.98zM71.92 61.74h0.98v2.48h-0.98zM73.81 54.38h0.98v2.48h-0.98zM73.81 59.29h0.98v7.39h-0.98zM74.76 51.93h0.98v4.93h-0.98zM75.71 24.95h0.98v2.48h-0.98zM75.71 61.74h0.98v2.48h-0.98zM79.49 58.33h0.98v2.48h-0.98zM81.38 38.71h0.98v2.48h-0.98zM81.38 48.52h0.98v2.48h-0.98z"/>
<path fill="#000fff" d="M0.00 38.15h0.98v4.93h-0.98zM0.00 52.87h0.98v2.48h-0.98zM0.00 60.22h0.98v2.48h-0.98zM0.00 70.03h0.98v2.48h-0.98zM0.95 35.70h0.98v2.48h-0.98zM0.95 43.06h0.98v2.48h-0.98zM0.95 65.13h0.98v4.93h-0.98zM5.68 19.80h0.98v2.48h-0.98zM12.30 73.50h0.98v2.48h-0.98zM13.25 26.90h0.98v4.93h-0.98zM13.25 75.95h0.98v0.48h-0.98zM15.14 44.07h0.98v2.48h-0.98zM15.14 48.98h0.98v2.48h-0.98zM15.14 63.69h0.98v2.48h-0.98zM15.14 75.95h0.98v0.48h-0.98zM76.65 24.00h0.98v4.93h-0.98zM76.65 75.50h0.98v0.93h-0.98zM77.60 75.50h0.98v0.93h-0.98zM79.49 68.14h0.98v2.48h-0.98zM80.44 75.50h0.98v0.93h-0.98zM82.33 26.45h0.98v2.48h-0.98zM82.33 73.05h0.98v3.38h-0.98zM84.22 24.00h0.98v2.48h-0.98z"/>
<path fill="#0000f9" d="M0.00 43.06h0.98v2.48h-0.98zM0.00 55.32h0.98v4.93h-0.98zM0.00 72.49h0.98v2.48h-0.98zM0.95 52.87h0.98v2.48h-0.98zM0.95 60.22h0.98v2.48h-0.98zM0.95 72.49h0.98v2.48h-0.98zM11.36 19.80h0.98v2.48h-0.98zM12.30 26.90h0.98v2.48h-0.98zM13.25 71.05h0.98v2.48h-0.98zM15.14 68.59h0.98v2.48h-0.98zM76.65 70.59h0.98v2.48h-0.98zM78.54 24.00h0.98v2.48h-0.98zM78.54 70.59h0.98v2.48h-0.98zM78.54 75.50h0.98v0.93h-0.98zM82.33 24.00h0.98v2.48h-0.98zM84.22 68.14h0.98v2.48h-0.98z"/>
<path fill="#0057ff" d="M0.00 45.51h0.98v2.48h-0.98zM1.89 24.70h0.98v2.48h-0.98zM3.79 24.70h0.98v2.48h-0.98zM6.62 19.80h0.98v2.48h-0.98zM6.62 24.70h0.98v2.48h-0.98zM8.52 19.80h0.98v2.48h-0.98zM10.41 19.80h0.98v2.48h-0.98zM12.30 31.81h0.98v2.48h-0.98zM12.30 48.98h0.98v2.48h-0.98zM12.30 56.33h0.98v2.48h-0.98zM12.30 61.24h0.98v2.48h-0.98zM12.30 68.59h0.98v2.48h-0.98zM13.25 36.71h0.98v2.48h-0.98zM13.25 73.50h0.98v2.48h-0.98zM14.19 48.98h0.98v2.48h-0.98zM14.19 68.59h0.98v2.48h-0.98zM15.14 24.45h0.98v2.48h-0.98zM15.14 31.81h0.98v2.48h-0.98zM15.14 51.43h0.98v4.93h-0.98zM15.14 58.79h0.98v4.93h-0.98zM67.19 74.00h0.98v2.43h-0.98zM72.87 71.55h0.98v2.48h-0.98zM76.65 28.90h0.98v4.93h-0.98zM77.60 24.00h0.98v2.48h-0.98zM78.54 31.36h0.98v2.48h-0.98zM78.54 63.24h0.98v7.39h-0.98zM79.49 75.50h0.98v0.93h-0.98zM80.44 28.90h0.98v2.48h-0.98zM80.44 65.69h0.98v7.39h-0.98zM82.33 28.90h0.98v4.93h-0.98zM82.33 36.26h0.98v2.48h-0.98zM82.33 58.33h0.98v4.93h-0.98zM83.28 24.00h0.98v2.48h-0.98zM83.28 75.50h0.98v0.93h-0.98zM84.22 53.43h0.98v2.48h-0.98zM84.22 63.24h0.98v2.48h-0.98z"/>
<path fill="#0000d1" d="M0.00 47.96h0.98v2.48h-0.98zM0.00 67.58h0.98v2.48h-0.98zM0.00 74.94h0.98v1.49h-0.98zM0.95 47.96h0.98v4.93h-0.98zM76.65 63.24h0.98v2.48h-0.98z"/>
<path fill="#ffa500" d="M0.00 50.41h0.98v2.48h-0.98zM1.89 22.25h0.98v2.48h-0.98zM1.89 29.61h0.98v2.48h-0.98zM1.89 34.51h0.98v2.48h-0.98zM2.84 22.25h0.98v2.48h-0.98zM2.84 29.61h0.98v2.48h-0.98zM3.79 27.16h0.98v7.39h-0.98zM3.79 76.20h0.98v0.23h-0.98zM4.73 27.16h0.98v2.48h-0.98zM4.73 34.51h0.98v2.48h-0.98zM4.73 76.20h0.98v0.23h-0.98zM5.68 22.25h0.98v2.48h-0.98zM5.68 32.06h0.98v2.48h-0.98zM6.62 32.06h0.98v2.48h-0.98zM6.62 36.97h0.98v2.48h-0.98zM7.57 32.06h0.98v2.48h-0.98zM8.52 32.06h0.98v4.93h-0.98zM8.52 76.20h0.98v0.23h-0.98zM9.46 29.61h0.98v7.39h-0.98zM10.41 22.25h0.98v2.48h-0.98zM10.41 34.51h0.98v2.48h-0.98zM11.36 29.61h0.98v4.93h-0.98zM11.36 71.30h0.98v2.48h-0.98zM11.36 76.20h0.98v0.23h-0.98zM12.30 41.62h0.98v2.48h-0.98zM12.30 51.43h0.98v2.48h-0.98zM12.30 71.05h0.98v2.48h-0.98zM13.25 34.26h0.98v2.48h-0.98zM13.25 48.98h0.98v2.48h-0.98zM15.14 56.33h0.98v2.48h-0.98zM15.14 73.50h0.98v2.48h-0.98zM16.09 33.26h0.98v2.48h-0.98zM17.03 38.17h0.98v2.48h-0.98zM17.03 55.33h0.98v2.48h-0.98zM18.93 38.17h0.98v2.48h-0.98zM18.93 55.33h0.98v2.48h-0.98zM20.82 30.81h0.98v2.48h-0.98zM20.82 38.17h0.98v2.48h-0.98zM20.82 60.24h0.98v2.48h-0.98zM20.82 70.05h0.98v2.48h-0.98zM21.77 35.71h0.98v2.48h-0.98zM22.71 74.95h0.98v1.48h-0.98zM23.66 35.71h0.98v2.48h-0.98zM24.60 55.33h0.98v4.93h-0.98zM24.60 67.59h0.98v2.48h-0.98zM25.55 30.81h0.98v2.48h-0.98zM26.50 40.62h0.98v2.48h-0.98zM26.50 47.98h0.98v2.48h-0.98zM26.50 72.50h0.98v2.48h-0.98zM28.39 45.52h0.98v2.48h-0.98zM28.39 60.24h0.98v2.48h-0.98zM29.34 33.26h0.98v2.48h-0.98zM30.28 43.07h0.98v2.48h-0.98zM30.28 55.33h0.98v4.93h-0.98zM30.28 65.14h0.98v2.48h-0.98zM30.28 74.95h0.98v1.48h-0.98zM31.23 38.17h0.98v2.48h-0.98zM32.17 36.26h0.98v2.48h-0.98zM32.17 46.07h0.98v2.48h-0.98zM32.17 58.33h0.98v4.93h-0.98zM33.12 33.81h0.98v2.48h-0.98zM34.07 38.71h0.98v2.48h-0.98zM34.07 48.52h0.98v2.48h-0.98zM34.07 53.43h0.98v4.93h-0.98zM34.07 65.69h0.98v2.48h-0.98zM35.01 33.81h0.98v4.93h-0.98zM35.96 43.62h0.98v2.48h-0.98zM35.96 50.98h0.98v4.93h-0.98zM36.91 31.36h0.98v7.39h-0.98zM37.85 53.43h0.98v2.48h-0.98zM37.85 60.79h0.98v4.93h-0.98zM38.80 36.26h0.98v2.48h-0.98zM39.75 41.17h0.98v2.48h-0.98zM39.75 55.88h0.98v2.48h-0.98zM39.75 60.79h0.98v2.48h-0.98zM39.75 70.59h0.98v4.93h-0.98zM40.69 31.36h0.98v2.48h-0.98zM40.69 36.26h0.98v2.48h-0.98zM41.64 38.71h0.98v2.48h-0.98zM41.64 46.07h0.98v4.93h-0.98zM41.64 58.33h0.98v4.93h-0.98zM41.64 73.05h0.98v2.48h-0.98zM42.58 33.81h0.98v7.39h-0.98zM43.53 38.71h0.98v2.48h-0.98zM43.53 48.52h0.98v9.84h-0.98zM43.53 70.59h0.98v2.48h-0.98zM44.48 31.36h0.98v2.48h-0.98zM45.42 58.33h0.98v2.48h-0.98zM45.42 63.24h0.98v2.48h-0.98zM50.15 23.95h0.98v2.48h-0.98zM50.15 38.67h0.98v4.93h-0.98zM50.15 46.02h0.98v2.48h-0.98zM50.15 50.93h0.98v4.93h-0.98zM50.15 73.00h0.98v2.48h-0.98zM51.10 68.09h0.98v2.48h-0.98zM52.05 33.76h0.98v4.93h-0.98zM52.05 41.12h0.98v2.48h-0.98zM52.05 46.02h0.98v2.48h-0.98zM52.05 50.93h0.98v2.48h-0.98zM52.05 55.83h0.98v2.48h-0.98zM53.94 36.21h0.98v2.48h-0.98zM53.94 41.12h0.98v2.48h-0.98zM53.94 50.93h0.98v2.48h-0.98zM53.94 60.74h0.98v2.48h-0.98zM54.89 73.00h0.98v2.48h-0.98zM55.83 31.31h0.98v2.48h-0.98zM55.83 36.21h0.98v4.93h-0.98zM55.83 48.48h0.98v4.93h-0.98zM55.83 55.83h0.98v2.48h-0.98zM55.83 65.64h0.98v2.48h-0.98zM55.83 70.55h0.98v2.48h-0.98zM56.78 58.29h0.98v2.48h-0.98zM57.73 23.95h0.98v2.48h-0.98zM57.73 31.31h0.98v2.48h-0.98zM57.73 36.21h0.98v2.48h-0.98zM57.73 43.57h0.98v2.48h-0.98zM57.73 58.29h0.98v4.93h-0.98zM59.62 26.40h0.98v2.48h-0.98zM59.62 31.31h0.98v2.48h-0.98zM59.62 36.21h0.98v4.93h-0.98zM59.62 43.57h0.98v2.48h-0.98zM59.62 73.00h0.98v2.48h-0.98zM60.56 43.57h0.98v2.48h-0.98zM60.56 60.74h0.98v2.48h-0.98zM61.51 23.95h0.98v2.48h-0.98zM61.51 33.76h0.98v7.39h-0.98zM61.51 43.57h0.98v2.48h-0.98zM61.51 53.38h0.98v2.48h-0.98zM61.51 63.19h0.98v2.48h-0.98zM62.46 55.83h0.98v2.48h-0.98zM63.40 48.48h0.98v2.48h-0.98zM63.40 58.29h0.98v7.39h-0.98zM63.40 68.09h0.98v2.48h-0.98zM65.30 38.67h0.98v4.93h-0.98zM65.30 60.74h0.98v2.48h-0.98zM66.24 27.40h0.98v2.48h-0.98zM66.24 37.21h0.98v2.48h-0.98zM66.24 44.57h0.98v2.48h-0.98zM68.14 34.76h0.98v4.93h-0.98zM68.14 54.38h0.98v2.48h-0.98zM69.08 39.67h0.98v2.48h-0.98zM70.03 37.21h0.98v2.48h-0.98zM71.92 29.86h0.98v4.93h-0.98zM71.92 39.67h0.98v2.48h-0.98zM72.87 44.57h0.98v7.39h-0.98zM73.81 27.40h0.98v4.93h-0.98zM74.76 39.67h0.98v4.93h-0.98zM75.71 47.02h0.98v2.48h-0.98zM79.49 46.07h0.98v2.48h-0.98zM81.38 46.07h0.98v2.48h-0.98zM81.38 50.98h0.98v2.48h-0.98zM83.28 43.62h0.98v2.48h-0.98z"/>
<path fill="#56ffa0" d="M0.00 62.68h0.98v2.48h-0.98zM0.95 38.15h0.98v2.48h-0.98zM5.68 76.20h0.98v0.23h-0.98zM7.57 76.20h0.98v0.23h-0.98zM10.41 73.75h0.98v2.48h-0.98zM22.71 21.00h0.98v2.48h-0.98zM26.50 21.00h0.98v2.48h-0.98zM28.39 21.00h0.98v2.48h-0.98zM30.28 21.00h0.98v2.48h-0.98zM31.23 23.45h0.98v2.48h-0.98zM50.15 21.50h0.98v2.48h-0.98zM51.10 21.50h0.98v2.48h-0.98zM52.99 21.50h0.98v2.48h-0.98zM53.94 21.50h0.98v2.48h-0.98zM57.73 21.50h0.98v2.48h-0.98zM63.40 21.50h0.98v2.48h-0.98zM67.19 59.29h0.98v2.48h-0.98zM68.14 22.50h0.98v2.48h-0.98zM68.14 66.64h0.98v2.48h-0.98zM70.97 59.29h0.98v2.48h-0.98zM72.87 29.86h0.98v2.48h-0.98zM72.87 59.29h0.98v4.93h-0.98zM73.81 22.50h0.98v2.48h-0.98zM74.76 61.74h0.98v2.48h-0.98zM74.76 71.55h0.98v2.48h-0.98zM77.60 60.79h0.98v2.48h-0.98zM81.38 41.17h0.98v2.48h-0.98zM81.38 55.88h0.98v2.48h-0.98zM83.28 28.90h0.98v4.93h-0.98zM83.28 63.24h0.98v2.48h-0.98z"/>
<path fill="#00e6f7" d="M0.00 65.13h0.98v2.48h-0.98zM4.73 68.85h0.98v2.48h-0.98zM8.52 68.85h0.98v2.48h-0.98zM11.36 24.70h0.98v2.48h-0.98zM23.66 21.00h0.98v2.48h-0.98zM66.24 71.55h0.98v4.88h-0.98zM69.08 66.64h0.98v2.48h-0.98zM70.03 74.00h0.98v2.43h-0.98zM70.97 22.50h0.98v2.48h-0.98zM70.97 66.64h0.98v4.93h-0.98zM71.92 22.50h0.98v2.48h-0.98zM72.87 64.19h0.98v2.48h-0.98zM72.87 74.00h0.98v2.43h-0.98zM73.81 71.55h0.98v2.48h-0.98zM74.76 69.09h0.98v2.48h-0.98zM75.71 69.09h0.98v2.48h-0.98zM75.71 74.00h0.98v2.43h-0.98zM76.65 43.62h0.98v2.48h-0.98zM76.65 50.98h0.98v2.48h-0.98zM77.60 65.69h0.98v2.48h-0.98zM77.60 70.59h0.98v2.48h-0.98zM78.54 55.88h0.98v4.93h-0.98zM79.49 63.24h0.98v4.93h-0.98zM80.44 53.43h0.98v2.48h-0.98zM81.38 26.45h0.98v4.93h-0.98zM82.33 43.62h0.98v4.93h-0.98zM84.22 50.98h0.98v2.48h-0.98z"/>
<path fill="#1dffda" d="M0.95 45.51h0.98v2.48h-0.98zM3.79 68.85h0.98v2.48h-0.98zM16.09 21.00h0.98v2.48h-0.98zM17.98 21.00h0.98v2.48h-0.98zM25.55 21.00h0.98v2.48h-0.98zM27.44 21.00h0.98v2.48h-0.98zM58.67 21.50h0.98v2.48h-0.98zM66.24 22.50h0.98v2.48h-0.98zM67.19 61.74h0.98v4.93h-0.98zM68.14 69.09h0.98v2.48h-0.98zM69.08 69.09h0.98v2.48h-0.98zM70.03 69.09h0.98v4.93h-0.98zM71.92 69.09h0.98v2.48h-0.98zM72.87 69.09h0.98v2.48h-0.98zM75.71 66.64h0.98v2.48h-0.98zM78.54 38.71h0.98v2.48h-0.98zM78.54 50.98h0.98v2.48h-0.98zM79.49 28.90h0.98v2.48h-0.98zM79.49 33.81h0.98v2.48h-0.98zM80.44 41.17h0.98v2.48h-0.98zM81.38 63.24h0.98v2.48h-0.98zM83.28 73.05h0.98v2.48h-0.98zM84.22 48.52h0.98v2.48h-0.98z"/>
<path fill="#ffe700" d="M0.95 55.32h0.98v2.48h-0.98zM0.95 74.94h0.98v1.49h-0.98zM4.73 22.25h0.98v2.48h-0.98zM6.62 27.16h0.98v2.48h-0.98zM7.57 29.61h0.98v2.48h-0.98zM7.57 71.30h0.98v2.48h-0.98zM8.52 29.61h0.98v2.48h-0.98zM10.41 29.61h0.98v2.48h-0.98zM10.41 76.20h0.98v0.23h-0.98zM13.25 41.62h0.98v2.48h-0.98zM15.14 36.71h0.98v2.48h-0.98zM16.09 30.81h0.98v2.48h-0.98zM17.03 23.45h0.98v2.48h-0.98zM17.03 28.36h0.98v2.48h-0.98zM17.03 40.62h0.98v2.48h-0.98zM17.03 47.98h0.98v2.48h-0.98zM17.03 57.79h0.98v2.48h-0.98zM17.98 28.36h0.98v2.48h-0.98zM18.93 25.90h0.98v2.48h-0.98zM18.93 30.81h0.98v2.48h-0.98zM18.93 35.71h0.98v2.48h-0.98zM18.93 45.52h0.98v7.39h-0.98zM20.82 43.07h0.98v2.48h-0.98zM20.82 50.43h0.98v2.48h-0.98zM21.77 30.81h0.98v2.48h-0.98zM22.71 45.52h0.98v4.93h-0.98zM22.71 55.33h0.98v2.48h-0.98zM23.66 28.36h0.98v2.48h-0.98zM24.60 25.90h0.98v2.48h-0.98zM24.60 35.71h0.98v2.48h-0.98zM24.60 45.52h0.98v2.48h-0.98zM26.50 33.26h0.98v7.39h-0.98zM26.50 43.07h0.98v4.93h-0.98zM26.50 50.43h0.98v4.93h-0.98zM27.44 30.81h0.98v2.48h-0.98zM28.39 25.90h0.98v2.48h-0.98zM28.39 35.71h0.98v7.39h-0.98zM28.39 57.79h0.98v2.48h-0.98zM29.34 30.81h0.98v2.48h-0.98zM30.28 28.36h0.98v9.84h-0.98zM30.28 40.62h0.98v2.48h-0.98zM30.28 45.52h0.98v2.48h-0.98zM30.28 50.43h0.98v4.93h-0.98zM31.23 28.36h0.98v4.93h-0.98zM32.17 24.00h0.98v2.48h-0.98zM32.17 48.52h0.98v2.48h-0.98zM33.12 28.90h0.98v2.48h-0.98zM34.07 31.36h0.98v7.39h-0.98zM34.07 43.62h0.98v4.93h-0.98zM34.07 50.98h0.98v2.48h-0.98zM35.96 31.36h0.98v2.48h-0.98zM35.96 41.17h0.98v2.48h-0.98zM37.85 36.26h0.98v2.48h-0.98zM37.85 43.62h0.98v2.48h-0.98zM38.80 28.90h0.98v2.48h-0.98zM39.75 26.45h0.98v7.39h-0.98zM39.75 36.26h0.98v4.93h-0.98zM39.75 48.52h0.98v4.93h-0.98zM41.64 28.90h0.98v2.48h-0.98zM41.64 55.88h0.98v2.48h-0.98zM42.58 28.90h0.98v4.93h-0.98zM43.53 33.81h0.98v2.48h-0.98zM43.53 43.62h0.98v2.48h-0.98zM45.42 36.26h0.98v2.48h-0.98zM45.42 41.17h0.98v2.48h-0.98zM50.15 26.40h0.98v2.48h-0.98zM50.15 31.31h0.98v2.48h-0.98zM51.10 26.40h0.98v4.93h-0.98zM51.10 38.67h0.98v2.48h-0.98zM51.10 46.02h0.98v2.48h-0.98zM51.10 58.29h0.98v9.84h-0.98zM51.10 70.55h0.98v2.48h-0.98zM52.05 28.86h0.98v2.48h-0.98zM52.99 28.86h0.98v4.93h-0.98zM52.99 38.67h0.98v2.48h-0.98zM52.99 48.48h0.98v2.48h-0.98zM52.99 53.38h0.98v4.93h-0.98zM52.99 60.74h0.98v4.93h-0.98zM52.99 70.55h0.98v5.88h-0.98zM53.94 23.95h0.98v2.48h-0.98zM53.94 38.67h0.98v2.48h-0.98zM54.89 46.02h0.98v9.84h-0.98zM54.89 63.19h0.98v2.48h-0.98zM54.89 68.09h0.98v2.48h-0.98zM55.83 26.40h0.98v4.93h-0.98zM55.83 33.76h0.98v2.48h-0.98zM56.78 23.95h0.98v7.39h-0.98zM56.78 33.76h0.98v2.48h-0.98zM56.78 38.67h0.98v9.84h-0.98zM56.78 53.38h0.98v4.93h-0.98zM56.78 63.19h0.98v2.48h-0.98zM56.78 70.55h0.98v4.93h-0.98zM58.67 26.40h0.98v2.48h-0.98zM58.67 38.67h0.98v7.39h-0.98zM58.67 50.93h0.98v2.48h-0.98zM58.67 65.64h0.98v7.39h-0.98zM59.62 23.95h0.98v2.48h-0.98zM59.62 53.38h0.98v2.48h-0.98zM60.56 28.86h0.98v2.48h-0.98zM60.56 55.83h0.98v2.48h-0.98zM60.56 68.09h0.98v2.48h-0.98zM61.51 50.93h0.98v2.48h-0.98zM62.46 41.12h0.98v2.48h-0.98zM62.46 50.93h0.98v4.93h-0.98zM62.46 60.74h0.98v4.93h-0.98zM63.40 23.95h0.98v2.48h-0.98zM63.40 33.76h0.98v2.48h-0.98zM64.35 23.95h0.98v2.48h-0.98zM64.35 36.21h0.98v4.93h-0.98zM64.35 43.57h0.98v2.48h-0.98zM64.35 48.48h0.98v2.48h-0.98zM64.35 53.38h0.98v2.48h-0.98zM64.35 60.74h0.98v2.48h-0.98zM64.35 65.64h0.98v2.48h-0.98zM64.35 70.55h0.98v5.88h-0.98zM65.30 26.40h0.98v4.93h-0.98zM65.30 33.76h0.98v2.48h-0.98zM66.24 29.86h0.98v2.48h-0.98zM66.24 49.48h0.98v2.48h-0.98zM67.19 47.02h0.98v4.93h-0.98zM68.14 24.95h0.98v4.93h-0.98zM68.14 49.48h0.98v4.93h-0.98zM68.14 59.29h0.98v2.48h-0.98zM69.08 49.48h0.98v2.48h-0.98zM70.03 54.38h0.98v7.39h-0.98zM71.92 27.40h0.98v2.48h-0.98zM71.92 34.76h0.98v2.48h-0.98zM71.92 54.38h0.98v2.48h-0.98zM72.87 32.31h0.98v2.48h-0.98zM72.87 39.67h0.98v2.48h-0.98zM72.87 54.38h0.98v2.48h-0.98zM73.81 24.95h0.98v2.48h-0.98zM73.81 51.93h0.98v2.48h-0.98zM74.76 32.31h0.98v2.48h-0.98zM74.76 49.48h0.98v2.48h-0.98zM75.71 49.48h0.98v4.93h-0.98zM75.71 56.83h0.98v4.93h-0.98zM77.60 41.17h0.98v2.48h-0.98zM79.49 38.71h0.98v2.48h-0.98zM79.49 43.62h0.98v2.48h-0.98zM83.28 36.26h0.98v4.93h-0.98z"/>
<path fill="#0033ff" d="M0.95 57.77h0.98v2.48h-0.98zM0.95 62.68h0.98v2.48h-0.98zM9.46 24.70h0.98v2.48h-0.98zM12.30 24.45h0.98v2.48h-0.98zM12.30 34.26h0.98v7.39h-0.98zM12.30 46.52h0.98v2.48h-0.98zM13.25 56.33h0.98v2.48h-0.98zM13.25 61.24h0.98v2.48h-0.98zM13.25 68.59h0.98v2.48h-0.98zM14.19 29.36h0.98v2.48h-0.98zM14.19 39.17h0.98v2.48h-0.98zM14.19 51.43h0.98v2.48h-0.98zM14.19 56.33h0.98v4.93h-0.98zM15.14 26.90h0.98v4.93h-0.98zM76.65 65.69h0.98v2.48h-0.98zM76.65 73.05h0.98v2.48h-0.98zM78.54 26.45h0.98v4.93h-0.98zM78.54 73.05h0.98v2.48h-0.98zM80.44 24.00h0.98v4.93h-0.98zM80.44 31.36h0.98v2.48h-0.98zM80.44 58.33h0.98v2.48h-0.98zM80.44 73.05h0.98v2.48h-0.98zM84.22 31.36h0.98v2.48h-0.98zM84.22 60.79h0.98v2.48h-0.98zM84.22 70.59h0.98v2.48h-0.98zM84.22 75.50h0.98v0.93h-0.98z"/>
<path fill="#90ff67" d="M0.95 70.03h0.98v2.48h-0.98zM1.89 73.75h0.98v2.48h-0.98zM8.52 71.30h0.98v2.48h-0.98zM9.46 73.75h0.98v2.68h-0.98zM10.41 71.30h0.98v2.48h-0.98zM16.09 23.45h0.98v4.93h-0.98zM19.87 23.45h0.98v2.48h-0.98zM25.55 23.45h0.98v2.48h-0.98zM29.34 23.45h0.98v2.48h-0.98zM31.23 25.90h0.98v2.48h-0.98zM35.01 26.45h0.98v2.48h-0.98zM38.80 24.00h0.98v2.48h-0.98zM46.37 24.00h0.98v2.48h-0.98zM61.51 21.50h0.98v2.48h-0.98zM66.24 66.64h0.98v2.48h-0.98zM67.19 27.40h0.98v2.48h-0.98zM69.08 24.95h0.98v4.93h-0.98zM69.08 54.38h0.98v4.93h-0.98zM69.08 64.19h0.98v2.48h-0.98zM70.97 64.19h0.98v2.48h-0.98zM72.87 56.83h0.98v2.48h-0.98zM74.76 37.21h0.98v2.48h-0.98zM74.76 56.83h0.98v2.48h-0.98zM77.60 33.81h0.98v2.48h-0.98zM77.60 38.71h0.98v2.48h-0.98zM77.60 50.98h0.98v4.93h-0.98zM79.49 50.98h0.98v2.48h-0.98zM79.49 55.88h0.98v2.48h-0.98zM81.38 36.26h0.98v2.48h-0.98zM83.28 50.98h0.98v2.48h-0.98z"/>
<path fill="#00c2ff" d="M1.89 19.80h0.98v2.48h-0.98zM2.84 68.85h0.98v2.48h-0.98zM5.68 68.85h0.98v2.48h-0.98zM6.62 68.85h0.98v2.48h-0.98zM7.57 19.80h0.98v2.48h-0.98zM7.57 68.85h0.98v2.48h-0.98zM11.36 68.85h0.98v2.48h-0.98zM12.30 75.95h0.98v0.48h-0.98zM14.19 34.26h0.98v2.48h-0.98zM14.19 53.88h0.98v2.48h-0.98zM29.34 21.00h0.98v2.48h-0.98zM67.19 22.50h0.98v2.48h-0.98zM67.19 69.09h0.98v2.48h-0.98zM68.14 71.55h0.98v2.48h-0.98zM69.08 22.50h0.98v2.48h-0.98zM70.97 74.00h0.98v2.43h-0.98zM71.92 71.55h0.98v2.48h-0.98zM72.87 66.64h0.98v2.48h-0.98zM73.81 74.00h0.98v2.43h-0.98zM74.76 22.50h0.98v2.48h-0.98zM75.71 71.55h0.98v2.48h-0.98zM76.65 46.07h0.98v2.48h-0.98zM76.65 58.33h0.98v4.93h-0.98zM77.60 26.45h0.98v2.48h-0.98zM78.54 41.17h0.98v2.48h-0.98zM78.54 48.52h0.98v2.48h-0.98zM78.54 53.43h0.98v2.48h-0.98zM79.49 73.05h0.98v2.48h-0.98zM80.44 33.81h0.98v2.48h-0.98zM80.44 43.62h0.98v4.93h-0.98zM80.44 50.98h0.98v2.48h-0.98zM80.44 63.24h0.98v2.48h-0.98zM81.38 24.00h0.98v2.48h-0.98zM82.33 38.71h0.98v4.93h-0.98zM82.33 48.52h0.98v2.48h-0.98zM82.33 53.43h0.98v2.48h-0.98zM83.28 60.79h0.98v2.48h-0.98zM83.28 68.14h0.98v4.93h-0.98z"/>
<path fill="#ffc600" d="M1.89 27.16h0.98v2.48h-0.98zM1.89 32.06h0.98v2.48h-0.98zM2.84 32.06h0.98v2.48h-0.98zM3.79 71.30h0.98v2.48h-0.98zM4.73 32.06h0.98v2.48h-0.98zM4.73 73.75h0.98v2.48h-0.98zM5.68 29.61h0.98v2.48h-0.98zM6.62 29.61h0.98v2.48h-0.98zM7.57 36.97h0.98v2.48h-0.98zM8.52 27.16h0.98v2.48h-0.98zM9.46 71.30h0.98v2.48h-0.98zM10.41 27.16h0.98v2.48h-0.98zM11.36 22.25h0.98v2.48h-0.98zM11.36 73.75h0.98v2.48h-0.98zM12.30 29.36h0.98v2.48h-0.98zM13.25 66.14h0.98v2.48h-0.98zM14.19 26.90h0.98v2.48h-0.98zM14.19 71.05h0.98v2.48h-0.98zM17.03 25.90h0.98v2.48h-0.98zM17.03 35.71h0.98v2.48h-0.98zM17.03 43.07h0.98v4.93h-0.98zM17.03 52.88h0.98v2.48h-0.98zM17.03 60.24h0.98v2.48h-0.98zM17.98 30.81h0.98v2.48h-0.98zM17.98 35.71h0.98v2.48h-0.98zM18.93 33.26h0.98v2.48h-0.98zM18.93 43.07h0.98v2.48h-0.98zM18.93 52.88h0.98v2.48h-0.98zM18.93 57.79h0.98v2.48h-0.98zM18.93 65.14h0.98v2.48h-0.98zM19.87 30.81h0.98v4.93h-0.98zM20.82 33.26h0.98v4.93h-0.98zM20.82 40.62h0.98v2.48h-0.98zM20.82 47.98h0.98v2.48h-0.98zM20.82 52.88h0.98v2.48h-0.98zM22.71 33.26h0.98v2.48h-0.98zM22.71 38.17h0.98v7.39h-0.98zM22.71 50.43h0.98v4.93h-0.98zM22.71 60.24h0.98v2.48h-0.98zM23.66 30.81h0.98v4.93h-0.98zM24.60 23.45h0.98v2.48h-0.98zM24.60 38.17h0.98v2.48h-0.98zM24.60 43.07h0.98v2.48h-0.98zM24.60 47.98h0.98v7.39h-0.98zM24.60 60.24h0.98v2.48h-0.98zM25.55 33.26h0.98v2.48h-0.98zM25.55 38.17h0.98v2.48h-0.98zM28.39 28.36h0.98v4.93h-0.98zM28.39 43.07h0.98v2.48h-0.98zM28.39 47.98h0.98v4.93h-0.98zM28.39 55.33h0.98v2.48h-0.98zM28.39 65.14h0.98v2.48h-0.98zM32.17 38.71h0.98v2.48h-0.98zM32.17 55.88h0.98v2.48h-0.98zM33.12 31.36h0.98v2.48h-0.98zM34.07 41.17h0.98v2.48h-0.98zM35.01 28.90h0.98v4.93h-0.98zM35.96 24.00h0.98v2.48h-0.98zM35.96 38.71h0.98v2.48h-0.98zM35.96 46.07h0.98v4.93h-0.98zM35.96 58.33h0.98v2.48h-0.98zM36.91 28.90h0.98v2.48h-0.98zM37.85 24.00h0.98v2.48h-0.98zM37.85 28.90h0.98v2.48h-0.98zM37.85 33.81h0.98v2.48h-0.98zM37.85 46.07h0.98v7.39h-0.98zM37.85 58.33h0.98v2.48h-0.98zM38.80 31.36h0.98v2.48h-0.98zM39.75 33.81h0.98v2.48h-0.98zM39.75 53.43h0.98v2.48h-0.98zM39.75 58.33h0.98v2.48h-0.98zM40.69 28.90h0.98v2.48h-0.98zM41.64 31.36h0.98v2.48h-0.98zM41.64 41.17h0.98v4.93h-0.98zM41.64 50.98h0.98v4.93h-0.98zM43.53 26.45h0.98v2.48h-0.98zM43.53 36.26h0.98v2.48h-0.98zM43.53 41.17h0.98v2.48h-0.98zM43.53 46.07h0.98v2.48h-0.98zM43.53 68.14h0.98v2.48h-0.98zM44.48 28.90h0.98v2.48h-0.98zM44.48 33.81h0.98v2.48h-0.98zM45.42 43.62h0.98v12.29h-0.98zM45.42 60.79h0.98v2.48h-0.98zM46.37 31.36h0.98v2.48h-0.98zM50.15 28.86h0.98v2.48h-0.98zM50.15 33.76h0.98v4.93h-0.98zM50.15 60.74h0.98v4.93h-0.98zM50.15 70.55h0.98v2.48h-0.98zM51.10 31.31h0.98v2.48h-0.98zM51.10 48.48h0.98v4.93h-0.98zM51.10 73.00h0.98v3.43h-0.98zM52.05 26.40h0.98v2.48h-0.98zM52.99 50.93h0.98v2.48h-0.98zM52.99 58.29h0.98v2.48h-0.98zM52.99 65.64h0.98v2.48h-0.98zM53.94 28.86h0.98v4.93h-0.98zM53.94 46.02h0.98v2.48h-0.98zM53.94 55.83h0.98v4.93h-0.98zM54.89 70.55h0.98v2.48h-0.98zM54.89 75.45h0.98v0.98h-0.98zM55.83 23.95h0.98v2.48h-0.98zM55.83 43.57h0.98v4.93h-0.98zM56.78 60.74h0.98v2.48h-0.98zM56.78 65.64h0.98v4.93h-0.98zM57.73 33.76h0.98v2.48h-0.98zM57.73 41.12h0.98v2.48h-0.98zM57.73 50.93h0.98v2.48h-0.98zM57.73 55.83h0.98v2.48h-0.98zM57.73 70.55h0.98v2.48h-0.98zM58.67 31.31h0.98v2.48h-0.98zM58.67 58.29h0.98v2.48h-0.98zM58.67 63.19h0.98v2.48h-0.98zM58.67 75.45h0.98v0.98h-0.98zM59.62 28.86h0.98v2.48h-0.98zM59.62 33.76h0.98v2.48h-0.98zM59.62 48.48h0.98v2.48h-0.98zM60.56 53.38h0.98v2.48h-0.98zM60.56 63.19h0.98v2.48h-0.98zM60.56 70.55h0.98v4.93h-0.98zM61.51 41.12h0.98v2.48h-0.98zM61.51 48.48h0.98v2.48h-0.98zM61.51 68.09h0.98v2.48h-0.98zM62.46 65.64h0.98v2.48h-0.98zM62.46 70.55h0.98v2.48h-0.98zM62.46 75.45h0.98v0.98h-0.98zM63.40 31.31h0.98v2.48h-0.98zM64.35 46.02h0.98v2.48h-0.98zM64.35 58.29h0.98v2.48h-0.98zM64.35 68.09h0.98v2.48h-0.98zM65.30 23.95h0.98v2.48h-0.98zM65.30 31.31h0.98v2.48h-0.98zM66.24 24.95h0.98v2.48h-0.98zM66.24 34.76h0.98v2.48h-0.98zM66.24 39.67h0.98v2.48h-0.98zM66.24 47.02h0.98v2.48h-0.98zM66.24 51.93h0.98v9.84h-0.98zM67.19 37.21h0.98v2.48h-0.98zM68.14 29.86h0.98v4.93h-0.98zM68.14 44.57h0.98v2.48h-0.98zM68.14 56.83h0.98v2.48h-0.98zM69.08 34.76h0.98v2.48h-0.98zM69.08 44.57h0.98v2.48h-0.98zM70.03 27.40h0.98v2.48h-0.98zM70.03 32.31h0.98v2.48h-0.98zM70.03 42.12h0.98v12.29h-0.98zM70.03 61.74h0.98v2.48h-0.98zM70.97 32.31h0.98v2.48h-0.98zM70.97 37.21h0.98v4.93h-0.98zM71.92 42.12h0.98v2.48h-0.98zM71.92 49.48h0.98v2.48h-0.98zM71.92 56.83h0.98v4.93h-0.98zM72.87 34.76h0.98v4.93h-0.98zM73.81 34.76h0.98v4.93h-0.98zM73.81 42.12h0.98v2.48h-0.98zM73.81 49.48h0.98v2.48h-0.98zM75.71 27.40h0.98v12.29h-0.98zM75.71 54.38h0.98v2.48h-0.98zM77.60 43.62h0.98v4.93h-0.98zM79.49 48.52h0.98v2.48h-0.98zM81.38 43.62h0.98v2.48h-0.98zM83.28 46.07h0.98v2.48h-0.98zM84.9 71.5h0.95v0.94h-0.95zM88.3 71.7h0.95v0.94h-0.95zM97.8 69.6h0.95v0.94h-0.95z"/>
<path fill="#ff6300" d="M1.89 36.97h0.98v2.48h-0.98zM1.89 41.87h0.98v2.48h-0.98zM2.84 27.16h0.98v2.48h-0.98zM2.84 34.51h0.98v2.48h-0.98zM3.79 39.42h0.98v2.48h-0.98zM4.73 41.87h0.98v2.48h-0.98zM5.68 36.97h0.98v2.48h-0.98zM5.68 41.87h0.98v4.93h-0.98zM5.68 71.30h0.98v2.48h-0.98zM6.62 22.25h0.98v2.48h-0.98zM6.62 39.42h0.98v2.48h-0.98zM7.57 22.25h0.98v2.48h-0.98zM8.52 39.42h0.98v2.48h-0.98zM9.46 27.16h0.98v2.48h-0.98zM9.46 39.42h0.98v7.39h-0.98zM10.41 36.97h0.98v7.39h-0.98zM11.36 34.51h0.98v9.84h-0.98zM12.30 63.69h0.98v2.48h-0.98zM13.25 22.00h0.98v2.48h-0.98zM13.25 51.43h0.98v2.48h-0.98zM14.19 36.71h0.98v2.48h-0.98zM14.19 44.07h0.98v2.48h-0.98zM14.19 73.50h0.98v2.48h-0.98zM15.14 41.62h0.98v2.48h-0.98zM17.03 65.14h0.98v4.93h-0.98zM17.98 38.17h0.98v7.39h-0.98zM18.93 62.69h0.98v2.48h-0.98zM18.93 67.59h0.98v7.39h-0.98zM19.87 38.17h0.98v2.48h-0.98zM20.82 55.33h0.98v2.48h-0.98zM20.82 65.14h0.98v4.93h-0.98zM20.82 72.50h0.98v2.48h-0.98zM21.77 40.62h0.98v2.48h-0.98zM22.71 70.05h0.98v2.48h-0.98zM23.66 45.52h0.98v2.48h-0.98zM24.60 70.05h0.98v2.48h-0.98zM26.50 65.14h0.98v2.48h-0.98zM26.50 74.95h0.98v1.48h-0.98zM27.44 35.71h0.98v2.48h-0.98zM27.44 40.62h0.98v2.48h-0.98zM28.39 74.95h0.98v1.48h-0.98zM29.34 38.17h0.98v2.48h-0.98zM29.34 45.52h0.98v4.93h-0.98zM30.28 62.69h0.98v2.48h-0.98zM30.28 67.59h0.98v7.39h-0.98zM31.23 40.62h0.98v4.93h-0.98zM32.17 63.24h0.98v2.48h-0.98zM32.17 68.14h0.98v2.48h-0.98zM32.17 73.05h0.98v2.48h-0.98zM33.12 36.26h0.98v2.48h-0.98zM33.12 46.07h0.98v2.48h-0.98zM34.07 63.24h0.98v2.48h-0.98zM34.07 68.14h0.98v2.48h-0.98zM34.07 73.05h0.98v3.38h-0.98zM35.96 55.88h0.98v2.48h-0.98zM35.96 65.69h0.98v4.93h-0.98zM35.96 73.05h0.98v2.48h-0.98zM37.85 65.69h0.98v2.48h-0.98zM37.85 73.05h0.98v2.48h-0.98zM38.80 33.81h0.98v2.48h-0.98zM38.80 41.17h0.98v2.48h-0.98zM38.80 46.07h0.98v2.48h-0.98zM39.75 75.50h0.98v0.93h-0.98zM41.64 68.14h0.98v2.48h-0.98zM42.58 41.17h0.98v2.48h-0.98zM43.53 58.33h0.98v7.39h-0.98zM43.53 73.05h0.98v2.48h-0.98zM44.48 38.71h0.98v4.93h-0.98zM45.42 68.14h0.98v2.48h-0.98zM50.15 65.64h0.98v2.48h-0.98zM52.05 53.38h0.98v2.48h-0.98zM52.05 63.19h0.98v2.48h-0.98zM52.05 68.09h0.98v2.48h-0.98zM52.05 73.00h0.98v2.48h-0.98zM53.94 75.45h0.98v0.98h-0.98zM55.83 60.74h0.98v2.48h-0.98zM55.83 73.00h0.98v2.48h-0.98zM57.73 75.45h0.98v0.98h-0.98zM59.62 50.93h0.98v2.48h-0.98zM61.51 55.83h0.98v2.48h-0.98zM61.51 65.64h0.98v2.48h-0.98zM61.51 75.45h0.98v0.98h-0.98zM65.30 48.48h0.98v4.93h-0.98zM65.30 63.19h0.98v9.84h-0.98zM66.24 42.12h0.98v2.48h-0.98zM67.19 42.12h0.98v4.93h-0.98zM72.87 42.12h0.98v2.48h-0.98zM75.71 42.12h0.98v2.48h-0.98z"/>
<path fill="#ff8400" d="M1.89 39.42h0.98v2.48h-0.98zM2.84 36.97h0.98v4.93h-0.98zM3.79 22.25h0.98v2.48h-0.98zM3.79 34.51h0.98v4.93h-0.98zM4.73 29.61h0.98v2.48h-0.98zM4.73 36.97h0.98v4.93h-0.98zM5.68 27.16h0.98v2.48h-0.98zM5.68 34.51h0.98v2.48h-0.98zM6.62 34.51h0.98v2.48h-0.98zM7.57 27.16h0.98v2.48h-0.98zM7.57 34.51h0.98v2.48h-0.98zM7.57 39.42h0.98v2.48h-0.98zM8.52 22.25h0.98v2.48h-0.98zM8.52 36.97h0.98v2.48h-0.98zM9.46 22.25h0.98v2.48h-0.98zM9.46 36.97h0.98v2.48h-0.98zM10.41 32.06h0.98v2.48h-0.98zM11.36 27.16h0.98v2.48h-0.98zM12.30 44.07h0.98v2.48h-0.98zM12.30 58.79h0.98v2.48h-0.98zM13.25 53.88h0.98v2.48h-0.98zM14.19 24.45h0.98v2.48h-0.98zM14.19 46.52h0.98v2.48h-0.98zM14.19 61.24h0.98v4.93h-0.98zM14.19 75.95h0.98v0.48h-0.98zM15.14 22.00h0.98v2.48h-0.98zM16.09 35.71h0.98v2.48h-0.98zM17.03 70.05h0.98v6.38h-0.98zM17.98 33.26h0.98v2.48h-0.98zM17.98 45.52h0.98v2.48h-0.98zM18.93 60.24h0.98v2.48h-0.98zM19.87 35.71h0.98v2.48h-0.98zM20.82 57.79h0.98v2.48h-0.98zM20.82 62.69h0.98v2.48h-0.98zM21.77 33.26h0.98v2.48h-0.98zM21.77 38.17h0.98v2.48h-0.98zM22.71 57.79h0.98v2.48h-0.98zM22.71 65.14h0.98v4.93h-0.98zM24.60 40.62h0.98v2.48h-0.98zM24.60 62.69h0.98v4.93h-0.98zM24.60 72.50h0.98v2.48h-0.98zM25.55 35.71h0.98v2.48h-0.98zM26.50 55.33h0.98v9.84h-0.98zM26.50 67.59h0.98v4.93h-0.98zM27.44 28.36h0.98v2.48h-0.98zM27.44 33.26h0.98v2.48h-0.98zM28.39 62.69h0.98v2.48h-0.98zM28.39 67.59h0.98v4.93h-0.98zM29.34 35.71h0.98v2.48h-0.98zM29.34 40.62h0.98v2.48h-0.98zM30.28 25.90h0.98v2.48h-0.98zM30.28 60.24h0.98v2.48h-0.98zM31.23 33.26h0.98v4.93h-0.98zM32.17 43.62h0.98v2.48h-0.98zM32.17 53.43h0.98v2.48h-0.98zM32.17 70.59h0.98v2.48h-0.98zM34.07 58.33h0.98v4.93h-0.98zM34.07 70.59h0.98v2.48h-0.98zM35.01 38.71h0.98v2.48h-0.98zM35.96 60.79h0.98v4.93h-0.98zM35.96 75.50h0.98v0.93h-0.98zM36.91 38.71h0.98v2.48h-0.98zM37.85 55.88h0.98v2.48h-0.98zM37.85 68.14h0.98v2.48h-0.98zM38.80 38.71h0.98v2.48h-0.98zM39.75 63.24h0.98v7.39h-0.98zM40.69 33.81h0.98v2.48h-0.98zM41.64 63.24h0.98v2.48h-0.98zM41.64 70.59h0.98v2.48h-0.98zM42.58 43.62h0.98v2.48h-0.98zM43.53 65.69h0.98v2.48h-0.98zM44.48 36.26h0.98v2.48h-0.98zM45.42 55.88h0.98v2.48h-0.98zM45.42 65.69h0.98v2.48h-0.98zM45.42 73.05h0.98v2.48h-0.98zM46.37 33.81h0.98v9.84h-0.98zM50.15 43.57h0.98v2.48h-0.98zM50.15 48.48h0.98v2.48h-0.98zM50.15 55.83h0.98v4.93h-0.98zM50.15 68.09h0.98v2.48h-0.98zM50.15 75.45h0.98v0.98h-0.98zM52.05 38.67h0.98v2.48h-0.98zM52.05 43.57h0.98v2.48h-0.98zM52.05 48.48h0.98v2.48h-0.98zM52.05 60.74h0.98v2.48h-0.98zM52.05 65.64h0.98v2.48h-0.98zM52.05 75.45h0.98v0.98h-0.98zM53.94 26.40h0.98v2.48h-0.98zM53.94 33.76h0.98v2.48h-0.98zM53.94 43.57h0.98v2.48h-0.98zM53.94 48.48h0.98v2.48h-0.98zM53.94 53.38h0.98v2.48h-0.98zM53.94 63.19h0.98v2.48h-0.98zM53.94 68.09h0.98v4.93h-0.98zM55.83 41.12h0.98v2.48h-0.98zM55.83 53.38h0.98v2.48h-0.98zM55.83 58.29h0.98v2.48h-0.98zM55.83 63.19h0.98v2.48h-0.98zM57.73 46.02h0.98v4.93h-0.98zM57.73 53.38h0.98v2.48h-0.98zM57.73 65.64h0.98v4.93h-0.98zM59.62 41.12h0.98v2.48h-0.98zM59.62 46.02h0.98v2.48h-0.98zM59.62 55.83h0.98v9.84h-0.98zM59.62 70.55h0.98v2.48h-0.98zM59.62 75.45h0.98v0.98h-0.98zM61.51 46.02h0.98v2.48h-0.98zM61.51 58.29h0.98v4.93h-0.98zM61.51 70.55h0.98v4.93h-0.98zM63.40 41.12h0.98v7.39h-0.98zM63.40 50.93h0.98v7.39h-0.98zM63.40 65.64h0.98v2.48h-0.98zM63.40 70.55h0.98v2.48h-0.98zM63.40 75.45h0.98v0.98h-0.98zM65.30 36.21h0.98v2.48h-0.98zM65.30 53.38h0.98v4.93h-0.98zM65.30 73.00h0.98v2.48h-0.98zM68.14 39.67h0.98v4.93h-0.98zM69.08 42.12h0.98v2.48h-0.98zM70.03 29.86h0.98v2.48h-0.98zM70.03 34.76h0.98v2.48h-0.98zM70.03 39.67h0.98v2.48h-0.98zM70.97 42.12h0.98v4.93h-0.98zM71.92 37.21h0.98v2.48h-0.98zM71.92 44.57h0.98v4.93h-0.98zM73.81 32.31h0.98v2.48h-0.98zM73.81 39.67h0.98v2.48h-0.98zM73.81 44.57h0.98v4.93h-0.98zM73.81 56.83h0.98v2.48h-0.98zM74.76 47.02h0.98v2.48h-0.98zM75.71 39.67h0.98v2.48h-0.98zM75.71 44.57h0.98v2.48h-0.98zM77.60 48.52h0.98v2.48h-0.98zM83.28 48.52h0.98v2.48h-0.98z"/>
<path fill="#ff4200" d="M1.89 44.32h0.98v4.93h-0.98zM2.84 41.87h0.98v7.39h-0.98zM3.79 44.32h0.98v2.48h-0.98zM4.73 44.32h0.98v2.48h-0.98zM5.68 39.42h0.98v2.48h-0.98zM6.62 41.87h0.98v4.93h-0.98zM7.57 41.87h0.98v7.39h-0.98zM8.52 41.87h0.98v4.93h-0.98zM10.41 44.32h0.98v2.48h-0.98zM11.36 44.32h0.98v4.93h-0.98zM13.25 31.81h0.98v2.48h-0.98zM15.14 71.05h0.98v2.48h-0.98zM16.09 38.17h0.98v2.48h-0.98zM16.09 47.98h0.98v2.48h-0.98zM16.09 60.24h0.98v4.93h-0.98zM17.98 50.43h0.98v2.48h-0.98zM19.87 40.62h0.98v2.48h-0.98zM21.77 43.07h0.98v9.84h-0.98zM22.71 62.69h0.98v2.48h-0.98zM22.71 72.50h0.98v2.48h-0.98zM23.66 38.17h0.98v7.39h-0.98zM25.55 40.62h0.98v2.48h-0.98zM25.55 74.95h0.98v1.48h-0.98zM27.44 38.17h0.98v2.48h-0.98zM29.34 43.07h0.98v2.48h-0.98zM29.34 50.43h0.98v4.93h-0.98zM29.34 65.14h0.98v2.48h-0.98zM32.17 65.69h0.98v2.48h-0.98zM32.17 75.50h0.98v0.93h-0.98zM33.12 38.71h0.98v2.48h-0.98zM33.12 43.62h0.98v2.48h-0.98zM35.01 41.17h0.98v4.93h-0.98zM35.01 50.98h0.98v2.48h-0.98zM35.01 60.79h0.98v2.48h-0.98zM35.96 70.59h0.98v2.48h-0.98zM36.91 41.17h0.98v4.93h-0.98zM37.85 70.59h0.98v2.48h-0.98zM40.69 38.71h0.98v4.93h-0.98zM40.69 55.88h0.98v2.48h-0.98zM41.64 65.69h0.98v2.48h-0.98zM41.64 75.50h0.98v0.93h-0.98zM43.53 75.50h0.98v0.93h-0.98zM44.48 48.52h0.98v9.84h-0.98zM45.42 70.59h0.98v2.48h-0.98zM45.42 75.50h0.98v0.93h-0.98zM46.37 43.62h0.98v4.93h-0.98zM52.05 58.29h0.98v2.48h-0.98zM52.05 70.55h0.98v2.48h-0.98zM53.94 65.64h0.98v2.48h-0.98zM53.94 73.00h0.98v2.48h-0.98zM55.83 68.09h0.98v2.48h-0.98zM55.83 75.45h0.98v0.98h-0.98zM57.73 63.19h0.98v2.48h-0.98zM57.73 73.00h0.98v2.48h-0.98zM59.62 65.64h0.98v2.48h-0.98zM63.40 73.00h0.98v2.48h-0.98zM65.30 46.02h0.98v2.48h-0.98zM65.30 75.45h0.98v0.98h-0.98zM68.14 47.02h0.98v2.48h-0.98z"/>
<path fill="#ff2100" d="M1.89 49.23h0.98v2.48h-0.98zM2.84 49.23h0.98v4.93h-0.98zM3.79 41.87h0.98v2.48h-0.98zM3.79 46.78h0.98v2.48h-0.98zM3.79 51.68h0.98v2.48h-0.98zM4.73 46.78h0.98v2.48h-0.98zM4.73 51.68h0.98v4.93h-0.98zM5.68 49.23h0.98v4.93h-0.98zM6.62 46.78h0.98v2.48h-0.98zM6.62 73.75h0.98v2.48h-0.98zM7.57 49.23h0.98v4.93h-0.98zM8.52 46.78h0.98v2.48h-0.98zM9.46 49.23h0.98v2.48h-0.98zM9.46 56.59h0.98v2.48h-0.98zM10.41 46.78h0.98v2.48h-0.98zM11.36 49.23h0.98v4.93h-0.98zM16.09 40.62h0.98v4.93h-0.98zM16.09 50.43h0.98v2.48h-0.98zM16.09 74.95h0.98v1.48h-0.98zM17.98 47.98h0.98v2.48h-0.98zM17.98 52.88h0.98v2.48h-0.98zM17.98 57.79h0.98v2.48h-0.98zM19.87 45.52h0.98v2.48h-0.98zM19.87 50.43h0.98v2.48h-0.98zM19.87 57.79h0.98v2.48h-0.98zM19.87 65.14h0.98v2.48h-0.98zM20.82 74.95h0.98v1.48h-0.98zM21.77 57.79h0.98v2.48h-0.98zM21.77 65.14h0.98v2.48h-0.98zM23.66 47.98h0.98v4.93h-0.98zM23.66 60.24h0.98v4.93h-0.98zM24.60 74.95h0.98v1.48h-0.98zM25.55 43.07h0.98v7.39h-0.98zM25.55 52.88h0.98v4.93h-0.98zM27.44 43.07h0.98v9.84h-0.98zM28.39 72.50h0.98v2.48h-0.98zM29.34 55.33h0.98v2.48h-0.98zM29.34 62.69h0.98v2.48h-0.98zM29.34 70.05h0.98v4.93h-0.98zM31.23 52.88h0.98v2.48h-0.98zM31.23 60.24h0.98v2.48h-0.98zM31.23 74.95h0.98v1.48h-0.98zM33.12 48.52h0.98v4.93h-0.98zM33.12 55.88h0.98v2.48h-0.98zM33.12 73.05h0.98v2.48h-0.98zM35.01 48.52h0.98v2.48h-0.98zM35.01 55.88h0.98v2.48h-0.98zM36.91 48.52h0.98v7.39h-0.98zM36.91 70.59h0.98v2.48h-0.98zM38.80 43.62h0.98v2.48h-0.98zM38.80 58.33h0.98v2.48h-0.98zM38.80 75.50h0.98v0.93h-0.98zM40.69 46.07h0.98v7.39h-0.98zM42.58 50.98h0.98v2.48h-0.98zM42.58 68.14h0.98v2.48h-0.98zM44.48 43.62h0.98v2.48h-0.98zM46.37 48.52h0.98v9.84h-0.98zM59.62 68.09h0.98v2.48h-0.98zM65.30 58.29h0.98v2.48h-0.98z"/>
<path fill="#bf0000" d="M1.89 51.68h0.98v2.48h-0.98zM1.89 61.49h0.98v4.93h-0.98zM2.84 56.59h0.98v4.93h-0.98zM2.84 66.39h0.98v2.48h-0.98zM3.79 56.59h0.98v2.48h-0.98zM3.79 66.39h0.98v2.48h-0.98zM4.73 56.59h0.98v7.39h-0.98zM5.68 46.78h0.98v2.48h-0.98zM5.68 56.59h0.98v2.48h-0.98zM5.68 63.94h0.98v2.48h-0.98zM6.62 49.23h0.98v9.84h-0.98zM6.62 61.49h0.98v2.48h-0.98zM6.62 66.39h0.98v2.48h-0.98zM7.57 54.13h0.98v9.84h-0.98zM8.52 51.68h0.98v4.93h-0.98zM8.52 59.04h0.98v2.48h-0.98zM8.52 63.94h0.98v2.48h-0.98zM9.46 61.49h0.98v4.93h-0.98zM10.41 54.13h0.98v2.48h-0.98zM10.41 59.04h0.98v9.84h-0.98zM11.36 61.49h0.98v2.48h-0.98zM16.09 52.88h0.98v2.48h-0.98zM16.09 65.14h0.98v9.84h-0.98zM17.98 65.14h0.98v2.48h-0.98zM17.98 74.95h0.98v1.48h-0.98zM19.87 55.33h0.98v2.48h-0.98zM19.87 74.95h0.98v1.48h-0.98zM21.77 55.33h0.98v2.48h-0.98zM21.77 72.50h0.98v3.93h-0.98zM23.66 57.79h0.98v2.48h-0.98zM23.66 67.59h0.98v2.48h-0.98zM23.66 72.50h0.98v2.48h-0.98zM25.55 60.24h0.98v4.93h-0.98zM25.55 67.59h0.98v4.93h-0.98zM27.44 55.33h0.98v4.93h-0.98zM27.44 65.14h0.98v2.48h-0.98zM27.44 72.50h0.98v3.93h-0.98zM29.34 60.24h0.98v2.48h-0.98zM31.23 57.79h0.98v2.48h-0.98zM31.23 65.14h0.98v9.84h-0.98zM33.12 53.43h0.98v2.48h-0.98zM33.12 60.79h0.98v7.39h-0.98zM35.01 65.69h0.98v2.48h-0.98zM35.01 70.59h0.98v2.48h-0.98zM35.01 75.50h0.98v0.93h-0.98zM36.91 58.33h0.98v2.48h-0.98zM38.80 70.59h0.98v4.93h-0.98zM40.69 63.24h0.98v2.48h-0.98zM40.69 68.14h0.98v2.48h-0.98zM40.69 73.05h0.98v2.48h-0.98zM42.58 75.50h0.98v0.93h-0.98zM44.48 58.33h0.98v2.48h-0.98zM44.48 63.24h0.98v2.48h-0.98zM44.48 70.59h0.98v2.48h-0.98zM44.48 75.50h0.98v0.93h-0.98zM46.37 60.79h0.98v2.48h-0.98zM46.37 65.69h0.98v7.39h-0.98z"/>
<path fill="#e80000" d="M1.89 54.13h0.98v7.39h-0.98zM2.84 54.13h0.98v2.48h-0.98zM3.79 49.23h0.98v2.48h-0.98zM3.79 54.13h0.98v2.48h-0.98zM4.73 49.23h0.98v2.48h-0.98zM4.73 63.94h0.98v2.48h-0.98zM5.68 54.13h0.98v2.48h-0.98zM8.52 49.23h0.98v2.48h-0.98zM8.52 56.59h0.98v2.48h-0.98zM9.46 46.78h0.98v2.48h-0.98zM9.46 51.68h0.98v4.93h-0.98zM10.41 49.23h0.98v4.93h-0.98zM11.36 54.13h0.98v4.93h-0.98zM16.09 45.52h0.98v2.48h-0.98zM16.09 55.33h0.98v4.93h-0.98zM17.98 55.33h0.98v2.48h-0.98zM17.98 60.24h0.98v4.93h-0.98zM17.98 70.05h0.98v2.48h-0.98zM18.93 74.95h0.98v1.48h-0.98zM19.87 43.07h0.98v2.48h-0.98zM19.87 47.98h0.98v2.48h-0.98zM19.87 52.88h0.98v2.48h-0.98zM19.87 62.69h0.98v2.48h-0.98zM19.87 72.50h0.98v2.48h-0.98zM21.77 52.88h0.98v2.48h-0.98zM21.77 60.24h0.98v2.48h-0.98zM21.77 67.59h0.98v4.93h-0.98zM23.66 52.88h0.98v2.48h-0.98zM23.66 74.95h0.98v1.48h-0.98zM25.55 50.43h0.98v2.48h-0.98zM25.55 57.79h0.98v2.48h-0.98zM25.55 65.14h0.98v2.48h-0.98zM25.55 72.50h0.98v2.48h-0.98zM27.44 52.88h0.98v2.48h-0.98zM27.44 62.69h0.98v2.48h-0.98zM27.44 67.59h0.98v2.48h-0.98zM29.34 67.59h0.98v2.48h-0.98zM31.23 45.52h0.98v7.39h-0.98zM31.23 55.33h0.98v2.48h-0.98zM31.23 62.69h0.98v2.48h-0.98zM33.12 41.17h0.98v2.48h-0.98zM33.12 58.33h0.98v2.48h-0.98zM35.01 46.07h0.98v2.48h-0.98zM35.01 53.43h0.98v2.48h-0.98zM35.01 58.33h0.98v2.48h-0.98zM35.01 63.24h0.98v2.48h-0.98zM35.01 68.14h0.98v2.48h-0.98zM36.91 46.07h0.98v2.48h-0.98zM36.91 55.88h0.98v2.48h-0.98zM36.91 60.79h0.98v7.39h-0.98zM36.91 73.05h0.98v2.48h-0.98zM37.85 75.50h0.98v0.93h-0.98zM38.80 48.52h0.98v9.84h-0.98zM38.80 60.79h0.98v4.93h-0.98zM40.69 43.62h0.98v2.48h-0.98zM40.69 53.43h0.98v2.48h-0.98zM40.69 58.33h0.98v4.93h-0.98zM40.69 65.69h0.98v2.48h-0.98zM42.58 46.07h0.98v4.93h-0.98zM42.58 53.43h0.98v14.74h-0.98zM42.58 70.59h0.98v4.93h-0.98zM44.48 46.07h0.98v2.48h-0.98zM44.48 68.14h0.98v2.48h-0.98zM46.37 58.33h0.98v2.48h-0.98zM46.37 63.24h0.98v2.48h-0.98zM46.37 73.05h0.98v2.48h-0.98z"/>
<path fill="#970000" d="M1.89 66.39h0.98v2.48h-0.98zM2.84 61.49h0.98v2.48h-0.98zM3.79 59.04h0.98v2.48h-0.98zM3.79 63.94h0.98v2.48h-0.98zM5.68 59.04h0.98v4.93h-0.98zM5.68 66.39h0.98v2.48h-0.98zM6.62 59.04h0.98v2.48h-0.98zM6.62 63.94h0.98v2.48h-0.98zM7.57 63.94h0.98v2.48h-0.98zM8.52 61.49h0.98v2.48h-0.98zM8.52 66.39h0.98v2.48h-0.98zM9.46 59.04h0.98v2.48h-0.98zM9.46 66.39h0.98v2.48h-0.98zM10.41 56.59h0.98v2.48h-0.98zM11.36 59.04h0.98v2.48h-0.98zM11.36 63.94h0.98v2.48h-0.98zM17.98 67.59h0.98v2.48h-0.98zM17.98 72.50h0.98v2.48h-0.98zM19.87 60.24h0.98v2.48h-0.98zM19.87 67.59h0.98v2.48h-0.98zM21.77 62.69h0.98v2.48h-0.98zM23.66 55.33h0.98v2.48h-0.98zM23.66 65.14h0.98v2.48h-0.98zM23.66 70.05h0.98v2.48h-0.98zM27.44 70.05h0.98v2.48h-0.98zM29.34 57.79h0.98v2.48h-0.98zM29.34 74.95h0.98v1.48h-0.98zM33.12 68.14h0.98v4.93h-0.98zM33.12 75.50h0.98v0.93h-0.98zM35.01 73.05h0.98v2.48h-0.98zM36.91 68.14h0.98v2.48h-0.98zM36.91 75.50h0.98v0.93h-0.98zM38.80 65.69h0.98v4.93h-0.98zM40.69 75.50h0.98v0.93h-0.98zM44.48 60.79h0.98v2.48h-0.98zM44.48 65.69h0.98v2.48h-0.98zM44.48 73.05h0.98v2.48h-0.98zM46.37 75.50h0.98v0.93h-0.98z"/>
<path fill="#009eff" d="M1.89 68.85h0.98v2.48h-0.98zM10.41 24.70h0.98v2.48h-0.98zM10.41 68.85h0.98v2.48h-0.98zM13.25 39.17h0.98v2.48h-0.98zM13.25 58.79h0.98v2.48h-0.98zM14.19 22.00h0.98v2.48h-0.98zM15.14 34.26h0.98v2.48h-0.98zM15.14 66.14h0.98v2.48h-0.98zM68.14 74.00h0.98v2.43h-0.98zM69.08 74.00h0.98v2.43h-0.98zM70.97 71.55h0.98v2.48h-0.98zM71.92 74.00h0.98v2.43h-0.98zM72.87 22.50h0.98v2.48h-0.98zM74.76 74.00h0.98v2.43h-0.98zM76.65 33.81h0.98v9.84h-0.98zM76.65 53.43h0.98v4.93h-0.98zM77.60 28.90h0.98v2.48h-0.98zM77.60 63.24h0.98v2.48h-0.98zM77.60 73.05h0.98v2.48h-0.98zM78.54 33.81h0.98v2.48h-0.98zM78.54 43.62h0.98v4.93h-0.98zM78.54 60.79h0.98v2.48h-0.98zM79.49 24.00h0.98v4.93h-0.98zM79.49 70.59h0.98v2.48h-0.98zM81.38 68.14h0.98v7.39h-0.98zM82.33 63.24h0.98v4.93h-0.98zM83.28 26.45h0.98v2.48h-0.98zM84.22 36.26h0.98v2.48h-0.98zM84.22 43.62h0.98v4.93h-0.98zM84.22 55.88h0.98v4.93h-0.98z"/>
<path fill="#adff4a" d="M1.89 71.30h0.98v2.48h-0.98zM1.89 76.20h0.98v0.23h-0.98zM2.84 71.30h0.98v2.48h-0.98zM17.98 25.90h0.98v2.48h-0.98zM19.87 28.36h0.98v2.48h-0.98zM20.82 25.90h0.98v2.48h-0.98zM21.77 25.90h0.98v4.93h-0.98zM22.71 30.81h0.98v2.48h-0.98zM25.55 25.90h0.98v2.48h-0.98zM26.50 23.45h0.98v2.48h-0.98zM36.91 24.00h0.98v2.48h-0.98zM40.69 24.00h0.98v2.48h-0.98zM42.58 26.45h0.98v2.48h-0.98zM45.42 26.45h0.98v2.48h-0.98zM52.99 26.40h0.98v2.48h-0.98zM54.89 26.40h0.98v2.48h-0.98zM58.67 23.95h0.98v2.48h-0.98zM58.67 36.21h0.98v2.48h-0.98zM64.35 26.40h0.98v2.48h-0.98zM66.24 64.19h0.98v2.48h-0.98zM67.19 54.38h0.98v4.93h-0.98zM69.08 32.31h0.98v2.48h-0.98zM69.08 37.21h0.98v2.48h-0.98zM69.08 51.93h0.98v2.48h-0.98zM70.97 29.86h0.98v2.48h-0.98zM70.97 47.02h0.98v2.48h-0.98zM70.97 54.38h0.98v2.48h-0.98zM71.92 24.95h0.98v2.48h-0.98zM71.92 64.19h0.98v2.48h-0.98zM74.76 27.40h0.98v2.48h-0.98zM74.76 44.57h0.98v2.48h-0.98zM75.71 64.19h0.98v2.48h-0.98zM79.49 31.36h0.98v2.48h-0.98zM79.49 41.17h0.98v2.48h-0.98zM79.49 53.43h0.98v2.48h-0.98zM81.38 53.43h0.98v2.48h-0.98zM83.28 41.17h0.98v2.48h-0.98zM83.28 58.33h0.98v2.48h-0.98z"/>
<path fill="#007aff" d="M2.84 19.80h0.98v2.48h-0.98zM2.84 24.70h0.98v2.48h-0.98zM3.79 19.80h0.98v2.48h-0.98zM4.73 19.80h0.98v2.48h-0.98zM4.73 24.70h0.98v2.48h-0.98zM5.68 24.70h0.98v2.48h-0.98zM7.57 24.70h0.98v2.48h-0.98zM8.52 24.70h0.98v2.48h-0.98zM9.46 19.80h0.98v2.48h-0.98zM9.46 68.85h0.98v2.48h-0.98zM12.30 22.00h0.98v2.48h-0.98zM12.30 66.14h0.98v2.48h-0.98zM13.25 24.45h0.98v2.48h-0.98zM13.25 44.07h0.98v4.93h-0.98zM13.25 63.69h0.98v2.48h-0.98zM14.19 31.81h0.98v2.48h-0.98zM14.19 41.62h0.98v2.48h-0.98zM14.19 66.14h0.98v2.48h-0.98zM15.14 39.17h0.98v2.48h-0.98zM15.14 46.52h0.98v2.48h-0.98zM67.19 71.55h0.98v2.48h-0.98zM69.08 71.55h0.98v2.48h-0.98zM76.65 48.52h0.98v2.48h-0.98zM76.65 68.14h0.98v2.48h-0.98zM77.60 68.14h0.98v2.48h-0.98zM78.54 36.26h0.98v2.48h-0.98zM80.44 36.26h0.98v4.93h-0.98zM80.44 55.88h0.98v2.48h-0.98zM80.44 60.79h0.98v2.48h-0.98zM81.38 65.69h0.98v2.48h-0.98zM81.38 75.50h0.98v0.93h-0.98zM82.33 33.81h0.98v2.48h-0.98zM82.33 50.98h0.98v2.48h-0.98zM82.33 55.88h0.98v2.48h-0.98zM82.33 68.14h0.98v4.93h-0.98zM84.22 26.45h0.98v4.93h-0.98zM84.22 33.81h0.98v2.48h-0.98zM84.22 38.71h0.98v4.93h-0.98zM84.22 65.69h0.98v2.48h-0.98z"/>
<path fill="#800000" d="M2.84 63.94h0.98v2.48h-0.98zM3.79 61.49h0.98v2.48h-0.98zM4.73 66.39h0.98v2.48h-0.98zM7.57 66.39h0.98v2.48h-0.98zM11.36 66.39h0.98v2.48h-0.98zM19.87 70.05h0.98v2.48h-0.98zM27.44 60.24h0.98v2.48h-0.98zM40.69 70.59h0.98v2.48h-0.98z"/>
<path fill="#73ff84" d="M2.84 73.75h0.98v2.68h-0.98zM3.79 73.75h0.98v2.48h-0.98zM4.73 71.30h0.98v2.48h-0.98zM17.03 21.00h0.98v2.48h-0.98zM17.98 23.45h0.98v2.48h-0.98zM18.93 21.00h0.98v2.48h-0.98zM21.77 23.45h0.98v2.48h-0.98zM23.66 23.45h0.98v2.48h-0.98zM24.60 21.00h0.98v2.48h-0.98zM27.44 23.45h0.98v2.48h-0.98zM33.12 24.00h0.98v2.48h-0.98zM35.01 24.00h0.98v2.48h-0.98zM52.05 21.50h0.98v2.48h-0.98zM54.89 21.50h0.98v2.48h-0.98zM64.35 21.50h0.98v2.48h-0.98zM65.30 21.50h0.98v2.48h-0.98zM67.19 24.95h0.98v2.48h-0.98zM67.19 29.86h0.98v2.48h-0.98zM67.19 66.64h0.98v2.48h-0.98zM70.03 66.64h0.98v2.48h-0.98zM70.97 61.74h0.98v2.48h-0.98zM73.81 66.64h0.98v2.48h-0.98zM74.76 59.29h0.98v2.48h-0.98zM77.60 55.88h0.98v2.48h-0.98zM79.49 36.26h0.98v2.48h-0.98zM81.38 31.36h0.98v4.93h-0.98zM83.28 33.81h0.98v2.48h-0.98zM83.28 53.43h0.98v2.48h-0.98z"/>
<path fill="#3affbd" d="M8.52 73.75h0.98v2.48h-0.98zM19.87 21.00h0.98v2.48h-0.98zM21.77 21.00h0.98v2.48h-0.98zM31.23 21.00h0.98v2.48h-0.98zM44.48 24.00h0.98v2.48h-0.98zM55.83 21.50h0.98v2.48h-0.98zM56.78 21.50h0.98v2.48h-0.98zM59.62 21.50h0.98v2.48h-0.98zM60.56 21.50h0.98v2.48h-0.98zM62.46 21.50h0.98v2.48h-0.98zM66.24 69.09h0.98v2.48h-0.98zM69.08 59.29h0.98v4.93h-0.98zM70.03 22.50h0.98v2.48h-0.98zM70.97 24.95h0.98v4.93h-0.98zM71.92 66.64h0.98v2.48h-0.98zM72.87 24.95h0.98v4.93h-0.98zM73.81 69.09h0.98v2.48h-0.98zM74.76 24.95h0.98v2.48h-0.98zM74.76 64.19h0.98v4.93h-0.98zM75.71 22.50h0.98v2.48h-0.98zM77.60 31.36h0.98v2.48h-0.98zM77.60 36.26h0.98v2.48h-0.98zM77.60 58.33h0.98v2.48h-0.98zM79.49 60.79h0.98v2.48h-0.98zM80.44 48.52h0.98v2.48h-0.98zM81.38 58.33h0.98v4.93h-0.98zM83.28 55.88h0.98v2.48h-0.98zM83.28 65.69h0.98v2.48h-0.98z"/>
<path fill="#e6ff10" d="M12.30 53.88h0.98v2.48h-0.98zM17.03 30.81h0.98v4.93h-0.98zM17.03 62.69h0.98v2.48h-0.98zM18.93 23.45h0.98v2.48h-0.98zM18.93 40.62h0.98v2.48h-0.98zM20.82 21.00h0.98v4.93h-0.98zM20.82 28.36h0.98v2.48h-0.98zM20.82 45.52h0.98v2.48h-0.98zM22.71 23.45h0.98v2.48h-0.98zM24.60 30.81h0.98v4.93h-0.98zM25.55 28.36h0.98v2.48h-0.98zM26.50 25.90h0.98v2.48h-0.98zM26.50 30.81h0.98v2.48h-0.98zM28.39 33.26h0.98v2.48h-0.98zM28.39 52.88h0.98v2.48h-0.98zM29.34 28.36h0.98v2.48h-0.98zM30.28 23.45h0.98v2.48h-0.98zM30.28 38.17h0.98v2.48h-0.98zM30.28 47.98h0.98v2.48h-0.98zM32.17 26.45h0.98v2.48h-0.98zM32.17 33.81h0.98v2.48h-0.98zM32.17 41.17h0.98v2.48h-0.98zM33.12 26.45h0.98v2.48h-0.98zM34.07 24.00h0.98v7.39h-0.98zM35.96 26.45h0.98v4.93h-0.98zM37.85 26.45h0.98v2.48h-0.98zM37.85 38.71h0.98v2.48h-0.98zM39.75 46.07h0.98v2.48h-0.98zM41.64 26.45h0.98v2.48h-0.98zM41.64 33.81h0.98v4.93h-0.98zM43.53 28.90h0.98v4.93h-0.98zM45.42 24.00h0.98v2.48h-0.98zM45.42 31.36h0.98v4.93h-0.98zM45.42 38.71h0.98v2.48h-0.98zM46.37 28.90h0.98v2.48h-0.98zM51.10 23.95h0.98v2.48h-0.98zM51.10 36.21h0.98v2.48h-0.98zM51.10 55.83h0.98v2.48h-0.98zM52.05 23.95h0.98v2.48h-0.98zM52.05 31.31h0.98v2.48h-0.98zM52.99 23.95h0.98v2.48h-0.98zM52.99 36.21h0.98v2.48h-0.98zM52.99 43.57h0.98v4.93h-0.98zM52.99 68.09h0.98v2.48h-0.98zM54.89 23.95h0.98v2.48h-0.98zM54.89 36.21h0.98v9.84h-0.98zM54.89 58.29h0.98v4.93h-0.98zM54.89 65.64h0.98v2.48h-0.98zM56.78 31.31h0.98v2.48h-0.98zM56.78 36.21h0.98v2.48h-0.98zM56.78 48.48h0.98v2.48h-0.98zM56.78 75.45h0.98v0.98h-0.98zM57.73 28.86h0.98v2.48h-0.98zM57.73 38.67h0.98v2.48h-0.98zM58.67 33.76h0.98v2.48h-0.98zM58.67 46.02h0.98v4.93h-0.98zM58.67 53.38h0.98v2.48h-0.98zM58.67 60.74h0.98v2.48h-0.98zM60.56 23.95h0.98v4.93h-0.98zM60.56 31.31h0.98v12.29h-0.98zM60.56 46.02h0.98v4.93h-0.98zM60.56 58.29h0.98v2.48h-0.98zM60.56 65.64h0.98v2.48h-0.98zM60.56 75.45h0.98v0.98h-0.98zM61.51 26.40h0.98v2.48h-0.98zM61.51 31.31h0.98v2.48h-0.98zM62.46 23.95h0.98v4.93h-0.98zM62.46 31.31h0.98v9.84h-0.98zM62.46 43.57h0.98v7.39h-0.98zM62.46 68.09h0.98v2.48h-0.98zM62.46 73.00h0.98v2.48h-0.98zM63.40 26.40h0.98v4.93h-0.98zM63.40 36.21h0.98v4.93h-0.98zM64.35 31.31h0.98v2.48h-0.98zM64.35 41.12h0.98v2.48h-0.98zM64.35 50.93h0.98v2.48h-0.98zM64.35 55.83h0.98v2.48h-0.98zM64.35 63.19h0.98v2.48h-0.98zM65.30 43.57h0.98v2.48h-0.98zM66.24 32.31h0.98v2.48h-0.98zM66.24 61.74h0.98v2.48h-0.98zM67.19 32.31h0.98v4.93h-0.98zM67.19 39.67h0.98v2.48h-0.98zM67.19 51.93h0.98v2.48h-0.98zM68.14 61.74h0.98v2.48h-0.98zM69.08 47.02h0.98v2.48h-0.98zM70.03 24.95h0.98v2.48h-0.98zM70.03 64.19h0.98v2.48h-0.98zM70.97 34.76h0.98v2.48h-0.98zM70.97 49.48h0.98v4.93h-0.98zM71.92 51.93h0.98v2.48h-0.98zM72.87 51.93h0.98v2.48h-0.98zM74.76 29.86h0.98v2.48h-0.98zM74.76 34.76h0.98v2.48h-0.98z"/>
<path fill="#0000a8" d="M84.22 73.05h0.98v2.48h-0.98z"/>
<path fill="#ceff29" d="M93.7 66.8h0.95v0.94h-0.95zM93.9 69.4h0.95v0.94h-0.95zM97.3 72.9h0.95v0.94h-0.95zM94.6 68.8h0.95v0.94h-0.95zM88.9 68.0h0.95v0.94h-0.95zM85.8 65.4h0.95v0.94h-0.95zM86.6 73.9h0.95v0.94h-0.95z"/>
<path fill="#00b3ff" d="M88.8 65.6h0.95v0.94h-0.95z"/>
<path fill="#52ffa5" d="M90.1 70.0h0.95v0.94h-0.95zM92.9 74.5h0.95v0.94h-0.95zM91.7 66.1h0.95v0.94h-0.95z"/>
<polygon points="0,35.5 1.8,35.5 1.8,19.6 46.6,19.6 46.6,24 86,24 86,76.4 0,76.4" fill="url(#grid3)"/>
<rect x="46.8" y="19" width="2.6" height="58" fill="#101010"/>
<rect x="47.3" y="19.5" width="1.6" height="1.5" fill="#ffffff"/>
<rect x="47.3" y="22.5" width="1.6" height="1.5" fill="#f4e4d8"/>
<rect x="47.3" y="25.5" width="1.6" height="1.5" fill="#ffffff"/>
<rect x="47.3" y="28.5" width="1.6" height="1.5" fill="#f4e4d8"/>
<rect x="47.3" y="31.5" width="1.6" height="1.5" fill="#ffffff"/>
<rect x="47.3" y="34.5" width="1.6" height="1.5" fill="#f4e4d8"/>
<rect x="47.3" y="37.5" width="1.6" height="1.5" fill="#ffffff"/>
<rect x="47.3" y="40.5" width="1.6" height="1.5" fill="#f4e4d8"/>
<rect x="47.3" y="43.5" width="1.6" height="1.5" fill="#ffffff"/>
<rect x="47.3" y="46.5" width="1.6" height="1.5" fill="#f4e4d8"/>
<rect x="47.3" y="49.5" width="1.6" height="1.5" fill="#ffffff"/>
<rect x="47.3" y="52.5" width="1.6" height="1.5" fill="#f4e4d8"/>
<rect x="47.3" y="55.5" width="1.6" height="1.5" fill="#ffffff"/>
<rect x="47.3" y="58.5" width="1.6" height="1.5" fill="#f4e4d8"/>
<rect x="47.3" y="61.5" width="1.6" height="1.5" fill="#ffffff"/>
<rect x="47.3" y="64.5" width="1.6" height="1.5" fill="#f4e4d8"/>
<rect x="47.3" y="67.5" width="1.6" height="1.5" fill="#ffffff"/>
<rect x="47.3" y="70.5" width="1.6" height="1.5" fill="#f4e4d8"/>
<rect x="47.3" y="73.5" width="1.6" height="1.5" fill="#ffffff"/>
<rect x="103.10000000000001" y="17.099999999999998" width="1.2" height="1.2" fill="#e8e8f0"/>
<rect x="93.5" y="34.5" width="1.2" height="1.2" fill="#e8e8f0"/>
<rect x="104.9" y="44.9" width="1.2" height="1.2" fill="#e8e8f0"/>
<rect x="10.1" y="50.4" width="1.2" height="1.2" fill="#e8e8f0"/>
<rect x="38.9" y="26.4" width="1.2" height="1.2" fill="#e8e8f0"/>
</g></g>
<rect x="242.0" y="409.0" width="109.3" height="76.4" fill="none" stroke="#222" stroke-width="0.6"/>
<g stroke="#222" stroke-width="0.7">
<line x1="242.5" y1="485.4" x2="242.5" y2="487.9"/>
<line x1="261.4" y1="485.4" x2="261.4" y2="487.9"/>
<line x1="280.3" y1="485.4" x2="280.3" y2="487.9"/>
<line x1="299.3" y1="485.4" x2="299.3" y2="487.9"/>
<line x1="318.2" y1="485.4" x2="318.2" y2="487.9"/>
<line x1="337.1" y1="485.4" x2="337.1" y2="487.9"/>
<line x1="239.5" y1="409.5" x2="242.0" y2="409.5"/>
<line x1="239.5" y1="418.9" x2="242.0" y2="418.9"/>
<line x1="239.5" y1="428.3" x2="242.0" y2="428.3"/>
<line x1="239.5" y1="437.8" x2="242.0" y2="437.8"/>
<line x1="239.5" y1="447.2" x2="242.0" y2="447.2"/>
<line x1="239.5" y1="456.6" x2="242.0" y2="456.6"/>
<line x1="239.5" y1="466.1" x2="242.0" y2="466.1"/>
<line x1="239.5" y1="475.5" x2="242.0" y2="475.5"/>
</g>
<text x="242.5" y="494.6" text-anchor="middle" font-size="8.1">0</text>
<text x="261.4" y="494.6" text-anchor="middle" font-size="8.1">20</text>
<text x="280.3" y="494.6" text-anchor="middle" font-size="8.1">40</text>
<text x="299.3" y="494.6" text-anchor="middle" font-size="8.1">60</text>
<text x="318.2" y="494.6" text-anchor="middle" font-size="8.1">80</text>
<text x="337.1" y="494.6" text-anchor="middle" font-size="8.1">100</text>
<text x="237.7" y="412.4" text-anchor="end" font-size="8.1">0</text>
<text x="237.7" y="421.8" text-anchor="end" font-size="8.1">10</text>
<text x="237.7" y="431.2" text-anchor="end" font-size="8.1">20</text>
<text x="237.7" y="440.7" text-anchor="end" font-size="8.1">30</text>
<text x="237.7" y="450.1" text-anchor="end" font-size="8.1">40</text>
<text x="237.7" y="459.5" text-anchor="end" font-size="8.1">50</text>
<text x="237.7" y="469.0" text-anchor="end" font-size="8.1">60</text>
<text x="237.7" y="478.4" text-anchor="end" font-size="8.1">70</text>
<text x="296.6" y="504.6" text-anchor="middle" font-size="8.1">x position (px)</text>
<text transform="translate(219.0 443.6) rotate(-90)" text-anchor="middle" font-size="8.1">y position (px)</text>
<text x="347.3" y="406.0" text-anchor="end" font-size="7.2">Fe distribution</text>
<clipPath id="cin3"><rect x="0.00" y="0.00" width="166.4" height="75.3"/></clipPath>
<g transform="translate(533 409)"><g clip-path="url(#cin3)">
<rect width="166.4" height="75.3" fill="#000088"/>
<polygon points="0,0 0,-6 96,-6 96,0 96.6,6.6 99.3,13.3 105.3,18.6 105.3,22.6 110,30.6 120.6,38.6 130,43.9 135.3,51.9 136.6,55.9 134,62.7 131.3,68 128.6,75.3 128.6,81.3 0,81.3 0,75.3 -6,75.3 -6,0" fill="none" stroke="#1838d0" stroke-width="7" stroke-opacity="0.55" filter="url(#b2)"/>
<polygon points="0,0 0,-6 96,-6 96,0 96.6,6.6 99.3,13.3 105.3,18.6 105.3,22.6 110,30.6 120.6,38.6 130,43.9 135.3,51.9 136.6,55.9 134,62.7 131.3,68 128.6,75.3 128.6,81.3 0,81.3 0,75.3 -6,75.3 -6,0" fill="none" stroke="#1a6ae0" stroke-width="4.6" stroke-linejoin="round" filter="url(#b04)"/>
<polygon points="0,0 0,-6 96,-6 96,0 96.6,6.6 99.3,13.3 105.3,18.6 105.3,22.6 110,30.6 120.6,38.6 130,43.9 135.3,51.9 136.6,55.9 134,62.7 131.3,68 128.6,75.3 128.6,81.3 0,81.3 0,75.3 -6,75.3 -6,0" fill="none" stroke="#30c0d0" stroke-width="3.0" stroke-linejoin="round"/>
<polygon points="0,0 0,-6 96,-6 96,0 96.6,6.6 99.3,13.3 105.3,18.6 105.3,22.6 110,30.6 120.6,38.6 130,43.9 135.3,51.9 136.6,55.9 134,62.7 131.3,68 128.6,75.3 128.6,81.3 0,81.3 0,75.3 -6,75.3 -6,0" fill="none" stroke="#b0cc48" stroke-width="1.6" stroke-linejoin="round"/>
<polygon points="0,0 0,-6 96,-6 96,0 96.6,6.6 99.3,13.3 105.3,18.6 105.3,22.6 110,30.6 120.6,38.6 130,43.9 135.3,51.9 136.6,55.9 134,62.7 131.3,68 128.6,75.3 128.6,81.3 0,81.3 0,75.3 -6,75.3 -6,0" fill="#8a2a40"/>
<clipPath id="ci4"><polygon points="0,0 0,-6 96,-6 96,0 96.6,6.6 99.3,13.3 105.3,18.6 105.3,22.6 110,30.6 120.6,38.6 130,43.9 135.3,51.9 136.6,55.9 134,62.7 131.3,68 128.6,75.3 128.6,81.3 0,81.3 0,75.3 -6,75.3 -6,0"/></clipPath>
<g clip-path="url(#ci4)">
<linearGradient id="g4tl" x1="0" y1="0" x2="1" y2="0"><stop offset="0" stop-color="#901c36"/><stop offset="0.5" stop-color="#94263a"/><stop offset="1" stop-color="#9c543c"/></linearGradient>
<rect x="0" y="0" width="84" height="38.1" fill="url(#g4tl)"/>
<ellipse cx="72" cy="14" rx="18" ry="11" fill="#a0703c" fill-opacity="0.55" filter="url(#b4)"/>
<rect x="0" y="38.1" width="84" height="37.2" fill="#6c1c4e"/>
<ellipse cx="60" cy="50" rx="22" ry="8" fill="#74284c" fill-opacity="0.6" filter="url(#b4)"/>
<ellipse cx="14" cy="51.5" rx="8" ry="3.8" fill="#2e0c48" fill-opacity="0.95" filter="url(#b1)"/>
<polygon points="0,75.3 0,58.5 8,57 22,55.5 33,58.5 44,66 50,72 53,75.3" fill="#6c7452" filter="url(#b1)"/>
<rect x="84" y="0" width="30" height="38.1" fill="#7a3a48"/>
<ellipse cx="92" cy="30" rx="8" ry="7" fill="#6a5050" fill-opacity="0.6" filter="url(#b2)"/>
<rect x="84" y="38.1" width="60" height="37.2" fill="#9a7440"/>
<ellipse cx="112" cy="58" rx="14" ry="10" fill="#a08a40" fill-opacity="0.6" filter="url(#b2)"/>
<rect width="166.4" height="75.3" filter="url(#camo4)" opacity="0.45"/>
<rect width="166.4" height="75.3" filter="url(#camoR)" opacity="0.35"/>
<polygon points="0,0 0,-6 96,-6 96,0 96.6,6.6 99.3,13.3 105.3,18.6 105.3,22.6 110,30.6 120.6,38.6 130,43.9 135.3,51.9 136.6,55.9 134,62.7 131.3,68 128.6,75.3 128.6,81.3 0,81.3 0,75.3 -6,75.3 -6,0" fill="none" stroke="#8aa050" stroke-width="3.4" stroke-opacity="0.8" filter="url(#b06)"/>
</g>
<linearGradient id="g4c" x1="0" y1="0" x2="1" y2="0"><stop offset="0" stop-color="#40a8d0" stop-opacity="0"/><stop offset="0.35" stop-color="#40a8d0" stop-opacity="0.7"/><stop offset="1" stop-color="#50b8e0" stop-opacity="0.9"/></linearGradient>
<polygon points="90,20.5 105.3,22.6 110,30.6 120.6,38.6 130,43.9 131,45.5 120,41 104,28 89,22" fill="url(#g4c)" filter="url(#b06)"/>
<ellipse cx="128" cy="41.5" rx="2.6" ry="1" fill="#50b0e8" fill-opacity="0.9" filter="url(#b04)"/>
<ellipse cx="1.2" cy="25.9" rx="3.3" ry="3.0" fill="#3aa0c8" fill-opacity="1" filter="url(#b06)"/><ellipse cx="1.2" cy="25.9" rx="2.3" ry="2.0" fill="#000096" fill-opacity="1"/>
<path d="M29.3 27.2 L30.3 22 Q31 20.6 33.9 20.6 Q36.8 20.6 37.5 22 L38.5 27.2 Z" fill="#40b0b8" filter="url(#b04)"/>
<path d="M30.8 26.2 L31.6 22.6 Q32.2 21.8 33.9 21.8 Q35.6 21.8 36.2 22.6 L37 26.2 Z" fill="#0a30d0"/>
<ellipse cx="87.3" cy="57" rx="10.3" ry="6.0" fill="#3aa0c8" fill-opacity="1" filter="url(#b06)"/><ellipse cx="87.3" cy="57" rx="9.3" ry="5" fill="#000096" fill-opacity="1"/>
<polygon points="32.3,26.4 32.86,28.03 34.58,28.06 33.2,29.09 33.71,30.74 32.3,29.75 30.89,30.74 31.4,29.09 30.02,28.06 31.74,28.03" fill="#fff"/>
<polygon points="38.71,26.4 39.27,28.03 40.99,28.06 39.61,29.09 40.12,30.74 38.71,29.75 37.3,30.74 37.81,29.09 36.43,28.06 38.15,28.03" fill="#fff"/>
<polygon points="45.12,26.4 45.68,28.03 47.4,28.06 46.02,29.09 46.53,30.74 45.12,29.75 43.71,30.74 44.22,29.09 42.84,28.06 44.56,28.03" fill="#fff"/>
<polygon points="51.53,26.4 52.09,28.03 53.81,28.06 52.43,29.09 52.94,30.74 51.53,29.75 50.12,30.74 50.63,29.09 49.25,28.06 50.97,28.03" fill="#fff"/>
<polygon points="57.94,26.4 58.5,28.03 60.22,28.06 58.84,29.09 59.35,30.74 57.94,29.75 56.53,30.74 57.04,29.09 55.66,28.06 57.38,28.03" fill="#fff"/>
<polygon points="64.35,26.4 64.91,28.03 66.63,28.06 65.25,29.09 65.76,30.74 64.35,29.75 62.94,30.74 63.45,29.09 62.07,28.06 63.79,28.03" fill="#fff"/>
<polygon points="70.76,26.4 71.32,28.03 73.04,28.06 71.66,29.09 72.17,30.74 70.76,29.75 69.35,30.74 69.86,29.09 68.48,28.06 70.2,28.03" fill="#fff"/>
<polygon points="77.17,26.4 77.73,28.03 79.45,28.06 78.07,29.09 78.58,30.74 77.17,29.75 75.76,30.74 76.27,29.09 74.89,28.06 76.61,28.03" fill="#fff"/>
<polygon points="83.58,26.4 84.14,28.03 85.86,28.06 84.48,29.09 84.99,30.74 83.58,29.75 82.17,30.74 82.68,29.09 81.3,28.06 83.02,28.03" fill="#fff"/>
<polygon points="89.99,26.4 90.55,28.03 92.27,28.06 90.89,29.09 91.4,30.74 89.99,29.75 88.58,30.74 89.09,29.09 87.71,28.06 89.43,28.03" fill="#fff"/>
<polygon points="96.4,26.4 96.96,28.03 98.68,28.06 97.3,29.09 97.81,30.74 96.4,29.75 94.99,30.74 95.5,29.09 94.12,28.06 95.84,28.03" fill="#fff"/>
</g></g>
<rect x="533.0" y="409.0" width="166.4" height="75.3" fill="none" stroke="#222" stroke-width="0.6"/>
<g stroke="#222" stroke-width="0.7">
<line x1="533.3" y1="484.3" x2="533.3" y2="486.8"/>
<line x1="564.7" y1="484.3" x2="564.7" y2="486.8"/>
<line x1="596.1" y1="484.3" x2="596.1" y2="486.8"/>
<line x1="627.5" y1="484.3" x2="627.5" y2="486.8"/>
<line x1="658.9" y1="484.3" x2="658.9" y2="486.8"/>
<line x1="690.3" y1="484.3" x2="690.3" y2="486.8"/>
<line x1="530.5" y1="409.3" x2="533.0" y2="409.3"/>
<line x1="530.5" y1="421.9" x2="533.0" y2="421.9"/>
<line x1="530.5" y1="434.4" x2="533.0" y2="434.4"/>
<line x1="530.5" y1="447.0" x2="533.0" y2="447.0"/>
<line x1="530.5" y1="459.5" x2="533.0" y2="459.5"/>
<line x1="530.5" y1="472.1" x2="533.0" y2="472.1"/>
</g>
<text x="533.3" y="494.7" text-anchor="middle" font-size="8.1">0</text>
<text x="564.7" y="494.7" text-anchor="middle" font-size="8.1">50</text>
<text x="596.1" y="494.7" text-anchor="middle" font-size="8.1">100</text>
<text x="627.5" y="494.7" text-anchor="middle" font-size="8.1">150</text>
<text x="658.9" y="494.7" text-anchor="middle" font-size="8.1">200</text>
<text x="690.3" y="494.7" text-anchor="middle" font-size="8.1">250</text>
<text x="528.7" y="412.2" text-anchor="end" font-size="8.1">0</text>
<text x="528.7" y="424.8" text-anchor="end" font-size="8.1">20</text>
<text x="528.7" y="437.3" text-anchor="end" font-size="8.1">40</text>
<text x="528.7" y="449.9" text-anchor="end" font-size="8.1">60</text>
<text x="528.7" y="462.4" text-anchor="end" font-size="8.1">80</text>
<text x="528.7" y="475.0" text-anchor="end" font-size="8.1">100</text>
<text x="616.2" y="504.7" text-anchor="middle" font-size="8.1">x position (px)</text>
<text transform="translate(510.3 443.6) rotate(-90)" text-anchor="middle" font-size="8.1">y position (px)</text>
<text x="693.4" y="406.0" text-anchor="end" font-size="7.2">Fe distribution</text>
<clipPath id="cin4"><rect x="0.00" y="0.00" width="123.9" height="75.8"/></clipPath>
<g transform="translate(227 558)"><g clip-path="url(#cin4)">
<rect width="123.9" height="75.8" fill="#000088"/>
<polygon points="0,0 0,-6 17.6,-6 17.6,0 18.8,5.8 23.7,8.3 29.8,8.9 37.1,10.1 43.2,9.5 49.3,11.3 56.6,11.9 62.9,13.8 72,13.6 82.3,14.4 87.2,16.8 92,20.5 94.5,25.4 96.9,31.5 93.3,35.1 89.6,37.6 85.9,38.6 70,39.5 50,40.2 37.1,41.1 37.1,49.6 43.2,50.9 49.3,57 52.9,54.6 62.9,53.3 75,53.5 82,55 88.4,60.7 92,64.4 89.6,68.1 82.3,71.7 76.2,75.8 76.2,81.8 0,81.8 0,75.8 -6,75.8 -6,0" fill="none" stroke="#1a6ae0" stroke-width="4.6" stroke-linejoin="round" filter="url(#b04)"/>
<polygon points="0,0 0,-6 17.6,-6 17.6,0 18.8,5.8 23.7,8.3 29.8,8.9 37.1,10.1 43.2,9.5 49.3,11.3 56.6,11.9 62.9,13.8 72,13.6 82.3,14.4 87.2,16.8 92,20.5 94.5,25.4 96.9,31.5 93.3,35.1 89.6,37.6 85.9,38.6 70,39.5 50,40.2 37.1,41.1 37.1,49.6 43.2,50.9 49.3,57 52.9,54.6 62.9,53.3 75,53.5 82,55 88.4,60.7 92,64.4 89.6,68.1 82.3,71.7 76.2,75.8 76.2,81.8 0,81.8 0,75.8 -6,75.8 -6,0" fill="none" stroke="#30c0d0" stroke-width="3.0" stroke-linejoin="round"/>
<polygon points="0,0 0,-6 17.6,-6 17.6,0 18.8,5.8 23.7,8.3 29.8,8.9 37.1,10.1 43.2,9.5 49.3,11.3 56.6,11.9 62.9,13.8 72,13.6 82.3,14.4 87.2,16.8 92,20.5 94.5,25.4 96.9,31.5 93.3,35.1 89.6,37.6 85.9,38.6 70,39.5 50,40.2 37.1,41.1 37.1,49.6 43.2,50.9 49.3,57 52.9,54.6 62.9,53.3 75,53.5 82,55 88.4,60.7 92,64.4 89.6,68.1 82.3,71.7 76.2,75.8 76.2,81.8 0,81.8 0,75.8 -6,75.8 -6,0" fill="none" stroke="#b0cc48" stroke-width="1.6" stroke-linejoin="round"/>
<polygon points="0,0 0,-6 17.6,-6 17.6,0 18.8,5.8 23.7,8.3 29.8,8.9 37.1,10.1 43.2,9.5 49.3,11.3 56.6,11.9 62.9,13.8 72,13.6 82.3,14.4 87.2,16.8 92,20.5 94.5,25.4 96.9,31.5 93.3,35.1 89.6,37.6 85.9,38.6 70,39.5 50,40.2 37.1,41.1 37.1,49.6 43.2,50.9 49.3,57 52.9,54.6 62.9,53.3 75,53.5 82,55 88.4,60.7 92,64.4 89.6,68.1 82.3,71.7 76.2,75.8 76.2,81.8 0,81.8 0,75.8 -6,75.8 -6,0" fill="#7e1c40"/>
<clipPath id="ci5"><polygon points="0,0 0,-6 17.6,-6 17.6,0 18.8,5.8 23.7,8.3 29.8,8.9 37.1,10.1 43.2,9.5 49.3,11.3 56.6,11.9 62.9,13.8 72,13.6 82.3,14.4 87.2,16.8 92,20.5 94.5,25.4 96.9,31.5 93.3,35.1 89.6,37.6 85.9,38.6 70,39.5 50,40.2 37.1,41.1 37.1,49.6 43.2,50.9 49.3,57 52.9,54.6 62.9,53.3 75,53.5 82,55 88.4,60.7 92,64.4 89.6,68.1 82.3,71.7 76.2,75.8 76.2,81.8 0,81.8 0,75.8 -6,75.8 -6,0"/></clipPath>
<g clip-path="url(#ci5)">
<rect width="123.9" height="75.8" filter="url(#camo)"/>
<rect width="123.9" height="75.8" filter="url(#camoD)" opacity="0.7"/>
<ellipse cx="75" cy="64" rx="15" ry="8" fill="#5a9a78" fill-opacity="0.75" filter="url(#b2)"/>
<ellipse cx="15" cy="68" rx="14" ry="7" fill="#6a8a60" fill-opacity="0.45" filter="url(#b2)"/>
<ellipse cx="22" cy="66" rx="12" ry="6" fill="#6a6a48" fill-opacity="0.5" filter="url(#b2)"/>
<polygon points="0,0 0,-6 17.6,-6 17.6,0 18.8,5.8 23.7,8.3 29.8,8.9 37.1,10.1 43.2,9.5 49.3,11.3 56.6,11.9 62.9,13.8 72,13.6 82.3,14.4 87.2,16.8 92,20.5 94.5,25.4 96.9,31.5 93.3,35.1 89.6,37.6 85.9,38.6 70,39.5 50,40.2 37.1,41.1 37.1,49.6 43.2,50.9 49.3,57 52.9,54.6 62.9,53.3 75,53.5 82,55 88.4,60.7 92,64.4 89.6,68.1 82.3,71.7 76.2,75.8 76.2,81.8 0,81.8 0,75.8 -6,75.8 -6,0" fill="none" stroke="#6a9a66" stroke-width="5" stroke-opacity="0.75" filter="url(#b1)"/>
</g>
<ellipse cx="2" cy="55" rx="6.2" ry="4.2" fill="#3aa0c8" fill-opacity="1" filter="url(#b06)"/><ellipse cx="2" cy="55" rx="5.2" ry="3.2" fill="#000096" fill-opacity="1"/>
<ellipse cx="38.3" cy="70.4" rx="5.3" ry="3.4" fill="#3aa0c8" fill-opacity="1" filter="url(#b06)"/><ellipse cx="38.3" cy="70.4" rx="4.3" ry="2.4" fill="#000096" fill-opacity="1"/>
<ellipse cx="86" cy="43" rx="4.5" ry="1.8" fill="#b04a40" fill-opacity="0.9" filter="url(#b04)"/>
<ellipse cx="72" cy="50.4" rx="4.5" ry="1.8" fill="#60b090" fill-opacity="0.9" filter="url(#b04)"/>
<ellipse cx="86" cy="50.5" rx="6" ry="2.8" fill="#60a070" fill-opacity="0.9" filter="url(#b06)"/>
<ellipse cx="86.5" cy="22" rx="5" ry="3" fill="#70a070" fill-opacity="0.3" filter="url(#b1)"/>
<line x1="0" y1="39.3" x2="37" y2="39.3" stroke="#1a2aa8" stroke-width="0.8"/>
<line x1="86" y1="39.599999999999994" x2="123.9" y2="39.599999999999994" stroke="#b03a30" stroke-width="0.7" stroke-dasharray="1.6,1"/>
<line x1="0" y1="45.4" x2="37" y2="45.4" stroke="#1a2aa8" stroke-width="0.8"/>
<line x1="86" y1="45.699999999999996" x2="123.9" y2="45.699999999999996" stroke="#b03a30" stroke-width="0.7" stroke-dasharray="1.6,1"/>
<line x1="0" y1="59.4" x2="37" y2="59.4" stroke="#1a2aa8" stroke-width="0.8"/>
<line x1="86" y1="59.699999999999996" x2="123.9" y2="59.699999999999996" stroke="#b03a30" stroke-width="0.7" stroke-dasharray="1.6,1"/>
<line x1="0" y1="4.6" x2="17.6" y2="4.6" stroke="#1a2aa8" stroke-width="0.8"/>
<line x1="105.5" y1="4.6" x2="123.9" y2="4.6" stroke="#c08040" stroke-width="0.7" stroke-dasharray="1.6,1"/>
<ellipse cx="84.5" cy="21.1" rx="1.6" ry="1.6" fill="#fff" fill-opacity="1"/>
<ellipse cx="84.5" cy="29.4" rx="1.6" ry="1.6" fill="#fff" fill-opacity="1"/>
<ellipse cx="84.5" cy="35.5" rx="1.6" ry="1.6" fill="#fff" fill-opacity="1"/>
<ellipse cx="84.5" cy="42.2" rx="1.6" ry="1.6" fill="#fff" fill-opacity="1"/>
<ellipse cx="84.5" cy="48.5" rx="1.6" ry="1.6" fill="#fff" fill-opacity="1"/>
<ellipse cx="84.5" cy="61.3" rx="1.6" ry="1.6" fill="#fff" fill-opacity="1"/>
<ellipse cx="29.3" cy="32.9" rx="1.15" ry="1.15" fill="#fff" fill-opacity="1"/>
<ellipse cx="35.7" cy="32.9" rx="1.15" ry="1.15" fill="#fff" fill-opacity="1"/>
<ellipse cx="42.1" cy="32.9" rx="1.15" ry="1.15" fill="#fff" fill-opacity="1"/>
<ellipse cx="48.5" cy="32.9" rx="1.15" ry="1.15" fill="#fff" fill-opacity="1"/>
<ellipse cx="54.9" cy="32.9" rx="1.15" ry="1.15" fill="#fff" fill-opacity="1"/>
<ellipse cx="61.3" cy="32.9" rx="1.15" ry="1.15" fill="#fff" fill-opacity="1"/>
<ellipse cx="67.7" cy="32.9" rx="1.15" ry="1.15" fill="#fff" fill-opacity="1"/>
<ellipse cx="74.1" cy="32.9" rx="1.15" ry="1.15" fill="#fff" fill-opacity="1"/>
<ellipse cx="80.5" cy="32.9" rx="1.15" ry="1.15" fill="#fff" fill-opacity="1"/>
<ellipse cx="86.9" cy="32.9" rx="1.15" ry="1.15" fill="#fff" fill-opacity="1"/>
<ellipse cx="93.3" cy="32.9" rx="1.15" ry="1.15" fill="#fff" fill-opacity="1"/>
</g></g>
<rect x="227.0" y="558.0" width="123.9" height="75.8" fill="none" stroke="#222" stroke-width="0.6"/>
<g stroke="#222" stroke-width="0.7">
<line x1="227.3" y1="633.8" x2="227.3" y2="636.3"/>
<line x1="259.4" y1="633.8" x2="259.4" y2="636.3"/>
<line x1="291.5" y1="633.8" x2="291.5" y2="636.3"/>
<line x1="323.6" y1="633.8" x2="323.6" y2="636.3"/>
<line x1="224.5" y1="558.3" x2="227.0" y2="558.3"/>
<line x1="224.5" y1="571.0" x2="227.0" y2="571.0"/>
<line x1="224.5" y1="583.7" x2="227.0" y2="583.7"/>
<line x1="224.5" y1="596.4" x2="227.0" y2="596.4"/>
<line x1="224.5" y1="609.1" x2="227.0" y2="609.1"/>
<line x1="224.5" y1="621.7" x2="227.0" y2="621.7"/>
</g>
<text x="227.3" y="643.4" text-anchor="middle" font-size="8.1">0</text>
<text x="259.4" y="643.4" text-anchor="middle" font-size="8.1">50</text>
<text x="291.5" y="643.4" text-anchor="middle" font-size="8.1">100</text>
<text x="323.6" y="643.4" text-anchor="middle" font-size="8.1">150</text>
<text x="222.7" y="561.2" text-anchor="end" font-size="8.1">0</text>
<text x="222.7" y="573.9" text-anchor="end" font-size="8.1">20</text>
<text x="222.7" y="586.6" text-anchor="end" font-size="8.1">40</text>
<text x="222.7" y="599.3" text-anchor="end" font-size="8.1">60</text>
<text x="222.7" y="612.0" text-anchor="end" font-size="8.1">80</text>
<text x="222.7" y="624.6" text-anchor="end" font-size="8.1">100</text>
<text x="288.9" y="653.0" text-anchor="middle" font-size="8.1">x position (px)</text>
<text transform="translate(204.0 592.0) rotate(-90)" text-anchor="middle" font-size="8.1">y position (px)</text>
<text x="347.4" y="555.0" text-anchor="end" font-size="7.2">Fe distribution</text>
<clipPath id="cin5"><rect x="0.00" y="0.00" width="192.4" height="65.5"/></clipPath>
<g transform="translate(507 565)"><g clip-path="url(#cin5)">
<rect width="192.4" height="65.5" fill="#000088"/>
<polygon points="0,20.9 72.4,0 72.4,-6 159.2,-6 159.2,0 161.4,6.4 163.6,13.8 165.8,21.2 166.6,28.6 165.1,36 160.6,41.9 154.7,46.3 147.4,50.7 141.4,55.2 137,59.6 131.1,65.5 131.1,71.5 0,71.5 0,65.5 -6,65.5 -6,20.9" fill="none" stroke="#1a6ae0" stroke-width="4.6" stroke-linejoin="round" filter="url(#b04)"/>
<polygon points="0,20.9 72.4,0 72.4,-6 159.2,-6 159.2,0 161.4,6.4 163.6,13.8 165.8,21.2 166.6,28.6 165.1,36 160.6,41.9 154.7,46.3 147.4,50.7 141.4,55.2 137,59.6 131.1,65.5 131.1,71.5 0,71.5 0,65.5 -6,65.5 -6,20.9" fill="none" stroke="#30c0d0" stroke-width="3.0" stroke-linejoin="round"/>
<polygon points="0,20.9 72.4,0 72.4,-6 159.2,-6 159.2,0 161.4,6.4 163.6,13.8 165.8,21.2 166.6,28.6 165.1,36 160.6,41.9 154.7,46.3 147.4,50.7 141.4,55.2 137,59.6 131.1,65.5 131.1,71.5 0,71.5 0,65.5 -6,65.5 -6,20.9" fill="none" stroke="#b0cc48" stroke-width="1.6" stroke-linejoin="round"/>
<polygon points="0,20.9 72.4,0 72.4,-6 159.2,-6 159.2,0 161.4,6.4 163.6,13.8 165.8,21.2 166.6,28.6 165.1,36 160.6,41.9 154.7,46.3 147.4,50.7 141.4,55.2 137,59.6 131.1,65.5 131.1,71.5 0,71.5 0,65.5 -6,65.5 -6,20.9" fill="#6a1846"/>
<clipPath id="ci6"><polygon points="0,20.9 72.4,0 72.4,-6 159.2,-6 159.2,0 161.4,6.4 163.6,13.8 165.8,21.2 166.6,28.6 165.1,36 160.6,41.9 154.7,46.3 147.4,50.7 141.4,55.2 137,59.6 131.1,65.5 131.1,71.5 0,71.5 0,65.5 -6,65.5 -6,20.9"/></clipPath>
<g clip-path="url(#ci6)">
<path fill="#71183b" d="M-6.55 -5.50h6.85v7.10h-6.85zM7.15 22.90h6.85v7.10h-6.85zM34.55 8.70h6.85v7.10h-6.85zM34.55 51.30h6.85v7.10h-6.85zM55.10 15.80h6.85v7.10h-6.85zM61.95 22.90h6.85v7.10h-6.85z"/>
<path fill="#581b57" d="M-6.55 1.60h6.85v7.10h-6.85zM7.15 30.00h6.85v7.10h-6.85zM61.95 44.20h6.85v7.10h-6.85zM82.50 22.90h6.85v7.10h-6.85z"/>
<path fill="#71173a" d="M-6.55 8.70h6.85v7.10h-6.85zM7.15 65.50h6.85v7.10h-6.85zM20.85 51.30h6.85v7.10h-6.85zM41.40 44.20h6.85v7.10h-6.85zM48.25 51.30h6.85v7.10h-6.85zM61.95 -5.50h6.85v7.10h-6.85zM68.80 30.00h6.85v7.10h-6.85zM75.65 8.70h6.85v7.10h-6.85z"/>
<path fill="#551a56" d="M-6.55 15.80h6.85v7.10h-6.85zM-6.55 44.20h6.85v7.10h-6.85zM0.30 37.10h6.85v7.10h-6.85zM7.15 44.20h6.85v7.10h-6.85zM7.15 58.40h6.85v7.10h-6.85zM14.00 22.90h6.85v7.10h-6.85zM14.00 51.30h6.85v7.10h-6.85zM27.70 22.90h6.85v7.10h-6.85zM27.70 65.50h6.85v7.10h-6.85zM34.55 30.00h6.85v7.10h-6.85zM41.40 -5.50h6.85v7.10h-6.85zM55.10 22.90h6.85v7.10h-6.85zM55.10 51.30h6.85v7.10h-6.85zM82.50 8.70h6.85v7.10h-6.85zM89.35 1.60h6.85v7.10h-6.85z"/>
<path fill="#70173a" d="M-6.55 22.90h6.85v7.10h-6.85zM14.00 30.00h6.85v7.10h-6.85zM20.85 22.90h6.85v7.10h-6.85zM20.85 37.10h6.85v7.10h-6.85zM20.85 65.50h6.85v7.10h-6.85zM41.40 58.40h6.85v7.10h-6.85zM61.95 8.70h6.85v7.10h-6.85zM61.95 37.10h6.85v7.10h-6.85zM61.95 65.50h6.85v7.10h-6.85zM75.65 65.50h6.85v7.10h-6.85zM89.35 -5.50h6.85v7.10h-6.85z"/>
<path fill="#5a1b58" d="M-6.55 30.00h6.85v7.10h-6.85zM20.85 44.20h6.85v7.10h-6.85zM68.80 -5.50h6.85v7.10h-6.85zM68.80 22.90h6.85v7.10h-6.85zM89.35 30.00h6.85v7.10h-6.85z"/>
<path fill="#6e1639" d="M-6.55 37.10h6.85v7.10h-6.85zM0.30 58.40h6.85v7.10h-6.85zM7.15 -5.50h6.85v7.10h-6.85zM7.15 37.10h6.85v7.10h-6.85zM34.55 37.10h6.85v7.10h-6.85zM82.50 15.80h6.85v7.10h-6.85z"/>
<path fill="#73193c" d="M-6.55 51.30h6.85v7.10h-6.85zM0.30 44.20h6.85v7.10h-6.85zM48.25 8.70h6.85v7.10h-6.85zM82.50 58.40h6.85v7.10h-6.85zM89.35 8.70h6.85v7.10h-6.85z"/>
<path fill="#581b58" d="M-6.55 58.40h6.85v7.10h-6.85zM0.30 -5.50h6.85v7.10h-6.85zM0.30 22.90h6.85v7.10h-6.85zM0.30 65.50h6.85v7.10h-6.85zM14.00 65.50h6.85v7.10h-6.85zM27.70 51.30h6.85v7.10h-6.85zM34.55 1.60h6.85v7.10h-6.85zM41.40 22.90h6.85v7.10h-6.85zM41.40 51.30h6.85v7.10h-6.85zM68.80 65.50h6.85v7.10h-6.85zM89.35 44.20h6.85v7.10h-6.85z"/>
<path fill="#6c1537" d="M-6.55 65.50h6.85v7.10h-6.85zM0.30 30.00h6.85v7.10h-6.85zM14.00 15.80h6.85v7.10h-6.85zM68.80 1.60h6.85v7.10h-6.85zM89.35 22.90h6.85v7.10h-6.85z"/>
<path fill="#74193c" d="M0.30 1.60h6.85v7.10h-6.85zM55.10 1.60h6.85v7.10h-6.85z"/>
<path fill="#551a57" d="M0.30 8.70h6.85v7.10h-6.85zM75.65 30.00h6.85v7.10h-6.85z"/>
<path fill="#72183b" d="M0.30 15.80h6.85v7.10h-6.85zM7.15 51.30h6.85v7.10h-6.85zM20.85 8.70h6.85v7.10h-6.85zM34.55 65.50h6.85v7.10h-6.85zM41.40 1.60h6.85v7.10h-6.85zM48.25 -5.50h6.85v7.10h-6.85zM68.80 15.80h6.85v7.10h-6.85zM75.65 51.30h6.85v7.10h-6.85zM96.20 30.00h6.85v7.10h-6.85z"/>
<path fill="#561a57" d="M0.30 51.30h6.85v7.10h-6.85zM14.00 8.70h6.85v7.10h-6.85zM14.00 37.10h6.85v7.10h-6.85zM20.85 1.60h6.85v7.10h-6.85zM20.85 15.80h6.85v7.10h-6.85zM27.70 -5.50h6.85v7.10h-6.85zM34.55 44.20h6.85v7.10h-6.85zM55.10 8.70h6.85v7.10h-6.85zM55.10 37.10h6.85v7.10h-6.85zM61.95 1.60h6.85v7.10h-6.85zM61.95 15.80h6.85v7.10h-6.85zM68.80 37.10h6.85v7.10h-6.85zM82.50 37.10h6.85v7.10h-6.85zM89.35 58.40h6.85v7.10h-6.85zM96.20 -5.50h6.85v7.10h-6.85zM96.20 37.10h6.85v7.10h-6.85zM96.20 65.50h6.85v7.10h-6.85z"/>
<path fill="#541a56" d="M7.15 1.60h6.85v7.10h-6.85zM20.85 30.00h6.85v7.10h-6.85zM20.85 58.40h6.85v7.10h-6.85zM27.70 8.70h6.85v7.10h-6.85zM41.40 8.70h6.85v7.10h-6.85zM48.25 1.60h6.85v7.10h-6.85zM48.25 58.40h6.85v7.10h-6.85zM61.95 30.00h6.85v7.10h-6.85zM75.65 1.60h6.85v7.10h-6.85zM75.65 44.20h6.85v7.10h-6.85zM82.50 65.50h6.85v7.10h-6.85zM96.20 8.70h6.85v7.10h-6.85zM96.20 22.90h6.85v7.10h-6.85z"/>
<path fill="#6c1538" d="M7.15 8.70h6.85v7.10h-6.85z"/>
<path fill="#571b57" d="M7.15 15.80h6.85v7.10h-6.85zM14.00 -5.50h6.85v7.10h-6.85zM34.55 15.80h6.85v7.10h-6.85zM48.25 15.80h6.85v7.10h-6.85zM55.10 65.50h6.85v7.10h-6.85zM68.80 8.70h6.85v7.10h-6.85zM68.80 51.30h6.85v7.10h-6.85zM75.65 58.40h6.85v7.10h-6.85zM82.50 51.30h6.85v7.10h-6.85zM96.20 51.30h6.85v7.10h-6.85zM103.05 1.60h6.85v7.10h-6.85z"/>
<path fill="#6f1739" d="M14.00 1.60h6.85v7.10h-6.85zM27.70 44.20h6.85v7.10h-6.85zM55.10 58.40h6.85v7.10h-6.85zM68.80 58.40h6.85v7.10h-6.85zM75.65 37.10h6.85v7.10h-6.85zM96.20 58.40h6.85v7.10h-6.85z"/>
<path fill="#6a1436" d="M14.00 44.20h6.85v7.10h-6.85zM27.70 15.80h6.85v7.10h-6.85zM27.70 58.40h6.85v7.10h-6.85zM82.50 1.60h6.85v7.10h-6.85zM82.50 44.20h6.85v7.10h-6.85zM96.20 15.80h6.85v7.10h-6.85z"/>
<path fill="#73183c" d="M14.00 58.40h6.85v7.10h-6.85zM27.70 1.60h6.85v7.10h-6.85zM48.25 37.10h6.85v7.10h-6.85zM75.65 -5.50h6.85v7.10h-6.85z"/>
<path fill="#701739" d="M20.85 -5.50h6.85v7.10h-6.85z"/>
<path fill="#6d1638" d="M27.70 30.00h6.85v7.10h-6.85zM41.40 30.00h6.85v7.10h-6.85z"/>
<path fill="#591b58" d="M27.70 37.10h6.85v7.10h-6.85zM34.55 58.40h6.85v7.10h-6.85zM41.40 37.10h6.85v7.10h-6.85zM41.40 65.50h6.85v7.10h-6.85zM48.25 30.00h6.85v7.10h-6.85zM48.25 44.20h6.85v7.10h-6.85zM55.10 -5.50h6.85v7.10h-6.85zM61.95 58.40h6.85v7.10h-6.85zM75.65 15.80h6.85v7.10h-6.85zM82.50 -5.50h6.85v7.10h-6.85zM89.35 15.80h6.85v7.10h-6.85z"/>
<path fill="#6e1638" d="M34.55 -5.50h6.85v7.10h-6.85zM75.65 22.90h6.85v7.10h-6.85zM82.50 30.00h6.85v7.10h-6.85zM96.20 1.60h6.85v7.10h-6.85zM103.05 51.30h6.85v7.10h-6.85z"/>
<path fill="#6d1538" d="M34.55 22.90h6.85v7.10h-6.85zM48.25 22.90h6.85v7.10h-6.85zM48.25 65.50h6.85v7.10h-6.85zM89.35 37.10h6.85v7.10h-6.85zM89.35 51.30h6.85v7.10h-6.85z"/>
<path fill="#6b1537" d="M41.40 15.80h6.85v7.10h-6.85z"/>
<path fill="#71183a" d="M55.10 30.00h6.85v7.10h-6.85zM68.80 44.20h6.85v7.10h-6.85z"/>
<path fill="#6b1436" d="M55.10 44.20h6.85v7.10h-6.85zM61.95 51.30h6.85v7.10h-6.85zM89.35 65.50h6.85v7.10h-6.85z"/>
<path fill="#73183b" d="M96.20 44.20h6.85v7.10h-6.85z"/>
<path fill="#731b3b" d="M103.05 -5.50h6.85v7.10h-6.85z"/>
<path fill="#6f1839" d="M103.05 8.70h6.85v7.10h-6.85z"/>
<path fill="#571b56" d="M103.05 15.80h6.85v7.10h-6.85z"/>
<path fill="#761c3c" d="M103.05 22.90h6.85v7.10h-6.85z"/>
<path fill="#5a1c57" d="M103.05 30.00h6.85v7.10h-6.85z"/>
<path fill="#6d1837" d="M103.05 37.10h6.85v7.10h-6.85z"/>
<path fill="#591d56" d="M103.05 44.20h6.85v7.10h-6.85z"/>
<path fill="#5a1c58" d="M103.05 58.40h6.85v7.10h-6.85z"/>
<path fill="#6e1837" d="M103.05 65.50h6.85v7.10h-6.85z"/>
<path fill="#5b1e54" d="M109.90 -5.50h6.85v7.10h-6.85z"/>
<path fill="#76233b" d="M109.90 1.60h6.85v7.10h-6.85z"/>
<path fill="#5c1e54" d="M109.90 8.70h6.85v7.10h-6.85z"/>
<path fill="#781f3b" d="M109.90 15.80h6.85v7.10h-6.85z"/>
<path fill="#611f55" d="M109.90 22.90h6.85v7.10h-6.85z"/>
<path fill="#761e39" d="M109.90 30.00h6.85v7.10h-6.85z"/>
<path fill="#5c1f56" d="M109.90 37.10h6.85v7.10h-6.85z"/>
<path fill="#781f3a" d="M109.90 44.20h6.85v7.10h-6.85z"/>
<path fill="#5d1f53" d="M109.90 51.30h6.85v7.10h-6.85z"/>
<path fill="#752339" d="M109.90 58.40h6.85v7.10h-6.85z"/>
<path fill="#5e1e56" d="M109.90 65.50h6.85v7.10h-6.85z"/>
<path fill="#7c2439" d="M116.75 -5.50h6.85v7.10h-6.85z"/>
<path fill="#632254" d="M116.75 1.60h6.85v7.10h-6.85z"/>
<path fill="#752539" d="M116.75 8.70h6.85v7.10h-6.85z"/>
<path fill="#632351" d="M116.75 15.80h6.85v7.10h-6.85z"/>
<path fill="#792c39" d="M116.75 22.90h6.85v7.10h-6.85z"/>
<path fill="#682b51" d="M116.75 30.00h6.85v7.10h-6.85z"/>
<path fill="#7d2639" d="M116.75 37.10h6.85v7.10h-6.85z"/>
<path fill="#662353" d="M116.75 44.20h6.85v7.10h-6.85z"/>
<path fill="#7d323a" d="M116.75 51.30h6.85v7.10h-6.85z"/>
<path fill="#692a52" d="M116.75 58.40h6.85v7.10h-6.85z"/>
<path fill="#7b2439" d="M116.75 65.50h6.85v7.10h-6.85z"/>
<path fill="#632652" d="M123.60 -5.50h6.85v7.10h-6.85zM123.60 51.30h6.85v7.10h-6.85z"/>
<path fill="#82393d" d="M123.60 1.60h6.85v7.10h-6.85z"/>
<path fill="#72354d" d="M123.60 8.70h6.85v7.10h-6.85z"/>
<path fill="#7d313b" d="M123.60 15.80h6.85v7.10h-6.85z"/>
<path fill="#652353" d="M123.60 22.90h6.85v7.10h-6.85z"/>
<path fill="#7e2639" d="M123.60 30.00h6.85v7.10h-6.85z"/>
<path fill="#692b52" d="M123.60 37.10h6.85v7.10h-6.85z"/>
<path fill="#8e5341" d="M123.60 44.20h6.85v7.10h-6.85z"/>
<path fill="#85453e" d="M123.60 58.40h6.85v7.10h-6.85z"/>
<path fill="#6d284e" d="M123.60 65.50h6.85v7.10h-6.85z"/>
<path fill="#86453b" d="M130.45 -5.50h6.85v7.10h-6.85z"/>
<path fill="#70294f" d="M130.45 1.60h6.85v7.10h-6.85z"/>
<path fill="#90553e" d="M130.45 8.70h6.85v7.10h-6.85z"/>
<path fill="#682a51" d="M130.45 15.80h6.85v7.10h-6.85z"/>
<path fill="#976743" d="M130.45 22.90h6.85v7.10h-6.85z"/>
<path fill="#6b2c50" d="M130.45 30.00h6.85v7.10h-6.85z"/>
<path fill="#864140" d="M130.45 37.10h6.85v7.10h-6.85z"/>
<path fill="#662451" d="M130.45 44.20h6.85v7.10h-6.85z"/>
<path fill="#8c353b" d="M130.45 51.30h6.85v7.10h-6.85z"/>
<path fill="#732c4c" d="M130.45 58.40h6.85v7.10h-6.85z"/>
<path fill="#85443a" d="M130.45 65.50h6.85v7.10h-6.85z"/>
<path fill="#692a50" d="M137.30 -5.50h6.85v7.10h-6.85z"/>
<path fill="#8c4d3d" d="M137.30 1.60h6.85v7.10h-6.85z"/>
<path fill="#692b50" d="M137.30 8.70h6.85v7.10h-6.85z"/>
<path fill="#9a693e" d="M137.30 15.80h6.85v7.10h-6.85z"/>
<path fill="#79304b" d="M137.30 22.90h6.85v7.10h-6.85z"/>
<path fill="#823e3a" d="M137.30 30.00h6.85v7.10h-6.85zM137.30 44.20h6.85v7.10h-6.85z"/>
<path fill="#854647" d="M137.30 37.10h6.85v7.10h-6.85z"/>
<path fill="#682952" d="M137.30 51.30h6.85v7.10h-6.85z"/>
<path fill="#853f3c" d="M137.30 58.40h6.85v7.10h-6.85z"/>
<path fill="#722b4d" d="M137.30 65.50h6.85v7.10h-6.85z"/>
<path fill="#96643d" d="M144.15 -5.50h6.85v7.10h-6.85z"/>
<path fill="#843646" d="M144.15 1.60h6.85v7.10h-6.85zM164.70 8.70h6.85v7.10h-6.85z"/>
<path fill="#a17c45" d="M144.15 8.70h6.85v7.10h-6.85z"/>
<path fill="#834548" d="M144.15 15.80h6.85v7.10h-6.85z"/>
<path fill="#87443d" d="M144.15 22.90h6.85v7.10h-6.85z"/>
<path fill="#74344c" d="M144.15 30.00h6.85v7.10h-6.85z"/>
<path fill="#8b4e3c" d="M144.15 37.10h6.85v7.10h-6.85z"/>
<path fill="#7b3b4c" d="M144.15 44.20h6.85v7.10h-6.85z"/>
<path fill="#89483c" d="M144.15 51.30h6.85v7.10h-6.85z"/>
<path fill="#732b4e" d="M144.15 58.40h6.85v7.10h-6.85z"/>
<path fill="#a0733f" d="M144.15 65.50h6.85v7.10h-6.85z"/>
<path fill="#813547" d="M151.00 -5.50h6.85v7.10h-6.85zM151.00 37.10h6.85v7.10h-6.85zM151.00 51.30h6.85v7.10h-6.85z"/>
<path fill="#90553d" d="M151.00 1.60h6.85v7.10h-6.85z"/>
<path fill="#7a304a" d="M151.00 8.70h6.85v7.10h-6.85z"/>
<path fill="#a37b3f" d="M151.00 15.80h6.85v7.10h-6.85z"/>
<path fill="#75354c" d="M151.00 22.90h6.85v7.10h-6.85zM151.00 65.50h6.85v7.10h-6.85zM157.85 15.80h6.85v7.10h-6.85z"/>
<path fill="#9a6a3e" d="M151.00 30.00h6.85v7.10h-6.85zM164.70 1.60h6.85v7.10h-6.85zM171.55 22.90h6.85v7.10h-6.85z"/>
<path fill="#a88440" d="M151.00 44.20h6.85v7.10h-6.85z"/>
<path fill="#9a443b" d="M151.00 58.40h6.85v7.10h-6.85z"/>
<path fill="#8c503c" d="M157.85 -5.50h6.85v7.10h-6.85z"/>
<path fill="#965641" d="M157.85 1.60h6.85v7.10h-6.85z"/>
<path fill="#8e373b" d="M157.85 8.70h6.85v7.10h-6.85z"/>
<path fill="#98663e" d="M157.85 22.90h6.85v7.10h-6.85z"/>
<path fill="#8d4e44" d="M157.85 30.00h6.85v7.10h-6.85z"/>
<path fill="#a04a3c" d="M157.85 37.10h6.85v7.10h-6.85zM164.70 44.20h6.85v7.10h-6.85zM171.55 -5.50h6.85v7.10h-6.85zM171.55 65.50h6.85v7.10h-6.85z"/>
<path fill="#834448" d="M157.85 44.20h6.85v7.10h-6.85z"/>
<path fill="#9d6f3f" d="M157.85 51.30h6.85v7.10h-6.85z"/>
<path fill="#78384b" d="M157.85 58.40h6.85v7.10h-6.85z"/>
<path fill="#ae9547" d="M157.85 65.50h6.85v7.10h-6.85z"/>
<path fill="#995a40" d="M164.70 -5.50h6.85v7.10h-6.85z"/>
<path fill="#9a443c" d="M164.70 15.80h6.85v7.10h-6.85zM171.55 51.30h6.85v7.10h-6.85z"/>
<path fill="#72334d" d="M164.70 22.90h6.85v7.10h-6.85z"/>
<path fill="#9a6e43" d="M164.70 30.00h6.85v7.10h-6.85z"/>
<path fill="#9a5a40" d="M164.70 37.10h6.85v7.10h-6.85zM164.70 65.50h6.85v7.10h-6.85z"/>
<path fill="#844548" d="M164.70 51.30h6.85v7.10h-6.85z"/>
<path fill="#a38145" d="M164.70 58.40h6.85v7.10h-6.85z"/>
<path fill="#73344c" d="M171.55 1.60h6.85v7.10h-6.85z"/>
<path fill="#966642" d="M171.55 8.70h6.85v7.10h-6.85z"/>
<path fill="#6e2f4f" d="M171.55 15.80h6.85v7.10h-6.85z"/>
<path fill="#833647" d="M171.55 30.00h6.85v7.10h-6.85z"/>
<path fill="#ac9147" d="M171.55 37.10h6.85v7.10h-6.85z"/>
<path fill="#863845" d="M171.55 44.20h6.85v7.10h-6.85z"/>
<path fill="#935342" d="M171.55 58.40h6.85v7.10h-6.85z"/>
<rect width="192.4" height="65.5" fill="url(#chk2)" fill-opacity="0.35"/>
</g>
<line x1="0" y1="24.5" x2="80" y2="24.5" stroke="#2a2aa0" stroke-width="0.8" stroke-opacity="0.5"/>
<line x1="0" y1="31" x2="80" y2="31" stroke="#2a2aa0" stroke-width="0.8" stroke-opacity="0.5"/>
<line x1="0" y1="33" x2="80" y2="33" stroke="#2a2aa0" stroke-width="0.8" stroke-opacity="0.5"/>
<line x1="0" y1="40" x2="80" y2="40" stroke="#2a2aa0" stroke-width="0.8" stroke-opacity="0.5"/>
<line x1="0" y1="47" x2="80" y2="47" stroke="#2a2aa0" stroke-width="0.8" stroke-opacity="0.5"/>
<line x1="0" y1="50" x2="80" y2="50" stroke="#2a2aa0" stroke-width="0.8" stroke-opacity="0.5"/>
<line x1="0" y1="52.5" x2="80" y2="52.5" stroke="#2a2aa0" stroke-width="0.8" stroke-opacity="0.5"/>
<line x1="0" y1="61.5" x2="80" y2="61.5" stroke="#2a2aa0" stroke-width="0.8" stroke-opacity="0.5"/>
<line x1="0" y1="12.4" x2="38" y2="12.4" stroke="#2030b0" stroke-width="0.7" stroke-opacity="0.9"/>
<line x1="38" y1="12.4" x2="90" y2="12.4" stroke="#c0a040" stroke-width="0.6" stroke-opacity="0.6" stroke-dasharray="2,1.5"/>
<line x1="168" y1="12.4" x2="192.4" y2="12.4" stroke="#b02a30" stroke-width="0.6" stroke-opacity="0.9" stroke-dasharray="2,1.5"/>
<line x1="0" y1="19.5" x2="38" y2="19.5" stroke="#2030b0" stroke-width="0.7" stroke-opacity="0.9"/>
<line x1="38" y1="19.5" x2="90" y2="19.5" stroke="#c0a040" stroke-width="0.6" stroke-opacity="0.6" stroke-dasharray="2,1.5"/>
<line x1="168" y1="19.5" x2="192.4" y2="19.5" stroke="#b02a30" stroke-width="0.6" stroke-opacity="0.9" stroke-dasharray="2,1.5"/>
<line x1="0" y1="28.7" x2="38" y2="28.7" stroke="#2030b0" stroke-width="0.7" stroke-opacity="0.9"/>
<line x1="38" y1="28.7" x2="90" y2="28.7" stroke="#c0a040" stroke-width="0.6" stroke-opacity="0.6" stroke-dasharray="2,1.5"/>
<line x1="168" y1="28.7" x2="192.4" y2="28.7" stroke="#b02a30" stroke-width="0.6" stroke-opacity="0.9" stroke-dasharray="2,1.5"/>
<line x1="0" y1="36.2" x2="38" y2="36.2" stroke="#2030b0" stroke-width="0.7" stroke-opacity="0.9"/>
<line x1="38" y1="36.2" x2="90" y2="36.2" stroke="#c0a040" stroke-width="0.6" stroke-opacity="0.6" stroke-dasharray="2,1.5"/>
<line x1="168" y1="36.2" x2="192.4" y2="36.2" stroke="#b02a30" stroke-width="0.6" stroke-opacity="0.9" stroke-dasharray="2,1.5"/>
<line x1="0" y1="43.2" x2="38" y2="43.2" stroke="#2030b0" stroke-width="0.7" stroke-opacity="0.9"/>
<line x1="38" y1="43.2" x2="90" y2="43.2" stroke="#c0a040" stroke-width="0.6" stroke-opacity="0.6" stroke-dasharray="2,1.5"/>
<line x1="168" y1="43.2" x2="192.4" y2="43.2" stroke="#b02a30" stroke-width="0.6" stroke-opacity="0.9" stroke-dasharray="2,1.5"/>
<line x1="0" y1="57.1" x2="38" y2="57.1" stroke="#2030b0" stroke-width="0.7" stroke-opacity="0.9"/>
<line x1="38" y1="57.1" x2="90" y2="57.1" stroke="#c0a040" stroke-width="0.6" stroke-opacity="0.6" stroke-dasharray="2,1.5"/>
<line x1="168" y1="57.1" x2="192.4" y2="57.1" stroke="#b02a30" stroke-width="0.6" stroke-opacity="0.9" stroke-dasharray="2,1.5"/>
<polygon points="94.2,31.7 94.79,33.39 96.58,33.43 95.15,34.51 95.67,36.22 94.2,35.2 92.73,36.22 93.25,34.51 91.82,33.43 93.61,33.39" fill="#fff"/>
<polygon points="101.22,31.7 101.81,33.39 103.6,33.43 102.17,34.51 102.69,36.22 101.22,35.2 99.75,36.22 100.27,34.51 98.84,33.43 100.63,33.39" fill="#fff"/>
<polygon points="108.24,31.7 108.83,33.39 110.62,33.43 109.19,34.51 109.71,36.22 108.24,35.2 106.77,36.22 107.29,34.51 105.86,33.43 107.65,33.39" fill="#fff"/>
<polygon points="115.26,31.7 115.85,33.39 117.64,33.43 116.21,34.51 116.73,36.22 115.26,35.2 113.79,36.22 114.31,34.51 112.88,33.43 114.67,33.39" fill="#fff"/>
<polygon points="122.28,31.7 122.87,33.39 124.66,33.43 123.23,34.51 123.75,36.22 122.28,35.2 120.81,36.22 121.33,34.51 119.9,33.43 121.69,33.39" fill="#fff"/>
<polygon points="129.3,31.7 129.89,33.39 131.68,33.43 130.25,34.51 130.77,36.22 129.3,35.2 127.83,36.22 128.35,34.51 126.92,33.43 128.71,33.39" fill="#fff"/>
<polygon points="136.32,31.7 136.91,33.39 138.7,33.43 137.27,34.51 137.79,36.22 136.32,35.2 134.85,36.22 135.37,34.51 133.94,33.43 135.73,33.39" fill="#fff"/>
<polygon points="143.34,31.7 143.93,33.39 145.72,33.43 144.29,34.51 144.81,36.22 143.34,35.2 141.87,36.22 142.39,34.51 140.96,33.43 142.75,33.39" fill="#fff"/>
<polygon points="150.36,31.7 150.95,33.39 152.74,33.43 151.31,34.51 151.83,36.22 150.36,35.2 148.89,36.22 149.41,34.51 147.98,33.43 149.77,33.39" fill="#fff"/>
<polygon points="157.38,31.7 157.97,33.39 159.76,33.43 158.33,34.51 158.85,36.22 157.38,35.2 155.91,36.22 156.43,34.51 155,33.43 156.79,33.39" fill="#fff"/>
<polygon points="164.4,31.7 164.99,33.39 166.78,33.43 165.35,34.51 165.87,36.22 164.4,35.2 162.93,36.22 163.45,34.51 162.02,33.43 163.81,33.39" fill="#fff"/>
</g></g>
<rect x="507.0" y="565.0" width="192.4" height="65.5" fill="none" stroke="#222" stroke-width="0.6"/>
<g stroke="#222" stroke-width="0.7">
<line x1="507.4" y1="630.5" x2="507.4" y2="633.0"/>
<line x1="542.7" y1="630.5" x2="542.7" y2="633.0"/>
<line x1="578.1" y1="630.5" x2="578.1" y2="633.0"/>
<line x1="613.5" y1="630.5" x2="613.5" y2="633.0"/>
<line x1="648.8" y1="630.5" x2="648.8" y2="633.0"/>
<line x1="684.2" y1="630.5" x2="684.2" y2="633.0"/>
<line x1="504.5" y1="565.4" x2="507.0" y2="565.4"/>
<line x1="504.5" y1="583.0" x2="507.0" y2="583.0"/>
<line x1="504.5" y1="600.7" x2="507.0" y2="600.7"/>
<line x1="504.5" y1="618.4" x2="507.0" y2="618.4"/>
</g>
<text x="507.4" y="643.5" text-anchor="middle" font-size="8.1">0</text>
<text x="542.7" y="643.5" text-anchor="middle" font-size="8.1">50</text>
<text x="578.1" y="643.5" text-anchor="middle" font-size="8.1">100</text>
<text x="613.5" y="643.5" text-anchor="middle" font-size="8.1">150</text>
<text x="648.8" y="643.5" text-anchor="middle" font-size="8.1">200</text>
<text x="684.2" y="643.5" text-anchor="middle" font-size="8.1">250</text>
<text x="502.7" y="568.3" text-anchor="end" font-size="8.1">0</text>
<text x="502.7" y="585.9" text-anchor="end" font-size="8.1">25</text>
<text x="502.7" y="603.6" text-anchor="end" font-size="8.1">50</text>
<text x="502.7" y="621.3" text-anchor="end" font-size="8.1">75</text>
<text x="603.2" y="652.8" text-anchor="middle" font-size="8.1">x position (px)</text>
<text transform="translate(491.0 598.9) rotate(-90)" text-anchor="middle" font-size="8.1">y position (px)</text>
<text x="693.7" y="562.0" text-anchor="end" font-size="7.2">Fe distribution</text>
</svg></body></html>
